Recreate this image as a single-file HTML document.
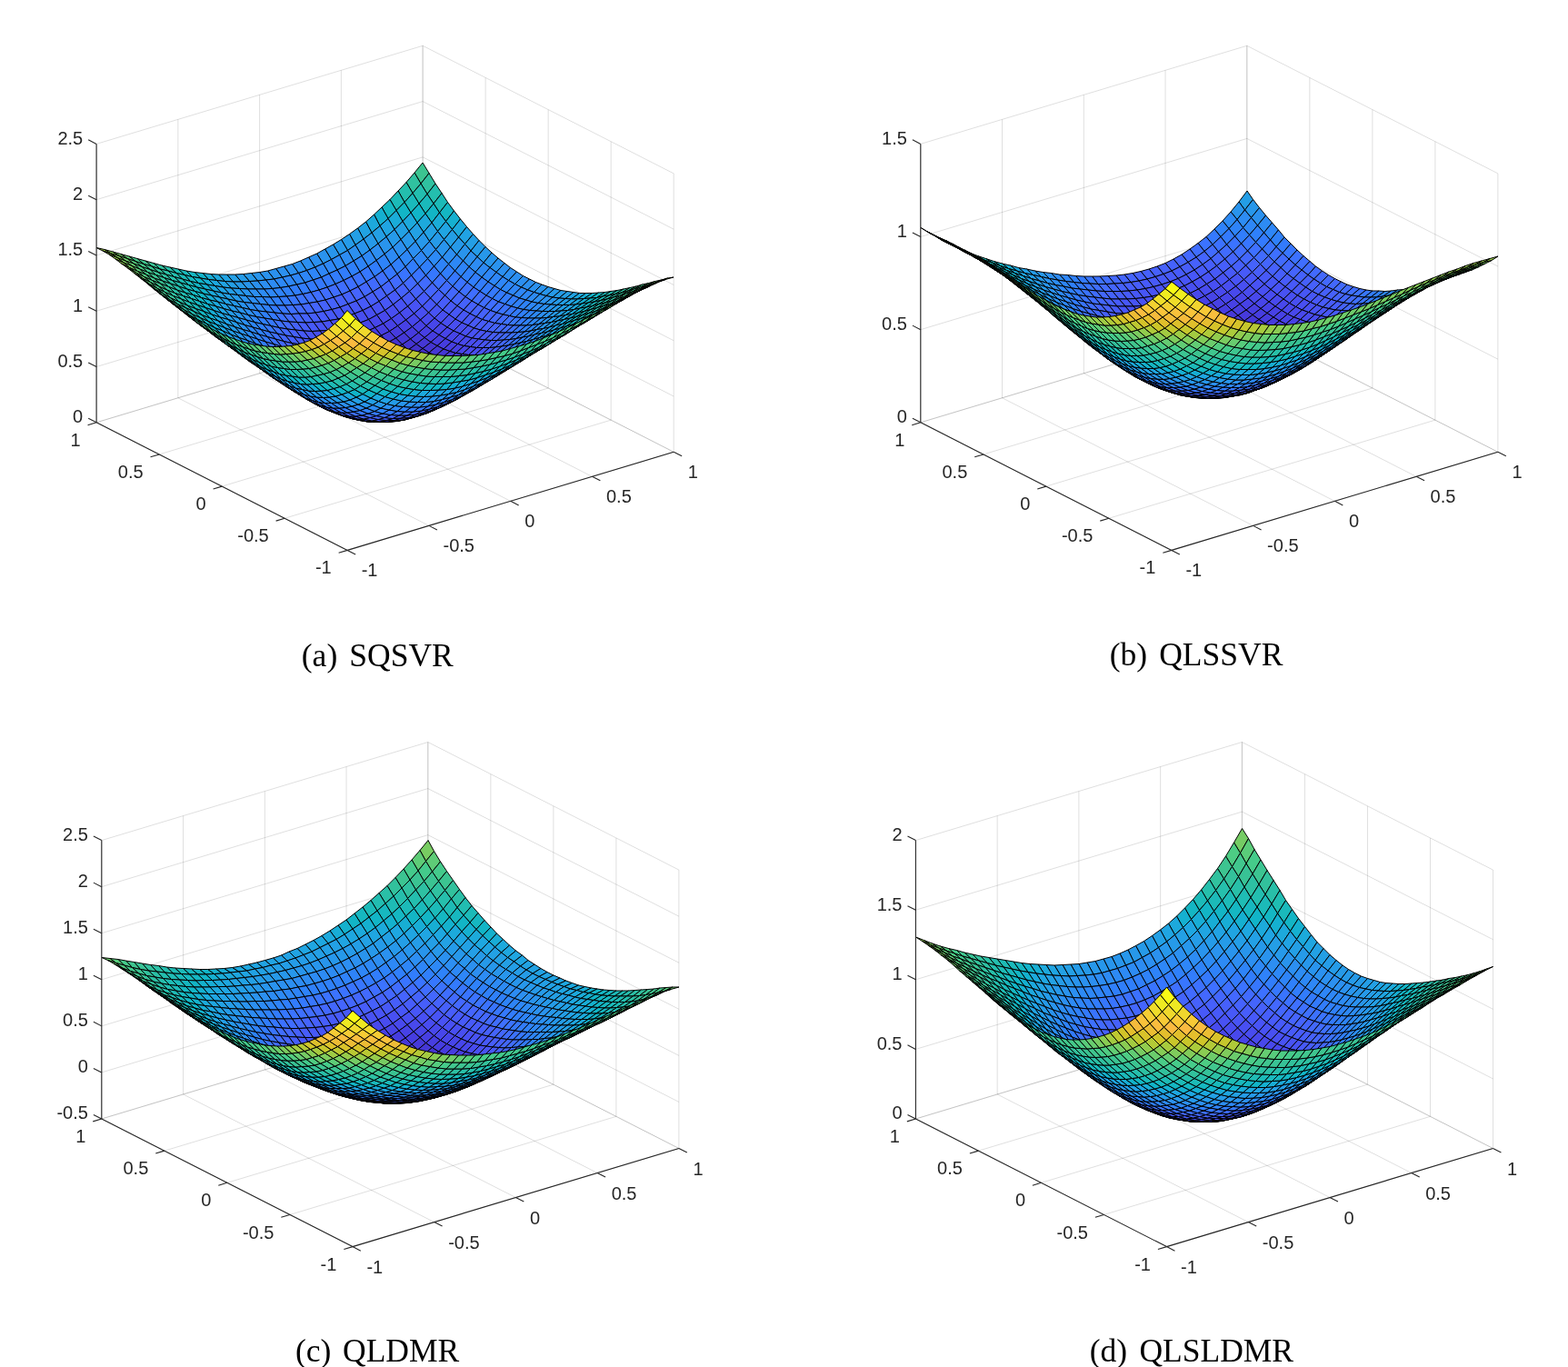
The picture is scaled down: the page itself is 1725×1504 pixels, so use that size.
<!DOCTYPE html>
<html><head><meta charset="utf-8"><title>Surface regression results</title>
<style>
html,body{margin:0;padding:0;background:#fff;width:1725px;height:1504px;overflow:hidden}
svg{display:block}
.c0{fill:#3e26a8}
.c1{fill:#3e27ac}
.c2{fill:#3f28af}
.c3{fill:#3f29b2}
.c4{fill:#402ab4}
.c5{fill:#402bb7}
.c6{fill:#412cba}
.c7{fill:#412dbd}
.c8{fill:#422ebf}
.c9{fill:#422fc2}
.c10{fill:#4330c5}
.c11{fill:#4331c8}
.c12{fill:#4332ca}
.c13{fill:#4433cd}
.c14{fill:#4434d0}
.c15{fill:#4535d2}
.c16{fill:#4537d5}
.c17{fill:#4538d7}
.c18{fill:#4639d9}
.c19{fill:#463adc}
.c20{fill:#463bde}
.c21{fill:#463de0}
.c22{fill:#473ee1}
.c23{fill:#473fe3}
.c24{fill:#4741e5}
.c25{fill:#4742e6}
.c26{fill:#4744e8}
.c27{fill:#4745e9}
.c28{fill:#4746eb}
.c29{fill:#4848ec}
.c30{fill:#4849ed}
.c31{fill:#484bee}
.c32{fill:#484cf0}
.c33{fill:#484ef1}
.c34{fill:#484ff2}
.c35{fill:#4850f3}
.c36{fill:#4852f4}
.c37{fill:#4853f5}
.c38{fill:#4854f6}
.c39{fill:#4756f7}
.c40{fill:#4757f7}
.c41{fill:#4759f8}
.c42{fill:#475af9}
.c43{fill:#475bfa}
.c44{fill:#475dfa}
.c45{fill:#465efb}
.c46{fill:#4660fb}
.c47{fill:#4661fc}
.c48{fill:#4562fc}
.c49{fill:#4564fd}
.c50{fill:#4465fd}
.c51{fill:#4367fd}
.c52{fill:#4368fe}
.c53{fill:#426afe}
.c54{fill:#416bfe}
.c55{fill:#406dfe}
.c56{fill:#3f6eff}
.c57{fill:#3e70ff}
.c58{fill:#3c71ff}
.c59{fill:#3b73ff}
.c60{fill:#3974ff}
.c61{fill:#3876fe}
.c62{fill:#3677fe}
.c63{fill:#3579fd}
.c64{fill:#337afd}
.c65{fill:#327cfc}
.c66{fill:#317dfc}
.c67{fill:#307ffb}
.c68{fill:#2f80fa}
.c69{fill:#2f82fa}
.c70{fill:#2e83f9}
.c71{fill:#2e84f8}
.c72{fill:#2e86f8}
.c73{fill:#2e87f7}
.c74{fill:#2d88f6}
.c75{fill:#2d8af5}
.c76{fill:#2d8bf4}
.c77{fill:#2d8cf3}
.c78{fill:#2d8ef2}
.c79{fill:#2c8ff1}
.c80{fill:#2c90f0}
.c81{fill:#2b91ef}
.c82{fill:#2a93ee}
.c83{fill:#2994ed}
.c84{fill:#2895ec}
.c85{fill:#2797eb}
.c86{fill:#2798ea}
.c87{fill:#2699e9}
.c88{fill:#269ae8}
.c89{fill:#259be8}
.c90{fill:#259ce7}
.c91{fill:#249ee6}
.c92{fill:#249fe5}
.c93{fill:#23a0e5}
.c94{fill:#23a1e4}
.c95{fill:#22a2e4}
.c96{fill:#21a3e3}
.c97{fill:#20a5e2}
.c98{fill:#1fa6e1}
.c99{fill:#1ea7e0}
.c100{fill:#1da8de}
.c101{fill:#1da9dc}
.c102{fill:#1caadb}
.c103{fill:#1aacd8}
.c104{fill:#18add5}
.c105{fill:#17aed3}
.c106{fill:#15b0d0}
.c107{fill:#14b1cd}
.c108{fill:#12b3ca}
.c109{fill:#11b4c8}
.c110{fill:#12b5c6}
.c111{fill:#13b5c5}
.c112{fill:#14b6c3}
.c113{fill:#15b7c2}
.c114{fill:#16b7c0}
.c115{fill:#17b8bf}
.c116{fill:#19b8bd}
.c117{fill:#1ab9bb}
.c118{fill:#1bbaba}
.c119{fill:#1cbab8}
.c120{fill:#1dbbb7}
.c121{fill:#1ebbb5}
.c122{fill:#1fbcb4}
.c123{fill:#20bdb2}
.c124{fill:#22bdb1}
.c125{fill:#23beaf}
.c126{fill:#24beae}
.c127{fill:#26bfac}
.c128{fill:#27bfaa}
.c129{fill:#28bfa8}
.c130{fill:#2abfa7}
.c131{fill:#2bc0a5}
.c132{fill:#2dc0a3}
.c133{fill:#2ec0a2}
.c134{fill:#30c1a0}
.c135{fill:#31c19e}
.c136{fill:#32c19c}
.c137{fill:#34c19b}
.c138{fill:#35c299}
.c139{fill:#37c297}
.c140{fill:#38c295}
.c141{fill:#3ac394}
.c142{fill:#3bc392}
.c143{fill:#3cc491}
.c144{fill:#3dc490}
.c145{fill:#3fc58f}
.c146{fill:#40c68e}
.c147{fill:#41c78e}
.c148{fill:#42c88d}
.c149{fill:#43c98c}
.c150{fill:#44ca8b}
.c151{fill:#45cb8a}
.c152{fill:#46cc8a}
.c153{fill:#4acc87}
.c154{fill:#4dcc84}
.c155{fill:#50cc82}
.c156{fill:#54cc7f}
.c157{fill:#57cc7c}
.c158{fill:#5acc7a}
.c159{fill:#5ecc77}
.c160{fill:#61cc74}
.c161{fill:#65cc72}
.c162{fill:#68cc6f}
.c163{fill:#6bcc6c}
.c164{fill:#6ecc6a}
.c165{fill:#72cc67}
.c166{fill:#75cc64}
.c167{fill:#78cc62}
.c168{fill:#7bcc5f}
.c169{fill:#7fcc5c}
.c170{fill:#82cc59}
.c171{fill:#86cc56}
.c172{fill:#8acc53}
.c173{fill:#8ecc50}
.c174{fill:#92cc4d}
.c175{fill:#96cb4a}
.c176{fill:#9acb47}
.c177{fill:#9fcb44}
.c178{fill:#a3cb41}
.c179{fill:#a7cb3e}
.c180{fill:#abcb3b}
.c181{fill:#afca39}
.c182{fill:#b3ca37}
.c183{fill:#b6c935}
.c184{fill:#bac933}
.c185{fill:#bec831}
.c186{fill:#c2c82e}
.c187{fill:#c6c72c}
.c188{fill:#c9c62a}
.c189{fill:#cdc628}
.c190{fill:#cfc529}
.c191{fill:#d2c429}
.c192{fill:#d4c32a}
.c193{fill:#d6c32a}
.c194{fill:#d9c22a}
.c195{fill:#dbc12b}
.c196{fill:#ddc02b}
.c197{fill:#e0bf2c}
.c198{fill:#e2bf2c}
.c199{fill:#e4be2d}
.c200{fill:#e6be2f}
.c201{fill:#e9bd31}
.c202{fill:#ebbd33}
.c203{fill:#edbc35}
.c204{fill:#efbc37}
.c205{fill:#f1bc38}
.c206{fill:#f4bb3a}
.c207{fill:#f6bb3c}
.c208{fill:#f8ba3e}
.c209{fill:#faba40}
.c210{fill:#fabc3f}
.c211{fill:#fabd3e}
.c212{fill:#f9be3d}
.c213{fill:#f9c03c}
.c214{fill:#f9c13b}
.c215{fill:#f9c23b}
.c216{fill:#f9c43a}
.c217{fill:#f9c539}
.c218{fill:#f8c638}
.c219{fill:#f8c837}
.c220{fill:#f8c936}
.c221{fill:#f7ca36}
.c222{fill:#f6cc35}
.c223{fill:#f5cd34}
.c224{fill:#f5ce33}
.c225{fill:#f4d032}
.c226{fill:#f3d131}
.c227{fill:#f3d230}
.c228{fill:#f2d42f}
.c229{fill:#f1d52e}
.c230{fill:#f0d62d}
.c231{fill:#f0d82c}
.c232{fill:#f0d92c}
.c233{fill:#f0db2b}
.c234{fill:#efdc2a}
.c235{fill:#efdd29}
.c236{fill:#efdf28}
.c237{fill:#efe027}
.c238{fill:#efe227}
.c239{fill:#eee326}
.c240{fill:#eee525}
.c241{fill:#eee624}
.c242{fill:#eee823}
.c243{fill:#efe922}
.c244{fill:#efeb21}
.c245{fill:#f0ec20}
.c246{fill:#f1ee1f}
.c247{fill:#f2ef1e}
.c248{fill:#f3f11c}
.c249{fill:#f4f21b}
.c250{fill:#f5f41a}
.c251{fill:#f6f519}
.c252{fill:#f6f618}
.c253{fill:#f7f817}
.c254{fill:#f8f916}
.c255{fill:#f9fb15}
</style></head><body>
<svg xmlns="http://www.w3.org/2000/svg" width="1725" height="1504" viewBox="0 0 1725 1504" shape-rendering="auto">
<rect width="1725" height="1504" fill="#fff"/>
<!-- subplot a -->
<g stroke="#262626" stroke-opacity="0.15" stroke-width="1">
<line x1="106.10" y1="464.80" x2="106.10" y2="158.40"/>
<line x1="195.85" y1="437.77" x2="195.85" y2="131.38"/>
<line x1="285.60" y1="410.75" x2="285.60" y2="104.35"/>
<line x1="375.35" y1="383.73" x2="375.35" y2="77.33"/>
<line x1="465.10" y1="356.70" x2="465.10" y2="50.30"/>
<line x1="106.10" y1="464.80" x2="465.10" y2="356.70"/>
<line x1="106.10" y1="403.52" x2="465.10" y2="295.42"/>
<line x1="106.10" y1="342.24" x2="465.10" y2="234.14"/>
<line x1="106.10" y1="280.96" x2="465.10" y2="172.86"/>
<line x1="106.10" y1="219.68" x2="465.10" y2="111.58"/>
<line x1="106.10" y1="158.40" x2="465.10" y2="50.30"/>
<line x1="741.20" y1="497.30" x2="741.20" y2="190.90"/>
<line x1="672.18" y1="462.15" x2="672.18" y2="155.75"/>
<line x1="603.15" y1="427.00" x2="603.15" y2="120.60"/>
<line x1="534.13" y1="391.85" x2="534.13" y2="85.45"/>
<line x1="465.10" y1="356.70" x2="465.10" y2="50.30"/>
<line x1="741.20" y1="497.30" x2="465.10" y2="356.70"/>
<line x1="741.20" y1="436.02" x2="465.10" y2="295.42"/>
<line x1="741.20" y1="374.74" x2="465.10" y2="234.14"/>
<line x1="741.20" y1="313.46" x2="465.10" y2="172.86"/>
<line x1="741.20" y1="252.18" x2="465.10" y2="111.58"/>
<line x1="741.20" y1="190.90" x2="465.10" y2="50.30"/>
<line x1="382.20" y1="605.40" x2="106.10" y2="464.80"/>
<line x1="471.95" y1="578.38" x2="195.85" y2="437.77"/>
<line x1="561.70" y1="551.35" x2="285.60" y2="410.75"/>
<line x1="651.45" y1="524.33" x2="375.35" y2="383.73"/>
<line x1="741.20" y1="497.30" x2="465.10" y2="356.70"/>
<line x1="382.20" y1="605.40" x2="741.20" y2="497.30"/>
<line x1="313.18" y1="570.25" x2="672.18" y2="462.15"/>
<line x1="244.15" y1="535.10" x2="603.15" y2="427.00"/>
<line x1="175.13" y1="499.95" x2="534.13" y2="391.85"/>
<line x1="106.10" y1="464.80" x2="465.10" y2="356.70"/>
</g>
<g transform="scale(0.5)" stroke="#000" stroke-width="2.00" stroke-linejoin="round">
<path class="c143" d="M926 404l18-23-14-23-18 22z"/>
<path class="c134" d="M908 425l18-21-14-24-18 21z"/>
<path class="c134" d="M940 427l18-23-14-23-18 23z"/>
<path class="c126" d="M890 445l18-20-14-24-18 19z"/>
<path class="c125" d="M922 448l18-21-14-23-18 21z"/>
<path class="c126" d="M954 448l18-23-14-21-18 23z"/>
<path class="c119" d="M872 463l18-18-14-25-18 19z"/>
<path class="c117" d="M904 468l18-20-14-23-18 20z"/>
<path class="c117" d="M936 470l18-22-14-21-18 21z"/>
<path class="c112" d="M854 481l18-18-14-24-18 17z"/>
<path class="c119" d="M967 468l18-23-13-20-18 23z"/>
<path class="c110" d="M886 487l18-19-14-23-18 18z"/>
<path class="c109" d="M918 490l18-20-14-22-18 20z"/>
<path class="c106" d="M836 497l18-16-14-25-17 16z"/>
<path class="c110" d="M950 490l17-22-13-20-18 22z"/>
<path class="c103" d="M868 505l18-18-14-24-18 18z"/>
<path class="c112" d="M981 487l18-23-14-19-18 23z"/>
<path class="c101" d="M900 509l18-19-14-22-18 19z"/>
<path class="c101" d="M932 511l18-21-14-20-18 20z"/>
<path class="c101" d="M818 512l18-15-13-25-18 16z"/>
<path class="c97" d="M850 521l18-16-14-24-18 16z"/>
<path class="c103" d="M963 509l18-22-14-19-17 22z"/>
<path class="c94" d="M882 527l18-18-14-22-18 18z"/>
<path class="c106" d="M995 505l18-23-14-18-18 23z"/>
<path class="c94" d="M914 531l18-20-14-21-18 19z"/>
<path class="c96" d="M800 526l18-14-13-24-18 14z"/>
<path class="c94" d="M945 531l18-22-13-19-18 21z"/>
<path class="c92" d="M832 536l18-15-14-24-18 15z"/>
<path class="c88" d="M864 544l18-17-14-22-18 16z"/>
<path class="c97" d="M977 527l18-22-14-18-18 22z"/>
<path class="c86" d="M896 549l18-18-14-22-18 18z"/>
<path class="c92" d="M782 539l18-13-13-24-18 13z"/>
<path class="c86" d="M927 551l18-20-13-20-18 20z"/>
<path class="c101" d="M1009 522l18-23-14-17-18 23z"/>
<path class="c87" d="M814 550l18-14-14-24-18 14z"/>
<path class="c83" d="M846 559l18-15-14-23-18 15z"/>
<path class="c88" d="M959 549l18-22-14-18-18 22z"/>
<path class="c80" d="M878 566l18-17-14-22-18 17z"/>
<path class="c92" d="M991 544l18-22-14-17-18 22z"/>
<path class="c79" d="M909 569l18-18-13-20-18 18z"/>
<path class="c89" d="M765 551l17-12-13-24-18 12z"/>
<path class="c83" d="M796 563l18-13-14-24-18 13z"/>
<path class="c80" d="M941 569l18-20-14-18-18 20z"/>
<path class="c78" d="M828 573l18-14-14-23-18 14z"/>
<path class="c96" d="M1023 537l18-22-14-16-18 23z"/>
<path class="c75" d="M860 582l18-16-14-22-18 15z"/>
<path class="c83" d="M973 566l18-22-14-17-18 22z"/>
<path class="c73" d="M892 587l17-18-13-20-18 17z"/>
<path class="c86" d="M747 561l18-10-14-24-18 11z"/>
<path class="c80" d="M778 574l18-11-14-24-17 12z"/>
<path class="c73" d="M923 588l18-19-14-18-18 18z"/>
<path class="c87" d="M1005 560l18-23-14-15-18 22z"/>
<path class="c74" d="M810 586l18-13-14-23-18 13z"/>
<path class="c70" d="M842 596l18-14-14-23-18 14z"/>
<path class="c75" d="M955 586l18-20-14-17-18 20z"/>
<path class="c92" d="M1036 552l18-23-13-14-18 22z"/>
<path class="c67" d="M874 603l18-16-14-21-18 16z"/>
<path class="c78" d="M987 581l18-21-14-16-18 22z"/>
<path class="c84" d="M729 571l18-10-14-23-18 10z"/>
<path class="c66" d="M905 606l18-18-14-19-17 18z"/>
<path class="c77" d="M760 585l18-11-13-23-18 10z"/>
<path class="c71" d="M792 598l18-12-14-23-18 11z"/>
<path class="c67" d="M937 606l18-20-14-17-18 19z"/>
<path class="c66" d="M824 609l18-13-14-23-18 13z"/>
<path class="c83" d="M1019 574l17-22-13-15-18 23z"/>
<path class="c62" d="M856 617l18-14-14-21-18 14z"/>
<path class="c70" d="M969 602l18-21-14-15-18 20z"/>
<path class="c60" d="M887 623l18-17-13-19-18 16z"/>
<path class="c89" d="M1050 565l18-22-14-14-18 23z"/>
<path class="c82" d="M711 580l18-9-14-23-18 10z"/>
<path class="c75" d="M742 594l18-9-13-24-18 10z"/>
<path class="c60" d="M919 624l18-18-14-18-18 18z"/>
<path class="c74" d="M1001 596l18-22-14-14-18 21z"/>
<path class="c68" d="M774 608l18-10-14-24-18 11z"/>
<path class="c62" d="M806 620l18-11-14-23-18 12z"/>
<path class="c57" d="M838 631l18-14-14-21-18 13z"/>
<path class="c62" d="M951 622l18-20-14-16-18 20z"/>
<path class="c80" d="M1032 587l18-22-14-13-17 22z"/>
<path class="c54" d="M869 638l18-15-13-20-18 14z"/>
<path class="c80" d="M693 588l18-8-14-22-18 8z"/>
<path class="c66" d="M983 617l18-21-14-15-18 21z"/>
<path class="c53" d="M901 641l18-17-14-18-18 17z"/>
<path class="c73" d="M724 602l18-8-13-23-18 9z"/>
<path class="c86" d="M1064 578l18-22-14-13-18 22z"/>
<path class="c66" d="M756 617l18-9-14-23-18 9z"/>
<path class="c59" d="M788 631l18-11-14-22-18 10z"/>
<path class="c54" d="M933 641l18-19-14-16-18 18z"/>
<path class="c71" d="M1014 609l18-22-13-13-18 22z"/>
<path class="c54" d="M820 642l18-11-14-22-18 11z"/>
<path class="c50" d="M851 651l18-13-13-21-18 14z"/>
<path class="c57" d="M965 637l18-20-14-15-18 20z"/>
<path class="c48" d="M883 656l18-15-14-18-18 15z"/>
<path class="c77" d="M1046 599l18-21-14-13-18 22z"/>
<path class="c79" d="M675 595l18-7-14-22-18 8z"/>
<path class="c72" d="M707 610l17-8-13-22-18 8z"/>
<path class="c65" d="M738 625l18-8-14-23-18 8z"/>
<path class="c48" d="M915 658l18-17-14-17-18 17z"/>
<path class="c62" d="M996 630l18-21-13-13-18 21z"/>
<path class="c57" d="M770 640l18-9-14-23-18 9z"/>
<path class="c51" d="M802 653l18-11-14-22-18 11z"/>
<path class="c84" d="M1078 589l18-21-14-12-18 22z"/>
<path class="c46" d="M834 663l17-12-13-20-18 11z"/>
<path class="c50" d="M947 656l18-19-14-15-18 19z"/>
<path class="c68" d="M1028 621l18-22-14-12-18 22z"/>
<path class="c43" d="M865 670l18-14-14-18-18 13z"/>
<path class="c79" d="M657 601l18-6-14-21-18 7z"/>
<path class="c54" d="M979 650l17-20-13-13-18 20z"/>
<path class="c72" d="M689 616l18-6-14-22-18 7z"/>
<path class="c42" d="M897 674l18-16-14-17-18 15z"/>
<path class="c64" d="M720 632l18-7-14-23-17 8z"/>
<path class="c75" d="M1060 610l18-21-14-11-18 21z"/>
<path class="c56" d="M752 648l18-8-14-23-18 8z"/>
<path class="c49" d="M784 662l18-9-14-22-18 9z"/>
<path class="c43" d="M929 674l18-18-14-15-18 17z"/>
<path class="c59" d="M1010 642l18-21-14-12-18 21z"/>
<path class="c44" d="M816 674l18-11-14-21-18 11z"/>
<path class="c82" d="M1092 599l18-20-14-11-18 21z"/>
<path class="c40" d="M847 683l18-13-14-19-17 12z"/>
<path class="c46" d="M961 670l18-20-14-13-18 19z"/>
<path class="c37" d="M879 688l18-14-14-18-18 14z"/>
<path class="c66" d="M1042 632l18-22-14-11-18 22z"/>
<path class="c79" d="M639 606l18-5-14-20-18 5z"/>
<path class="c72" d="M671 622l18-6-14-21-18 6z"/>
<path class="c63" d="M702 638l18-6-13-22-18 6z"/>
<path class="c55" d="M734 654l18-6-14-23-18 7z"/>
<path class="c51" d="M992 662l18-20-14-12-17 20z"/>
<path class="c37" d="M911 690l18-16-14-16-18 16z"/>
<path class="c48" d="M766 669l18-7-14-22-18 8z"/>
<path class="c42" d="M798 683l18-9-14-21-18 9z"/>
<path class="c73" d="M1074 620l18-21-14-10-18 21z"/>
<path class="c40" d="M943 688l18-18-14-14-18 18z"/>
<path class="c37" d="M829 693l18-10-13-20-18 11z"/>
<path class="c57" d="M1024 653l18-21-14-11-18 21z"/>
<path class="c33" d="M861 701l18-13-14-18-18 13z"/>
<path class="c80" d="M1106 609l17-20-13-10-18 20z"/>
<path class="c80" d="M621 610l18-4-14-20-18 5z"/>
<path class="c44" d="M974 682l18-20-13-12-18 20z"/>
<path class="c72" d="M653 626l18-4-14-21-18 5z"/>
<path class="c32" d="M893 704l18-14-14-16-18 14z"/>
<path class="c64" d="M684 643l18-5-13-22-18 6z"/>
<path class="c65" d="M1056 641l18-21-14-10-18 22z"/>
<path class="c55" d="M716 660l18-6-14-22-18 6z"/>
<path class="c47" d="M748 676l18-7-14-21-18 6z"/>
<path class="c40" d="M780 690l18-7-14-21-18 7z"/>
<path class="c33" d="M925 704l18-16-14-14-18 16z"/>
<path class="c49" d="M1006 673l18-20-14-11-18 20z"/>
<path class="c34" d="M811 703l18-10-13-19-18 9z"/>
<path class="c72" d="M1088 629l18-20-14-10-18 21z"/>
<path class="c30" d="M843 712l18-11-14-18-18 10z"/>
<path class="c37" d="M956 700l18-18-13-12-18 18z"/>
<path class="c56" d="M1038 662l18-21-14-9-18 21z"/>
<path class="c28" d="M875 717l18-13-14-16-18 13z"/>
<path class="c81" d="M603 614l18-4-14-19-18 5z"/>
<path class="c73" d="M635 630l18-4-14-20-18 4z"/>
<path class="c65" d="M666 647l18-4-13-21-18 4z"/>
<path class="c79" d="M1119 617l18-19-14-9-17 20z"/>
<path class="c56" d="M698 664l18-4-14-22-18 5z"/>
<path class="c42" d="M988 692l18-19-14-11-18 20z"/>
<path class="c28" d="M907 719l18-15-14-14-18 14z"/>
<path class="c48" d="M730 681l18-5-14-22-18 6z"/>
<path class="c40" d="M762 697l18-7-14-21-18 7z"/>
<path class="c64" d="M1070 650l18-21-14-9-18 21z"/>
<path class="c33" d="M793 710l18-7-13-20-18 7z"/>
<path class="c30" d="M938 717l18-17-13-12-18 16z"/>
<path class="c28" d="M825 721l18-9-14-19-18 10z"/>
<path class="c48" d="M1020 682l18-20-14-9-18 20z"/>
<path class="c25" d="M857 729l18-12-14-16-18 11z"/>
<path class="c72" d="M1101 637l18-20-13-8-18 20z"/>
<path class="c82" d="M585 616l18-2-14-18-18 3z"/>
<path class="c34" d="M970 711l18-19-14-10-18 18z"/>
<path class="c74" d="M617 633l18-3-14-20-18 4z"/>
<path class="c24" d="M889 732l18-13-14-15-18 13z"/>
<path class="c66" d="M649 650l17-3-13-21-18 4z"/>
<path class="c55" d="M1052 670l18-20-14-9-18 21z"/>
<path class="c57" d="M680 667l18-3-14-21-18 4z"/>
<path class="c48" d="M712 685l18-4-14-21-18 4z"/>
<path class="c40" d="M744 702l18-5-14-21-18 5z"/>
<path class="c25" d="M921 732l17-15-13-13-18 15z"/>
<path class="c33" d="M776 717l17-7-13-20-18 7z"/>
<path class="c79" d="M1133 625l18-18-14-9-18 19z"/>
<path class="c40" d="M1002 702l18-20-14-9-18 19z"/>
<path class="c27" d="M807 729l18-8-14-18-18 7z"/>
<path class="c63" d="M1083 657l18-20-13-8-18 21z"/>
<path class="c23" d="M839 738l18-9-14-17-18 9z"/>
<path class="c28" d="M952 728l18-17-14-11-18 17z"/>
<path class="c47" d="M1034 690l18-20-14-8-18 20z"/>
<path class="c20" d="M871 744l18-12-14-15-18 12z"/>
<path class="c84" d="M567 618l18-2-14-17-18 2z"/>
<path class="c76" d="M599 635l18-2-14-19-18 2z"/>
<path class="c68" d="M631 652l18-2-14-20-18 3z"/>
<path class="c72" d="M1115 644l18-19-14-8-18 20z"/>
<path class="c59" d="M662 670l18-3-14-20-17 3z"/>
<path class="c33" d="M984 720l18-18-14-10-18 19z"/>
<path class="c20" d="M903 746l18-14-14-13-18 13z"/>
<path class="c50" d="M694 688l18-3-14-21-18 3z"/>
<path class="c41" d="M726 705l18-3-14-21-18 4z"/>
<path class="c33" d="M758 721l18-4-14-20-18 5z"/>
<path class="c55" d="M1065 677l18-20-13-7-18 20z"/>
<path class="c26" d="M789 735l18-6-14-19-17 7z"/>
<path class="c23" d="M934 743l18-15-14-11-17 15z"/>
<path class="c21" d="M821 747l18-9-14-17-18 8z"/>
<path class="c79" d="M1147 632l18-18-14-7-18 18z"/>
<path class="c40" d="M1016 710l18-20-14-8-18 20z"/>
<path class="c18" d="M853 754l18-10-14-15-18 9z"/>
<path class="c64" d="M1097 664l18-20-14-7-18 20z"/>
<path class="c27" d="M966 737l18-17-14-9-18 17z"/>
<path class="c87" d="M549 619l18-1-14-17-18 2z"/>
<path class="c79" d="M581 636l18-1-14-19-18 2z"/>
<path class="c17" d="M885 758l18-12-14-14-18 12z"/>
<path class="c70" d="M613 653l18-1-14-19-18 2z"/>
<path class="c48" d="M1048 697l17-20-13-7-18 20z"/>
<path class="c61" d="M644 671l18-1-13-20-18 2z"/>
<path class="c52" d="M676 690l18-2-14-21-18 3z"/>
<path class="c43" d="M708 708l18-3-14-20-18 3z"/>
<path class="c34" d="M740 725l18-4-14-19-18 3z"/>
<path class="c18" d="M916 757l18-14-13-11-18 14z"/>
<path class="c33" d="M998 728l18-18-14-8-18 18z"/>
<path class="c72" d="M1129 650l18-18-14-7-18 19z"/>
<path class="c27" d="M771 740l18-5-13-18-18 4z"/>
<path class="c20" d="M803 753l18-6-14-18-18 6z"/>
<path class="c56" d="M1079 683l18-19-14-7-18 20z"/>
<path class="c16" d="M835 762l18-8-14-16-18 9z"/>
<path class="c21" d="M948 753l18-16-14-9-18 15z"/>
<path class="c40" d="M1030 716l18-19-14-7-18 20z"/>
<path class="c80" d="M1161 638l18-17-14-7-18 18z"/>
<path class="c14" d="M867 768l18-10-14-14-18 10z"/>
<path class="c89" d="M531 620l18-1-14-16-18 1z"/>
<path class="c81" d="M563 636l18 0-14-18-18 1z"/>
<path class="c73" d="M595 654l18-1-14-18-18 1z"/>
<path class="c65" d="M1111 669l18-19-14-6-18 20z"/>
<path class="c26" d="M980 745l18-17-14-8-18 17z"/>
<path class="c64" d="M626 672l18-1-13-19-18 1z"/>
<path class="c14" d="M898 770l18-13-13-11-18 12z"/>
<path class="c54" d="M658 690l18 0-14-20-18 1z"/>
<path class="c45" d="M690 709l18-1-14-20-18 2z"/>
<path class="c36" d="M722 727l18-2-14-20-18 3z"/>
<path class="c28" d="M753 744l18-4-13-19-18 4z"/>
<path class="c48" d="M1061 703l18-20-14-6-17 20z"/>
<path class="c21" d="M785 758l18-5-14-18-18 5z"/>
<path class="c16" d="M930 767l18-14-14-10-18 14z"/>
<path class="c15" d="M817 769l18-7-14-15-18 6z"/>
<path class="c33" d="M1012 734l18-18-14-6-18 18z"/>
<path class="c73" d="M1143 656l18-18-14-6-18 18z"/>
<path class="c12" d="M849 777l18-9-14-14-18 8z"/>
<path class="c57" d="M1093 688l18-19-14-5-18 19z"/>
<path class="c20" d="M962 761l18-16-14-8-18 16z"/>
<path class="c92" d="M513 620l18 0-14-16-18 0z"/>
<path class="c11" d="M880 781l18-11-13-12-18 10z"/>
<path class="c84" d="M545 636l18 0-14-17-18 1z"/>
<path class="c41" d="M1043 722l18-19-13-6-18 19z"/>
<path class="c81" d="M1175 643l17-17-13-5-18 17z"/>
<path class="c76" d="M577 653l18 1-14-18-18 0z"/>
<path class="c67" d="M608 672l18 0-13-19-18 1z"/>
<path class="c57" d="M640 691l18-1-14-19-18 1z"/>
<path class="c48" d="M672 710l18-1-14-19-18 0z"/>
<path class="c38" d="M704 728l18-1-14-19-18 1z"/>
<path class="c29" d="M735 746l18-2-13-19-18 2z"/>
<path class="c12" d="M912 780l18-13-14-10-18 13z"/>
<path class="c27" d="M994 752l18-18-14-6-18 17z"/>
<path class="c66" d="M1125 674l18-18-14-6-18 19z"/>
<path class="c22" d="M767 762l18-4-14-18-18 4z"/>
<path class="c16" d="M799 775l18-6-14-16-18 5z"/>
<path class="c50" d="M1075 707l18-19-14-5-18 20z"/>
<path class="c11" d="M831 784l18-7-14-15-18 7z"/>
<path class="c15" d="M944 776l18-15-14-8-18 14z"/>
<path class="c34" d="M1025 740l18-18-13-6-18 18z"/>
<path class="c74" d="M1157 660l18-17-14-5-18 18z"/>
<path class="c9" d="M863 790l17-9-13-13-18 9z"/>
<path class="c96" d="M495 619l18 1-14-16-18 0z"/>
<path class="c88" d="M527 635l18 1-14-16-18 0z"/>
<path class="c59" d="M1107 692l18-18-14-5-18 19z"/>
<path class="c79" d="M559 653l18 0-14-17-18 0z"/>
<path class="c21" d="M976 768l18-16-14-7-18 16z"/>
<path class="c70" d="M591 671l17 1-13-18-18-1z"/>
<path class="c9" d="M894 791l18-11-14-10-18 11z"/>
<path class="c61" d="M622 690l18 1-14-19-18 0z"/>
<path class="c51" d="M654 709l18 1-14-20-18 1z"/>
<path class="c41" d="M686 729l18-1-14-19-18 1z"/>
<path class="c32" d="M718 747l17-1-13-19-18 1z"/>
<path class="c43" d="M1057 726l18-19-14-4-18 19z"/>
<path class="c82" d="M1188 647l18-16-14-5-17 17z"/>
<path class="c23" d="M749 764l18-2-14-18-18 2z"/>
<path class="c16" d="M781 778l18-3-14-17-18 4z"/>
<path class="c11" d="M926 789l18-13-14-9-18 13z"/>
<path class="c28" d="M1007 757l18-17-13-6-18 18z"/>
<path class="c11" d="M813 790l18-6-14-15-18 6z"/>
<path class="c68" d="M1139 678l18-18-14-4-18 18z"/>
<path class="c8" d="M845 797l18-7-14-13-18 7z"/>
<path class="c52" d="M1089 711l18-19-14-4-18 19z"/>
<path class="c16" d="M958 783l18-15-14-7-18 15z"/>
<path class="c100" d="M477 617l18 2-14-15-17-1z"/>
<path class="c7" d="M876 801l18-10-14-10-17 9z"/>
<path class="c36" d="M1039 744l18-18-14-4-18 18z"/>
<path class="c92" d="M509 634l18 1-14-15-18-1z"/>
<path class="c76" d="M1170 664l18-17-13-4-18 17z"/>
<path class="c83" d="M541 651l18 2-14-17-18-1z"/>
<path class="c74" d="M573 669l18 2-14-18-18 0z"/>
<path class="c64" d="M604 688l18 2-14-18-17-1z"/>
<path class="c54" d="M636 708l18 1-14-18-18-1z"/>
<path class="c44" d="M668 728l18 1-14-19-18-1z"/>
<path class="c35" d="M700 747l18 0-14-19-18 1z"/>
<path class="c26" d="M731 765l18-1-14-18-17 1z"/>
<path class="c22" d="M990 773l17-16-13-5-18 16z"/>
<path class="c8" d="M908 801l18-12-14-9-18 11z"/>
<path class="c61" d="M1121 695l18-17-14-4-18 18z"/>
<path class="c18" d="M763 781l18-3-14-16-18 2z"/>
<path class="c12" d="M795 794l18-4-14-15-18 3z"/>
<path class="c84" d="M1202 651l18-16-14-4-18 16z"/>
<path class="c45" d="M1071 729l18-18-14-4-18 19z"/>
<path class="c7" d="M827 803l18-6-14-13-18 6z"/>
<path class="c11" d="M940 796l18-13-14-7-18 13z"/>
<path class="c29" d="M1021 761l18-17-14-4-18 17z"/>
<path class="c70" d="M1152 681l18-17-13-4-18 18z"/>
<path class="c5" d="M858 809l18-8-13-11-18 7z"/>
<path class="c104" d="M459 615l18 2-13-14-18-2z"/>
<path class="c54" d="M1103 713l18-18-14-3-18 19z"/>
<path class="c96" d="M491 632l18 2-14-15-18-2z"/>
<path class="c16" d="M972 788l18-15-14-5-18 15z"/>
<path class="c87" d="M523 649l18 2-14-16-18-1z"/>
<path class="c5" d="M890 811l18-10-14-10-18 10z"/>
<path class="c78" d="M555 667l18 2-14-16-18-2z"/>
<path class="c68" d="M586 686l18 2-13-17-18-2z"/>
<path class="c58" d="M618 706l18 2-14-18-18-2z"/>
<path class="c48" d="M650 726l18 2-14-19-18-1z"/>
<path class="c38" d="M682 746l18 1-14-18-18-1z"/>
<path class="c38" d="M1053 746l18-17-14-3-18 18z"/>
<path class="c29" d="M713 765l18 0-13-18-18 0z"/>
<path class="c79" d="M1184 667l18-16-14-4-18 17z"/>
<path class="c20" d="M745 782l18-1-14-17-18 1z"/>
<path class="c13" d="M777 796l18-2-14-16-18 3z"/>
<path class="c7" d="M922 808l18-12-14-7-18 12z"/>
<path class="c23" d="M1003 777l18-16-14-4-17 16z"/>
<path class="c64" d="M1134 698l18-17-13-3-18 17z"/>
<path class="c8" d="M809 808l18-5-14-13-18 4z"/>
<path class="c5" d="M840 816l18-7-13-12-18 6z"/>
<path class="c87" d="M1216 654l18-15-14-4-18 16z"/>
<path class="c48" d="M1085 731l18-18-14-2-18 18z"/>
<path class="c12" d="M954 802l18-14-14-5-18 13z"/>
<path class="c3" d="M872 819l18-8-14-10-18 8z"/>
<path class="c108" d="M441 612l18 3-13-14-18-2z"/>
<path class="c32" d="M1035 763l18-17-14-2-18 17z"/>
<path class="c73" d="M1166 683l18-16-14-3-18 17z"/>
<path class="c100" d="M473 629l18 3-14-15-18-2z"/>
<path class="c91" d="M505 647l18 2-14-15-18-2z"/>
<path class="c82" d="M537 665l18 2-14-16-18-2z"/>
<path class="c73" d="M568 684l18 2-13-17-18-2z"/>
<path class="c63" d="M600 703l18 3-14-18-18-2z"/>
<path class="c53" d="M632 724l18 2-14-18-18-2z"/>
<path class="c42" d="M664 744l18 2-14-18-18-2z"/>
<path class="c33" d="M695 763l18 2-13-18-18-1z"/>
<path class="c18" d="M985 792l18-15-13-4-18 15z"/>
<path class="c57" d="M1117 715l17-17-13-3-18 18z"/>
<path class="c5" d="M904 819l18-11-14-7-18 10z"/>
<path class="c23" d="M727 782l18 0-14-17-18 0z"/>
<path class="c16" d="M759 798l18-2-14-15-18 1z"/>
<path class="c9" d="M791 811l18-3-14-14-18 2z"/>
<path class="c41" d="M1067 748l18-17-14-2-18 17z"/>
<path class="c81" d="M1198 669l18-15-14-3-18 16z"/>
<path class="c8" d="M936 814l18-12-14-6-18 12z"/>
<path class="c5" d="M822 821l18-5-13-13-18 5z"/>
<path class="c26" d="M1017 779l18-16-14-2-18 16z"/>
<path class="c67" d="M1148 699l18-16-14-2-18 17z"/>
<path class="c3" d="M854 826l18-7-14-10-18 7z"/>
<path class="c89" d="M1230 656l18-15-14-2-18 15z"/>
<path class="c113" d="M423 609l18 3-13-13-18-3z"/>
<path class="c51" d="M1099 732l18-17-14-2-18 18z"/>
<path class="c13" d="M967 806l18-14-13-4-18 14z"/>
<path class="c105" d="M455 626l18 3-14-14-18-3z"/>
<path class="c96" d="M487 644l18 3-14-15-18-3z"/>
<path class="c3" d="M886 828l18-9-14-8-18 8z"/>
<path class="c87" d="M519 662l18 3-14-16-18-2z"/>
<path class="c77" d="M550 681l18 3-13-17-18-2z"/>
<path class="c68" d="M582 700l18 3-14-17-18-2z"/>
<path class="c57" d="M614 721l18 3-14-18-18-3z"/>
<path class="c35" d="M1049 765l18-17-14-2-18 17z"/>
<path class="c47" d="M646 741l18 3-14-18-18-2z"/>
<path class="c37" d="M677 761l18 2-13-17-18-2z"/>
<path class="c76" d="M1180 684l18-15-14-2-18 16z"/>
<path class="c27" d="M709 780l18 2-14-17-18-2z"/>
<path class="c18" d="M741 798l18 0-14-16-18 0z"/>
<path class="c11" d="M773 813l18-2-14-15-18 2z"/>
<path class="c5" d="M918 825l18-11-14-6-18 11z"/>
<path class="c20" d="M999 795l18-16-14-2-18 15z"/>
<path class="c61" d="M1130 716l18-17-14-1-17 17z"/>
<path class="c6" d="M805 824l17-3-13-13-18 3z"/>
<path class="c44" d="M1081 749l18-17-14-1-18 17z"/>
<path class="c2" d="M836 832l18-6-14-10-18 5z"/>
<path class="c84" d="M1212 670l18-14-14-2-18 15z"/>
<path class="c9" d="M949 819l18-13-13-4-18 12z"/>
<path class="c29" d="M1031 781l18-16-14-2-18 16z"/>
<path class="c1" d="M868 836l18-8-14-9-18 7z"/>
<path class="c118" d="M406 605l17 4-13-13-18-4z"/>
<path class="c70" d="M1162 700l18-16-14-1-18 16z"/>
<path class="c110" d="M437 623l18 3-14-14-18-3z"/>
<path class="c101" d="M469 640l18 4-14-15-18-3z"/>
<path class="c92" d="M501 658l18 4-14-15-18-3z"/>
<path class="c82" d="M533 677l17 4-13-16-18-3z"/>
<path class="c92" d="M1244 657l18-14-14-2-18 15z"/>
<path class="c72" d="M564 697l18 3-14-16-18-3z"/>
<path class="c62" d="M596 717l18 4-14-18-18-3z"/>
<path class="c52" d="M628 738l18 3-14-17-18-3z"/>
<path class="c54" d="M1112 732l18-16-13-1-18 17z"/>
<path class="c16" d="M981 809l18-14-14-3-18 14z"/>
<path class="c41" d="M660 758l17 3-13-17-18-3z"/>
<path class="c31" d="M691 778l18 2-14-17-18-2z"/>
<path class="c2" d="M900 835l18-10-14-6-18 9z"/>
<path class="c22" d="M723 797l18 1-14-16-18-2z"/>
<path class="c14" d="M755 813l18 0-14-15-18 0z"/>
<path class="c38" d="M1063 765l18-16-14-1-18 17z"/>
<path class="c8" d="M787 826l18-2-14-13-18 2z"/>
<path class="c79" d="M1194 685l18-15-14-1-18 15z"/>
<path class="c6" d="M932 831l17-12-13-5-18 11z"/>
<path class="c3" d="M818 836l18-4-14-11-17 3z"/>
<path class="c23" d="M1013 796l18-15-14-2-18 16z"/>
<path class="c64" d="M1144 716l18-16-14-1-18 17z"/>
<path class="c1" d="M850 842l18-6-14-10-18 6z"/>
<path class="c48" d="M1094 749l18-17-13 0-18 17z"/>
<path class="c88" d="M1226 671l18-14-14-1-18 14z"/>
<path class="c11" d="M963 822l18-13-14-3-18 13z"/>
<path class="c123" d="M388 601l18 4-14-13-18-4z"/>
<path class="c115" d="M419 619l18 4-14-14-17-4z"/>
<path class="c1" d="M882 843l18-8-14-7-18 8z"/>
<path class="c106" d="M451 636l18 4-14-14-18-3z"/>
<path class="c97" d="M483 654l18 4-14-14-18-4z"/>
<path class="c33" d="M1045 781l18-16-14 0-18 16z"/>
<path class="c87" d="M515 673l18 4-14-15-18-4z"/>
<path class="c78" d="M546 693l18 4-14-16-17-4z"/>
<path class="c67" d="M578 713l18 4-14-17-18-3z"/>
<path class="c57" d="M610 734l18 4-14-17-18-4z"/>
<path class="c46" d="M642 755l18 3-14-17-18-3z"/>
<path class="c74" d="M1176 700l18-15-14-1-18 16z"/>
<path class="c36" d="M673 775l18 3-14-17-17-3z"/>
<path class="c26" d="M705 795l18 2-14-17-18-2z"/>
<path class="c17" d="M737 812l18 1-14-15-18-1z"/>
<path class="c10" d="M769 827l18-1-14-13-18 0z"/>
<path class="c3" d="M914 841l18-10-14-6-18 10z"/>
<path class="c96" d="M1257 658l18-13-13-2-18 14z"/>
<path class="c18" d="M995 811l18-15-14-1-18 14z"/>
<path class="c58" d="M1126 732l18-16-14 0-18 16z"/>
<path class="c5" d="M800 839l18-3-13-12-18 2z"/>
<path class="c42" d="M1077 765l17-16-13 0-18 16z"/>
<path class="c1" d="M832 847l18-5-14-10-18 4z"/>
<path class="c83" d="M1208 685l18-14-14-1-18 15z"/>
<path class="c8" d="M945 834l18-12-14-3-17 12z"/>
<path class="c27" d="M1027 797l18-16-14 0-18 15z"/>
<path class="c0" d="M864 850l18-7-14-7-18 6z"/>
<path class="c68" d="M1158 716l18-16-14 0-18 16z"/>
<path class="c129" d="M370 596l18 5-14-13-18-4z"/>
<path class="c120" d="M401 614l18 5-13-14-18-4z"/>
<path class="c111" d="M433 632l18 4-14-13-18-4z"/>
<path class="c102" d="M465 650l18 4-14-14-18-4z"/>
<path class="c92" d="M1239 671l18-13-13-1-18 14z"/>
<path class="c93" d="M497 669l18 4-14-15-18-4z"/>
<path class="c53" d="M1108 748l18-16-14 0-18 17z"/>
<path class="c14" d="M977 824l18-13-14-2-18 13z"/>
<path class="c83" d="M528 688l18 5-13-16-18-4z"/>
<path class="c73" d="M560 709l18 4-14-16-18-4z"/>
<path class="c62" d="M592 730l18 4-14-17-18-4z"/>
<path class="c51" d="M624 751l18 4-14-17-18-4z"/>
<path class="c1" d="M896 850l18-9-14-6-18 8z"/>
<path class="c41" d="M655 772l18 3-13-17-18-3z"/>
<path class="c31" d="M687 792l18 3-14-17-18-3z"/>
<path class="c21" d="M719 810l18 2-14-15-18-2z"/>
<path class="c13" d="M751 827l18 0-14-14-18-1z"/>
<path class="c37" d="M1059 781l18-16-14 0-18 16z"/>
<path class="c7" d="M782 840l18-1-13-13-18 1z"/>
<path class="c78" d="M1190 700l18-15-14 0-18 15z"/>
<path class="c5" d="M927 845l18-11-13-3-18 10z"/>
<path class="c2" d="M814 850l18-3-14-11-18 3z"/>
<path class="c100" d="M1271 658l18-13-14 0-18 13z"/>
<path class="c22" d="M1009 811l18-14-14-1-18 15z"/>
<path class="c63" d="M1140 731l18-15-14 0-18 16z"/>
<path class="c0" d="M846 856l18-6-14-8-18 5z"/>
<path class="c47" d="M1090 764l18-16-14 1-17 16z"/>
<path class="c87" d="M1221 685l18-14-13 0-18 14z"/>
<path class="c10" d="M959 837l18-13-14-2-18 12z"/>
<path class="c135" d="M352 592l18 4-14-12-18-5z"/>
<path class="c126" d="M383 609l18 5-13-13-18-5z"/>
<path class="c0" d="M878 857l18-7-14-7-18 7z"/>
<path class="c117" d="M415 627l18 5-14-13-18-5z"/>
<path class="c31" d="M1041 796l18-15-14 0-18 16z"/>
<path class="c108" d="M447 646l18 4-14-14-18-4z"/>
<path class="c98" d="M479 664l18 5-14-15-18-4z"/>
<path class="c73" d="M1172 715l18-15-14 0-18 16z"/>
<path class="c88" d="M510 684l18 4-13-15-18-4z"/>
<path class="c78" d="M542 704l18 5-14-16-18-5z"/>
<path class="c46" d="M637 767l18 5-13-17-18-4z"/>
<path class="c57" d="M606 746l18 5-14-17-18-4z"/>
<path class="c68" d="M574 725l18 5-14-17-18-4z"/>
<path class="c36" d="M669 788l18 4-14-17-18-3z"/>
<path class="c26" d="M701 808l18 2-14-15-18-3z"/>
<path class="c17" d="M733 825l18 2-14-15-18-2z"/>
<path class="c10" d="M764 840l18 0-13-13-18 0z"/>
<path class="c2" d="M909 855l18-10-13-4-18 9z"/>
<path class="c96" d="M1253 671l18-13-14 0-18 13z"/>
<path class="c17" d="M991 825l18-14-14 0-18 13z"/>
<path class="c57" d="M1122 747l18-16-14 1-18 16z"/>
<path class="c4" d="M796 852l18-2-14-11-18 1z"/>
<path class="c41" d="M1072 780l18-16-13 1-18 16z"/>
<path class="c1" d="M828 860l18-4-14-9-18 3z"/>
<path class="c82" d="M1204 699l17-14-13 0-18 15z"/>
<path class="c7" d="M941 848l18-11-14-3-18 11z"/>
<path class="c104" d="M1285 657l18-12-14 0-18 13z"/>
<path class="c26" d="M1023 811l18-15-14 1-18 14z"/>
<path class="c0" d="M860 864l18-7-14-7-18 6z"/>
<path class="c68" d="M1154 730l18-15-14 1-18 15z"/>
<path class="c140" d="M334 586l18 6-14-13-18-5z"/>
<path class="c132" d="M365 604l18 5-13-13-18-4z"/>
<path class="c122" d="M397 622l18 5-14-13-18-5z"/>
<path class="c113" d="M429 641l18 5-14-14-18-5z"/>
<path class="c52" d="M1104 762l18-15-14 1-18 16z"/>
<path class="c91" d="M1235 684l18-13-14 0-18 14z"/>
<path class="c13" d="M973 838l18-13-14-1-18 13z"/>
<path class="c104" d="M461 660l18 4-14-14-18-4z"/>
<path class="c1" d="M891 863l18-8-13-5-18 7z"/>
<path class="c94" d="M492 679l18 5-13-15-18-5z"/>
<path class="c84" d="M524 699l18 5-14-16-18-4z"/>
<path class="c41" d="M651 784l18 4-14-16-18-5z"/>
<path class="c52" d="M620 763l17 4-13-16-18-5z"/>
<path class="c63" d="M588 741l18 5-14-16-18-5z"/>
<path class="c73" d="M556 720l18 5-14-16-18-5z"/>
<path class="c31" d="M683 804l18 4-14-16-18-4z"/>
<path class="c21" d="M715 823l18 2-14-15-18-2z"/>
<path class="c13" d="M747 840l17 0-13-13-18-2z"/>
<path class="c36" d="M1054 795l18-15-13 1-18 15z"/>
<path class="c7" d="M778 853l18-1-14-12-18 0z"/>
<path class="c77" d="M1186 713l18-14-14 1-18 15z"/>
<path class="c4" d="M923 859l18-11-14-3-18 10z"/>
<path class="c2" d="M810 863l18-3-14-10-18 2z"/>
<path class="c21" d="M1005 825l18-14-14 0-18 14z"/>
<path class="c100" d="M1267 670l18-13-14 1-18 13z"/>
<path class="c62" d="M1136 745l18-15-14 1-18 16z"/>
<path class="c0" d="M842 869l18-5-14-8-18 4z"/>
<path class="c46" d="M1086 778l18-16-14 2-18 16z"/>
<path class="c87" d="M1217 697l18-13-14 1-17 14z"/>
<path class="c10" d="M955 850l18-12-14-1-18 11z"/>
<path class="c146" d="M316 581l18 5-14-12-18-5z"/>
<path class="c0" d="M874 870l17-7-13-6-18 7z"/>
<path class="c138" d="M348 599l17 5-13-12-18-6z"/>
<path class="c108" d="M1299 656l18-12-14 1-18 12z"/>
<path class="c31" d="M1036 810l18-15-13 1-18 15z"/>
<path class="c128" d="M379 617l18 5-14-13-18-5z"/>
<path class="c119" d="M411 636l18 5-14-14-18-5z"/>
<path class="c72" d="M1168 728l18-15-14 2-18 15z"/>
<path class="c110" d="M443 655l18 5-14-14-18-5z"/>
<path class="c100" d="M475 674l17 5-13-15-18-4z"/>
<path class="c47" d="M633 779l18 5-14-17-17-4z"/>
<path class="c36" d="M665 800l18 4-14-16-18-4z"/>
<path class="c90" d="M506 694l18 5-14-15-18-5z"/>
<path class="c58" d="M602 757l18 6-14-17-18-5z"/>
<path class="c68" d="M570 736l18 5-14-16-18-5z"/>
<path class="c79" d="M538 715l18 5-14-16-18-5z"/>
<path class="c26" d="M697 820l18 3-14-15-18-4z"/>
<path class="c17" d="M729 838l18 2-14-15-18-2z"/>
<path class="c2" d="M905 868l18-9-14-4-18 8z"/>
<path class="c10" d="M760 853l18 0-14-13-17 0z"/>
<path class="c17" d="M987 838l18-13-14 0-18 13z"/>
<path class="c96" d="M1249 683l18-13-14 1-18 13z"/>
<path class="c57" d="M1118 760l18-15-14 2-18 15z"/>
<path class="c4" d="M792 864l18-1-14-11-18 1z"/>
<path class="c41" d="M1068 793l18-15-14 2-18 15z"/>
<path class="c1" d="M824 872l18-3-14-9-18 3z"/>
<path class="c82" d="M1199 711l18-14-13 2-18 14z"/>
<path class="c7" d="M937 861l18-11-14-2-18 11z"/>
<path class="c26" d="M1019 824l17-14-13 1-18 14z"/>
<path class="c105" d="M1281 668l18-12-14 1-18 13z"/>
<path class="c0" d="M856 876l18-6-14-6-18 5z"/>
<path class="c67" d="M1150 742l18-14-14 2-18 15z"/>
<path class="c152" d="M298 575l18 6-14-12-18-5z"/>
<path class="c144" d="M330 593l18 6-14-13-18-5z"/>
<path class="c134" d="M361 611l18 6-14-13-17-5z"/>
<path class="c51" d="M1100 775l18-15-14 2-18 16z"/>
<path class="c13" d="M969 851l18-13-14 0-18 12z"/>
<path class="c92" d="M1231 696l18-13-14 1-18 13z"/>
<path class="c125" d="M393 630l18 6-14-14-18-5z"/>
<path class="c115" d="M425 649l18 6-14-14-18-5z"/>
<path class="c1" d="M887 876l18-8-14-5-17 7z"/>
<path class="c106" d="M457 669l18 5-14-14-18-5z"/>
<path class="c42" d="M647 795l18 5-14-16-18-5z"/>
<path class="c52" d="M615 774l18 5-13-16-18-6z"/>
<path class="c31" d="M679 816l18 4-14-16-18-4z"/>
<path class="c96" d="M488 689l18 5-14-15-17-5z"/>
<path class="c63" d="M584 752l18 5-14-16-18-5z"/>
<path class="c85" d="M520 709l18 6-14-16-18-5z"/>
<path class="c74" d="M552 730l18 6-14-16-18-5z"/>
<path class="c22" d="M711 835l18 3-14-15-18-3z"/>
<path class="c13" d="M742 851l18 2-13-13-18-2z"/>
<path class="c113" d="M1313 655l18-12-14 1-18 12z"/>
<path class="c36" d="M1050 808l18-15-14 2-18 15z"/>
<path class="c78" d="M1181 725l18-14-13 2-18 15z"/>
<path class="c7" d="M774 865l18-1-14-11-18 0z"/>
<path class="c4" d="M919 871l18-10-14-2-18 9z"/>
<path class="c2" d="M806 875l18-3-14-9-18 1z"/>
<path class="c21" d="M1001 838l18-14-14 1-18 13z"/>
<path class="c101" d="M1263 681l18-13-14 2-18 13z"/>
<path class="c62" d="M1132 757l18-15-14 3-18 15z"/>
<path class="c0" d="M838 880l18-4-14-7-18 3z"/>
<path class="c46" d="M1082 790l18-15-14 3-18 15z"/>
<path class="c87" d="M1213 709l18-13-14 1-18 14z"/>
<path class="c10" d="M951 862l18-11-14-1-18 11z"/>
<path class="c0" d="M869 882l18-6-13-6-18 6z"/>
<path class="c159" d="M280 569l18 6-14-11-18-5z"/>
<path class="c31" d="M1032 822l18-14-14 2-17 14z"/>
<path class="c150" d="M312 587l18 6-14-12-18-6z"/>
<path class="c110" d="M1295 666l18-11-14 1-18 12z"/>
<path class="c141" d="M343 605l18 6-13-12-18-6z"/>
<path class="c73" d="M1163 740l18-15-13 3-18 14z"/>
<path class="c131" d="M375 624l18 6-14-13-18-6z"/>
<path class="c121" d="M407 644l18 5-14-13-18-6z"/>
<path class="c112" d="M439 663l18 6-14-14-18-6z"/>
<path class="c37" d="M661 811l18 5-14-16-18-5z"/>
<path class="c47" d="M629 790l18 5-14-16-18-5z"/>
<path class="c58" d="M597 768l18 6-13-17-18-5z"/>
<path class="c102" d="M470 683l18 6-13-15-18-5z"/>
<path class="c27" d="M693 831l18 4-14-15-18-4z"/>
<path class="c70" d="M566 746l18 6-14-16-18-6z"/>
<path class="c91" d="M502 703l18 6-14-15-18-5z"/>
<path class="c81" d="M534 725l18 5-14-15-18-6z"/>
<path class="c18" d="M724 849l18 2-13-13-18-3z"/>
<path class="c2" d="M901 879l18-8-14-3-18 8z"/>
<path class="c17" d="M983 851l18-13-14 0-18 13z"/>
<path class="c10" d="M756 864l18 1-14-12-18-2z"/>
<path class="c57" d="M1114 772l18-15-14 3-18 15z"/>
<path class="c97" d="M1245 693l18-12-14 2-18 13z"/>
<path class="c5" d="M788 876l18-1-14-11-18 1z"/>
<path class="c118" d="M1326 652l18-11-13 2-18 12z"/>
<path class="c41" d="M1064 805l18-15-14 3-18 15z"/>
<path class="c1" d="M820 884l18-4-14-8-18 3z"/>
<path class="c83" d="M1195 723l18-14-14 2-18 14z"/>
<path class="c7" d="M933 873l18-11-14-1-18 10z"/>
<path class="c26" d="M1014 836l18-14-13 2-18 14z"/>
<path class="c106" d="M1277 678l18-12-14 2-18 13z"/>
<path class="c0" d="M851 887l18-5-13-6-18 4z"/>
<path class="c68" d="M1146 754l17-14-13 2-18 15z"/>
<path class="c165" d="M262 563l18 6-14-10-18-5z"/>
<path class="c156" d="M294 580l18 7-14-12-18-6z"/>
<path class="c52" d="M1096 787l18-15-14 3-18 15z"/>
<path class="c13" d="M965 863l18-12-14 0-18 11z"/>
<path class="c147" d="M325 599l18 6-13-12-18-6z"/>
<path class="c93" d="M1227 706l18-13-14 3-18 13z"/>
<path class="c1" d="M883 887l18-8-14-3-18 6z"/>
<path class="c137" d="M357 618l18 6-14-13-18-6z"/>
<path class="c128" d="M389 638l18 6-14-14-18-6z"/>
<path class="c43" d="M643 806l18 5-14-16-18-5z"/>
<path class="c118" d="M421 657l18 6-14-14-18-5z"/>
<path class="c32" d="M675 826l18 5-14-15-18-5z"/>
<path class="c54" d="M611 784l18 6-14-16-18-6z"/>
<path class="c65" d="M579 762l18 6-13-16-18-6z"/>
<path class="c108" d="M452 677l18 6-13-14-18-6z"/>
<path class="c76" d="M548 740l18 6-14-16-18-5z"/>
<path class="c97" d="M484 698l18 5-14-14-18-6z"/>
<path class="c23" d="M706 845l18 4-13-14-18-4z"/>
<path class="c87" d="M516 719l18 6-14-16-18-6z"/>
<path class="c14" d="M738 862l18 2-14-13-18-2z"/>
<path class="c36" d="M1046 820l18-15-14 3-18 14z"/>
<path class="c115" d="M1308 664l18-12-13 3-18 11z"/>
<path class="c78" d="M1177 736l18-13-14 2-18 15z"/>
<path class="c8" d="M770 876l18 0-14-11-18-1z"/>
<path class="c5" d="M915 882l18-9-14-2-18 8z"/>
<path class="c3" d="M802 885l18-1-14-9-18 1z"/>
<path class="c22" d="M996 849l18-13-13 2-18 13z"/>
<path class="c63" d="M1128 769l18-15-14 3-18 15z"/>
<path class="c102" d="M1259 691l18-13-14 3-18 12z"/>
<path class="c1" d="M833 891l18-4-13-7-18 4z"/>
<path class="c123" d="M1340 650l18-11-14 2-18 11z"/>
<path class="c47" d="M1078 802l18-15-14 3-18 15z"/>
<path class="c88" d="M1209 720l18-14-14 3-18 14z"/>
<path class="c10" d="M947 874l18-11-14-1-18 11z"/>
<path class="c1" d="M865 893l18-6-14-5-18 5z"/>
<path class="c171" d="M244 558l18 5-14-9-18-5z"/>
<path class="c31" d="M1028 834l18-14-14 2-18 14z"/>
<path class="c111" d="M1290 676l18-12-13 2-18 12z"/>
<path class="c163" d="M276 574l18 6-14-11-18-6z"/>
<path class="c73" d="M1159 751l18-15-14 4-17 14z"/>
<path class="c154" d="M307 592l18 7-13-12-18-7z"/>
<path class="c144" d="M339 612l18 6-14-13-18-6z"/>
<path class="c134" d="M371 631l18 7-14-14-18-6z"/>
<path class="c38" d="M657 821l18 5-14-15-18-5z"/>
<path class="c49" d="M625 800l18 6-14-16-18-6z"/>
<path class="c124" d="M403 651l18 6-14-13-18-6z"/>
<path class="c60" d="M593 778l18 6-14-16-18-6z"/>
<path class="c28" d="M689 841l17 4-13-14-18-5z"/>
<path class="c114" d="M434 671l18 6-13-14-18-6z"/>
<path class="c71" d="M562 756l17 6-13-16-18-6z"/>
<path class="c104" d="M466 692l18 6-14-15-18-6z"/>
<path class="c82" d="M530 734l18 6-14-15-18-6z"/>
<path class="c93" d="M498 713l18 6-14-16-18-5z"/>
<path class="c19" d="M720 859l18 3-14-13-18-4z"/>
<path class="c3" d="M897 890l18-8-14-3-18 8z"/>
<path class="c18" d="M978 862l18-13-13 2-18 12z"/>
<path class="c11" d="M752 874l18 2-14-12-18-2z"/>
<path class="c58" d="M1110 783l18-14-14 3-18 15z"/>
<path class="c98" d="M1241 703l18-12-14 2-18 13z"/>
<path class="c6" d="M784 886l18-1-14-9-18 0z"/>
<path class="c42" d="M1060 816l18-14-14 3-18 15z"/>
<path class="c120" d="M1322 661l18-11-14 2-18 12z"/>
<path class="c2" d="M816 894l17-3-13-7-18 1z"/>
<path class="c84" d="M1191 733l18-13-14 3-18 13z"/>
<path class="c8" d="M929 884l18-10-14-1-18 9z"/>
<path class="c27" d="M1010 847l18-13-14 2-18 13z"/>
<path class="c108" d="M1273 688l17-12-13 2-18 13z"/>
<path class="c1" d="M847 898l18-5-14-6-18 4z"/>
<path class="c68" d="M1141 765l18-14-13 3-18 15z"/>
<path class="c129" d="M1354 647l18-11-14 3-18 11z"/>
<path class="c177" d="M226 552l18 6-14-9-18-4z"/>
<path class="c52" d="M1092 798l18-15-14 4-18 15z"/>
<path class="c14" d="M961 873l17-11-13 1-18 11z"/>
<path class="c170" d="M258 567l18 7-14-11-18-5z"/>
<path class="c94" d="M1223 716l18-13-14 3-18 14z"/>
<path class="c2" d="M879 897l18-7-14-3-18 6z"/>
<path class="c161" d="M290 585l17 7-13-12-18-6z"/>
<path class="c151" d="M321 604l18 8-14-13-18-7z"/>
<path class="c44" d="M639 816l18 5-14-15-18-6z"/>
<path class="c141" d="M353 624l18 7-14-13-18-6z"/>
<path class="c34" d="M671 836l18 5-14-15-18-5z"/>
<path class="c55" d="M607 794l18 6-14-16-18-6z"/>
<path class="c131" d="M385 645l18 6-14-13-18-7z"/>
<path class="c66" d="M575 772l18 6-14-16-17-6z"/>
<path class="c24" d="M702 855l18 4-14-14-17-4z"/>
<path class="c120" d="M417 665l17 6-13-14-18-6z"/>
<path class="c78" d="M544 749l18 7-14-16-18-6z"/>
<path class="c110" d="M448 685l18 7-14-15-18-6z"/>
<path class="c89" d="M512 728l18 6-14-15-18-6z"/>
<path class="c100" d="M480 706l18 7-14-15-18-6z"/>
<path class="c16" d="M734 872l18 2-14-12-18-3z"/>
<path class="c37" d="M1042 831l18-15-14 4-18 14z"/>
<path class="c117" d="M1304 673l18-12-14 3-18 12z"/>
<path class="c79" d="M1173 747l18-14-14 3-18 15z"/>
<path class="c9" d="M766 885l18 1-14-10-18-2z"/>
<path class="c6" d="M911 893l18-9-14-2-18 8z"/>
<path class="c5" d="M798 895l18-1-14-9-18 1z"/>
<path class="c23" d="M992 860l18-13-14 2-18 13z"/>
<path class="c63" d="M1123 780l18-15-13 4-18 14z"/>
<path class="c104" d="M1255 700l18-12-14 3-18 12z"/>
<path class="c2" d="M829 901l18-3-14-7-17 3z"/>
<path class="c126" d="M1336 658l18-11-14 3-18 11z"/>
<path class="c47" d="M1074 813l18-15-14 4-18 14z"/>
<path class="c11" d="M943 884l18-11-14 1-18 10z"/>
<path class="c90" d="M1205 730l18-14-14 4-18 13z"/>
<path class="c2" d="M861 903l18-6-14-4-18 5z"/>
<path class="c32" d="M1024 844l18-13-14 3-18 13z"/>
<path class="c113" d="M1286 685l18-12-14 3-17 12z"/>
<path class="c74" d="M1155 761l18-14-14 4-18 14z"/>
<path class="c176" d="M240 560l18 7-14-9-18-6z"/>
<path class="c168" d="M272 578l18 7-14-11-18-7z"/>
<path class="c40" d="M653 831l18 5-14-15-18-5z"/>
<path class="c158" d="M303 597l18 7-14-12-17-7z"/>
<path class="c50" d="M621 809l18 7-14-16-18-6z"/>
<path class="c30" d="M684 851l18 4-13-14-18-5z"/>
<path class="c62" d="M589 787l18 7-14-16-18-6z"/>
<path class="c148" d="M335 617l18 7-14-12-18-8z"/>
<path class="c138" d="M367 638l18 7-14-14-18-7z"/>
<path class="c73" d="M557 765l18 7-13-16-18-7z"/>
<path class="c127" d="M399 658l18 7-14-14-18-6z"/>
<path class="c84" d="M526 743l18 6-14-15-18-6z"/>
<path class="c117" d="M430 679l18 6-14-14-17-6z"/>
<path class="c95" d="M494 721l18 7-14-15-18-7z"/>
<path class="c106" d="M462 700l18 6-14-14-18-7z"/>
<path class="c21" d="M716 869l18 3-14-13-18-4z"/>
<path class="c135" d="M1368 644l18-11-14 3-18 11z"/>
<path class="c5" d="M893 900l18-7-14-3-18 7z"/>
<path class="c19" d="M974 872l18-12-14 2-17 11z"/>
<path class="c58" d="M1105 794l18-14-13 3-18 15z"/>
<path class="c13" d="M748 884l18 1-14-11-18-2z"/>
<path class="c100" d="M1237 713l18-13-14 3-18 13z"/>
<path class="c8" d="M780 895l18 0-14-9-18-1z"/>
<path class="c43" d="M1056 827l18-14-14 3-18 15z"/>
<path class="c122" d="M1318 669l18-11-14 3-18 12z"/>
<path class="c85" d="M1187 743l18-13-14 3-18 14z"/>
<path class="c4" d="M811 903l18-2-13-7-18 1z"/>
<path class="c9" d="M925 894l18-10-14 0-18 9z"/>
<path class="c28" d="M1006 858l18-14-14 3-18 13z"/>
<path class="c70" d="M1137 775l18-14-14 4-18 15z"/>
<path class="c3" d="M843 907l18-4-14-5-18 3z"/>
<path class="c110" d="M1268 697l18-12-13 3-18 12z"/>
<path class="c132" d="M1350 654l18-10-14 3-18 11z"/>
<path class="c54" d="M1088 809l17-15-13 4-18 15z"/>
<path class="c16" d="M956 883l18-11-13 1-18 11z"/>
<path class="c96" d="M1219 726l18-13-14 3-18 14z"/>
<path class="c4" d="M875 907l18-7-14-3-18 6z"/>
<path class="c175" d="M254 570l18 8-14-11-18-7z"/>
<path class="c46" d="M635 824l18 7-14-15-18-7z"/>
<path class="c36" d="M666 845l18 6-13-15-18-5z"/>
<path class="c57" d="M603 802l18 7-14-15-18-7z"/>
<path class="c166" d="M285 589l18 8-13-12-18-7z"/>
<path class="c69" d="M571 780l18 7-14-15-18-7z"/>
<path class="c26" d="M698 864l18 5-14-14-18-4z"/>
<path class="c155" d="M317 609l18 8-14-13-18-7z"/>
<path class="c80" d="M539 758l18 7-13-16-18-6z"/>
<path class="c145" d="M349 630l18 8-14-14-18-7z"/>
<path class="c134" d="M381 651l18 7-14-13-18-7z"/>
<path class="c91" d="M508 736l18 7-14-15-18-7z"/>
<path class="c123" d="M412 672l18 7-13-14-18-7z"/>
<path class="c102" d="M476 714l18 7-14-15-18-6z"/>
<path class="c113" d="M444 693l18 7-14-15-18-6z"/>
<path class="c38" d="M1038 841l18-14-14 4-18 13z"/>
<path class="c18" d="M730 881l18 3-14-12-18-3z"/>
<path class="c119" d="M1300 681l18-12-14 4-18 12z"/>
<path class="c81" d="M1169 757l18-14-14 4-18 14z"/>
<path class="c11" d="M762 894l18 1-14-10-18-1z"/>
<path class="c8" d="M907 902l18-8-14-1-18 7z"/>
<path class="c140" d="M1382 640l18-10-14 3-18 11z"/>
<path class="c24" d="M988 870l18-12-14 2-18 12z"/>
<path class="c7" d="M793 904l18-1-13-8-18 0z"/>
<path class="c65" d="M1119 790l18-15-14 5-18 14z"/>
<path class="c106" d="M1250 709l18-12-13 3-18 13z"/>
<path class="c4" d="M825 910l18-3-14-6-18 2z"/>
<path class="c49" d="M1070 823l18-14-14 4-18 14z"/>
<path class="c128" d="M1332 666l18-12-14 4-18 11z"/>
<path class="c13" d="M938 893l18-10-13 1-18 10z"/>
<path class="c91" d="M1201 739l18-13-14 4-18 13z"/>
<path class="c4" d="M857 912l18-5-14-4-18 4z"/>
<path class="c34" d="M1020 854l18-13-14 3-18 14z"/>
<path class="c76" d="M1151 771l18-14-14 4-18 14z"/>
<path class="c115" d="M1282 693l18-12-14 4-18 12z"/>
<path class="c42" d="M648 839l18 6-13-14-18-7z"/>
<path class="c53" d="M617 817l18 7-14-15-18-7z"/>
<path class="c32" d="M680 859l18 5-14-13-18-6z"/>
<path class="c64" d="M585 795l18 7-14-15-18-7z"/>
<path class="c76" d="M553 773l18 7-14-15-18-7z"/>
<path class="c174" d="M267 580l18 9-13-11-18-8z"/>
<path class="c87" d="M521 750l18 8-13-15-18-7z"/>
<path class="c23" d="M712 877l18 4-14-12-18-5z"/>
<path class="c98" d="M490 728l18 8-14-15-18-7z"/>
<path class="c163" d="M299 600l18 9-14-12-18-8z"/>
<path class="c109" d="M458 707l18 7-14-14-18-7z"/>
<path class="c152" d="M331 621l18 9-14-13-18-8z"/>
<path class="c141" d="M363 643l18 8-14-13-18-8z"/>
<path class="c131" d="M394 664l18 8-13-14-18-7z"/>
<path class="c120" d="M426 685l18 8-14-14-18-7z"/>
<path class="c138" d="M1364 651l18-11-14 4-18 10z"/>
<path class="c21" d="M970 882l18-12-14 2-18 11z"/>
<path class="c7" d="M889 909l18-7-14-2-18 7z"/>
<path class="c60" d="M1101 804l18-14-14 4-17 15z"/>
<path class="c16" d="M744 892l18 2-14-10-18-3z"/>
<path class="c102" d="M1233 722l17-13-13 4-18 13z"/>
<path class="c10" d="M776 904l17 0-13-9-18-1z"/>
<path class="c44" d="M1052 837l18-14-14 4-18 14z"/>
<path class="c125" d="M1314 677l18-11-14 3-18 12z"/>
<path class="c87" d="M1183 753l18-14-14 4-18 14z"/>
<path class="c6" d="M807 912l18-2-14-7-18 1z"/>
<path class="c11" d="M920 902l18-9-13 1-18 8z"/>
<path class="c146" d="M1395 636l18-10-13 4-18 10z"/>
<path class="c30" d="M1002 867l18-13-14 4-18 12z"/>
<path class="c71" d="M1133 785l18-14-14 4-18 15z"/>
<path class="c5" d="M839 915l18-3-14-5-18 3z"/>
<path class="c112" d="M1264 705l18-12-14 4-18 12z"/>
<path class="c55" d="M1083 818l18-14-13 5-18 14z"/>
<path class="c134" d="M1346 662l18-11-14 3-18 12z"/>
<path class="c18" d="M952 892l18-10-14 1-18 10z"/>
<path class="c97" d="M1215 735l18-13-14 4-18 13z"/>
<path class="c6" d="M871 915l18-6-14-2-18 5z"/>
<path class="c49" d="M631 832l17 7-13-15-18-7z"/>
<path class="c38" d="M662 852l18 7-14-14-18-6z"/>
<path class="c60" d="M599 810l18 7-14-15-18-7z"/>
<path class="c71" d="M567 787l18 8-14-15-18-7z"/>
<path class="c29" d="M694 871l18 6-14-13-18-5z"/>
<path class="c83" d="M535 765l18 8-14-15-18-8z"/>
<path class="c40" d="M1034 850l18-13-14 4-18 13z"/>
<path class="c94" d="M504 743l17 7-13-14-18-8z"/>
<path class="c105" d="M472 721l18 7-14-14-18-7z"/>
<path class="c116" d="M440 699l18 8-14-14-18-8z"/>
<path class="c127" d="M408 677l18 8-14-13-18-8z"/>
<path class="c138" d="M376 656l18 8-13-13-18-8z"/>
<path class="c20" d="M726 888l18 4-14-11-18-4z"/>
<path class="c149" d="M345 634l18 9-14-13-18-9z"/>
<path class="c172" d="M281 590l18 10-14-11-18-9z"/>
<path class="c161" d="M313 612l18 9-14-12-18-9z"/>
<path class="c121" d="M1296 689l18-12-14 4-18 12z"/>
<path class="c82" d="M1165 766l18-13-14 4-18 14z"/>
<path class="c14" d="M758 902l18 2-14-10-18-2z"/>
<path class="c10" d="M903 910l17-8-13 0-18 7z"/>
<path class="c26" d="M984 879l18-12-14 3-18 12z"/>
<path class="c144" d="M1377 646l18-10-13 4-18 11z"/>
<path class="c9" d="M789 912l18 0-14-8-17 0z"/>
<path class="c66" d="M1115 799l18-14-14 5-18 14z"/>
<path class="c108" d="M1246 718l18-13-14 4-17 13z"/>
<path class="c7" d="M821 917l18-2-14-5-18 2z"/>
<path class="c50" d="M1065 832l18-14-13 5-18 14z"/>
<path class="c131" d="M1328 673l18-11-14 4-18 11z"/>
<path class="c93" d="M1197 748l18-13-14 4-18 14z"/>
<path class="c16" d="M934 902l18-10-14 1-18 9z"/>
<path class="c152" d="M1409 632l18-9-14 3-18 10z"/>
<path class="c7" d="M853 919l18-4-14-3-18 3z"/>
<path class="c36" d="M1016 863l18-13-14 4-18 13z"/>
<path class="c78" d="M1147 780l18-14-14 5-18 14z"/>
<path class="c118" d="M1278 701l18-12-14 4-18 12z"/>
<path class="c45" d="M644 845l18 7-14-13-17-7z"/>
<path class="c56" d="M613 824l18 8-14-15-18-7z"/>
<path class="c35" d="M676 865l18 6-14-12-18-7z"/>
<path class="c67" d="M581 802l18 8-14-15-18-8z"/>
<path class="c79" d="M549 779l18 8-14-14-18-8z"/>
<path class="c26" d="M708 883l18 5-14-11-18-6z"/>
<path class="c90" d="M517 757l18 8-14-15-17-7z"/>
<path class="c102" d="M486 734l18 9-14-15-18-7z"/>
<path class="c23" d="M966 890l18-11-14 3-18 10z"/>
<path class="c62" d="M1097 813l18-14-14 5-18 14z"/>
<path class="c113" d="M454 712l18 9-14-14-18-8z"/>
<path class="c9" d="M885 916l18-6-14-1-18 6z"/>
<path class="c141" d="M1360 657l17-11-13 5-18 11z"/>
<path class="c124" d="M422 691l18 8-14-14-18-8z"/>
<path class="c135" d="M390 669l18 8-14-13-18-8z"/>
<path class="c146" d="M359 646l17 10-13-13-18-9z"/>
<path class="c158" d="M327 624l18 10-14-13-18-9z"/>
<path class="c19" d="M740 898l18 4-14-10-18-4z"/>
<path class="c170" d="M295 601l18 11-14-12-18-10z"/>
<path class="c104" d="M1228 731l18-13-13 4-18 13z"/>
<path class="c13" d="M771 910l18 2-13-8-18-2z"/>
<path class="c46" d="M1047 845l18-13-13 5-18 13z"/>
<path class="c128" d="M1310 685l18-12-14 4-18 12z"/>
<path class="c89" d="M1179 762l18-14-14 5-18 13z"/>
<path class="c10" d="M803 918l18-1-14-5-18 0z"/>
<path class="c14" d="M916 910l18-8-14 0-17 8z"/>
<path class="c32" d="M998 875l18-12-14 4-18 12z"/>
<path class="c150" d="M1391 642l18-10-14 4-18 10z"/>
<path class="c73" d="M1129 794l18-14-14 5-18 14z"/>
<path class="c114" d="M1260 714l18-13-14 4-18 13z"/>
<path class="c8" d="M835 922l18-3-14-4-18 2z"/>
<path class="c57" d="M1079 827l18-14-14 5-18 14z"/>
<path class="c137" d="M1342 669l18-12-14 5-18 11z"/>
<path class="c20" d="M948 900l18-10-14 2-18 10z"/>
<path class="c100" d="M1210 744l18-13-13 4-18 13z"/>
<path class="c10" d="M867 921l18-5-14-1-18 4z"/>
<path class="c159" d="M1423 628l18-9-14 4-18 9z"/>
<path class="c53" d="M626 837l18 8-13-13-18-8z"/>
<path class="c42" d="M658 858l18 7-14-13-18-7z"/>
<path class="c64" d="M595 815l18 9-14-14-18-8z"/>
<path class="c42" d="M1030 858l17-13-13 5-18 13z"/>
<path class="c32" d="M690 877l18 6-14-12-18-6z"/>
<path class="c75" d="M563 793l18 9-14-15-18-8z"/>
<path class="c87" d="M531 770l18 9-14-14-18-8z"/>
<path class="c98" d="M499 748l18 9-13-14-18-9z"/>
<path class="c109" d="M468 726l18 8-14-13-18-9z"/>
<path class="c24" d="M722 894l18 4-14-10-18-5z"/>
<path class="c121" d="M436 704l18 8-14-13-18-8z"/>
<path class="c84" d="M1161 775l18-13-14 4-18 14z"/>
<path class="c132" d="M404 681l18 10-14-14-18-8z"/>
<path class="c124" d="M1292 697l18-12-14 4-18 12z"/>
<path class="c143" d="M372 659l18 10-14-13-17-10z"/>
<path class="c155" d="M341 636l18 10-14-12-18-10z"/>
<path class="c167" d="M309 612l18 12-14-12-18-11z"/>
<path class="c18" d="M753 907l18 3-13-8-18-4z"/>
<path class="c13" d="M898 917l18-7-13 0-18 6z"/>
<path class="c29" d="M980 886l18-11-14 4-18 11z"/>
<path class="c69" d="M1111 808l18-14-14 5-18 14z"/>
<path class="c147" d="M1373 653l18-11-14 4-17 11z"/>
<path class="c13" d="M785 917l18 1-14-6-18-2z"/>
<path class="c110" d="M1242 726l18-12-14 4-18 13z"/>
<path class="c11" d="M817 923l18-1-14-5-18 1z"/>
<path class="c53" d="M1061 840l18-13-14 5-18 13z"/>
<path class="c134" d="M1324 680l18-11-14 4-18 12z"/>
<path class="c95" d="M1192 757l18-13-13 4-18 14z"/>
<path class="c19" d="M930 908l18-8-14 2-18 8z"/>
<path class="c38" d="M1012 870l18-12-14 5-18 12z"/>
<path class="c11" d="M849 925l18-4-14-2-18 3z"/>
<path class="c156" d="M1405 637l18-9-14 4-18 10z"/>
<path class="c80" d="M1143 789l18-14-14 5-18 14z"/>
<path class="c120" d="M1274 709l18-12-14 4-18 13z"/>
<path class="c49" d="M640 850l18 8-14-13-18-8z"/>
<path class="c60" d="M608 829l18 8-13-13-18-9z"/>
<path class="c39" d="M672 870l18 7-14-12-18-7z"/>
<path class="c72" d="M577 806l18 9-14-13-18-9z"/>
<path class="c64" d="M1093 821l18-13-14 5-18 14z"/>
<path class="c83" d="M545 784l18 9-14-14-18-9z"/>
<path class="c26" d="M962 896l18-10-14 4-18 10z"/>
<path class="c30" d="M704 888l18 6-14-11-18-6z"/>
<path class="c95" d="M513 761l18 9-14-13-18-9z"/>
<path class="c13" d="M880 922l18-5-13-1-18 5z"/>
<path class="c144" d="M1355 664l18-11-13 4-18 12z"/>
<path class="c106" d="M481 739l18 9-13-14-18-8z"/>
<path class="c117" d="M450 716l18 10-14-14-18-8z"/>
<path class="c106" d="M1224 739l18-13-14 5-18 13z"/>
<path class="c129" d="M418 694l18 10-14-13-18-10z"/>
<path class="c141" d="M386 671l18 10-14-12-18-10z"/>
<path class="c23" d="M735 903l18 4-13-9-18-4z"/>
<path class="c153" d="M354 647l18 12-13-13-18-10z"/>
<path class="c165" d="M323 623l18 13-14-12-18-12z"/>
<path class="c165" d="M1437 624l18-8-14 3-18 9z"/>
<path class="c17" d="M767 915l18 2-14-7-18-3z"/>
<path class="c49" d="M1043 853l18-13-14 5-17 13z"/>
<path class="c91" d="M1175 770l17-13-13 5-18 13z"/>
<path class="c131" d="M1306 692l18-12-14 5-18 12z"/>
<path class="c14" d="M799 923l18 0-14-5-18-1z"/>
<path class="c18" d="M912 916l18-8-14 2-18 7z"/>
<path class="c35" d="M994 882l18-12-14 5-18 11z"/>
<path class="c154" d="M1387 647l18-10-14 5-18 11z"/>
<path class="c76" d="M1125 802l18-13-14 5-18 14z"/>
<path class="c117" d="M1256 721l18-12-14 5-18 12z"/>
<path class="c13" d="M831 927l18-2-14-3-18 1z"/>
<path class="c60" d="M1075 834l18-13-14 6-18 13z"/>
<path class="c141" d="M1337 675l18-11-13 5-18 11z"/>
<path class="c24" d="M944 905l18-9-14 4-18 8z"/>
<path class="c102" d="M1206 751l18-12-14 5-18 13z"/>
<path class="c14" d="M862 926l18-4-13-1-18 4z"/>
<path class="c45" d="M1025 865l18-12-13 5-18 12z"/>
<path class="c163" d="M1419 632l18-8-14 4-18 9z"/>
<path class="c57" d="M622 841l18 9-14-13-18-8z"/>
<path class="c47" d="M654 862l18 8-14-12-18-8z"/>
<path class="c69" d="M590 819l18 10-13-14-18-9z"/>
<path class="c37" d="M686 881l18 7-14-11-18-7z"/>
<path class="c80" d="M559 796l18 10-14-13-18-9z"/>
<path class="c92" d="M527 774l18 10-14-14-18-9z"/>
<path class="c87" d="M1157 783l18-13-14 5-18 14z"/>
<path class="c103" d="M495 751l18 10-14-13-18-9z"/>
<path class="c127" d="M1288 704l18-12-14 5-18 12z"/>
<path class="c29" d="M718 897l17 6-13-9-18-6z"/>
<path class="c115" d="M463 729l18 10-13-13-18-10z"/>
<path class="c126" d="M432 706l18 10-14-12-18-10z"/>
<path class="c138" d="M400 683l18 11-14-13-18-10z"/>
<path class="c150" d="M368 659l18 12-14-12-18-12z"/>
<path class="c23" d="M749 911l18 4-14-8-18-4z"/>
<path class="c163" d="M336 634l18 13-13-11-18-13z"/>
<path class="c17" d="M894 921l18-5-14 1-18 5z"/>
<path class="c32" d="M976 892l18-10-14 4-18 10z"/>
<path class="c71" d="M1107 815l18-13-14 6-18 13z"/>
<path class="c151" d="M1369 658l18-11-14 6-18 11z"/>
<path class="c18" d="M781 921l18 2-14-6-18-2z"/>
<path class="c113" d="M1238 733l18-12-14 5-18 13z"/>
<path class="c171" d="M1451 619l18-7-14 4-18 8z"/>
<path class="c56" d="M1057 847l18-13-14 6-18 13z"/>
<path class="c16" d="M813 927l18 0-14-4-18 0z"/>
<path class="c98" d="M1188 764l18-13-14 6-17 13z"/>
<path class="c138" d="M1319 686l18-11-13 5-18 12z"/>
<path class="c23" d="M926 913l18-8-14 3-18 8z"/>
<path class="c42" d="M1007 876l18-11-13 5-18 12z"/>
<path class="c16" d="M845 928l17-2-13-1-18 2z"/>
<path class="c161" d="M1401 642l18-10-14 5-18 10z"/>
<path class="c83" d="M1139 796l18-13-14 6-18 13z"/>
<path class="c123" d="M1270 716l18-12-14 5-18 12z"/>
<path class="c67" d="M1089 828l18-13-14 6-18 13z"/>
<path class="c55" d="M636 852l18 10-14-12-18-9z"/>
<path class="c66" d="M604 831l18 10-14-12-18-10z"/>
<path class="c45" d="M668 872l18 9-14-11-18-8z"/>
<path class="c77" d="M573 809l17 10-13-13-18-10z"/>
<path class="c30" d="M958 901l18-9-14 4-18 9z"/>
<path class="c89" d="M541 786l18 10-14-12-18-10z"/>
<path class="c148" d="M1351 669l18-11-14 6-18 11z"/>
<path class="c36" d="M700 890l18 7-14-9-18-7z"/>
<path class="c109" d="M1220 746l18-13-14 6-18 12z"/>
<path class="c18" d="M876 926l18-5-14 1-18 4z"/>
<path class="c100" d="M509 763l18 11-14-13-18-10z"/>
<path class="c112" d="M477 740l18 11-14-12-18-10z"/>
<path class="c124" d="M446 718l17 11-13-13-18-10z"/>
<path class="c28" d="M731 906l18 5-14-8-17-6z"/>
<path class="c135" d="M414 694l18 12-14-12-18-11z"/>
<path class="c148" d="M382 670l18 13-14-12-18-12z"/>
<path class="c161" d="M350 645l18 14-14-12-18-13z"/>
<path class="c170" d="M1433 627l18-8-14 5-18 8z"/>
<path class="c53" d="M1039 858l18-11-14 6-18 12z"/>
<path class="c23" d="M763 917l18 4-14-6-18-4z"/>
<path class="c94" d="M1170 777l18-13-13 6-18 13z"/>
<path class="c134" d="M1302 698l17-12-13 6-18 12z"/>
<path class="c23" d="M908 919l18-6-14 3-18 5z"/>
<path class="c19" d="M795 925l18 2-14-4-18-2z"/>
<path class="c39" d="M989 886l18-10-13 6-18 10z"/>
<path class="c79" d="M1121 808l18-12-14 6-18 13z"/>
<path class="c158" d="M1383 652l18-10-14 5-18 11z"/>
<path class="c120" d="M1252 728l18-12-14 5-18 12z"/>
<path class="c177" d="M1464 615l18-5-13 2-18 7z"/>
<path class="c18" d="M827 929l18-1-14-1-18 0z"/>
<path class="c64" d="M1071 840l18-12-14 6-18 13z"/>
<path class="c105" d="M1202 758l18-12-14 5-18 13z"/>
<path class="c145" d="M1333 680l18-11-14 6-18 11z"/>
<path class="c29" d="M940 909l18-8-14 4-18 8z"/>
<path class="c19" d="M858 928l18-2-14 0-17 2z"/>
<path class="c49" d="M1021 869l18-11-14 7-18 11z"/>
<path class="c168" d="M1415 636l18-9-14 5-18 10z"/>
<path class="c90" d="M1152 789l18-12-13 6-18 13z"/>
<path class="c64" d="M618 842l18 10-14-11-18-10z"/>
<path class="c53" d="M650 863l18 9-14-10-18-10z"/>
<path class="c75" d="M586 820l18 11-14-12-17-10z"/>
<path class="c44" d="M682 882l18 8-14-9-18-9z"/>
<path class="c131" d="M1284 710l18-12-14 6-18 12z"/>
<path class="c86" d="M555 798l18 11-14-13-18-10z"/>
<path class="c98" d="M523 775l18 11-14-12-18-11z"/>
<path class="c109" d="M491 752l18 11-14-12-18-11z"/>
<path class="c35" d="M713 899l18 7-13-9-18-7z"/>
<path class="c121" d="M459 729l18 11-14-11-17-11z"/>
<path class="c133" d="M428 706l18 12-14-12-18-12z"/>
<path class="c146" d="M396 681l18 13-14-11-18-13z"/>
<path class="c29" d="M745 912l18 5-14-6-18-5z"/>
<path class="c158" d="M364 656l18 14-14-11-18-14z"/>
<path class="c75" d="M1103 821l18-13-14 7-18 13z"/>
<path class="c23" d="M890 924l18-5-14 2-18 5z"/>
<path class="c37" d="M972 895l17-9-13 6-18 9z"/>
<path class="c155" d="M1365 663l18-11-14 6-18 11z"/>
<path class="c116" d="M1234 740l18-12-14 5-18 13z"/>
<path class="c24" d="M777 922l18 3-14-4-18-4z"/>
<path class="c176" d="M1446 622l18-7-13 4-18 8z"/>
<path class="c60" d="M1053 851l18-11-14 7-18 11z"/>
<path class="c102" d="M1184 770l18-12-14 6-18 13z"/>
<path class="c22" d="M809 928l18 1-14-2-18-2z"/>
<path class="c141" d="M1315 692l18-12-14 6-17 12z"/>
<path class="c28" d="M922 915l18-6-14 4-18 6z"/>
<path class="c47" d="M1003 880l18-11-14 7-18 10z"/>
<path class="c87" d="M1134 801l18-12-13 7-18 12z"/>
<path class="c166" d="M1397 645l18-9-14 6-18 10z"/>
<path class="c22" d="M840 929l18-1-13 0-18 1z"/>
<path class="c127" d="M1266 721l18-11-14 6-18 12z"/>
<path class="c72" d="M1085 832l18-11-14 7-18 12z"/>
<path class="c113" d="M1216 751l18-11-14 6-18 12z"/>
<path class="c36" d="M954 903l18-8-14 6-18 8z"/>
<path class="c152" d="M1347 673l18-10-14 6-18 11z"/>
<path class="c62" d="M632 852l18 11-14-11-18-10z"/>
<path class="c73" d="M600 831l18 11-14-11-18-11z"/>
<path class="c52" d="M664 872l18 10-14-10-18-9z"/>
<path class="c84" d="M568 808l18 12-13-11-18-11z"/>
<path class="c24" d="M872 927l18-3-14 2-18 2z"/>
<path class="c96" d="M537 786l18 12-14-12-18-11z"/>
<path class="c43" d="M695 890l18 9-13-9-18-8z"/>
<path class="c107" d="M505 763l18 12-14-12-18-11z"/>
<path class="c119" d="M473 740l18 12-14-12-18-11z"/>
<path class="c131" d="M441 716l18 13-13-11-18-12z"/>
<path class="c35" d="M727 905l18 7-14-6-18-7z"/>
<path class="c144" d="M410 692l18 14-14-12-18-13z"/>
<path class="c57" d="M1035 862l18-11-14 7-18 11z"/>
<path class="c175" d="M1429 630l17-8-13 5-18 9z"/>
<path class="c157" d="M378 667l18 14-14-11-18-14z"/>
<path class="c98" d="M1166 782l18-12-14 7-18 12z"/>
<path class="c30" d="M759 917l18 5-14-5-18-5z"/>
<path class="c138" d="M1297 703l18-11-13 6-18 12z"/>
<path class="c29" d="M904 920l18-5-14 4-18 5z"/>
<path class="c26" d="M791 925l18 3-14-3-18-3z"/>
<path class="c83" d="M1117 813l17-12-13 7-18 13z"/>
<path class="c45" d="M985 889l18-9-14 6-17 9z"/>
<path class="c163" d="M1379 655l18-10-14 7-18 11z"/>
<path class="c124" d="M1248 733l18-12-14 7-18 12z"/>
<path class="c25" d="M822 929l18 0-13 0-18-1z"/>
<path class="c69" d="M1067 843l18-11-14 8-18 11z"/>
<path class="c109" d="M1198 763l18-12-14 7-18 12z"/>
<path class="c149" d="M1329 684l18-11-14 7-18 12z"/>
<path class="c35" d="M936 910l18-7-14 6-18 6z"/>
<path class="c26" d="M854 928l18-1-14 1-18 1z"/>
<path class="c55" d="M1017 872l18-10-14 7-18 11z"/>
<path class="c95" d="M1148 794l18-12-14 7-18 12z"/>
<path class="c174" d="M1411 638l18-8-14 6-18 9z"/>
<path class="c135" d="M1279 714l18-11-13 7-18 11z"/>
<path class="c71" d="M614 840l18 12-14-10-18-11z"/>
<path class="c61" d="M646 861l18 11-14-9-18-11z"/>
<path class="c82" d="M582 818l18 13-14-11-18-12z"/>
<path class="c51" d="M677 880l18 10-13-8-18-10z"/>
<path class="c94" d="M550 796l18 12-13-10-18-12z"/>
<path class="c106" d="M519 773l18 13-14-11-18-12z"/>
<path class="c117" d="M487 750l18 13-14-11-18-12z"/>
<path class="c43" d="M709 897l18 8-14-6-18-9z"/>
<path class="c129" d="M455 726l18 14-14-11-18-13z"/>
<path class="c142" d="M423 702l18 14-13-10-18-14z"/>
<path class="c80" d="M1099 824l18-11-14 8-18 11z"/>
<path class="c36" d="M741 910l18 7-14-5-18-7z"/>
<path class="c155" d="M392 677l18 15-14-11-18-14z"/>
<path class="c44" d="M967 897l18-8-13 6-18 8z"/>
<path class="c121" d="M1230 744l18-11-14 7-18 11z"/>
<path class="c30" d="M886 924l18-4-14 4-18 3z"/>
<path class="c161" d="M1361 665l18-10-14 8-18 10z"/>
<path class="c32" d="M773 920l18 5-14-3-18-5z"/>
<path class="c66" d="M1049 854l18-11-14 8-18 11z"/>
<path class="c106" d="M1180 774l18-11-14 7-18 12z"/>
<path class="c146" d="M1311 695l18-11-14 8-18 11z"/>
<path class="c30" d="M804 926l18 3-13-1-18-3z"/>
<path class="c35" d="M918 915l18-5-14 5-18 5z"/>
<path class="c53" d="M999 881l18-9-14 8-18 9z"/>
<path class="c92" d="M1130 805l18-11-14 7-17 12z"/>
<path class="c132" d="M1261 725l18-11-13 7-18 12z"/>
<path class="c172" d="M1393 647l18-9-14 7-18 10z"/>
<path class="c30" d="M836 928l18 0-14 1-18 0z"/>
<path class="c77" d="M1081 835l18-11-14 8-18 11z"/>
<path class="c117" d="M1212 755l18-11-14 7-18 12z"/>
<path class="c158" d="M1343 676l18-11-14 8-18 11z"/>
<path class="c43" d="M949 903l18-6-13 6-18 7z"/>
<path class="c70" d="M628 849l18 12-14-9-18-12z"/>
<path class="c81" d="M596 828l18 12-14-9-18-13z"/>
<path class="c60" d="M660 869l17 11-13-8-18-11z"/>
<path class="c93" d="M564 805l18 13-14-10-18-12z"/>
<path class="c32" d="M868 925l18-1-14 3-18 1z"/>
<path class="c104" d="M532 783l18 13-13-10-18-13z"/>
<path class="c51" d="M691 887l18 10-14-7-18-10z"/>
<path class="c116" d="M501 760l18 13-14-10-18-13z"/>
<path class="c128" d="M469 736l18 14-14-10-18-14z"/>
<path class="c64" d="M1031 863l18-9-14 8-18 10z"/>
<path class="c44" d="M723 902l18 8-14-5-18-8z"/>
<path class="c140" d="M437 712l18 14-14-10-18-14z"/>
<path class="c103" d="M1162 785l18-11-14 8-18 12z"/>
<path class="c143" d="M1293 706l18-11-14 8-18 11z"/>
<path class="c153" d="M405 687l18 15-13-10-18-15z"/>
<path class="c38" d="M755 914l18 6-14-3-18-7z"/>
<path class="c36" d="M900 919l18-4-14 5-18 4z"/>
<path class="c89" d="M1112 815l18-10-13 8-18 11z"/>
<path class="c52" d="M981 888l18-7-14 8-18 8z"/>
<path class="c35" d="M787 922l17 4-13-1-18-5z"/>
<path class="c129" d="M1244 736l17-11-13 8-18 11z"/>
<path class="c170" d="M1375 656l18-9-14 8-18 10z"/>
<path class="c75" d="M1063 844l18-9-14 8-18 11z"/>
<path class="c34" d="M818 926l18 2-14 1-18-3z"/>
<path class="c115" d="M1194 766l18-11-14 8-18 11z"/>
<path class="c155" d="M1325 686l18-10-14 8-18 11z"/>
<path class="c43" d="M932 908l17-5-13 7-18 5z"/>
<path class="c62" d="M1013 872l18-9-14 9-18 9z"/>
<path class="c100" d="M1144 796l18-11-14 9-18 11z"/>
<path class="c35" d="M850 925l18 0-14 3-18 0z"/>
<path class="c141" d="M1275 716l18-10-14 8-18 11z"/>
<path class="c81" d="M610 836l18 13-14-9-18-12z"/>
<path class="c70" d="M642 857l18 12-14-8-18-12z"/>
<path class="c92" d="M578 814l18 14-14-10-18-13z"/>
<path class="c61" d="M673 876l18 11-14-7-17-11z"/>
<path class="c103" d="M546 791l18 14-14-9-18-13z"/>
<path class="c115" d="M515 768l17 15-13-10-18-13z"/>
<path class="c127" d="M483 745l18 15-14-10-18-14z"/>
<path class="c52" d="M705 892l18 10-14-5-18-10z"/>
<path class="c86" d="M1094 825l18-10-13 9-18 11z"/>
<path class="c126" d="M1226 746l18-10-14 8-18 11z"/>
<path class="c139" d="M451 721l18 15-14-10-18-14z"/>
<path class="c167" d="M1357 666l18-10-14 9-18 11z"/>
<path class="c51" d="M963 895l18-7-14 9-18 6z"/>
<path class="c152" d="M419 696l18 16-14-10-18-15z"/>
<path class="c46" d="M737 906l18 8-14-4-18-8z"/>
<path class="c38" d="M882 920l18-1-14 5-18 1z"/>
<path class="c41" d="M769 916l18 6-14-2-18-6z"/>
<path class="c73" d="M1045 853l18-9-14 10-18 9z"/>
<path class="c112" d="M1176 776l18-10-14 8-18 11z"/>
<path class="c153" d="M1307 696l18-10-14 9-18 11z"/>
<path class="c39" d="M800 922l18 4-14 0-17-4z"/>
<path class="c44" d="M914 912l18-4-14 7-18 4z"/>
<path class="c98" d="M1126 806l18-10-14 9-18 10z"/>
<path class="c61" d="M995 879l18-7-14 9-18 7z"/>
<path class="c138" d="M1257 727l18-11-14 9-17 11z"/>
<path class="c39" d="M832 923l18 2-14 3-18-2z"/>
<path class="c84" d="M1076 834l18-9-13 10-18 9z"/>
<path class="c124" d="M1208 757l18-11-14 9-18 11z"/>
<path class="c165" d="M1339 675l18-9-14 10-18 10z"/>
<path class="c51" d="M945 900l18-5-14 8-17 5z"/>
<path class="c81" d="M624 843l18 14-14-8-18-13z"/>
<path class="c91" d="M592 822l18 14-14-8-18-14z"/>
<path class="c41" d="M864 921l18-1-14 5-18 0z"/>
<path class="c71" d="M655 863l18 13-13-7-18-12z"/>
<path class="c103" d="M560 799l18 15-14-9-18-14z"/>
<path class="c114" d="M528 777l18 14-14-8-17-15z"/>
<path class="c62" d="M687 881l18 11-14-5-18-11z"/>
<path class="c109" d="M1158 786l18-10-14 9-18 11z"/>
<path class="c71" d="M1027 862l18-9-14 10-18 9z"/>
<path class="c126" d="M497 753l18 15-14-8-18-15z"/>
<path class="c150" d="M1289 706l18-10-14 10-18 10z"/>
<path class="c138" d="M465 730l18 15-14-9-18-15z"/>
<path class="c54" d="M719 896l18 10-14-4-18-10z"/>
<path class="c151" d="M433 705l18 16-14-9-18-16z"/>
<path class="c49" d="M751 908l18 8-14-2-18-8z"/>
<path class="c96" d="M1108 815l18-9-14 9-18 10z"/>
<path class="c135" d="M1239 737l18-10-13 9-18 10z"/>
<path class="c46" d="M896 914l18-2-14 7-18 1z"/>
<path class="c60" d="M977 885l18-6-14 9-18 7z"/>
<path class="c45" d="M782 916l18 6-13 0-18-6z"/>
<path class="c82" d="M1059 843l17-9-13 10-18 9z"/>
<path class="c121" d="M1190 766l18-9-14 9-18 10z"/>
<path class="c163" d="M1321 685l18-10-14 11-18 10z"/>
<path class="c44" d="M814 919l18 4-14 3-18-4z"/>
<path class="c52" d="M927 904l18-4-13 8-18 4z"/>
<path class="c107" d="M1140 795l18-9-14 10-18 10z"/>
<path class="c70" d="M1009 869l18-7-14 10-18 7z"/>
<path class="c148" d="M1271 716l18-10-14 10-18 11z"/>
<path class="c45" d="M846 919l18 2-14 4-18-2z"/>
<path class="c92" d="M606 828l18 15-14-7-18-14z"/>
<path class="c81" d="M637 849l18 14-13-6-18-14z"/>
<path class="c103" d="M574 807l18 15-14-8-18-15z"/>
<path class="c94" d="M1090 824l18-9-14 10-18 9z"/>
<path class="c133" d="M1221 746l18-9-13 9-18 11z"/>
<path class="c114" d="M542 784l18 15-14-8-18-14z"/>
<path class="c72" d="M669 868l18 13-14-5-18-13z"/>
<path class="c126" d="M510 761l18 16-13-9-18-15z"/>
<path class="c138" d="M479 738l18 15-14-8-18-15z"/>
<path class="c63" d="M701 885l18 11-14-4-18-11z"/>
<path class="c61" d="M959 890l18-5-14 10-18 5z"/>
<path class="c150" d="M447 713l18 17-14-9-18-16z"/>
<path class="c49" d="M878 914l18 0-14 6-18 1z"/>
<path class="c57" d="M733 898l18 10-14-2-18-10z"/>
<path class="c119" d="M1172 775l18-9-14 10-18 10z"/>
<path class="c81" d="M1041 850l18-7-14 10-18 9z"/>
<path class="c161" d="M1303 694l18-9-14 11-18 10z"/>
<path class="c52" d="M764 908l18 8-13 0-18-8z"/>
<path class="c50" d="M796 914l18 5-14 3-18-6z"/>
<path class="c106" d="M1122 804l18-9-14 11-18 9z"/>
<path class="c54" d="M909 906l18-2-13 8-18 2z"/>
<path class="c146" d="M1253 725l18-9-14 11-18 10z"/>
<path class="c70" d="M991 874l18-5-14 10-18 6z"/>
<path class="c50" d="M828 915l18 4-14 4-18-4z"/>
<path class="c93" d="M1072 831l18-7-14 10-17 9z"/>
<path class="c131" d="M1203 755l18-9-13 11-18 9z"/>
<path class="c62" d="M941 894l18-4-14 10-18 4z"/>
<path class="c117" d="M1154 784l18-9-14 11-18 9z"/>
<path class="c52" d="M860 913l18 1-14 7-18-2z"/>
<path class="c92" d="M619 834l18 15-13-6-18-15z"/>
<path class="c103" d="M588 813l18 15-14-6-18-15z"/>
<path class="c81" d="M1023 857l18-7-14 12-18 7z"/>
<path class="c82" d="M651 854l18 14-14-5-18-14z"/>
<path class="c158" d="M1285 703l18-9-14 12-18 10z"/>
<path class="c114" d="M556 791l18 16-14-8-18-15z"/>
<path class="c126" d="M524 768l18 16-14-7-18-16z"/>
<path class="c73" d="M683 872l18 13-14-4-18-13z"/>
<path class="c138" d="M492 745l18 16-13-8-18-15z"/>
<path class="c150" d="M461 721l18 17-14-8-18-17z"/>
<path class="c66" d="M715 887l18 11-14-2-18-11z"/>
<path class="c104" d="M1104 812l18-8-14 11-18 9z"/>
<path class="c144" d="M1235 734l18-9-14 12-18 9z"/>
<path class="c61" d="M746 898l18 10-13 0-18-10z"/>
<path class="c71" d="M973 879l18-5-14 11-18 5z"/>
<path class="c57" d="M891 906l18 0-13 8-18 0z"/>
<path class="c57" d="M778 906l18 8-14 2-18-8z"/>
<path class="c129" d="M1186 764l17-9-13 11-18 9z"/>
<path class="c92" d="M1054 838l18-7-13 12-18 7z"/>
<path class="c56" d="M810 910l18 5-14 4-18-5z"/>
<path class="c63" d="M923 896l18-2-14 10-18 2z"/>
<path class="c116" d="M1136 792l18-8-14 11-18 9z"/>
<path class="c157" d="M1267 712l18-9-14 13-18 9z"/>
<path class="c81" d="M1005 863l18-6-14 12-18 5z"/>
<path class="c57" d="M842 910l18 3-14 6-18-4z"/>
<path class="c142" d="M1217 743l18-9-14 12-18 9z"/>
<path class="c103" d="M1086 819l18-7-14 12-18 7z"/>
<path class="c104" d="M602 818l17 16-13-6-18-15z"/>
<path class="c94" d="M633 839l18 15-14-5-18-15z"/>
<path class="c115" d="M570 797l18 16-14-6-18-16z"/>
<path class="c126" d="M538 775l18 16-14-7-18-16z"/>
<path class="c84" d="M665 857l18 15-14-4-18-14z"/>
<path class="c138" d="M506 752l18 16-14-7-18-16z"/>
<path class="c150" d="M474 728l18 17-13-7-18-17z"/>
<path class="c72" d="M955 883l18-4-14 11-18 4z"/>
<path class="c76" d="M697 874l18 13-14-2-18-13z"/>
<path class="c61" d="M874 905l17 1-13 8-18-1z"/>
<path class="c70" d="M729 887l17 11-13 0-18-11z"/>
<path class="c128" d="M1168 772l18-8-14 11-18 9z"/>
<path class="c91" d="M1036 844l18-6-13 12-18 7z"/>
<path class="c65" d="M760 897l18 9-14 2-18-10z"/>
<path class="c115" d="M1118 799l18-7-14 12-18 8z"/>
<path class="c155" d="M1249 721l18-9-14 13-18 9z"/>
<path class="c63" d="M792 903l18 7-14 4-18-8z"/>
<path class="c66" d="M905 896l18 0-14 10-18 0z"/>
<path class="c81" d="M987 867l18-4-14 11-18 5z"/>
<path class="c140" d="M1199 751l18-8-14 12-17 9z"/>
<path class="c103" d="M1068 825l18-6-14 12-18 7z"/>
<path class="c63" d="M824 905l18 5-14 5-18-5z"/>
<path class="c73" d="M937 885l18-2-14 11-18 2z"/>
<path class="c127" d="M1150 779l18-7-14 12-18 8z"/>
<path class="c92" d="M1018 850l18-6-13 13-18 6z"/>
<path class="c65" d="M856 902l18 3-14 8-18-3z"/>
<path class="c116" d="M584 802l18 16-14-5-18-16z"/>
<path class="c105" d="M615 823l18 16-14-5-17-16z"/>
<path class="c127" d="M552 780l18 17-14-6-18-16z"/>
<path class="c96" d="M647 842l18 15-14-3-18-15z"/>
<path class="c138" d="M520 758l18 17-14-7-18-16z"/>
<path class="c150" d="M488 735l18 17-14-7-18-17z"/>
<path class="c87" d="M679 860l18 14-14-2-18-15z"/>
<path class="c79" d="M711 875l18 12-14 0-18-13z"/>
<path class="c114" d="M1100 806l18-7-14 13-18 7z"/>
<path class="c153" d="M1231 729l18-8-14 13-18 9z"/>
<path class="c74" d="M742 886l18 11-14 1-17-11z"/>
<path class="c82" d="M969 870l18-3-14 12-18 4z"/>
<path class="c70" d="M887 895l18 1-14 10-17-1z"/>
<path class="c139" d="M1181 758l18-7-13 13-18 8z"/>
<path class="c71" d="M774 894l18 9-14 3-18-9z"/>
<path class="c103" d="M1050 831l18-6-14 13-18 6z"/>
<path class="c69" d="M806 898l18 7-14 5-18-7z"/>
<path class="c126" d="M1132 786l18-7-14 13-18 7z"/>
<path class="c76" d="M919 885l18 0-14 11-18 0z"/>
<path class="c92" d="M1001 854l17-4-13 13-18 4z"/>
<path class="c71" d="M838 898l18 4-14 8-18-5z"/>
<path class="c152" d="M1213 737l18-8-14 14-18 8z"/>
<path class="c114" d="M1082 812l18-6-14 13-18 6z"/>
<path class="c118" d="M597 806l18 17-13-5-18-16z"/>
<path class="c128" d="M566 785l18 17-14-5-18-17z"/>
<path class="c107" d="M629 826l18 16-14-3-18-16z"/>
<path class="c139" d="M534 763l18 17-14-5-18-17z"/>
<path class="c151" d="M502 741l18 17-14-6-18-17z"/>
<path class="c98" d="M661 845l18 15-14-3-18-15z"/>
<path class="c84" d="M951 872l18-2-14 13-18 2z"/>
<path class="c90" d="M693 861l18 14-14-1-18-14z"/>
<path class="c138" d="M1163 765l18-7-13 14-18 7z"/>
<path class="c74" d="M869 893l18 2-13 10-18-3z"/>
<path class="c103" d="M1032 836l18-5-14 13-18 6z"/>
<path class="c84" d="M724 874l18 12-13 1-18-12z"/>
<path class="c79" d="M756 884l18 10-14 3-18-11z"/>
<path class="c126" d="M1114 792l18-6-14 13-18 7z"/>
<path class="c79" d="M901 884l18 1-14 11-18-1z"/>
<path class="c94" d="M983 857l18-3-14 13-18 3z"/>
<path class="c77" d="M788 890l18 8-14 5-18-9z"/>
<path class="c151" d="M1195 744l18-7-14 14-18 7z"/>
<path class="c114" d="M1064 817l18-5-14 13-18 6z"/>
<path class="c77" d="M820 891l18 7-14 7-18-7z"/>
<path class="c138" d="M1145 772l18-7-13 14-18 7z"/>
<path class="c87" d="M933 873l18-1-14 13-18 0z"/>
<path class="c104" d="M1014 839l18-3-14 14-17 4z"/>
<path class="c79" d="M851 889l18 4-13 9-18-4z"/>
<path class="c130" d="M579 789l18 17-13-4-18-17z"/>
<path class="c141" d="M548 768l18 17-14-5-18-17z"/>
<path class="c120" d="M611 809l18 17-14-3-18-17z"/>
<path class="c152" d="M516 746l18 17-14-5-18-17z"/>
<path class="c110" d="M643 828l18 17-14-3-18-16z"/>
<path class="c101" d="M675 846l18 15-14-1-18-15z"/>
<path class="c126" d="M1096 797l18-5-14 14-18 6z"/>
<path class="c94" d="M706 860l18 14-13 1-18-14z"/>
<path class="c89" d="M738 872l18 12-14 2-18-12z"/>
<path class="c96" d="M965 858l18-1-14 13-18 2z"/>
<path class="c84" d="M883 882l18 2-14 11-18-2z"/>
<path class="c150" d="M1177 751l18-7-14 14-18 7z"/>
<path class="c115" d="M1046 821l18-4-14 14-18 5z"/>
<path class="c85" d="M770 880l18 10-14 4-18-10z"/>
<path class="c138" d="M1128 778l17-6-13 14-18 6z"/>
<path class="c84" d="M802 884l18 7-14 7-18-8z"/>
<path class="c90" d="M915 872l18 1-14 12-18-1z"/>
<path class="c105" d="M996 842l18-3-13 15-18 3z"/>
<path class="c126" d="M1078 802l18-5-14 15-18 5z"/>
<path class="c85" d="M833 883l18 6-13 9-18-7z"/>
<path class="c142" d="M561 772l18 17-13-4-18-17z"/>
<path class="c132" d="M593 792l18 17-14-3-18-17z"/>
<path class="c153" d="M530 751l18 17-14-5-18-17z"/>
<path class="c122" d="M625 811l18 17-14-2-18-17z"/>
<path class="c150" d="M1159 757l18-6-14 14-18 7z"/>
<path class="c98" d="M947 859l18-1-14 14-18 1z"/>
<path class="c113" d="M657 830l18 16-14-1-18-17z"/>
<path class="c105" d="M688 845l18 15-13 1-18-15z"/>
<path class="c116" d="M1028 825l18-4-14 15-18 3z"/>
<path class="c89" d="M865 878l18 4-14 11-18-4z"/>
<path class="c99" d="M720 859l18 13-14 2-18-14z"/>
<path class="c138" d="M1110 783l18-5-14 14-18 5z"/>
<path class="c95" d="M752 868l18 12-14 4-18-12z"/>
<path class="c107" d="M978 844l18-2-13 15-18 1z"/>
<path class="c94" d="M897 870l18 2-14 12-18-2z"/>
<path class="c92" d="M784 874l18 10-14 6-18-10z"/>
<path class="c127" d="M1060 806l18-4-14 15-18 4z"/>
<path class="c92" d="M816 876l17 7-13 8-18-7z"/>
<path class="c150" d="M1141 762l18-5-14 15-17 6z"/>
<path class="c101" d="M929 859l18 0-14 14-18-1z"/>
<path class="c118" d="M1010 827l18-2-14 14-18 3z"/>
<path class="c95" d="M847 873l18 5-14 11-18-6z"/>
<path class="c155" d="M544 755l17 17-13-4-18-17z"/>
<path class="c144" d="M575 775l18 17-14-3-18-17z"/>
<path class="c135" d="M607 794l18 17-14-2-18-17z"/>
<path class="c125" d="M639 813l18 17-14-2-18-17z"/>
<path class="c138" d="M1092 787l18-4-14 14-18 5z"/>
<path class="c117" d="M671 830l17 15-13 1-18-16z"/>
<path class="c110" d="M702 844l18 15-14 1-18-15z"/>
<path class="c110" d="M960 845l18-1-13 14-18 1z"/>
<path class="c105" d="M734 855l18 13-14 4-18-13z"/>
<path class="c99" d="M879 867l18 3-14 12-18-4z"/>
<path class="c128" d="M1042 809l18-3-14 15-18 4z"/>
<path class="c101" d="M766 863l18 11-14 6-18-12z"/>
<path class="c150" d="M1123 767l18-5-13 16-18 5z"/>
<path class="c100" d="M798 867l18 9-14 8-18-10z"/>
<path class="c105" d="M911 857l18 2-14 13-18-2z"/>
<path class="c120" d="M992 829l18-2-14 15-18 2z"/>
<path class="c139" d="M1074 791l18-4-14 15-18 4z"/>
<path class="c101" d="M829 866l18 7-14 10-17-7z"/>
<path class="c157" d="M557 758l18 17-14-3-17-17z"/>
<path class="c147" d="M589 777l18 17-14-2-18-17z"/>
<path class="c138" d="M621 796l18 17-14-2-18-17z"/>
<path class="c113" d="M943 844l17 1-13 14-18 0z"/>
<path class="c129" d="M653 813l18 17-14 0-18-17z"/>
<path class="c130" d="M1024 812l18-3-14 16-18 2z"/>
<path class="c121" d="M684 829l18 15-14 1-17-15z"/>
<path class="c105" d="M861 862l18 5-14 11-18-5z"/>
<path class="c115" d="M716 841l18 14-14 4-18-15z"/>
<path class="c151" d="M1105 772l18-5-13 16-18 4z"/>
<path class="c111" d="M748 851l18 12-14 5-18-13z"/>
<path class="c122" d="M974 829l18 0-14 15-18 1z"/>
<path class="c110" d="M893 854l18 3-14 13-18-3z"/>
<path class="c109" d="M780 857l18 10-14 7-18-11z"/>
<path class="c141" d="M1056 794l18-3-14 15-18 3z"/>
<path class="c109" d="M811 858l18 8-13 10-18-9z"/>
<path class="c117" d="M925 843l18 1-14 15-18-2z"/>
<path class="c132" d="M1006 813l18-1-14 15-18 2z"/>
<path class="c159" d="M571 760l18 17-14-2-18-17z"/>
<path class="c152" d="M1088 775l17-3-13 15-18 4z"/>
<path class="c111" d="M843 856l18 6-14 11-18-7z"/>
<path class="c150" d="M603 779l18 17-14-2-18-17z"/>
<path class="c141" d="M635 796l18 17-14 0-18-17z"/>
<path class="c133" d="M666 812l18 17-13 1-18-17z"/>
<path class="c126" d="M698 826l18 15-14 3-18-15z"/>
<path class="c125" d="M956 829l18 0-14 16-17-1z"/>
<path class="c121" d="M730 838l18 13-14 4-18-14z"/>
<path class="c142" d="M1038 796l18-2-14 15-18 3z"/>
<path class="c115" d="M875 850l18 4-14 13-18-5z"/>
<path class="c118" d="M762 845l18 12-14 6-18-12z"/>
<path class="c117" d="M793 849l18 9-13 9-18-10z"/>
<path class="c135" d="M988 814l18-1-14 16-18 0z"/>
<path class="c121" d="M907 840l18 3-14 14-18-3z"/>
<path class="c153" d="M1070 778l18-3-14 16-18 3z"/>
<path class="c118" d="M825 848l18 8-14 10-18-8z"/>
<path class="c162" d="M585 762l18 17-14-2-18-17z"/>
<path class="c153" d="M617 780l18 16-14 0-18-17z"/>
<path class="c129" d="M938 828l18 1-13 15-18-1z"/>
<path class="c145" d="M648 796l18 16-13 1-18-17z"/>
<path class="c144" d="M1020 798l18-2-14 16-18 1z"/>
<path class="c138" d="M680 811l18 15-14 3-18-17z"/>
<path class="c121" d="M857 844l18 6-14 12-18-6z"/>
<path class="c132" d="M712 823l18 15-14 3-18-15z"/>
<path class="c128" d="M744 832l18 13-14 6-18-13z"/>
<path class="c138" d="M970 814l18 0-14 15-18 0z"/>
<path class="c126" d="M889 836l18 4-14 14-18-4z"/>
<path class="c155" d="M1052 781l18-3-14 16-18 2z"/>
<path class="c126" d="M775 838l18 11-13 8-18-12z"/>
<path class="c126" d="M807 840l18 8-14 10-18-9z"/>
<path class="c133" d="M920 825l18 3-13 15-18-3z"/>
<path class="c147" d="M1002 798l18 0-14 15-18 1z"/>
<path class="c165" d="M599 763l18 17-14-1-18-17z"/>
<path class="c128" d="M839 837l18 7-14 12-18-8z"/>
<path class="c157" d="M630 779l18 17-13 0-18-16z"/>
<path class="c150" d="M662 795l18 16-14 1-18-16z"/>
<path class="c143" d="M694 808l18 15-14 3-18-15z"/>
<path class="c141" d="M952 813l18 1-14 15-18-1z"/>
<path class="c157" d="M1034 782l18-1-14 15-18 2z"/>
<path class="c139" d="M726 819l18 13-14 6-18-15z"/>
<path class="c132" d="M871 831l18 5-14 14-18-6z"/>
<path class="c135" d="M758 826l17 12-13 7-18-13z"/>
<path class="c150" d="M984 798l18 0-14 16-18 0z"/>
<path class="c134" d="M789 829l18 11-14 9-18-11z"/>
<path class="c138" d="M902 822l18 3-13 15-18-4z"/>
<path class="c135" d="M821 829l18 8-14 11-18-8z"/>
<path class="c169" d="M613 763l17 16-13 1-18-17z"/>
<path class="c145" d="M934 811l18 2-14 15-18-3z"/>
<path class="c159" d="M1016 783l18-1-14 16-18 0z"/>
<path class="c162" d="M644 778l18 17-14 1-18-17z"/>
<path class="c155" d="M676 792l18 16-14 3-18-16z"/>
<path class="c139" d="M853 825l18 6-14 13-18-7z"/>
<path class="c149" d="M708 804l18 15-14 4-18-15z"/>
<path class="c145" d="M740 813l18 13-14 6-18-13z"/>
<path class="c153" d="M966 797l18 1-14 16-18-1z"/>
<path class="c143" d="M885 818l17 4-13 14-18-5z"/>
<path class="c143" d="M771 818l18 11-14 9-17-12z"/>
<path class="c143" d="M803 820l18 9-14 11-18-11z"/>
<path class="c162" d="M998 783l18 0-14 15-18 0z"/>
<path class="c150" d="M916 808l18 3-14 14-18-3z"/>
<path class="c145" d="M835 818l18 7-14 12-18-8z"/>
<path class="c173" d="M626 762l18 16-14 1-17-16z"/>
<path class="c167" d="M658 776l18 16-14 3-18-17z"/>
<path class="c161" d="M690 789l18 15-14 4-18-16z"/>
<path class="c157" d="M948 796l18 1-14 16-18-2z"/>
<path class="c156" d="M722 799l18 14-14 6-18-15z"/>
<path class="c149" d="M867 812l18 6-14 13-18-6z"/>
<path class="c153" d="M753 806l18 12-13 8-18-13z"/>
<path class="c165" d="M980 783l18 0-14 15-18-1z"/>
<path class="c155" d="M898 804l18 4-14 14-17-4z"/>
<path class="c152" d="M785 809l18 11-14 9-18-11z"/>
<path class="c153" d="M817 809l18 9-14 11-18-9z"/>
<path class="c162" d="M930 793l18 3-14 15-18-3z"/>
<path class="c178" d="M640 761l18 15-14 2-18-16z"/>
<path class="c172" d="M672 773l18 16-14 3-18-16z"/>
<path class="c156" d="M849 805l18 7-14 13-18-7z"/>
<path class="c167" d="M704 784l18 15-14 5-18-15z"/>
<path class="c169" d="M962 781l18 2-14 14-18-1z"/>
<path class="c163" d="M735 793l18 13-13 7-18-14z"/>
<path class="c161" d="M880 799l18 5-13 14-18-6z"/>
<path class="c161" d="M767 798l18 11-14 9-18-12z"/>
<path class="c161" d="M799 800l18 9-14 11-18-11z"/>
<path class="c167" d="M912 789l18 4-14 15-18-4z"/>
<path class="c163" d="M831 798l18 7-14 13-18-9z"/>
<path class="c184" d="M654 758l18 15-14 3-18-15z"/>
<path class="c173" d="M944 779l18 2-14 15-18-3z"/>
<path class="c178" d="M686 769l18 15-14 5-18-16z"/>
<path class="c174" d="M717 779l18 14-13 6-18-15z"/>
<path class="c167" d="M862 792l18 7-13 13-18-7z"/>
<path class="c171" d="M749 785l18 13-14 8-18-13z"/>
<path class="c172" d="M894 785l18 4-14 15-18-5z"/>
<path class="c170" d="M781 789l18 11-14 9-18-11z"/>
<path class="c171" d="M813 789l18 9-14 11-18-9z"/>
<path class="c178" d="M926 775l18 4-14 14-18-4z"/>
<path class="c190" d="M668 754l18 15-14 4-18-15z"/>
<path class="c174" d="M844 785l18 7-13 13-18-7z"/>
<path class="c185" d="M700 764l17 15-13 5-18-15z"/>
<path class="c182" d="M731 772l18 13-14 8-18-14z"/>
<path class="c178" d="M876 779l18 6-14 14-18-7z"/>
<path class="c180" d="M763 777l18 12-14 9-18-13z"/>
<path class="c180" d="M795 778l18 11-14 11-18-11z"/>
<path class="c184" d="M908 771l18 4-14 14-18-4z"/>
<path class="c182" d="M827 777l17 8-13 13-18-9z"/>
<path class="c197" d="M682 749l18 15-14 5-18-15z"/>
<path class="c185" d="M858 772l18 7-14 13-18-7z"/>
<path class="c193" d="M713 757l18 15-14 7-17-15z"/>
<path class="c190" d="M745 763l18 14-14 8-18-13z"/>
<path class="c190" d="M890 765l18 6-14 14-18-6z"/>
<path class="c189" d="M777 767l18 11-14 11-18-12z"/>
<path class="c190" d="M809 767l18 10-14 12-18-11z"/>
<path class="c193" d="M840 764l18 8-14 13-17-8z"/>
<path class="c204" d="M695 742l18 15-13 7-18-15z"/>
<path class="c201" d="M727 749l18 14-14 9-18-15z"/>
<path class="c197" d="M872 758l18 7-14 14-18-7z"/>
<path class="c199" d="M759 754l18 13-14 10-18-14z"/>
<path class="c199" d="M791 756l18 11-14 11-18-11z"/>
<path class="c201" d="M822 754l18 10-13 13-18-10z"/>
<path class="c204" d="M854 750l18 8-14 14-18-8z"/>
<path class="c212" d="M709 734l18 15-14 8-18-15z"/>
<path class="c210" d="M741 740l18 14-14 9-18-14z"/>
<path class="c209" d="M773 743l18 13-14 11-18-13z"/>
<path class="c210" d="M804 743l18 11-13 13-18-11z"/>
<path class="c212" d="M836 740l18 10-14 14-18-10z"/>
<path class="c222" d="M723 724l18 16-14 9-18-15z"/>
<path class="c220" d="M755 728l18 15-14 11-18-14z"/>
<path class="c220" d="M786 730l18 13-13 13-18-13z"/>
<path class="c222" d="M818 729l18 11-14 14-18-11z"/>
<path class="c232" d="M737 712l18 16-14 12-18-16z"/>
<path class="c231" d="M769 716l17 14-13 13-18-15z"/>
<path class="c232" d="M800 716l18 13-14 14-18-13z"/>
<path class="c243" d="M751 699l18 17-14 12-18-16z"/>
<path class="c243" d="M782 701l18 15-14 14-17-14z"/>
<path class="c255" d="M764 683l18 18-13 15-18-17z"/>
</g>
<line x1="382.20" y1="605.40" x2="741.20" y2="497.30" stroke="#262626" stroke-width="1.10"/>
<line x1="382.20" y1="605.40" x2="106.10" y2="464.80" stroke="#262626" stroke-width="1.10"/>
<line x1="106.10" y1="464.80" x2="106.10" y2="158.40" stroke="#262626" stroke-width="1.10"/>
<line x1="382.20" y1="605.40" x2="391.11" y2="609.94" stroke="#262626" stroke-width="1.10"/>
<line x1="471.95" y1="578.38" x2="480.86" y2="582.91" stroke="#262626" stroke-width="1.10"/>
<line x1="561.70" y1="551.35" x2="570.61" y2="555.89" stroke="#262626" stroke-width="1.10"/>
<line x1="651.45" y1="524.33" x2="660.36" y2="528.86" stroke="#262626" stroke-width="1.10"/>
<line x1="741.20" y1="497.30" x2="750.11" y2="501.84" stroke="#262626" stroke-width="1.10"/>
<line x1="382.20" y1="605.40" x2="372.62" y2="608.28" stroke="#262626" stroke-width="1.10"/>
<line x1="313.18" y1="570.25" x2="303.60" y2="573.13" stroke="#262626" stroke-width="1.10"/>
<line x1="244.15" y1="535.10" x2="234.57" y2="537.98" stroke="#262626" stroke-width="1.10"/>
<line x1="175.13" y1="499.95" x2="165.55" y2="502.83" stroke="#262626" stroke-width="1.10"/>
<line x1="106.10" y1="464.80" x2="96.52" y2="467.68" stroke="#262626" stroke-width="1.10"/>
<line x1="106.10" y1="464.80" x2="97.19" y2="460.26" stroke="#262626" stroke-width="1.10"/>
<line x1="106.10" y1="403.52" x2="97.19" y2="398.98" stroke="#262626" stroke-width="1.10"/>
<line x1="106.10" y1="342.24" x2="97.19" y2="337.70" stroke="#262626" stroke-width="1.10"/>
<line x1="106.10" y1="280.96" x2="97.19" y2="276.42" stroke="#262626" stroke-width="1.10"/>
<line x1="106.10" y1="219.68" x2="97.19" y2="215.14" stroke="#262626" stroke-width="1.10"/>
<line x1="106.10" y1="158.40" x2="97.19" y2="153.86" stroke="#262626" stroke-width="1.10"/>
<g font-family='"Liberation Sans", Arial, Helvetica, sans-serif' font-size="20.0" fill="#262626">
<text x="397.7" y="634.4">-1</text>
<text x="487.5" y="607.4">-0.5</text>
<text x="577.2" y="580.4">0</text>
<text x="667.0" y="553.3">0.5</text>
<text x="756.7" y="526.3">1</text>
<text x="364.7" y="631.4" text-anchor="end">-1</text>
<text x="295.7" y="596.2" text-anchor="end">-0.5</text>
<text x="226.7" y="561.1" text-anchor="end">0</text>
<text x="157.6" y="526.0" text-anchor="end">0.5</text>
<text x="88.6" y="490.8" text-anchor="end">1</text>
<text x="91.2" y="465.2" text-anchor="end">0</text>
<text x="91.2" y="403.9" text-anchor="end">0.5</text>
<text x="91.2" y="342.6" text-anchor="end">1</text>
<text x="91.2" y="281.4" text-anchor="end">1.5</text>
<text x="91.2" y="220.1" text-anchor="end">2</text>
<text x="91.2" y="158.8" text-anchor="end">2.5</text>
</g>
<g font-family='"Liberation Serif", "Times New Roman", serif' font-size="35.5" fill="#000"><text x="331.8" y="733.1">(a)</text><text x="384.3" y="733.1">SQSVR</text></g>
<!-- subplot b -->
<g stroke="#262626" stroke-opacity="0.15" stroke-width="1">
<line x1="1012.80" y1="464.80" x2="1012.80" y2="158.40"/>
<line x1="1102.55" y1="437.77" x2="1102.55" y2="131.38"/>
<line x1="1192.30" y1="410.75" x2="1192.30" y2="104.35"/>
<line x1="1282.05" y1="383.73" x2="1282.05" y2="77.33"/>
<line x1="1371.80" y1="356.70" x2="1371.80" y2="50.30"/>
<line x1="1012.80" y1="464.80" x2="1371.80" y2="356.70"/>
<line x1="1012.80" y1="362.67" x2="1371.80" y2="254.57"/>
<line x1="1012.80" y1="260.53" x2="1371.80" y2="152.43"/>
<line x1="1012.80" y1="158.40" x2="1371.80" y2="50.30"/>
<line x1="1647.90" y1="497.30" x2="1647.90" y2="190.90"/>
<line x1="1578.88" y1="462.15" x2="1578.88" y2="155.75"/>
<line x1="1509.85" y1="427.00" x2="1509.85" y2="120.60"/>
<line x1="1440.82" y1="391.85" x2="1440.82" y2="85.45"/>
<line x1="1371.80" y1="356.70" x2="1371.80" y2="50.30"/>
<line x1="1647.90" y1="497.30" x2="1371.80" y2="356.70"/>
<line x1="1647.90" y1="395.17" x2="1371.80" y2="254.57"/>
<line x1="1647.90" y1="293.03" x2="1371.80" y2="152.43"/>
<line x1="1647.90" y1="190.90" x2="1371.80" y2="50.30"/>
<line x1="1288.90" y1="605.40" x2="1012.80" y2="464.80"/>
<line x1="1378.65" y1="578.38" x2="1102.55" y2="437.77"/>
<line x1="1468.40" y1="551.35" x2="1192.30" y2="410.75"/>
<line x1="1558.15" y1="524.33" x2="1282.05" y2="383.73"/>
<line x1="1647.90" y1="497.30" x2="1371.80" y2="356.70"/>
<line x1="1288.90" y1="605.40" x2="1647.90" y2="497.30"/>
<line x1="1219.88" y1="570.25" x2="1578.88" y2="462.15"/>
<line x1="1150.85" y1="535.10" x2="1509.85" y2="427.00"/>
<line x1="1081.82" y1="499.95" x2="1440.82" y2="391.85"/>
<line x1="1012.80" y1="464.80" x2="1371.80" y2="356.70"/>
</g>
<g transform="scale(0.5)" stroke="#000" stroke-width="2.00" stroke-linejoin="round">
<path class="c91" d="M2739 462l18-23-13-19-18 24z"/>
<path class="c83" d="M2722 483l17-21-13-18-18 22z"/>
<path class="c85" d="M2753 479l18-22-14-18-18 23z"/>
<path class="c75" d="M2704 503l18-20-14-17-18 20z"/>
<path class="c77" d="M2735 501l18-22-14-17-17 21z"/>
<path class="c81" d="M2767 496l18-22-14-17-18 22z"/>
<path class="c69" d="M2686 521l18-18-14-17-18 18z"/>
<path class="c70" d="M2717 520l18-19-13-18-18 20z"/>
<path class="c73" d="M2749 517l18-21-14-17-18 22z"/>
<path class="c63" d="M2668 538l18-17-14-17-18 17z"/>
<path class="c76" d="M2781 512l18-22-14-16-18 22z"/>
<path class="c64" d="M2699 538l18-18-13-17-18 18z"/>
<path class="c66" d="M2731 536l18-19-14-16-18 19z"/>
<path class="c59" d="M2650 553l18-15-14-17-18 14z"/>
<path class="c68" d="M2763 533l18-21-14-16-18 21z"/>
<path class="c58" d="M2681 554l18-16-13-17-18 17z"/>
<path class="c72" d="M2795 528l18-22-14-16-18 22z"/>
<path class="c59" d="M2713 554l18-18-14-16-18 18z"/>
<path class="c55" d="M2632 566l18-13-14-18-18 13z"/>
<path class="c61" d="M2745 552l18-19-14-16-18 19z"/>
<path class="c54" d="M2664 569l17-15-13-16-18 15z"/>
<path class="c64" d="M2777 548l18-20-14-16-18 21z"/>
<path class="c54" d="M2695 570l18-16-14-16-18 16z"/>
<path class="c52" d="M2614 577l18-11-14-18-18 12z"/>
<path class="c55" d="M2727 570l18-18-14-16-18 18z"/>
<path class="c68" d="M2808 543l18-21-13-16-18 22z"/>
<path class="c50" d="M2646 582l18-13-14-16-18 13z"/>
<path class="c57" d="M2759 567l18-19-14-15-18 19z"/>
<path class="c49" d="M2677 585l18-15-14-16-17 15z"/>
<path class="c60" d="M2791 563l17-20-13-15-18 20z"/>
<path class="c50" d="M2709 586l18-16-14-16-18 16z"/>
<path class="c49" d="M2596 587l18-10-14-17-18 10z"/>
<path class="c47" d="M2628 594l18-12-14-16-18 11z"/>
<path class="c51" d="M2741 584l18-17-14-15-18 18z"/>
<path class="c64" d="M2822 557l18-21-14-14-18 21z"/>
<path class="c45" d="M2659 598l18-13-13-16-18 13z"/>
<path class="c54" d="M2773 581l18-18-14-15-18 19z"/>
<path class="c45" d="M2691 600l18-14-14-16-18 15z"/>
<path class="c48" d="M2578 596l18-9-14-17-18 9z"/>
<path class="c57" d="M2804 576l18-19-14-14-17 20z"/>
<path class="c46" d="M2723 601l18-17-14-14-18 16z"/>
<path class="c44" d="M2610 604l18-10-14-17-18 10z"/>
<path class="c42" d="M2641 610l18-12-13-16-18 12z"/>
<path class="c48" d="M2755 599l18-18-14-14-18 17z"/>
<path class="c61" d="M2836 570l18-20-14-14-18 21z"/>
<path class="c41" d="M2673 614l18-14-14-15-18 13z"/>
<path class="c50" d="M2786 595l18-19-13-13-18 18z"/>
<path class="c47" d="M2560 603l18-7-14-17-18 7z"/>
<path class="c41" d="M2705 615l18-14-14-15-18 14z"/>
<path class="c43" d="M2592 613l18-9-14-17-18 9z"/>
<path class="c54" d="M2818 589l18-19-14-13-18 19z"/>
<path class="c40" d="M2623 620l18-10-13-16-18 10z"/>
<path class="c42" d="M2737 615l18-16-14-15-18 17z"/>
<path class="c38" d="M2655 625l18-11-14-16-18 12z"/>
<path class="c44" d="M2768 612l18-17-13-14-18 18z"/>
<path class="c58" d="M2850 583l18-20-14-13-18 20z"/>
<path class="c37" d="M2687 629l18-14-14-15-18 14z"/>
<path class="c46" d="M2542 609l18-6-14-17-18 6z"/>
<path class="c42" d="M2574 620l18-7-14-17-18 7z"/>
<path class="c47" d="M2800 608l18-19-14-13-18 19z"/>
<path class="c37" d="M2719 630l18-15-14-14-18 14z"/>
<path class="c38" d="M2606 629l17-9-13-16-18 9z"/>
<path class="c35" d="M2637 636l18-11-14-15-18 10z"/>
<path class="c51" d="M2832 602l18-19-14-13-18 19z"/>
<path class="c39" d="M2750 628l18-16-13-13-18 16z"/>
<path class="c34" d="M2669 641l18-12-14-15-18 11z"/>
<path class="c47" d="M2524 614l18-5-14-17-18 5z"/>
<path class="c41" d="M2782 625l18-17-14-13-18 17z"/>
<path class="c56" d="M2864 594l18-19-14-12-18 20z"/>
<path class="c33" d="M2701 643l18-13-14-15-18 14z"/>
<path class="c41" d="M2556 626l18-6-14-17-18 6z"/>
<path class="c37" d="M2588 636l18-7-14-16-18 7z"/>
<path class="c45" d="M2814 620l18-18-14-13-18 19z"/>
<path class="c34" d="M2733 643l17-15-13-13-18 15z"/>
<path class="c34" d="M2619 645l18-9-14-16-17 9z"/>
<path class="c31" d="M2651 651l18-10-14-16-18 11z"/>
<path class="c36" d="M2764 641l18-16-14-13-18 16z"/>
<path class="c49" d="M2846 613l18-19-14-11-18 19z"/>
<path class="c47" d="M2506 618l18-4-14-17-18 4z"/>
<path class="c30" d="M2683 655l18-12-14-14-18 12z"/>
<path class="c42" d="M2538 631l18-5-14-17-18 5z"/>
<path class="c39" d="M2796 637l18-17-14-12-18 17z"/>
<path class="c54" d="M2878 605l17-19-13-11-18 19z"/>
<path class="c37" d="M2570 643l18-7-14-16-18 6z"/>
<path class="c30" d="M2715 657l18-14-14-13-18 13z"/>
<path class="c32" d="M2601 652l18-7-13-16-18 7z"/>
<path class="c43" d="M2828 631l18-18-14-11-18 18z"/>
<path class="c31" d="M2746 656l18-15-14-13-17 15z"/>
<path class="c29" d="M2633 660l18-9-14-15-18 9z"/>
<path class="c27" d="M2665 666l18-11-14-14-18 10z"/>
<path class="c49" d="M2488 621l18-3-14-17-18 3z"/>
<path class="c34" d="M2778 653l18-16-14-12-18 16z"/>
<path class="c48" d="M2860 623l18-18-14-11-18 19z"/>
<path class="c42" d="M2520 635l18-4-14-17-18 4z"/>
<path class="c27" d="M2697 669l18-12-14-14-18 12z"/>
<path class="c37" d="M2552 648l18-5-14-17-18 5z"/>
<path class="c32" d="M2583 659l18-7-13-16-18 7z"/>
<path class="c37" d="M2810 648l18-17-14-11-18 17z"/>
<path class="c53" d="M2891 614l18-18-14-10-17 19z"/>
<path class="c27" d="M2728 669l18-13-13-13-18 14z"/>
<path class="c28" d="M2615 668l18-8-14-15-18 7z"/>
<path class="c25" d="M2647 675l18-9-14-15-18 9z"/>
<path class="c41" d="M2842 641l18-18-14-10-18 18z"/>
<path class="c29" d="M2760 668l18-15-14-12-18 15z"/>
<path class="c50" d="M2470 623l18-2-14-17-18 2z"/>
<path class="c24" d="M2679 680l18-11-14-14-18 11z"/>
<path class="c44" d="M2502 638l18-3-14-17-18 3z"/>
<path class="c32" d="M2792 664l18-16-14-11-18 16z"/>
<path class="c37" d="M2534 652l18-4-14-17-18 4z"/>
<path class="c46" d="M2873 632l18-18-13-9-18 18z"/>
<path class="c24" d="M2710 682l18-13-13-12-18 12z"/>
<path class="c32" d="M2565 664l18-5-13-16-18 5z"/>
<path class="c28" d="M2597 675l18-7-14-16-18 7z"/>
<path class="c36" d="M2824 658l18-17-14-10-18 17z"/>
<path class="c25" d="M2742 682l18-14-14-12-18 13z"/>
<path class="c52" d="M2905 623l18-18-14-9-18 18z"/>
<path class="c24" d="M2629 683l18-8-14-15-18 8z"/>
<path class="c22" d="M2661 689l18-9-14-14-18 9z"/>
<path class="c27" d="M2774 679l18-15-14-11-18 15z"/>
<path class="c40" d="M2855 650l18-18-13-9-18 18z"/>
<path class="c52" d="M2452 624l18-1-14-17-18 1z"/>
<path class="c45" d="M2484 640l18-2-14-17-18 2z"/>
<path class="c21" d="M2692 693l18-11-13-13-18 11z"/>
<path class="c39" d="M2516 655l18-3-14-17-18 3z"/>
<path class="c33" d="M2548 668l17-4-13-16-18 4z"/>
<path class="c30" d="M2806 674l18-16-14-10-18 16z"/>
<path class="c46" d="M2887 641l18-18-14-9-18 18z"/>
<path class="c28" d="M2579 680l18-5-14-16-18 5z"/>
<path class="c21" d="M2724 694l18-12-14-13-18 13z"/>
<path class="c23" d="M2611 690l18-7-14-15-18 7z"/>
<path class="c35" d="M2837 667l18-17-13-9-18 17z"/>
<path class="c22" d="M2756 693l18-14-14-11-18 14z"/>
<path class="c20" d="M2643 698l18-9-14-14-18 8z"/>
<path class="c52" d="M2919 631l18-18-14-8-18 18z"/>
<path class="c55" d="M2434 625l18-1-14-17-18 1z"/>
<path class="c18" d="M2675 703l17-10-13-13-18 9z"/>
<path class="c47" d="M2466 641l18-1-14-17-18 1z"/>
<path class="c25" d="M2788 689l18-15-14-10-18 15z"/>
<path class="c40" d="M2498 657l18-2-14-17-18 2z"/>
<path class="c40" d="M2869 658l18-17-14-9-18 18z"/>
<path class="c34" d="M2530 671l18-3-14-16-18 3z"/>
<path class="c18" d="M2706 706l18-12-14-12-18 11z"/>
<path class="c28" d="M2561 684l18-4-14-16-17 4z"/>
<path class="c23" d="M2593 695l18-5-14-15-18 5z"/>
<path class="c29" d="M2820 683l17-16-13-9-18 16z"/>
<path class="c19" d="M2738 706l18-13-14-11-18 12z"/>
<path class="c46" d="M2901 648l18-17-14-8-18 18z"/>
<path class="c19" d="M2625 705l18-7-14-15-18 7z"/>
<path class="c17" d="M2657 711l18-8-14-14-18 9z"/>
<path class="c21" d="M2770 703l18-14-14-10-18 14z"/>
<path class="c34" d="M2851 675l18-17-14-8-18 17z"/>
<path class="c58" d="M2416 625l18 0-14-17-17 0z"/>
<path class="c50" d="M2448 641l18 0-14-17-18 1z"/>
<path class="c52" d="M2933 637l18-17-14-7-18 18z"/>
<path class="c43" d="M2480 658l18-1-14-17-18 1z"/>
<path class="c16" d="M2688 716l18-10-14-13-17 10z"/>
<path class="c36" d="M2512 673l18-2-14-16-18 2z"/>
<path class="c24" d="M2802 698l18-15-14-9-18 15z"/>
<path class="c29" d="M2543 687l18-3-13-16-18 3z"/>
<path class="c40" d="M2883 665l18-17-14-7-18 17z"/>
<path class="c16" d="M2720 717l18-11-14-12-18 12z"/>
<path class="c24" d="M2575 700l18-5-14-15-18 4z"/>
<path class="c19" d="M2607 710l18-5-14-15-18 5z"/>
<path class="c29" d="M2833 691l18-16-14-8-17 16z"/>
<path class="c17" d="M2752 716l18-13-14-10-18 13z"/>
<path class="c16" d="M2639 719l18-8-14-13-18 7z"/>
<path class="c46" d="M2915 654l18-17-14-6-18 17z"/>
<path class="c61" d="M2398 624l18 1-13-17-18 0z"/>
<path class="c14" d="M2670 725l18-9-13-13-18 8z"/>
<path class="c53" d="M2430 641l18 0-14-16-18 0z"/>
<path class="c20" d="M2784 712l18-14-14-9-18 14z"/>
<path class="c45" d="M2462 658l18 0-14-17-18 0z"/>
<path class="c34" d="M2865 682l18-17-14-7-18 17z"/>
<path class="c38" d="M2494 674l18-1-14-16-18 1z"/>
<path class="c13" d="M2702 728l18-11-14-11-18 10z"/>
<path class="c31" d="M2525 689l18-2-13-16-18 2z"/>
<path class="c53" d="M2947 643l17-17-13-6-18 17z"/>
<path class="c25" d="M2557 703l18-3-14-16-18 3z"/>
<path class="c24" d="M2815 706l18-15-13-8-18 15z"/>
<path class="c20" d="M2589 715l18-5-14-15-18 5z"/>
<path class="c14" d="M2734 728l18-12-14-10-18 11z"/>
<path class="c40" d="M2897 671l18-17-14-6-18 17z"/>
<path class="c16" d="M2621 725l18-6-14-14-18 5z"/>
<path class="c13" d="M2652 732l18-7-13-14-18 8z"/>
<path class="c16" d="M2766 726l18-14-14-9-18 13z"/>
<path class="c29" d="M2847 698l18-16-14-7-18 16z"/>
<path class="c64" d="M2380 623l18 1-13-16-18-1z"/>
<path class="c47" d="M2929 659l18-16-14-6-18 17z"/>
<path class="c56" d="M2412 640l18 1-14-16-18-1z"/>
<path class="c48" d="M2444 658l18 0-14-17-18 0z"/>
<path class="c11" d="M2684 737l18-9-14-12-18 9z"/>
<path class="c40" d="M2476 674l18 0-14-16-18 0z"/>
<path class="c33" d="M2507 691l18-2-13-16-18 1z"/>
<path class="c19" d="M2797 720l18-14-13-8-18 14z"/>
<path class="c35" d="M2879 687l18-16-14-6-18 17z"/>
<path class="c26" d="M2539 705l18-2-14-16-18 2z"/>
<path class="c11" d="M2716 739l18-11-14-11-18 11z"/>
<path class="c21" d="M2571 719l18-4-14-15-18 3z"/>
<path class="c54" d="M2960 647l18-16-14-5-17 17z"/>
<path class="c16" d="M2603 730l18-5-14-15-18 5z"/>
<path class="c24" d="M2829 713l18-15-14-7-18 15z"/>
<path class="c12" d="M2748 738l18-12-14-10-18 12z"/>
<path class="c12" d="M2634 739l18-7-13-13-18 6z"/>
<path class="c42" d="M2911 676l18-17-14-5-18 17z"/>
<path class="c10" d="M2666 745l18-8-14-12-18 7z"/>
<path class="c68" d="M2363 621l17 2-13-16-18-2z"/>
<path class="c15" d="M2779 734l18-14-13-8-18 14z"/>
<path class="c60" d="M2394 638l18 2-14-16-18-1z"/>
<path class="c29" d="M2861 703l18-16-14-5-18 16z"/>
<path class="c52" d="M2426 656l18 2-14-17-18-1z"/>
<path class="c43" d="M2458 674l18 0-14-16-18 0z"/>
<path class="c36" d="M2490 691l17 0-13-17-18 0z"/>
<path class="c9" d="M2698 748l18-9-14-11-18 9z"/>
<path class="c49" d="M2942 663l18-16-13-4-18 16z"/>
<path class="c29" d="M2521 707l18-2-14-16-18 2z"/>
<path class="c22" d="M2553 721l18-2-14-16-18 2z"/>
<path class="c19" d="M2811 728l18-15-14-7-18 14z"/>
<path class="c17" d="M2585 734l18-4-14-15-18 4z"/>
<path class="c10" d="M2730 749l18-11-14-10-18 11z"/>
<path class="c36" d="M2893 692l18-16-14-5-18 16z"/>
<path class="c12" d="M2617 744l17-5-13-14-18 5z"/>
<path class="c56" d="M2974 650l18-15-14-4-18 16z"/>
<path class="c24" d="M2843 719l18-16-14-5-18 15z"/>
<path class="c12" d="M2762 746l17-12-13-8-18 12z"/>
<path class="c9" d="M2648 752l18-7-14-13-18 7z"/>
<path class="c43" d="M2924 679l18-16-13-4-18 17z"/>
<path class="c72" d="M2345 619l18 2-14-16-18-1z"/>
<path class="c64" d="M2376 636l18 2-14-15-17-2z"/>
<path class="c7" d="M2680 757l18-9-14-11-18 8z"/>
<path class="c55" d="M2408 654l18 2-14-16-18-2z"/>
<path class="c47" d="M2440 672l18 2-14-16-18-2z"/>
<path class="c39" d="M2472 690l18 1-14-17-18 0z"/>
<path class="c15" d="M2793 741l18-13-14-8-18 14z"/>
<path class="c31" d="M2503 707l18 0-14-16-17 0z"/>
<path class="c31" d="M2875 708l18-16-14-5-18 16z"/>
<path class="c24" d="M2535 722l18-1-14-16-18 2z"/>
<path class="c7" d="M2712 759l18-10-14-10-18 9z"/>
<path class="c18" d="M2567 736l18-2-14-15-18 2z"/>
<path class="c51" d="M2956 666l18-16-14-3-18 16z"/>
<path class="c13" d="M2599 748l18-4-14-14-18 4z"/>
<path class="c20" d="M2825 733l18-14-14-6-18 15z"/>
<path class="c9" d="M2744 758l18-12-14-8-18 11z"/>
<path class="c38" d="M2906 695l18-16-13-3-18 16z"/>
<path class="c9" d="M2630 757l18-5-14-13-17 5z"/>
<path class="c58" d="M2988 652l18-14-14-3-18 15z"/>
<path class="c7" d="M2662 764l18-7-14-12-18 7z"/>
<path class="c11" d="M2775 754l18-13-14-7-17 12z"/>
<path class="c76" d="M2327 616l18 3-14-15-18-3z"/>
<path class="c26" d="M2857 723l18-15-14-5-18 16z"/>
<path class="c68" d="M2358 634l18 2-13-15-18-2z"/>
<path class="c59" d="M2390 652l18 2-14-16-18-2z"/>
<path class="c51" d="M2422 670l18 2-14-16-18-2z"/>
<path class="c42" d="M2454 689l18 1-14-16-18-2z"/>
<path class="c6" d="M2694 767l18-8-14-11-18 9z"/>
<path class="c45" d="M2938 682l18-16-14-3-18 16z"/>
<path class="c34" d="M2485 706l18 1-13-16-18-1z"/>
<path class="c27" d="M2517 723l18-1-14-15-18 0z"/>
<path class="c15" d="M2807 747l18-14-14-5-18 13z"/>
<path class="c20" d="M2549 738l18-2-14-15-18 1z"/>
<path class="c6" d="M2726 768l18-10-14-9-18 10z"/>
<path class="c32" d="M2889 711l17-16-13-3-18 16z"/>
<path class="c14" d="M2581 751l18-3-14-14-18 2z"/>
<path class="c10" d="M2612 761l18-4-13-13-18 4z"/>
<path class="c53" d="M2970 668l18-16-14-2-18 16z"/>
<path class="c21" d="M2839 738l18-15-14-4-18 14z"/>
<path class="c8" d="M2757 766l18-12-13-8-18 12z"/>
<path class="c6" d="M2644 770l18-6-14-12-18 5z"/>
<path class="c40" d="M2920 698l18-16-14-3-18 16z"/>
<path class="c80" d="M2309 613l18 3-14-15-18-2z"/>
<path class="c5" d="M2676 775l18-8-14-10-18 7z"/>
<path class="c72" d="M2340 630l18 4-13-15-18-3z"/>
<path class="c63" d="M2372 649l18 3-14-16-18-2z"/>
<path class="c55" d="M2404 668l18 2-14-16-18-2z"/>
<path class="c12" d="M2789 760l18-13-14-6-18 13z"/>
<path class="c61" d="M3002 654l18-14-14-2-18 14z"/>
<path class="c46" d="M2436 686l18 3-14-17-18-2z"/>
<path class="c38" d="M2467 705l18 1-13-16-18-1z"/>
<path class="c27" d="M2871 727l18-16-14-3-18 15z"/>
<path class="c30" d="M2499 722l18 1-14-16-18-1z"/>
<path class="c4" d="M2708 777l18-9-14-9-18 8z"/>
<path class="c22" d="M2531 738l18 0-14-16-18 1z"/>
<path class="c48" d="M2952 683l18-15-14-2-18 16z"/>
<path class="c16" d="M2563 753l18-2-14-15-18 2z"/>
<path class="c16" d="M2821 752l18-14-14-5-18 14z"/>
<path class="c11" d="M2594 765l18-4-13-13-18 3z"/>
<path class="c5" d="M2739 776l18-10-13-8-18 10z"/>
<path class="c35" d="M2902 714l18-16-14-3-17 16z"/>
<path class="c7" d="M2626 774l18-4-14-13-18 4z"/>
<path class="c57" d="M2984 669l18-15-14-2-18 16z"/>
<path class="c4" d="M2658 781l18-6-14-11-18 6z"/>
<path class="c8" d="M2771 772l18-12-14-6-18 12z"/>
<path class="c23" d="M2853 742l18-15-14-4-18 15z"/>
<path class="c85" d="M2291 609l18 4-14-14-18-3z"/>
<path class="c77" d="M2322 627l18 3-13-14-18-3z"/>
<path class="c68" d="M2354 645l18 4-14-15-18-4z"/>
<path class="c59" d="M2386 664l18 4-14-16-18-3z"/>
<path class="c3" d="M2690 785l18-8-14-10-18 8z"/>
<path class="c50" d="M2418 683l18 3-14-16-18-2z"/>
<path class="c43" d="M2934 699l18-16-14-1-18 16z"/>
<path class="c42" d="M2449 702l18 3-13-16-18-3z"/>
<path class="c33" d="M2481 721l18 1-14-16-18-1z"/>
<path class="c25" d="M2513 738l18 0-14-15-18-1z"/>
<path class="c13" d="M2803 765l18-13-14-5-18 13z"/>
<path class="c18" d="M2545 753l18 0-14-15-18 0z"/>
<path class="c65" d="M3016 654l18-14-14 0-18 14z"/>
<path class="c3" d="M2721 786l18-10-13-8-18 9z"/>
<path class="c30" d="M2884 729l18-15-13-3-18 16z"/>
<path class="c12" d="M2576 767l18-2-13-14-18 2z"/>
<path class="c8" d="M2608 778l18-4-14-13-18 4z"/>
<path class="c52" d="M2966 684l18-15-14-1-18 15z"/>
<path class="c18" d="M2835 756l18-14-14-4-18 14z"/>
<path class="c5" d="M2753 783l18-11-14-6-18 10z"/>
<path class="c4" d="M2640 786l18-5-14-11-18 4z"/>
<path class="c38" d="M2916 715l18-16-14-1-18 16z"/>
<path class="c2" d="M2672 792l18-7-14-10-18 6z"/>
<path class="c89" d="M2273 605l18 4-14-13-18-4z"/>
<path class="c81" d="M2305 623l17 4-13-14-18-4z"/>
<path class="c73" d="M2336 641l18 4-14-15-18-3z"/>
<path class="c9" d="M2785 778l18-13-14-5-18 12z"/>
<path class="c64" d="M2368 660l18 4-14-15-18-4z"/>
<path class="c60" d="M2998 668l18-14-14 0-18 15z"/>
<path class="c55" d="M2400 680l18 3-14-15-18-4z"/>
<path class="c25" d="M2866 744l18-15-13-2-18 15z"/>
<path class="c46" d="M2432 699l17 3-13-16-18-3z"/>
<path class="c37" d="M2463 718l18 3-14-16-18-3z"/>
<path class="c2" d="M2704 794l17-8-13-9-18 8z"/>
<path class="c29" d="M2495 736l18 2-14-16-18-1z"/>
<path class="c21" d="M2527 753l18 0-14-15-18 0z"/>
<path class="c46" d="M2948 699l18-15-14-1-18 16z"/>
<path class="c15" d="M2559 768l17-1-13-14-18 0z"/>
<path class="c14" d="M2817 769l18-13-14-4-18 13z"/>
<path class="c9" d="M2590 780l18-2-14-13-18 2z"/>
<path class="c3" d="M2735 793l18-10-14-7-18 10z"/>
<path class="c68" d="M3029 654l18-13-13-1-18 14z"/>
<path class="c33" d="M2898 730l18-15-14-1-18 15z"/>
<path class="c5" d="M2622 790l18-4-14-12-18 4z"/>
<path class="c2" d="M2654 797l18-5-14-11-18 5z"/>
<path class="c55" d="M2980 683l18-15-14 1-18 15z"/>
<path class="c6" d="M2767 789l18-11-14-6-18 11z"/>
<path class="c20" d="M2848 758l18-14-13-2-18 14z"/>
<path class="c94" d="M2255 601l18 4-14-13-18-3z"/>
<path class="c86" d="M2287 618l18 5-14-14-18-4z"/>
<path class="c1" d="M2686 801l18-7-14-9-18 7z"/>
<path class="c78" d="M2318 636l18 5-14-14-17-4z"/>
<path class="c41" d="M2930 715l18-16-14 0-18 16z"/>
<path class="c69" d="M2350 655l18 5-14-15-18-4z"/>
<path class="c60" d="M2382 675l18 5-14-16-18-4z"/>
<path class="c51" d="M2414 695l18 4-14-16-18-3z"/>
<path class="c42" d="M2445 715l18 3-14-16-17-3z"/>
<path class="c33" d="M2477 734l18 2-14-15-18-3z"/>
<path class="c10" d="M2799 782l18-13-14-4-18 13z"/>
<path class="c25" d="M2509 751l18 2-14-15-18-2z"/>
<path class="c17" d="M2541 768l18 0-14-15-18 0z"/>
<path class="c2" d="M2717 802l18-9-14-7-17 8z"/>
<path class="c64" d="M3011 667l18-13-13 0-18 14z"/>
<path class="c28" d="M2880 745l18-15-14-1-18 15z"/>
<path class="c11" d="M2572 781l18-1-14-13-17 1z"/>
<path class="c6" d="M2604 793l18-3-14-12-18 2z"/>
<path class="c50" d="M2962 699l18-16-14 1-18 15z"/>
<path class="c16" d="M2831 772l17-14-13-2-18 13z"/>
<path class="c4" d="M2749 799l18-10-14-6-18 10z"/>
<path class="c3" d="M2636 802l18-5-14-11-18 4z"/>
<path class="c73" d="M3043 652l18-12-14 1-18 13z"/>
<path class="c36" d="M2912 730l18-15-14 0-18 15z"/>
<path class="c1" d="M2668 807l18-6-14-9-18 5z"/>
<path class="c100" d="M2237 596l18 5-14-12-18-5z"/>
<path class="c7" d="M2781 794l18-12-14-4-18 11z"/>
<path class="c92" d="M2269 613l18 5-14-13-18-4z"/>
<path class="c83" d="M2300 631l18 5-13-13-18-5z"/>
<path class="c60" d="M2993 682l18-15-13 1-18 15z"/>
<path class="c23" d="M2862 760l18-15-14-1-18 14z"/>
<path class="c75" d="M2332 650l18 5-14-14-18-5z"/>
<path class="c65" d="M2364 670l18 5-14-15-18-5z"/>
<path class="c56" d="M2396 690l18 5-14-15-18-5z"/>
<path class="c46" d="M2427 711l18 4-13-16-18-4z"/>
<path class="c0" d="M2699 809l18-7-13-8-18 7z"/>
<path class="c37" d="M2459 730l18 4-14-16-18-3z"/>
<path class="c29" d="M2491 749l18 2-14-15-18-2z"/>
<path class="c21" d="M2523 766l18 2-14-15-18-2z"/>
<path class="c45" d="M2944 714l18-15-14 0-18 16z"/>
<path class="c14" d="M2554 782l18-1-13-13-18 0z"/>
<path class="c13" d="M2813 785l18-13-14-3-18 13z"/>
<path class="c8" d="M2586 795l18-2-14-13-18 1z"/>
<path class="c2" d="M2731 808l18-9-14-6-18 9z"/>
<path class="c31" d="M2894 745l18-15-14 0-18 15z"/>
<path class="c69" d="M3025 666l18-14-14 2-18 13z"/>
<path class="c4" d="M2618 805l18-3-14-12-18 3z"/>
<path class="c1" d="M2650 812l18-5-14-10-18 5z"/>
<path class="c5" d="M2763 804l18-10-14-5-18 10z"/>
<path class="c55" d="M2976 697l17-15-13 1-18 16z"/>
<path class="c19" d="M2844 774l18-14-14-2-17 14z"/>
<path class="c105" d="M2219 591l18 5-14-12-18-4z"/>
<path class="c0" d="M2681 816l18-7-13-8-18 6z"/>
<path class="c97" d="M2251 607l18 6-14-12-18-5z"/>
<path class="c77" d="M3057 650l18-12-14 2-18 12z"/>
<path class="c40" d="M2926 729l18-15-14 1-18 15z"/>
<path class="c89" d="M2282 625l18 6-13-13-18-5z"/>
<path class="c80" d="M2314 644l18 6-14-14-18-5z"/>
<path class="c71" d="M2346 664l18 6-14-15-18-5z"/>
<path class="c61" d="M2378 685l18 5-14-15-18-5z"/>
<path class="c52" d="M2409 706l18 5-13-16-18-5z"/>
<path class="c42" d="M2441 726l18 4-14-15-18-4z"/>
<path class="c9" d="M2795 797l18-12-14-3-18 12z"/>
<path class="c33" d="M2473 746l18 3-14-15-18-4z"/>
<path class="c25" d="M2505 764l18 2-14-15-18-2z"/>
<path class="c17" d="M2536 781l18 1-13-14-18-2z"/>
<path class="c0" d="M2713 817l18-9-14-6-18 7z"/>
<path class="c27" d="M2876 760l18-15-14 0-18 15z"/>
<path class="c64" d="M3007 680l18-14-14 1-18 15z"/>
<path class="c11" d="M2568 795l18 0-14-14-18 1z"/>
<path class="c6" d="M2600 807l18-2-14-12-18 2z"/>
<path class="c50" d="M2958 712l18-15-14 2-18 15z"/>
<path class="c15" d="M2826 787l18-13-13-2-18 13z"/>
<path class="c3" d="M2745 814l18-10-14-5-18 9z"/>
<path class="c2" d="M2632 815l18-3-14-10-18 3z"/>
<path class="c36" d="M2908 744l18-15-14 1-18 15z"/>
<path class="c73" d="M3039 663l18-13-14 2-18 14z"/>
<path class="c0" d="M2663 821l18-5-13-9-18 5z"/>
<path class="c6" d="M2777 808l18-11-14-3-18 10z"/>
<path class="c111" d="M2201 585l18 6-14-11-18-5z"/>
<path class="c103" d="M2233 601l18 6-14-11-18-5z"/>
<path class="c22" d="M2858 774l18-14-14 0-18 14z"/>
<path class="c60" d="M2989 694l18-14-14 2-17 15z"/>
<path class="c95" d="M2264 619l18 6-13-12-18-6z"/>
<path class="c86" d="M2296 638l18 6-14-13-18-6z"/>
<path class="c0" d="M2695 823l18-6-14-8-18 7z"/>
<path class="c77" d="M2328 658l18 6-14-14-18-6z"/>
<path class="c67" d="M2360 679l18 6-14-15-18-6z"/>
<path class="c57" d="M2391 700l18 6-13-16-18-5z"/>
<path class="c48" d="M2423 721l18 5-14-15-18-5z"/>
<path class="c38" d="M2455 741l18 5-14-16-18-4z"/>
<path class="c29" d="M2487 761l18 3-14-15-18-3z"/>
<path class="c21" d="M2519 779l17 2-13-15-18-2z"/>
<path class="c45" d="M2940 727l18-15-14 2-18 15z"/>
<path class="c82" d="M3071 648l18-11-14 1-18 12z"/>
<path class="c14" d="M2550 794l18 1-14-13-18-1z"/>
<path class="c12" d="M2808 799l18-12-13-2-18 12z"/>
<path class="c1" d="M2727 822l18-8-14-6-18 9z"/>
<path class="c8" d="M2582 807l18 0-14-12-18 0z"/>
<path class="c31" d="M2890 759l18-15-14 1-18 15z"/>
<path class="c4" d="M2614 818l18-3-14-10-18 2z"/>
<path class="c69" d="M3021 677l18-14-14 3-18 14z"/>
<path class="c1" d="M2646 825l17-4-13-9-18 3z"/>
<path class="c4" d="M2759 818l18-10-14-4-18 10z"/>
<path class="c18" d="M2840 787l18-13-14 0-18 13z"/>
<path class="c55" d="M2971 709l18-15-13 3-18 15z"/>
<path class="c0" d="M2677 829l18-6-14-7-18 5z"/>
<path class="c116" d="M2183 578l18 7-14-10-18-6z"/>
<path class="c40" d="M2922 742l18-15-14 2-18 15z"/>
<path class="c109" d="M2215 595l18 6-14-10-18-6z"/>
<path class="c79" d="M3053 660l18-12-14 2-18 13z"/>
<path class="c101" d="M2247 613l17 6-13-12-18-6z"/>
<path class="c92" d="M2278 631l18 7-14-13-18-6z"/>
<path class="c9" d="M2790 810l18-11-13-2-18 11z"/>
<path class="c83" d="M2310 651l18 7-14-14-18-6z"/>
<path class="c53" d="M2405 715l18 6-14-15-18-6z"/>
<path class="c73" d="M2342 672l18 7-14-15-18-6z"/>
<path class="c63" d="M2374 694l17 6-13-15-18-6z"/>
<path class="c43" d="M2437 736l18 5-14-15-18-5z"/>
<path class="c34" d="M2469 756l18 5-14-15-18-5z"/>
<path class="c25" d="M2501 775l18 4-14-15-18-3z"/>
<path class="c0" d="M2709 830l18-8-14-5-18 6z"/>
<path class="c27" d="M2872 773l18-14-14 1-18 14z"/>
<path class="c18" d="M2532 792l18 2-14-13-17-2z"/>
<path class="c65" d="M3003 691l18-14-14 3-18 14z"/>
<path class="c11" d="M2564 807l18 0-14-12-18-1z"/>
<path class="c6" d="M2596 819l18-1-14-11-18 0z"/>
<path class="c50" d="M2953 724l18-15-13 3-18 15z"/>
<path class="c87" d="M3085 645l18-11-14 3-18 11z"/>
<path class="c15" d="M2822 800l18-13-14 0-18 12z"/>
<path class="c2" d="M2741 827l18-9-14-4-18 8z"/>
<path class="c2" d="M2628 828l18-3-14-10-18 3z"/>
<path class="c36" d="M2904 757l18-15-14 2-18 15z"/>
<path class="c75" d="M3035 673l18-13-14 3-18 14z"/>
<path class="c0" d="M2659 834l18-5-14-8-17 4z"/>
<path class="c6" d="M2773 821l17-11-13-2-18 10z"/>
<path class="c123" d="M2165 572l18 6-14-9-18-6z"/>
<path class="c22" d="M2854 786l18-13-14 1-18 13z"/>
<path class="c60" d="M2985 705l18-14-14 3-18 15z"/>
<path class="c115" d="M2197 588l18 7-14-10-18-7z"/>
<path class="c0" d="M2691 836l18-6-14-7-18 6z"/>
<path class="c107" d="M2229 605l18 8-14-12-18-6z"/>
<path class="c99" d="M2260 624l18 7-14-12-17-6z"/>
<path class="c49" d="M2419 730l18 6-14-15-18-6z"/>
<path class="c39" d="M2451 751l18 5-14-15-18-5z"/>
<path class="c59" d="M2387 708l18 7-14-15-17-6z"/>
<path class="c89" d="M2292 644l18 7-14-13-18-7z"/>
<path class="c70" d="M2356 686l18 8-14-15-18-7z"/>
<path class="c80" d="M2324 665l18 7-14-14-18-7z"/>
<path class="c30" d="M2483 771l18 4-14-14-18-5z"/>
<path class="c22" d="M2514 789l18 3-13-13-18-4z"/>
<path class="c45" d="M2935 739l18-15-13 3-18 15z"/>
<path class="c14" d="M2546 805l18 2-14-13-18-2z"/>
<path class="c84" d="M3067 656l18-11-14 3-18 12z"/>
<path class="c12" d="M2804 811l18-11-14-1-18 11z"/>
<path class="c1" d="M2723 835l18-8-14-5-18 8z"/>
<path class="c8" d="M2578 819l18 0-14-12-18 0z"/>
<path class="c31" d="M2886 771l18-14-14 2-18 14z"/>
<path class="c4" d="M2610 829l18-1-14-10-18 1z"/>
<path class="c71" d="M3017 687l18-14-14 4-18 14z"/>
<path class="c1" d="M2641 837l18-3-13-9-18 3z"/>
<path class="c4" d="M2755 830l18-9-14-3-18 9z"/>
<path class="c19" d="M2836 799l18-13-14 1-18 13z"/>
<path class="c56" d="M2967 720l18-15-14 4-18 15z"/>
<path class="c93" d="M3098 641l18-10-13 3-18 11z"/>
<path class="c0" d="M2673 841l18-5-14-7-18 5z"/>
<path class="c41" d="M2918 754l17-15-13 3-18 15z"/>
<path class="c129" d="M2147 564l18 8-14-9-18-7z"/>
<path class="c80" d="M3049 669l18-13-14 4-18 13z"/>
<path class="c122" d="M2179 581l18 7-14-10-18-6z"/>
<path class="c9" d="M2786 822l18-11-14-1-17 11z"/>
<path class="c114" d="M2211 598l18 7-14-10-18-7z"/>
<path class="c45" d="M2433 745l18 6-14-15-18-6z"/>
<path class="c105" d="M2242 616l18 8-13-11-18-8z"/>
<path class="c55" d="M2401 723l18 7-14-15-18-7z"/>
<path class="c35" d="M2465 766l18 5-14-15-18-5z"/>
<path class="c66" d="M2369 701l18 7-13-14-18-8z"/>
<path class="c96" d="M2274 636l18 8-14-13-18-7z"/>
<path class="c76" d="M2338 679l18 7-14-14-18-7z"/>
<path class="c86" d="M2306 657l18 8-14-14-18-7z"/>
<path class="c27" d="M2496 785l18 4-13-14-18-4z"/>
<path class="c0" d="M2705 841l18-6-14-5-18 6z"/>
<path class="c27" d="M2868 785l18-14-14 2-18 13z"/>
<path class="c19" d="M2528 803l18 2-14-13-18-3z"/>
<path class="c66" d="M2999 701l18-14-14 4-18 14z"/>
<path class="c12" d="M2560 818l18 1-14-12-18-2z"/>
<path class="c7" d="M2592 830l18-1-14-10-18 0z"/>
<path class="c51" d="M2949 735l18-15-14 4-18 15z"/>
<path class="c15" d="M2818 811l18-12-14 1-18 11z"/>
<path class="c3" d="M2737 838l18-8-14-3-18 8z"/>
<path class="c90" d="M3080 652l18-11-13 4-18 11z"/>
<path class="c3" d="M2623 839l18-2-13-9-18 1z"/>
<path class="c36" d="M2900 768l18-14-14 3-18 14z"/>
<path class="c1" d="M2655 845l18-4-14-7-18 3z"/>
<path class="c76" d="M3031 682l18-13-14 4-18 14z"/>
<path class="c7" d="M2768 832l18-10-13-1-18 9z"/>
<path class="c23" d="M2850 797l18-12-14 1-18 13z"/>
<path class="c98" d="M3112 637l18-9-14 3-18 10z"/>
<path class="c136" d="M2129 556l18 8-14-8-18-7z"/>
<path class="c62" d="M2981 715l18-14-14 4-18 15z"/>
<path class="c0" d="M2687 847l18-6-14-5-18 5z"/>
<path class="c128" d="M2161 573l18 8-14-9-18-8z"/>
<path class="c121" d="M2193 590l18 8-14-10-18-7z"/>
<path class="c41" d="M2447 760l18 6-14-15-18-6z"/>
<path class="c51" d="M2415 738l18 7-14-15-18-7z"/>
<path class="c32" d="M2478 780l18 5-13-14-18-5z"/>
<path class="c62" d="M2383 716l18 7-14-15-18-7z"/>
<path class="c112" d="M2224 608l18 8-13-11-18-7z"/>
<path class="c73" d="M2351 693l18 8-13-15-18-7z"/>
<path class="c103" d="M2256 628l18 8-14-12-18-8z"/>
<path class="c23" d="M2510 799l18 4-14-14-18-4z"/>
<path class="c83" d="M2320 670l18 9-14-14-18-8z"/>
<path class="c93" d="M2288 648l18 9-14-13-18-8z"/>
<path class="c46" d="M2931 749l18-14-14 4-17 15z"/>
<path class="c16" d="M2542 815l18 3-14-13-18-2z"/>
<path class="c13" d="M2800 822l18-11-14 0-18 11z"/>
<path class="c86" d="M3062 664l18-12-13 4-18 13z"/>
<path class="c2" d="M2719 845l18-7-14-3-18 6z"/>
<path class="c10" d="M2574 829l18 1-14-11-18-1z"/>
<path class="c32" d="M2882 781l18-13-14 3-18 14z"/>
<path class="c5" d="M2605 840l18-1-13-10-18 1z"/>
<path class="c72" d="M3013 696l18-14-14 5-18 14z"/>
<path class="c5" d="M2750 841l18-9-13-2-18 8z"/>
<path class="c2" d="M2637 847l18-2-14-8-18 2z"/>
<path class="c20" d="M2832 810l18-13-14 2-18 12z"/>
<path class="c57" d="M2963 730l18-15-14 5-18 15z"/>
<path class="c96" d="M3094 647l18-10-14 4-18 11z"/>
<path class="c1" d="M2669 851l18-4-14-6-18 4z"/>
<path class="c42" d="M2913 764l18-15-13 5-18 14z"/>
<path class="c143" d="M2111 548l18 8-14-7-18-9z"/>
<path class="c10" d="M2782 832l18-10-14 0-18 10z"/>
<path class="c83" d="M3045 677l17-13-13 5-18 13z"/>
<path class="c135" d="M2143 564l18 9-14-9-18-8z"/>
<path class="c128" d="M2175 581l18 9-14-9-18-8z"/>
<path class="c38" d="M2461 774l17 6-13-14-18-6z"/>
<path class="c48" d="M2429 753l18 7-14-15-18-7z"/>
<path class="c2" d="M2701 851l18-6-14-4-18 6z"/>
<path class="c58" d="M2397 730l18 8-14-15-18-7z"/>
<path class="c28" d="M2492 794l18 5-14-14-18-5z"/>
<path class="c28" d="M2864 795l18-14-14 4-18 12z"/>
<path class="c69" d="M2365 707l18 9-14-15-18-8z"/>
<path class="c119" d="M2206 599l18 9-13-10-18-8z"/>
<path class="c80" d="M2333 684l18 9-13-14-18-9z"/>
<path class="c20" d="M2524 812l18 3-14-12-18-4z"/>
<path class="c110" d="M2238 619l18 9-14-12-18-8z"/>
<path class="c91" d="M2302 661l18 9-14-13-18-9z"/>
<path class="c101" d="M2270 639l18 9-14-12-18-8z"/>
<path class="c104" d="M3126 633l18-9-14 4-18 9z"/>
<path class="c68" d="M2995 710l18-14-14 5-18 14z"/>
<path class="c13" d="M2556 827l18 2-14-11-18-3z"/>
<path class="c8" d="M2588 839l17 1-13-10-18-1z"/>
<path class="c52" d="M2945 744l18-14-14 5-18 14z"/>
<path class="c17" d="M2814 821l18-11-14 1-18 11z"/>
<path class="c4" d="M2732 848l18-7-13-3-18 7z"/>
<path class="c93" d="M3076 659l18-12-14 5-18 12z"/>
<path class="c4" d="M2619 848l18-1-14-8-18 1z"/>
<path class="c38" d="M2895 777l18-13-13 4-18 13z"/>
<path class="c2" d="M2651 854l18-3-14-6-18 2z"/>
<path class="c79" d="M3027 690l18-13-14 5-18 14z"/>
<path class="c8" d="M2764 841l18-9-14 0-18 9z"/>
<path class="c25" d="M2846 807l18-12-14 2-18 13z"/>
<path class="c63" d="M2977 724l18-14-14 5-18 15z"/>
<path class="c2" d="M2683 856l18-5-14-4-18 4z"/>
<path class="c102" d="M3108 643l18-10-14 4-18 10z"/>
<path class="c150" d="M2093 539l18 9-14-8-18-8z"/>
<path class="c143" d="M2125 556l18 8-14-8-18-8z"/>
<path class="c44" d="M2443 767l18 7-14-14-18-7z"/>
<path class="c34" d="M2474 788l18 6-14-14-17-6z"/>
<path class="c55" d="M2411 744l18 9-14-15-18-8z"/>
<path class="c135" d="M2157 572l18 9-14-8-18-9z"/>
<path class="c26" d="M2506 807l18 5-14-13-18-5z"/>
<path class="c48" d="M2927 758l18-14-14 5-18 15z"/>
<path class="c65" d="M2379 721l18 9-14-14-18-9z"/>
<path class="c76" d="M2347 698l18 9-14-14-18-9z"/>
<path class="c127" d="M2189 590l17 9-13-9-18-9z"/>
<path class="c14" d="M2796 832l18-11-14 1-18 10z"/>
<path class="c87" d="M2316 674l17 10-13-14-18-9z"/>
<path class="c18" d="M2538 823l18 4-14-12-18-3z"/>
<path class="c118" d="M2220 609l18 10-14-11-18-9z"/>
<path class="c98" d="M2284 652l18 9-14-13-18-9z"/>
<path class="c108" d="M2252 630l18 9-14-11-18-9z"/>
<path class="c4" d="M2715 855l17-7-13-3-18 6z"/>
<path class="c89" d="M3058 671l18-12-14 5-17 13z"/>
<path class="c12" d="M2570 837l18 2-14-10-18-2z"/>
<path class="c34" d="M2877 791l18-14-13 4-18 14z"/>
<path class="c7" d="M2601 848l18 0-14-8-17-1z"/>
<path class="c110" d="M3140 628l18-8-14 4-18 9z"/>
<path class="c74" d="M3009 704l18-14-14 6-18 14z"/>
<path class="c7" d="M2746 849l18-8-14 0-18 7z"/>
<path class="c4" d="M2633 856l18-2-14-7-18 1z"/>
<path class="c21" d="M2828 819l18-12-14 3-18 11z"/>
<path class="c59" d="M2959 739l18-15-14 6-18 14z"/>
<path class="c99" d="M3090 654l18-11-14 4-18 12z"/>
<path class="c3" d="M2665 859l18-3-14-5-18 3z"/>
<path class="c44" d="M2909 772l18-14-14 6-18 13z"/>
<path class="c12" d="M2778 841l18-9-14 0-18 9z"/>
<path class="c85" d="M3040 684l18-13-13 6-18 13z"/>
<path class="c158" d="M2075 530l18 9-14-7-17-10z"/>
<path class="c150" d="M2107 546l18 10-14-8-18-9z"/>
<path class="c4" d="M2697 860l18-5-14-4-18 5z"/>
<path class="c30" d="M2860 803l17-12-13 4-18 12z"/>
<path class="c41" d="M2456 781l18 7-13-14-18-7z"/>
<path class="c51" d="M2425 759l18 8-14-14-18-9z"/>
<path class="c31" d="M2488 801l18 6-14-13-18-6z"/>
<path class="c62" d="M2393 735l18 9-14-14-18-9z"/>
<path class="c142" d="M2139 563l18 9-14-8-18-8z"/>
<path class="c23" d="M2520 819l18 4-14-11-18-5z"/>
<path class="c73" d="M2361 712l18 9-14-14-18-9z"/>
<path class="c134" d="M2171 581l18 9-14-9-18-9z"/>
<path class="c84" d="M2329 688l18 10-14-14-17-10z"/>
<path class="c70" d="M2991 718l18-14-14 6-18 14z"/>
<path class="c95" d="M2298 664l18 10-14-13-18-9z"/>
<path class="c125" d="M2202 600l18 9-14-10-17-9z"/>
<path class="c108" d="M3122 637l18-9-14 5-18 10z"/>
<path class="c16" d="M2552 834l18 3-14-10-18-4z"/>
<path class="c106" d="M2266 641l18 11-14-13-18-9z"/>
<path class="c116" d="M2234 620l18 10-14-11-18-10z"/>
<path class="c10" d="M2583 847l18 1-13-9-18-2z"/>
<path class="c55" d="M2941 753l18-14-14 5-18 14z"/>
<path class="c19" d="M2810 829l18-10-14 2-18 11z"/>
<path class="c6" d="M2728 856l18-7-14-1-17 7z"/>
<path class="c7" d="M2615 856l18 0-14-8-18 0z"/>
<path class="c96" d="M3072 665l18-11-14 5-18 12z"/>
<path class="c40" d="M2891 786l18-14-14 5-18 14z"/>
<path class="c116" d="M3154 623l18-7-14 4-18 8z"/>
<path class="c5" d="M2647 862l18-3-14-5-18 2z"/>
<path class="c81" d="M3022 698l18-14-13 6-18 14z"/>
<path class="c11" d="M2760 849l18-8-14 0-18 8z"/>
<path class="c27" d="M2842 815l18-12-14 4-18 12z"/>
<path class="c66" d="M2973 732l18-14-14 6-18 15z"/>
<path class="c4" d="M2679 864l18-4-14-4-18 3z"/>
<path class="c105" d="M3104 648l18-11-14 6-18 11z"/>
<path class="c165" d="M2057 519l18 11-13-8-18-10z"/>
<path class="c38" d="M2470 794l18 7-14-13-18-7z"/>
<path class="c48" d="M2438 772l18 9-13-14-18-8z"/>
<path class="c50" d="M2923 766l18-13-14 5-18 14z"/>
<path class="c158" d="M2089 537l18 9-14-7-18-9z"/>
<path class="c58" d="M2407 749l18 10-14-15-18-9z"/>
<path class="c29" d="M2502 813l18 6-14-12-18-6z"/>
<path class="c69" d="M2375 726l18 9-14-14-18-9z"/>
<path class="c16" d="M2792 839l18-10-14 3-18 9z"/>
<path class="c150" d="M2121 553l18 10-14-7-18-10z"/>
<path class="c21" d="M2534 830l18 4-14-11-18-4z"/>
<path class="c81" d="M2343 701l18 11-14-14-18-10z"/>
<path class="c142" d="M2153 571l18 10-14-9-18-9z"/>
<path class="c6" d="M2710 862l18-6-13-1-18 5z"/>
<path class="c92" d="M2311 677l18 11-13-14-18-10z"/>
<path class="c92" d="M3054 678l18-13-14 6-18 13z"/>
<path class="c133" d="M2184 589l18 11-13-10-18-9z"/>
<path class="c103" d="M2280 654l18 10-14-12-18-11z"/>
<path class="c124" d="M2216 609l18 11-14-11-18-9z"/>
<path class="c15" d="M2565 844l18 3-13-10-18-3z"/>
<path class="c114" d="M2248 631l18 10-14-11-18-10z"/>
<path class="c36" d="M2873 798l18-12-14 5-17 12z"/>
<path class="c10" d="M2597 855l18 1-14-8-18-1z"/>
<path class="c77" d="M3004 711l18-13-13 6-18 14z"/>
<path class="c114" d="M3136 632l18-9-14 5-18 9z"/>
<path class="c10" d="M2742 857l18-8-14 0-18 7z"/>
<path class="c7" d="M2629 862l18 0-14-6-18 0z"/>
<path class="c24" d="M2824 826l18-11-14 4-18 10z"/>
<path class="c61" d="M2955 746l18-14-14 7-18 14z"/>
<path class="c102" d="M3086 659l18-11-14 6-18 11z"/>
<path class="c6" d="M2661 866l18-2-14-5-18 3z"/>
<path class="c46" d="M2905 780l18-14-14 6-18 14z"/>
<path class="c122" d="M3167 619l18-7-13 4-18 7z"/>
<path class="c15" d="M2774 848l18-9-14 2-18 8z"/>
<path class="c88" d="M3036 691l18-13-14 6-18 14z"/>
<path class="c7" d="M2692 866l18-4-13-2-18 4z"/>
<path class="c33" d="M2855 810l18-12-13 5-18 12z"/>
<path class="c173" d="M2039 509l18 10-13-7-18-11z"/>
<path class="c44" d="M2452 786l18 8-14-13-18-9z"/>
<path class="c35" d="M2484 806l18 7-14-12-18-7z"/>
<path class="c55" d="M2420 763l18 9-13-13-18-10z"/>
<path class="c165" d="M2071 526l18 11-14-7-18-11z"/>
<path class="c26" d="M2516 825l18 5-14-11-18-6z"/>
<path class="c66" d="M2389 739l18 10-14-14-18-9z"/>
<path class="c73" d="M2987 725l17-14-13 7-18 14z"/>
<path class="c78" d="M2357 715l18 11-14-14-18-11z"/>
<path class="c158" d="M2103 543l18 10-14-7-18-9z"/>
<path class="c19" d="M2547 840l18 4-13-10-18-4z"/>
<path class="c89" d="M2325 690l18 11-14-13-18-11z"/>
<path class="c112" d="M3118 642l18-10-14 5-18 11z"/>
<path class="c150" d="M2135 561l18 10-14-8-18-10z"/>
<path class="c101" d="M2293 666l18 11-13-13-18-10z"/>
<path class="c141" d="M2166 579l18 10-13-8-18-10z"/>
<path class="c112" d="M2262 642l18 12-14-13-18-10z"/>
<path class="c132" d="M2198 599l18 10-14-9-18-11z"/>
<path class="c122" d="M2230 620l18 11-14-11-18-11z"/>
<path class="c14" d="M2579 853l18 2-14-8-18-3z"/>
<path class="c57" d="M2937 759l18-13-14 7-18 13z"/>
<path class="c22" d="M2806 836l18-10-14 3-18 10z"/>
<path class="c9" d="M2724 863l18-6-14-1-18 6z"/>
<path class="c10" d="M2611 862l18 0-14-6-18-1z"/>
<path class="c99" d="M3068 671l18-12-14 6-18 13z"/>
<path class="c43" d="M2887 792l18-12-14 6-18 12z"/>
<path class="c8" d="M2643 868l18-2-14-4-18 0z"/>
<path class="c120" d="M3149 627l18-8-13 4-18 9z"/>
<path class="c84" d="M3018 704l18-13-14 7-18 13z"/>
<path class="c14" d="M2756 856l18-8-14 1-18 8z"/>
<path class="c30" d="M2837 822l18-12-13 5-18 11z"/>
<path class="c69" d="M2969 738l18-13-14 7-18 14z"/>
<path class="c8" d="M2675 870l17-4-13-2-18 2z"/>
<path class="c109" d="M3100 653l18-11-14 6-18 11z"/>
<path class="c53" d="M2919 773l18-14-14 7-18 14z"/>
<path class="c42" d="M2466 798l18 8-14-12-18-8z"/>
<path class="c52" d="M2434 776l18 10-14-14-18-9z"/>
<path class="c32" d="M2498 818l18 7-14-12-18-7z"/>
<path class="c128" d="M3181 614l18-7-14 5-18 7z"/>
<path class="c63" d="M2403 753l17 10-13-14-18-10z"/>
<path class="c20" d="M2788 845l18-9-14 3-18 9z"/>
<path class="c173" d="M2053 516l18 10-14-7-18-10z"/>
<path class="c25" d="M2530 835l17 5-13-10-18-5z"/>
<path class="c74" d="M2371 728l18 11-14-13-18-11z"/>
<path class="c9" d="M2706 868l18-5-14-1-18 4z"/>
<path class="c166" d="M2085 533l18 10-14-6-18-11z"/>
<path class="c86" d="M2339 703l18 12-14-14-18-11z"/>
<path class="c95" d="M3050 683l18-12-14 7-18 13z"/>
<path class="c18" d="M2561 849l18 4-14-9-18-4z"/>
<path class="c158" d="M2117 550l18 11-14-8-18-10z"/>
<path class="c98" d="M2307 679l18 11-14-13-18-11z"/>
<path class="c39" d="M2869 805l18-13-14 6-18 12z"/>
<path class="c109" d="M2275 654l18 12-13-12-18-12z"/>
<path class="c149" d="M2148 568l18 11-13-8-18-10z"/>
<path class="c120" d="M2244 631l18 11-14-11-18-11z"/>
<path class="c140" d="M2180 588l18 11-14-10-18-10z"/>
<path class="c131" d="M2212 608l18 12-14-11-18-10z"/>
<path class="c14" d="M2593 860l18 2-14-7-18-2z"/>
<path class="c80" d="M3000 717l18-13-14 7-17 14z"/>
<path class="c118" d="M3132 636l17-9-13 5-18 10z"/>
<path class="c13" d="M2738 862l18-6-14 1-18 6z"/>
<path class="c11" d="M2625 868l18 0-14-6-18 0z"/>
<path class="c27" d="M2819 832l18-10-13 4-18 10z"/>
<path class="c65" d="M2951 752l18-14-14 8-18 13z"/>
<path class="c106" d="M3082 664l18-11-14 6-18 12z"/>
<path class="c10" d="M2657 871l18-1-14-4-18 2z"/>
<path class="c50" d="M2901 786l18-13-14 7-18 12z"/>
<path class="c18" d="M2770 854l18-9-14 3-18 8z"/>
<path class="c127" d="M3163 621l18-7-14 5-18 8z"/>
<path class="c92" d="M3032 696l18-13-14 8-18 13z"/>
<path class="c36" d="M2851 816l18-11-14 5-18 12z"/>
<path class="c10" d="M2688 871l18-3-14-2-17 4z"/>
<path class="c49" d="M2448 789l18 9-14-12-18-10z"/>
<path class="c39" d="M2480 810l18 8-14-12-18-8z"/>
<path class="c60" d="M2416 766l18 10-14-13-17-10z"/>
<path class="c31" d="M2512 829l18 6-14-10-18-7z"/>
<path class="c76" d="M2982 730l18-13-13 8-18 13z"/>
<path class="c71" d="M2385 742l18 11-14-14-18-11z"/>
<path class="c23" d="M2543 844l18 5-14-9-17-5z"/>
<path class="c83" d="M2353 717l18 11-14-13-18-12z"/>
<path class="c174" d="M2067 523l18 10-14-7-18-10z"/>
<path class="c116" d="M3114 646l18-10-14 6-18 11z"/>
<path class="c95" d="M2321 691l18 12-14-13-18-11z"/>
<path class="c166" d="M2099 540l18 10-14-7-18-10z"/>
<path class="c107" d="M2289 666l18 13-14-13-18-12z"/>
<path class="c18" d="M2575 857l18 3-14-7-18-4z"/>
<path class="c158" d="M2131 558l17 10-13-7-18-11z"/>
<path class="c61" d="M2933 765l18-13-14 7-18 14z"/>
<path class="c25" d="M2802 841l17-9-13 4-18 9z"/>
<path class="c134" d="M3195 609l18-6-14 4-18 7z"/>
<path class="c118" d="M2258 642l17 12-13-12-18-11z"/>
<path class="c13" d="M2720 868l18-6-14 1-18 5z"/>
<path class="c149" d="M2162 576l18 12-14-9-18-11z"/>
<path class="c129" d="M2226 619l18 12-14-11-18-12z"/>
<path class="c139" d="M2194 597l18 11-14-9-18-11z"/>
<path class="c14" d="M2607 866l18 2-14-6-18-2z"/>
<path class="c103" d="M3064 676l18-12-14 7-18 12z"/>
<path class="c46" d="M2883 798l18-12-14 6-18 13z"/>
<path class="c12" d="M2639 872l18-1-14-3-18 0z"/>
<path class="c88" d="M3014 709l18-13-14 8-18 13z"/>
<path class="c125" d="M3145 630l18-9-14 6-17 9z"/>
<path class="c17" d="M2752 861l18-7-14 2-18 6z"/>
<path class="c34" d="M2833 827l18-11-14 6-18 10z"/>
<path class="c72" d="M2964 744l18-14-13 8-18 14z"/>
<path class="c12" d="M2670 874l18-3-13-1-18 1z"/>
<path class="c113" d="M3096 657l18-11-14 7-18 11z"/>
<path class="c57" d="M2915 778l18-13-14 8-18 13z"/>
<path class="c47" d="M2462 801l18 9-14-12-18-9z"/>
<path class="c57" d="M2430 779l18 10-14-13-18-10z"/>
<path class="c24" d="M2784 850l18-9-14 4-18 9z"/>
<path class="c37" d="M2494 821l18 8-14-11-18-8z"/>
<path class="c133" d="M3177 616l18-7-14 5-18 7z"/>
<path class="c68" d="M2398 755l18 11-13-13-18-11z"/>
<path class="c29" d="M2525 838l18 6-13-9-18-6z"/>
<path class="c14" d="M2702 872l18-4-14 0-18 3z"/>
<path class="c80" d="M2367 730l18 12-14-14-18-11z"/>
<path class="c99" d="M3046 688l18-12-14 7-18 13z"/>
<path class="c92" d="M2335 704l18 13-14-14-18-12z"/>
<path class="c23" d="M2557 853l18 4-14-8-18-5z"/>
<path class="c43" d="M2865 809l18-11-14 7-18 11z"/>
<path class="c104" d="M2303 679l18 12-14-12-18-13z"/>
<path class="c174" d="M2081 529l18 11-14-7-18-10z"/>
<path class="c116" d="M2271 653l18 13-14-12-17-12z"/>
<path class="c166" d="M2113 547l18 11-14-8-18-10z"/>
<path class="c18" d="M2589 864l18 2-14-6-18-3z"/>
<path class="c127" d="M2240 629l18 13-14-11-18-12z"/>
<path class="c157" d="M2144 565l18 11-14-8-17-10z"/>
<path class="c138" d="M2208 606l18 13-14-11-18-11z"/>
<path class="c148" d="M2176 585l18 12-14-9-18-12z"/>
<path class="c84" d="M2996 722l18-13-14 8-18 13z"/>
<path class="c123" d="M3127 639l18-9-13 6-18 10z"/>
<path class="c17" d="M2734 866l18-5-14 1-18 6z"/>
<path class="c15" d="M2621 871l18 1-14-4-18-2z"/>
<path class="c31" d="M2815 836l18-9-14 5-17 9z"/>
<path class="c140" d="M3209 603l18-5-14 5-18 6z"/>
<path class="c69" d="M2946 757l18-13-13 8-18 13z"/>
<path class="c110" d="M3078 668l18-11-14 7-18 12z"/>
<path class="c14" d="M2652 875l18-1-13-3-18 1z"/>
<path class="c54" d="M2897 790l18-12-14 8-18 12z"/>
<path class="c23" d="M2766 857l18-7-14 4-18 7z"/>
<path class="c132" d="M3159 624l18-8-14 5-18 9z"/>
<path class="c96" d="M3028 701l18-13-14 8-18 13z"/>
<path class="c40" d="M2847 820l18-11-14 7-18 11z"/>
<path class="c15" d="M2684 875l18-3-14-1-18 3z"/>
<path class="c44" d="M2476 812l18 9-14-11-18-9z"/>
<path class="c54" d="M2444 791l18 10-14-12-18-10z"/>
<path class="c80" d="M2978 735l18-13-14 8-18 14z"/>
<path class="c65" d="M2412 767l18 12-14-13-18-11z"/>
<path class="c36" d="M2507 831l18 7-13-9-18-8z"/>
<path class="c77" d="M2380 743l18 12-13-13-18-12z"/>
<path class="c28" d="M2539 847l18 6-14-9-18-6z"/>
<path class="c121" d="M3109 649l18-10-13 7-18 11z"/>
<path class="c89" d="M2349 717l18 13-14-13-18-13z"/>
<path class="c101" d="M2317 691l18 13-14-13-18-12z"/>
<path class="c23" d="M2571 860l18 4-14-7-18-4z"/>
<path class="c65" d="M2929 769l17-12-13 8-18 13z"/>
<path class="c30" d="M2797 845l18-9-13 5-18 9z"/>
<path class="c18" d="M2716 871l18-5-14 2-18 4z"/>
<path class="c114" d="M2285 665l18 14-14-13-18-13z"/>
<path class="c139" d="M3191 610l18-7-14 6-18 7z"/>
<path class="c174" d="M2095 536l18 11-14-7-18-11z"/>
<path class="c125" d="M2253 640l18 13-13-11-18-13z"/>
<path class="c166" d="M2126 554l18 11-13-7-18-11z"/>
<path class="c137" d="M2222 616l18 13-14-10-18-13z"/>
<path class="c157" d="M2158 573l18 12-14-9-18-11z"/>
<path class="c147" d="M2190 594l18 12-14-9-18-12z"/>
<path class="c19" d="M2603 869l18 2-14-5-18-2z"/>
<path class="c107" d="M3060 680l18-12-14 8-18 12z"/>
<path class="c51" d="M2879 802l18-12-14 8-18 11z"/>
<path class="c17" d="M2634 874l18 1-13-3-18-1z"/>
<path class="c92" d="M3010 713l18-12-14 8-18 13z"/>
<path class="c22" d="M2748 864l18-7-14 4-18 5z"/>
<path class="c130" d="M3141 632l18-8-14 6-18 9z"/>
<path class="c146" d="M3223 598l18-5-14 5-18 5z"/>
<path class="c38" d="M2829 830l18-10-14 7-18 9z"/>
<path class="c77" d="M2960 748l18-13-14 9-18 13z"/>
<path class="c17" d="M2666 876l18-1-14-1-18 1z"/>
<path class="c118" d="M3091 660l18-11-13 8-18 11z"/>
<path class="c62" d="M2911 781l18-12-14 9-18 12z"/>
<path class="c28" d="M2779 853l18-8-13 5-18 7z"/>
<path class="c52" d="M2458 802l18 10-14-11-18-10z"/>
<path class="c43" d="M2489 822l18 9-13-10-18-9z"/>
<path class="c63" d="M2426 779l18 12-14-12-18-12z"/>
<path class="c138" d="M3173 617l18-7-14 6-18 8z"/>
<path class="c74" d="M2394 755l18 12-14-12-18-12z"/>
<path class="c35" d="M2521 840l18 7-14-9-18-7z"/>
<path class="c19" d="M2698 874l18-3-14 1-18 3z"/>
<path class="c104" d="M3042 692l18-12-14 8-18 13z"/>
<path class="c86" d="M2362 730l18 13-13-13-18-13z"/>
<path class="c28" d="M2553 854l18 6-14-7-18-6z"/>
<path class="c48" d="M2861 813l18-11-14 7-18 11z"/>
<path class="c99" d="M2331 703l18 14-14-13-18-13z"/>
<path class="c111" d="M2299 677l18 14-14-12-18-14z"/>
<path class="c24" d="M2585 865l18 4-14-5-18-4z"/>
<path class="c89" d="M2992 726l18-13-14 9-18 13z"/>
<path class="c123" d="M2267 652l18 13-14-12-18-13z"/>
<path class="c174" d="M2108 543l18 11-13-7-18-11z"/>
<path class="c135" d="M2235 627l18 13-13-11-18-13z"/>
<path class="c166" d="M2140 561l18 12-14-8-18-11z"/>
<path class="c128" d="M3123 642l18-10-14 7-18 10z"/>
<path class="c146" d="M2204 603l18 13-14-10-18-12z"/>
<path class="c156" d="M2172 582l18 12-14-9-18-12z"/>
<path class="c22" d="M2730 869l18-5-14 2-18 5z"/>
<path class="c36" d="M2811 839l18-9-14 6-18 9z"/>
<path class="c21" d="M2617 873l17 1-13-3-18-2z"/>
<path class="c73" d="M2942 760l18-12-14 9-17 12z"/>
<path class="c146" d="M3205 604l18-6-14 5-18 7z"/>
<path class="c115" d="M3074 671l17-11-13 8-18 12z"/>
<path class="c20" d="M2648 876l18 0-14-1-18-1z"/>
<path class="c58" d="M2893 793l18-12-14 9-18 12z"/>
<path class="c28" d="M2761 859l18-6-13 4-18 7z"/>
<path class="c100" d="M3024 704l18-12-14 9-18 12z"/>
<path class="c137" d="M3155 625l18-8-14 7-18 8z"/>
<path class="c153" d="M3236 592l18-5-13 6-18 5z"/>
<path class="c45" d="M2843 823l18-10-14 7-18 10z"/>
<path class="c20" d="M2680 876l18-2-14 1-18 1z"/>
<path class="c85" d="M2974 738l18-12-14 9-18 13z"/>
<path class="c51" d="M2472 812l17 10-13-10-18-10z"/>
<path class="c61" d="M2440 791l18 11-14-11-18-12z"/>
<path class="c42" d="M2503 831l18 9-14-9-18-9z"/>
<path class="c72" d="M2408 767l18 12-14-12-18-12z"/>
<path class="c84" d="M2376 742l18 13-14-12-18-13z"/>
<path class="c34" d="M2535 847l18 7-14-7-18-7z"/>
<path class="c125" d="M3105 652l18-10-14 7-18 11z"/>
<path class="c96" d="M2345 716l17 14-13-13-18-14z"/>
<path class="c70" d="M2924 772l18-12-13 9-18 12z"/>
<path class="c35" d="M2793 847l18-8-14 6-18 8z"/>
<path class="c29" d="M2567 860l18 5-14-5-18-6z"/>
<path class="c109" d="M2313 689l18 14-14-12-18-14z"/>
<path class="c23" d="M2712 872l18-3-14 2-18 3z"/>
<path class="c145" d="M3187 611l18-7-14 6-18 7z"/>
<path class="c121" d="M2281 663l18 14-14-12-18-13z"/>
<path class="c133" d="M2249 638l18 14-14-12-18-13z"/>
<path class="c112" d="M3056 683l18-12-14 9-18 12z"/>
<path class="c25" d="M2599 870l18 3-14-4-18-4z"/>
<path class="c144" d="M2217 613l18 14-13-11-18-13z"/>
<path class="c174" d="M2122 550l18 11-14-7-18-11z"/>
<path class="c56" d="M2875 804l18-11-14 9-18 11z"/>
<path class="c155" d="M2186 590l18 13-14-9-18-12z"/>
<path class="c165" d="M2154 569l18 13-14-9-18-12z"/>
<path class="c97" d="M3006 716l18-12-14 9-18 13z"/>
<path class="c23" d="M2630 875l18 1-14-2-17-1z"/>
<path class="c135" d="M3137 634l18-9-14 7-18 10z"/>
<path class="c28" d="M2744 865l17-6-13 5-18 5z"/>
<path class="c43" d="M2825 832l18-9-14 7-18 9z"/>
<path class="c153" d="M3218 597l18-5-13 6-18 6z"/>
<path class="c82" d="M2956 750l18-12-14 10-18 12z"/>
<path class="c23" d="M2662 877l18-1-14 0-18 0z"/>
<path class="c123" d="M3087 663l18-11-14 8-17 11z"/>
<path class="c67" d="M2906 784l18-12-13 9-18 12z"/>
<path class="c34" d="M2775 854l18-7-14 6-18 6z"/>
<path class="c59" d="M2454 801l18 11-14-10-18-11z"/>
<path class="c49" d="M2485 821l18 10-14-9-17-10z"/>
<path class="c70" d="M2422 778l18 13-14-12-18-12z"/>
<path class="c144" d="M3169 618l18-7-14 6-18 8z"/>
<path class="c109" d="M3038 694l18-11-14 9-18 12z"/>
<path class="c25" d="M2694 875l18-3-14 2-18 2z"/>
<path class="c41" d="M2517 839l18 8-14-7-18-9z"/>
<path class="c81" d="M2390 754l18 13-14-12-18-13z"/>
<path class="c160" d="M3250 585l18-5-14 7-18 5z"/>
<path class="c53" d="M2857 814l18-10-14 9-18 10z"/>
<path class="c94" d="M2358 728l18 14-14-12-17-14z"/>
<path class="c35" d="M2549 854l18 6-14-6-18-7z"/>
<path class="c106" d="M2327 701l18 15-14-13-18-14z"/>
<path class="c94" d="M2988 728l18-12-14 10-18 12z"/>
<path class="c119" d="M2295 675l18 14-14-12-18-14z"/>
<path class="c30" d="M2581 865l18 5-14-5-18-5z"/>
<path class="c131" d="M2263 649l18 14-14-11-18-14z"/>
<path class="c133" d="M3119 644l18-10-14 8-18 10z"/>
<path class="c143" d="M2231 623l18 15-14-11-18-14z"/>
<path class="c28" d="M2726 869l18-4-14 4-18 3z"/>
<path class="c154" d="M2200 600l17 13-13-10-18-13z"/>
<path class="c174" d="M2136 557l18 12-14-8-18-11z"/>
<path class="c42" d="M2807 840l18-8-14 7-18 8z"/>
<path class="c164" d="M2168 578l18 12-14-8-18-13z"/>
<path class="c78" d="M2938 762l18-12-14 10-18 12z"/>
<path class="c27" d="M2612 872l18 3-13-2-18-3z"/>
<path class="c152" d="M3201 604l17-7-13 7-18 7z"/>
<path class="c120" d="M3069 674l18-11-13 8-18 12z"/>
<path class="c64" d="M2888 795l18-11-13 9-18 11z"/>
<path class="c26" d="M2644 876l18 1-14-1-18-1z"/>
<path class="c34" d="M2757 860l18-6-14 5-17 6z"/>
<path class="c106" d="M3020 706l18-12-14 10-18 12z"/>
<path class="c143" d="M3151 627l18-9-14 7-18 9z"/>
<path class="c51" d="M2839 824l18-10-14 9-18 9z"/>
<path class="c160" d="M3232 590l18-5-14 7-18 5z"/>
<path class="c27" d="M2676 876l18-1-14 1-18 1z"/>
<path class="c90" d="M2970 740l18-12-14 10-18 12z"/>
<path class="c58" d="M2467 810l18 11-13-9-18-11z"/>
<path class="c68" d="M2436 789l18 12-14-10-18-13z"/>
<path class="c49" d="M2499 830l18 9-14-8-18-10z"/>
<path class="c79" d="M2404 765l18 13-14-11-18-13z"/>
<path class="c131" d="M3101 654l18-10-14 8-18 11z"/>
<path class="c41" d="M2531 846l18 8-14-7-18-8z"/>
<path class="c91" d="M2372 739l18 15-14-12-18-14z"/>
<path class="c75" d="M2920 774l18-12-14 10-18 12z"/>
<path class="c104" d="M2340 713l18 15-13-12-18-15z"/>
<path class="c41" d="M2789 847l18-7-14 7-18 7z"/>
<path class="c36" d="M2563 859l18 6-14-5-18-6z"/>
<path class="c30" d="M2708 872l18-3-14 3-18 3z"/>
<path class="c116" d="M2309 686l18 15-14-12-18-14z"/>
<path class="c151" d="M3183 611l18-7-14 7-18 7z"/>
<path class="c117" d="M3051 685l18-11-13 9-18 11z"/>
<path class="c167" d="M3264 577l18-4-14 7-18 5z"/>
<path class="c129" d="M2277 660l18 15-14-12-18-14z"/>
<path class="c32" d="M2594 868l18 4-13-2-18-5z"/>
<path class="c61" d="M2871 805l17-10-13 9-18 10z"/>
<path class="c141" d="M2245 634l18 15-14-11-18-15z"/>
<path class="c153" d="M2213 609l18 14-14-10-17-13z"/>
<path class="c164" d="M2182 586l18 14-14-10-18-12z"/>
<path class="c173" d="M2150 565l18 13-14-9-18-12z"/>
<path class="c102" d="M3002 718l18-12-14 10-18 12z"/>
<path class="c30" d="M2626 874l18 2-14-1-18-3z"/>
<path class="c141" d="M3133 636l18-9-14 7-18 10z"/>
<path class="c34" d="M2739 865l18-5-13 5-18 4z"/>
<path class="c50" d="M2821 832l18-8-14 8-18 8z"/>
<path class="c87" d="M2952 752l18-12-14 10-18 12z"/>
<path class="c160" d="M3214 596l18-6-14 7-17 7z"/>
<path class="c30" d="M2658 876l18 0-14 1-18-1z"/>
<path class="c128" d="M3083 664l18-10-14 9-18 11z"/>
<path class="c73" d="M2902 784l18-10-14 10-18 11z"/>
<path class="c41" d="M2771 854l18-7-14 7-18 6z"/>
<path class="c150" d="M3165 619l18-8-14 7-18 9z"/>
<path class="c114" d="M3033 696l18-11-13 9-18 12z"/>
<path class="c67" d="M2449 798l18 12-13-9-18-12z"/>
<path class="c57" d="M2481 819l18 11-14-9-18-11z"/>
<path class="c77" d="M2418 775l18 14-14-11-18-13z"/>
<path class="c32" d="M2690 874l18-2-14 3-18 1z"/>
<path class="c49" d="M2513 837l18 9-14-7-18-9z"/>
<path class="c89" d="M2386 750l18 15-14-11-18-15z"/>
<path class="c167" d="M3246 582l18-5-14 8-18 5z"/>
<path class="c59" d="M2853 814l18-9-14 9-18 10z"/>
<path class="c42" d="M2545 852l18 7-14-5-18-8z"/>
<path class="c101" d="M2354 724l18 15-14-11-18-15z"/>
<path class="c99" d="M2984 729l18-11-14 10-18 12z"/>
<path class="c114" d="M2322 698l18 15-13-12-18-15z"/>
<path class="c37" d="M2576 863l18 5-13-3-18-6z"/>
<path class="c127" d="M2291 671l18 15-14-11-18-15z"/>
<path class="c139" d="M3115 645l18-9-14 8-18 10z"/>
<path class="c139" d="M2259 645l18 15-14-11-18-15z"/>
<path class="c35" d="M2721 868l18-3-13 4-18 3z"/>
<path class="c48" d="M2803 840l18-8-14 8-18 7z"/>
<path class="c84" d="M2934 763l18-11-14 10-18 12z"/>
<path class="c151" d="M2227 619l18 15-14-11-18-14z"/>
<path class="c34" d="M2608 870l18 4-14-2-18-4z"/>
<path class="c162" d="M2195 595l18 14-13-9-18-14z"/>
<path class="c173" d="M2164 573l18 13-14-8-18-13z"/>
<path class="c159" d="M3196 603l18-7-13 8-18 7z"/>
<path class="c175" d="M3278 569l18-5-14 9-18 4z"/>
<path class="c126" d="M3065 675l18-11-14 10-18 11z"/>
<path class="c70" d="M2884 795l18-11-14 11-17 10z"/>
<path class="c33" d="M2640 874l18 2-14 0-18-2z"/>
<path class="c111" d="M3016 707l17-11-13 10-18 12z"/>
<path class="c41" d="M2753 859l18-5-14 6-18 5z"/>
<path class="c149" d="M3147 627l18-8-14 8-18 9z"/>
<path class="c58" d="M2835 823l18-9-14 10-18 8z"/>
<path class="c167" d="M3228 588l18-6-14 8-18 6z"/>
<path class="c34" d="M2672 874l18 0-14 2-18 0z"/>
<path class="c96" d="M2966 740l18-11-14 11-18 12z"/>
<path class="c66" d="M2463 807l18 12-14-9-18-12z"/>
<path class="c137" d="M3097 655l18-10-14 9-18 10z"/>
<path class="c76" d="M2431 785l18 13-13-9-18-14z"/>
<path class="c57" d="M2495 826l18 11-14-7-18-11z"/>
<path class="c87" d="M2400 761l18 14-14-10-18-15z"/>
<path class="c49" d="M2527 843l18 9-14-6-18-9z"/>
<path class="c82" d="M2916 774l18-11-14 11-18 10z"/>
<path class="c100" d="M2368 735l18 15-14-11-18-15z"/>
<path class="c48" d="M2785 846l18-6-14 7-18 7z"/>
<path class="c112" d="M2336 709l18 15-14-11-18-15z"/>
<path class="c44" d="M2559 856l17 7-13-4-18-7z"/>
<path class="c37" d="M2703 870l18-2-13 4-18 2z"/>
<path class="c158" d="M3178 610l18-7-13 8-18 8z"/>
<path class="c123" d="M3047 685l18-10-14 10-18 11z"/>
<path class="c125" d="M2304 682l18 16-13-12-18-15z"/>
<path class="c175" d="M3260 574l18-5-14 8-18 5z"/>
<path class="c137" d="M2273 655l18 16-14-11-18-15z"/>
<path class="c68" d="M2866 804l18-9-13 10-18 9z"/>
<path class="c40" d="M2590 865l18 5-14-2-18-5z"/>
<path class="c150" d="M2241 629l18 16-14-11-18-15z"/>
<path class="c161" d="M2209 605l18 14-14-10-18-14z"/>
<path class="c109" d="M2998 718l18-11-14 11-18 11z"/>
<path class="c172" d="M2177 582l18 13-13-9-18-13z"/>
<path class="c147" d="M3129 636l18-9-14 9-18 9z"/>
<path class="c38" d="M2622 871l18 3-14 0-18-4z"/>
<path class="c42" d="M2735 862l18-3-14 6-18 3z"/>
<path class="c57" d="M2817 831l18-8-14 9-18 8z"/>
<path class="c94" d="M2948 751l18-11-14 12-18 11z"/>
<path class="c167" d="M3210 595l18-7-14 8-18 7z"/>
<path class="c38" d="M2654 873l18 1-14 2-18-2z"/>
<path class="c135" d="M3079 664l18-9-14 9-18 11z"/>
<path class="c79" d="M2898 784l18-10-14 10-18 11z"/>
<path class="c48" d="M2767 851l18-5-14 8-18 5z"/>
<path class="c121" d="M3029 696l18-11-14 11-17 11z"/>
<path class="c157" d="M3160 618l18-8-13 9-18 8z"/>
<path class="c75" d="M2445 794l18 13-14-9-18-13z"/>
<path class="c66" d="M2477 815l18 11-14-7-18-12z"/>
<path class="c39" d="M2686 871l17-1-13 4-18 0z"/>
<path class="c86" d="M2414 771l17 14-13-10-18-14z"/>
<path class="c57" d="M2509 833l18 10-14-6-18-11z"/>
<path class="c66" d="M2848 813l18-9-13 10-18 9z"/>
<path class="c175" d="M3242 579l18-5-14 8-18 6z"/>
<path class="c98" d="M2382 746l18 15-14-11-18-15z"/>
<path class="c51" d="M2541 847l18 9-14-4-18-9z"/>
<path class="c110" d="M2350 720l18 15-14-11-18-15z"/>
<path class="c106" d="M2980 729l18-11-14 11-18 11z"/>
<path class="c123" d="M2318 693l18 16-14-11-18-16z"/>
<path class="c145" d="M3111 645l18-9-14 9-18 10z"/>
<path class="c46" d="M2572 859l18 6-14-2-17-7z"/>
<path class="c136" d="M2287 666l17 16-13-11-18-16z"/>
<path class="c91" d="M2930 762l18-11-14 12-18 11z"/>
<path class="c56" d="M2799 837l18-6-14 9-18 6z"/>
<path class="c148" d="M2255 640l18 15-14-10-18-16z"/>
<path class="c43" d="M2717 865l18-3-14 6-18 2z"/>
<path class="c160" d="M2223 614l18 15-14-10-18-14z"/>
<path class="c43" d="M2604 866l18 5-14-1-18-5z"/>
<path class="c166" d="M3192 601l18-6-14 8-18 7z"/>
<path class="c171" d="M2191 591l18 14-14-10-18-13z"/>
<path class="c132" d="M3061 674l18-10-14 11-18 10z"/>
<path class="c77" d="M2880 793l18-9-14 11-18 9z"/>
<path class="c42" d="M2636 870l18 3-14 1-18-3z"/>
<path class="c118" d="M3011 706l18-10-13 11-18 11z"/>
<path class="c156" d="M3143 626l17-8-13 9-18 9z"/>
<path class="c49" d="M2749 856l18-5-14 8-18 3z"/>
<path class="c65" d="M2831 821l17-8-13 10-18 8z"/>
<path class="c175" d="M3224 585l18-6-14 9-18 7z"/>
<path class="c103" d="M2962 739l18-10-14 11-18 11z"/>
<path class="c43" d="M2668 870l18 1-14 3-18-1z"/>
<path class="c143" d="M3093 654l18-9-14 10-18 9z"/>
<path class="c75" d="M2459 802l18 13-14-8-18-13z"/>
<path class="c85" d="M2427 780l18 14-14-9-17-14z"/>
<path class="c66" d="M2491 821l18 12-14-7-18-11z"/>
<path class="c89" d="M2912 772l18-10-14 12-18 10z"/>
<path class="c96" d="M2396 755l18 16-14-10-18-15z"/>
<path class="c58" d="M2523 838l18 9-14-4-18-10z"/>
<path class="c109" d="M2364 730l18 16-14-11-18-15z"/>
<path class="c56" d="M2781 843l18-6-14 9-18 5z"/>
<path class="c165" d="M3174 608l18-7-14 9-18 8z"/>
<path class="c45" d="M2699 866l18-1-14 5-17 1z"/>
<path class="c121" d="M2332 703l18 17-14-11-18-16z"/>
<path class="c52" d="M2554 851l18 8-13-3-18-9z"/>
<path class="c130" d="M3043 684l18-10-14 11-18 11z"/>
<path class="c134" d="M2300 676l18 17-14-11-17-16z"/>
<path class="c75" d="M2862 802l18-9-14 11-18 9z"/>
<path class="c147" d="M2269 650l18 16-14-11-18-15z"/>
<path class="c49" d="M2586 860l18 6-14-1-18-6z"/>
<path class="c159" d="M2237 624l18 16-14-11-18-15z"/>
<path class="c115" d="M2993 717l18-11-13 12-18 11z"/>
<path class="c170" d="M2205 600l18 14-14-9-18-14z"/>
<path class="c154" d="M3125 634l18-8-14 10-18 9z"/>
<path class="c46" d="M2618 866l18 4-14 1-18-5z"/>
<path class="c50" d="M2731 858l18-2-14 6-18 3z"/>
<path class="c64" d="M2813 828l18-7-14 10-18 6z"/>
<path class="c101" d="M2944 750l18-11-14 12-18 11z"/>
<path class="c175" d="M3206 592l18-7-14 10-18 6z"/>
<path class="c141" d="M3075 663l18-9-14 10-18 10z"/>
<path class="c46" d="M2650 868l18 2-14 3-18-3z"/>
<path class="c87" d="M2894 781l18-9-14 12-18 9z"/>
<path class="c56" d="M2763 847l18-4-14 8-18 5z"/>
<path class="c128" d="M3025 694l18-10-14 12-18 10z"/>
<path class="c164" d="M3156 616l18-8-14 10-17 8z"/>
<path class="c48" d="M2681 866l18 0-13 5-18-1z"/>
<path class="c85" d="M2441 787l18 15-14-8-18-14z"/>
<path class="c75" d="M2473 808l18 13-14-6-18-13z"/>
<path class="c74" d="M2844 810l18-8-14 11-17 8z"/>
<path class="c96" d="M2409 764l18 16-13-9-18-16z"/>
<path class="c67" d="M2505 826l18 12-14-5-18-12z"/>
<path class="c107" d="M2378 739l18 16-14-9-18-16z"/>
<path class="c113" d="M2975 727l18-10-13 12-18 10z"/>
<path class="c60" d="M2536 841l18 10-13-4-18-9z"/>
<path class="c120" d="M2346 713l18 17-14-10-18-17z"/>
<path class="c153" d="M3107 643l18-9-14 11-18 9z"/>
<path class="c132" d="M2314 686l18 17-14-10-18-17z"/>
<path class="c55" d="M2568 853l18 7-14-1-18-8z"/>
<path class="c145" d="M2282 660l18 16-13-10-18-16z"/>
<path class="c99" d="M2926 759l18-9-14 12-18 10z"/>
<path class="c64" d="M2795 833l18-5-14 9-18 6z"/>
<path class="c52" d="M2713 860l18-2-14 7-18 1z"/>
<path class="c157" d="M2251 634l18 16-14-10-18-16z"/>
<path class="c174" d="M3188 598l18-6-14 9-18 7z"/>
<path class="c169" d="M2219 609l18 15-14-10-18-14z"/>
<path class="c52" d="M2600 860l18 6-14 0-18-6z"/>
<path class="c139" d="M3057 672l18-9-14 11-18 10z"/>
<path class="c85" d="M2876 790l18-9-14 12-18 9z"/>
<path class="c51" d="M2632 864l18 4-14 2-18-4z"/>
<path class="c125" d="M3007 704l18-10-14 12-18 11z"/>
<path class="c163" d="M3138 623l18-7-13 10-18 8z"/>
<path class="c57" d="M2745 851l18-4-14 9-18 2z"/>
<path class="c73" d="M2826 817l18-7-13 11-18 7z"/>
<path class="c111" d="M2958 737l17-10-13 12-18 11z"/>
<path class="c52" d="M2663 864l18 2-13 4-18-2z"/>
<path class="c151" d="M3089 651l18-8-14 11-18 9z"/>
<path class="c97" d="M2908 769l18-10-14 13-18 9z"/>
<path class="c85" d="M2455 794l18 14-14-6-18-15z"/>
<path class="c95" d="M2423 772l18 15-14-7-18-16z"/>
<path class="c76" d="M2487 814l18 12-14-5-18-13z"/>
<path class="c106" d="M2391 748l18 16-13-9-18-16z"/>
<path class="c68" d="M2518 830l18 11-13-3-18-12z"/>
<path class="c65" d="M2777 838l18-5-14 10-18 4z"/>
<path class="c118" d="M2360 723l18 16-14-9-18-17z"/>
<path class="c173" d="M3170 605l18-7-14 10-18 8z"/>
<path class="c137" d="M3039 682l18-10-14 12-18 10z"/>
<path class="c55" d="M2695 860l18 0-14 6-18 0z"/>
<path class="c62" d="M2550 844l18 9-14-2-18-10z"/>
<path class="c131" d="M2328 696l18 17-14-10-18-17z"/>
<path class="c84" d="M2858 798l18-8-14 12-18 8z"/>
<path class="c144" d="M2296 670l18 16-14-10-18-16z"/>
<path class="c156" d="M2264 643l18 17-13-10-18-16z"/>
<path class="c58" d="M2582 853l18 7-14 0-18-7z"/>
<path class="c123" d="M2989 714l18-10-14 13-18 10z"/>
<path class="c168" d="M2233 618l18 16-14-10-18-15z"/>
<path class="c162" d="M3120 631l18-8-13 11-18 9z"/>
<path class="c59" d="M2727 853l18-2-14 7-18 2z"/>
<path class="c56" d="M2614 859l18 5-14 2-18-6z"/>
<path class="c73" d="M2808 823l18-6-13 11-18 5z"/>
<path class="c109" d="M2940 746l18-9-14 13-18 9z"/>
<path class="c149" d="M3071 660l18-9-14 12-18 9z"/>
<path class="c56" d="M2645 861l18 3-13 4-18-4z"/>
<path class="c95" d="M2890 777l18-8-14 12-18 9z"/>
<path class="c136" d="M3021 691l18-9-14 12-18 10z"/>
<path class="c65" d="M2759 842l18-4-14 9-18 4z"/>
<path class="c173" d="M3152 612l18-7-14 11-18 7z"/>
<path class="c83" d="M2840 805l18-7-14 12-18 7z"/>
<path class="c58" d="M2677 859l18 1-14 6-18-2z"/>
<path class="c95" d="M2437 779l18 15-14-7-18-15z"/>
<path class="c85" d="M2469 800l18 14-14-6-18-14z"/>
<path class="c106" d="M2405 756l18 16-14-8-18-16z"/>
<path class="c121" d="M2971 723l18-9-14 13-17 10z"/>
<path class="c77" d="M2501 818l17 12-13-4-18-12z"/>
<path class="c118" d="M2374 731l17 17-13-9-18-16z"/>
<path class="c70" d="M2532 833l18 11-14-3-18-11z"/>
<path class="c161" d="M3102 639l18-8-13 12-18 8z"/>
<path class="c130" d="M2342 705l18 18-14-10-18-17z"/>
<path class="c142" d="M2310 679l18 17-14-10-18-16z"/>
<path class="c65" d="M2564 845l18 8-14 0-18-9z"/>
<path class="c107" d="M2922 755l18-9-14 13-18 10z"/>
<path class="c155" d="M2278 653l18 17-14-10-18-17z"/>
<path class="c73" d="M2790 828l18-5-13 10-18 5z"/>
<path class="c62" d="M2709 853l18 0-14 7-18 0z"/>
<path class="c167" d="M2246 627l18 16-13-9-18-16z"/>
<path class="c148" d="M3053 669l18-9-14 12-18 10z"/>
<path class="c62" d="M2596 852l18 7-14 1-18-7z"/>
<path class="c94" d="M2872 785l18-8-14 13-18 8z"/>
<path class="c134" d="M3003 700l18-9-14 13-18 10z"/>
<path class="c61" d="M2628 856l17 5-13 3-18-5z"/>
<path class="c172" d="M3134 619l18-7-14 11-18 8z"/>
<path class="c67" d="M2741 844l18-2-14 9-18 2z"/>
<path class="c83" d="M2822 811l18-6-14 12-18 6z"/>
<path class="c119" d="M2953 732l18-9-13 14-18 9z"/>
<path class="c62" d="M2659 856l18 3-14 5-18-3z"/>
<path class="c159" d="M3085 647l17-8-13 12-18 9z"/>
<path class="c105" d="M2904 764l18-9-14 14-18 8z"/>
<path class="c96" d="M2451 785l18 15-14-6-18-15z"/>
<path class="c106" d="M2419 763l18 16-14-7-18-16z"/>
<path class="c87" d="M2483 805l18 13-14-4-18-14z"/>
<path class="c117" d="M2387 739l18 17-14-8-17-17z"/>
<path class="c74" d="M2773 832l17-4-13 10-18 4z"/>
<path class="c146" d="M3035 677l18-8-14 13-18 9z"/>
<path class="c79" d="M2514 821l18 12-14-3-17-12z"/>
<path class="c129" d="M2356 714l18 17-14-8-18-18z"/>
<path class="c65" d="M2691 852l18 1-14 7-18-1z"/>
<path class="c141" d="M2324 688l18 17-14-9-18-17z"/>
<path class="c73" d="M2546 834l18 11-14-1-18-11z"/>
<path class="c93" d="M2854 792l18-7-14 13-18 7z"/>
<path class="c154" d="M2292 662l18 17-14-9-18-17z"/>
<path class="c132" d="M2985 709l18-9-14 14-18 9z"/>
<path class="c166" d="M2260 636l18 17-14-10-18-16z"/>
<path class="c69" d="M2578 844l18 8-14 1-18-8z"/>
<path class="c171" d="M3116 626l18-7-14 12-18 8z"/>
<path class="c69" d="M2723 845l18-1-14 9-18 0z"/>
<path class="c118" d="M2935 741l18-9-13 14-18 9z"/>
<path class="c83" d="M2804 816l18-5-14 12-18 5z"/>
<path class="c67" d="M2610 850l18 6-14 3-18-7z"/>
<path class="c158" d="M3067 655l18-8-14 13-18 9z"/>
<path class="c104" d="M2886 771l18-7-14 13-18 8z"/>
<path class="c67" d="M2641 852l18 4-14 5-17-5z"/>
<path class="c144" d="M3017 686l18-9-14 14-18 9z"/>
<path class="c76" d="M2755 834l18-2-14 10-18 2z"/>
<path class="c93" d="M2836 798l18-6-14 13-18 6z"/>
<path class="c69" d="M2673 850l18 2-14 7-18-3z"/>
<path class="c130" d="M2967 718l18-9-14 14-18 9z"/>
<path class="c106" d="M2433 769l18 16-14-6-18-16z"/>
<path class="c97" d="M2465 790l18 15-14-5-18-15z"/>
<path class="c117" d="M2401 746l18 17-14-7-18-17z"/>
<path class="c88" d="M2496 808l18 13-13-3-18-13z"/>
<path class="c170" d="M3098 633l18-7-14 13-17 8z"/>
<path class="c129" d="M2369 722l18 17-13-8-18-17z"/>
<path class="c82" d="M2528 823l18 11-14-1-18-12z"/>
<path class="c141" d="M2338 696l18 18-14-9-18-17z"/>
<path class="c116" d="M2917 749l18-8-13 14-18 9z"/>
<path class="c153" d="M2306 671l18 17-14-9-18-17z"/>
<path class="c77" d="M2560 835l18 9-14 1-18-11z"/>
<path class="c165" d="M2274 645l18 17-14-9-18-17z"/>
<path class="c83" d="M2786 820l18-4-14 12-17 4z"/>
<path class="c72" d="M2705 845l18 0-14 8-18-1z"/>
<path class="c157" d="M3049 663l18-8-14 14-18 8z"/>
<path class="c74" d="M2592 842l18 8-14 2-18-8z"/>
<path class="c103" d="M2868 778l18-7-14 14-18 7z"/>
<path class="c143" d="M2999 694l18-8-14 14-18 9z"/>
<path class="c72" d="M2623 846l18 6-13 4-18-6z"/>
<path class="c78" d="M2737 836l18-2-14 10-18 1z"/>
<path class="c93" d="M2818 804l18-6-14 13-18 5z"/>
<path class="c129" d="M2949 726l18-8-14 14-18 9z"/>
<path class="c169" d="M3080 640l18-7-13 14-18 8z"/>
<path class="c73" d="M2655 846l18 4-14 6-18-4z"/>
<path class="c115" d="M2900 757l17-8-13 15-18 7z"/>
<path class="c107" d="M2447 774l18 16-14-5-18-16z"/>
<path class="c118" d="M2415 753l18 16-14-6-18-17z"/>
<path class="c156" d="M3031 671l18-8-14 14-18 9z"/>
<path class="c98" d="M2478 794l18 14-13-3-18-15z"/>
<path class="c85" d="M2768 823l18-3-13 12-18 2z"/>
<path class="c129" d="M2383 729l18 17-14-7-18-17z"/>
<path class="c91" d="M2510 810l18 13-14-2-18-13z"/>
<path class="c140" d="M2351 704l18 18-13-8-18-18z"/>
<path class="c76" d="M2687 843l18 2-14 7-18-2z"/>
<path class="c152" d="M2320 679l18 17-14-8-18-17z"/>
<path class="c103" d="M2850 784l18-6-14 14-18 6z"/>
<path class="c85" d="M2542 823l18 12-14-1-18-11z"/>
<path class="c164" d="M2288 653l18 18-14-9-18-17z"/>
<path class="c142" d="M2981 702l18-8-14 15-18 9z"/>
<path class="c81" d="M2574 833l18 9-14 2-18-9z"/>
<path class="c128" d="M2931 734l18-8-14 15-18 8z"/>
<path class="c80" d="M2719 836l18 0-14 9-18 0z"/>
<path class="c93" d="M2800 808l18-4-14 12-18 4z"/>
<path class="c79" d="M2605 839l18 7-13 4-18-8z"/>
<path class="c168" d="M3062 648l18-8-13 15-18 8z"/>
<path class="c115" d="M2882 764l18-7-14 14-18 7z"/>
<path class="c79" d="M2637 841l18 5-14 6-18-6z"/>
<path class="c154" d="M3013 679l18-8-14 15-18 8z"/>
<path class="c87" d="M2750 825l18-2-13 11-18 2z"/>
<path class="c103" d="M2832 790l18-6-14 14-18 6z"/>
<path class="c140" d="M2963 710l18-8-14 16-18 8z"/>
<path class="c80" d="M2669 840l18 3-14 7-18-4z"/>
<path class="c118" d="M2429 758l18 16-14-5-18-16z"/>
<path class="c109" d="M2460 778l18 16-13-4-18-16z"/>
<path class="c129" d="M2397 735l18 18-14-7-18-17z"/>
<path class="c101" d="M2492 796l18 14-14-2-18-14z"/>
<path class="c140" d="M2365 711l18 18-14-7-18-18z"/>
<path class="c152" d="M2333 686l18 18-13-8-18-17z"/>
<path class="c94" d="M2524 811l18 12-14 0-18-13z"/>
<path class="c127" d="M2913 741l18-7-14 15-17 8z"/>
<path class="c164" d="M2302 661l18 18-14-8-18-18z"/>
<path class="c94" d="M2782 811l18-3-14 12-18 3z"/>
<path class="c89" d="M2556 823l18 10-14 2-18-12z"/>
<path class="c167" d="M3044 655l18-7-13 15-18 8z"/>
<path class="c84" d="M2701 834l18 2-14 9-18-2z"/>
<path class="c114" d="M2864 770l18-6-14 14-18 6z"/>
<path class="c86" d="M2587 830l18 9-13 3-18-9z"/>
<path class="c153" d="M2995 686l18-7-14 15-18 8z"/>
<path class="c85" d="M2619 835l18 6-14 5-18-7z"/>
<path class="c89" d="M2732 825l18 0-13 11-18 0z"/>
<path class="c139" d="M2945 718l18-8-14 16-18 8z"/>
<path class="c104" d="M2814 794l18-4-14 14-18 4z"/>
<path class="c85" d="M2651 835l18 5-14 6-18-5z"/>
<path class="c126" d="M2895 748l18-7-13 16-18 7z"/>
<path class="c166" d="M3027 662l17-7-13 16-18 8z"/>
<path class="c96" d="M2764 813l18-2-14 12-18 2z"/>
<path class="c120" d="M2443 762l17 16-13-4-18-16z"/>
<path class="c130" d="M2411 740l18 18-14-5-18-18z"/>
<path class="c111" d="M2474 781l18 15-14-2-18-16z"/>
<path class="c141" d="M2379 717l18 18-14-6-18-18z"/>
<path class="c152" d="M2347 693l18 18-14-7-18-18z"/>
<path class="c104" d="M2506 797l18 14-14-1-18-14z"/>
<path class="c88" d="M2683 831l18 3-14 9-18-3z"/>
<path class="c114" d="M2846 775l18-5-14 14-18 6z"/>
<path class="c164" d="M2316 669l17 17-13-7-18-18z"/>
<path class="c98" d="M2538 811l18 12-14 0-18-12z"/>
<path class="c152" d="M2977 693l18-7-14 16-18 8z"/>
<path class="c94" d="M2570 820l17 10-13 3-18-10z"/>
<path class="c139" d="M2927 725l18-7-14 16-18 7z"/>
<path class="c105" d="M2796 797l18-3-14 14-18 3z"/>
<path class="c92" d="M2715 824l17 1-13 11-18-2z"/>
<path class="c91" d="M2601 826l18 9-14 4-18-9z"/>
<path class="c126" d="M2877 754l18-6-13 16-18 6z"/>
<path class="c91" d="M2633 829l18 6-14 6-18-6z"/>
<path class="c166" d="M3009 669l18-7-14 17-18 7z"/>
<path class="c99" d="M2746 813l18 0-14 12-18 0z"/>
<path class="c115" d="M2828 779l18-4-14 15-18 4z"/>
<path class="c152" d="M2959 700l18-7-14 17-18 8z"/>
<path class="c93" d="M2665 827l18 4-14 9-18-5z"/>
<path class="c131" d="M2425 745l18 17-14-4-18-18z"/>
<path class="c122" d="M2456 765l18 16-14-3-17-16z"/>
<path class="c142" d="M2393 723l18 17-14-5-18-18z"/>
<path class="c114" d="M2488 783l18 14-14-1-18-15z"/>
<path class="c153" d="M2361 699l18 18-14-6-18-18z"/>
<path class="c164" d="M2329 675l18 18-14-7-17-17z"/>
<path class="c138" d="M2909 731l18-6-14 16-18 7z"/>
<path class="c107" d="M2520 797l18 14-14 0-18-14z"/>
<path class="c106" d="M2778 799l18-2-14 14-18 2z"/>
<path class="c102" d="M2552 809l18 11-14 3-18-12z"/>
<path class="c96" d="M2697 822l18 2-14 10-18-3z"/>
<path class="c126" d="M2859 759l18-5-13 16-18 5z"/>
<path class="c99" d="M2583 817l18 9-14 4-17-10z"/>
<path class="c165" d="M2991 676l18-7-14 17-18 7z"/>
<path class="c98" d="M2615 821l18 8-14 6-18-9z"/>
<path class="c102" d="M2728 813l18 0-14 12-17-1z"/>
<path class="c151" d="M2941 707l18-7-14 18-18 7z"/>
<path class="c116" d="M2810 783l18-4-14 15-18 3z"/>
<path class="c98" d="M2647 821l18 6-14 8-18-6z"/>
<path class="c138" d="M2891 737l18-6-14 17-18 6z"/>
<path class="c109" d="M2760 800l18-1-14 14-18 0z"/>
<path class="c133" d="M2438 748l18 17-13-3-18-17z"/>
<path class="c143" d="M2407 727l18 18-14-5-18-17z"/>
<path class="c154" d="M2375 704l18 19-14-6-18-18z"/>
<path class="c125" d="M2470 767l18 16-14-2-18-16z"/>
<path class="c165" d="M2343 681l18 18-14-6-18-18z"/>
<path class="c117" d="M2502 783l18 14-14 0-18-14z"/>
<path class="c126" d="M2842 763l17-4-13 16-18 4z"/>
<path class="c101" d="M2679 818l18 4-14 9-18-4z"/>
<path class="c164" d="M2973 682l18-6-14 17-18 7z"/>
<path class="c112" d="M2534 796l18 13-14 2-18-14z"/>
<path class="c107" d="M2565 806l18 11-13 3-18-11z"/>
<path class="c151" d="M2923 713l18-6-14 18-18 6z"/>
<path class="c117" d="M2792 785l18-2-14 14-18 2z"/>
<path class="c105" d="M2710 811l18 2-13 11-18-2z"/>
<path class="c105" d="M2597 812l18 9-14 5-18-9z"/>
<path class="c138" d="M2873 742l18-5-14 17-18 5z"/>
<path class="c105" d="M2629 814l18 7-14 8-18-8z"/>
<path class="c112" d="M2742 800l18 0-14 13-18 0z"/>
<path class="c127" d="M2824 767l18-4-14 16-18 4z"/>
<path class="c164" d="M2955 688l18-6-14 18-18 7z"/>
<path class="c106" d="M2661 813l18 5-14 9-18-6z"/>
<path class="c145" d="M2420 730l18 18-13-3-18-18z"/>
<path class="c155" d="M2389 709l18 18-14-4-18-19z"/>
<path class="c136" d="M2452 750l18 17-14-2-18-17z"/>
<path class="c165" d="M2357 686l18 18-14-5-18-18z"/>
<path class="c128" d="M2484 767l18 16-14 0-18-16z"/>
<path class="c151" d="M2905 719l18-6-14 18-18 6z"/>
<path class="c121" d="M2516 782l18 14-14 1-18-14z"/>
<path class="c119" d="M2774 786l18-1-14 14-18 1z"/>
<path class="c116" d="M2547 793l18 13-13 3-18-13z"/>
<path class="c110" d="M2692 807l18 4-13 11-18-4z"/>
<path class="c139" d="M2855 746l18-4-14 17-17 4z"/>
<path class="c113" d="M2579 801l18 11-14 5-18-11z"/>
<path class="c112" d="M2611 805l18 9-14 7-18-9z"/>
<path class="c115" d="M2724 798l18 2-14 13-18-2z"/>
<path class="c164" d="M2937 694l18-6-14 19-18 6z"/>
<path class="c129" d="M2806 769l18-2-14 16-18 2z"/>
<path class="c151" d="M2887 723l18-4-14 18-18 5z"/>
<path class="c113" d="M2643 806l18 7-14 8-18-7z"/>
<path class="c122" d="M2756 786l18 0-14 14-18 0z"/>
<path class="c157" d="M2402 712l18 18-13-3-18-18z"/>
<path class="c147" d="M2434 732l18 18-14-2-18-18z"/>
<path class="c167" d="M2371 691l18 18-14-5-18-18z"/>
<path class="c139" d="M2466 751l18 16-14 0-18-17z"/>
<path class="c140" d="M2837 750l18-4-13 17-18 4z"/>
<path class="c115" d="M2674 802l18 5-13 11-18-5z"/>
<path class="c132" d="M2498 767l18 15-14 1-18-16z"/>
<path class="c126" d="M2530 779l17 14-13 3-18-14z"/>
<path class="c122" d="M2561 789l18 12-14 5-18-13z"/>
<path class="c164" d="M2919 699l18-5-14 19-18 6z"/>
<path class="c131" d="M2788 770l18-1-14 16-18 1z"/>
<path class="c119" d="M2706 795l18 3-14 13-18-4z"/>
<path class="c120" d="M2593 795l18 10-14 7-18-11z"/>
<path class="c152" d="M2869 728l18-5-14 19-18 4z"/>
<path class="c119" d="M2625 798l18 8-14 8-18-9z"/>
<path class="c126" d="M2738 785l18 1-14 14-18-2z"/>
<path class="c141" d="M2819 752l18-2-13 17-18 2z"/>
<path class="c121" d="M2657 796l17 6-13 11-18-7z"/>
<path class="c169" d="M2385 694l17 18-13-3-18-18z"/>
<path class="c159" d="M2416 714l18 18-14-2-18-18z"/>
<path class="c150" d="M2448 733l18 18-14-1-18-18z"/>
<path class="c164" d="M2901 704l18-5-14 20-18 4z"/>
<path class="c143" d="M2480 750l18 17-14 0-18-16z"/>
<path class="c136" d="M2512 765l18 14-14 3-18-15z"/>
<path class="c134" d="M2770 771l18-1-14 16-18 0z"/>
<path class="c124" d="M2688 791l18 4-14 12-18-5z"/>
<path class="c131" d="M2543 776l18 13-14 4-17-14z"/>
<path class="c153" d="M2851 731l18-3-14 18-18 4z"/>
<path class="c128" d="M2575 784l18 11-14 6-18-12z"/>
<path class="c130" d="M2720 782l18 3-14 13-18-3z"/>
<path class="c127" d="M2607 788l18 10-14 7-18-10z"/>
<path class="c143" d="M2801 753l18-1-13 17-18 1z"/>
<path class="c165" d="M2883 708l18-4-14 19-18 5z"/>
<path class="c128" d="M2639 788l18 8-14 10-18-8z"/>
<path class="c137" d="M2752 770l18 1-14 15-18-1z"/>
<path class="c171" d="M2398 696l18 18-14-2-17-18z"/>
<path class="c162" d="M2430 716l18 17-14-1-18-18z"/>
<path class="c154" d="M2462 733l18 17-14 1-18-18z"/>
<path class="c154" d="M2833 733l18-2-14 19-18 2z"/>
<path class="c130" d="M2670 785l18 6-14 11-17-6z"/>
<path class="c147" d="M2494 749l18 16-14 2-18-17z"/>
<path class="c141" d="M2525 761l18 15-13 3-18-14z"/>
<path class="c138" d="M2557 771l18 13-14 5-18-13z"/>
<path class="c146" d="M2784 754l17-1-13 17-18 1z"/>
<path class="c134" d="M2702 778l18 4-14 13-18-4z"/>
<path class="c135" d="M2589 777l18 11-14 7-18-11z"/>
<path class="c166" d="M2865 711l18-3-14 20-18 3z"/>
<path class="c135" d="M2621 779l18 9-14 10-18-10z"/>
<path class="c141" d="M2734 767l18 3-14 15-18-3z"/>
<path class="c156" d="M2815 735l18-2-14 19-18 1z"/>
<path class="c136" d="M2652 778l18 7-13 11-18-8z"/>
<path class="c174" d="M2412 698l18 18-14-2-18-18z"/>
<path class="c166" d="M2444 716l18 17-14 0-18-17z"/>
<path class="c158" d="M2476 732l18 17-14 1-18-17z"/>
<path class="c152" d="M2507 746l18 15-13 4-18-16z"/>
<path class="c149" d="M2766 753l18 1-14 17-18-1z"/>
<path class="c140" d="M2684 773l18 5-14 13-18-6z"/>
<path class="c147" d="M2539 757l18 14-14 5-18-15z"/>
<path class="c168" d="M2847 713l18-2-14 20-18 2z"/>
<path class="c144" d="M2571 765l18 12-14 7-18-13z"/>
<path class="c145" d="M2716 764l18 3-14 15-18-4z"/>
<path class="c158" d="M2797 735l18 0-14 18-17 1z"/>
<path class="c143" d="M2603 769l18 10-14 9-18-11z"/>
<path class="c144" d="M2634 769l18 9-13 10-18-9z"/>
<path class="c152" d="M2748 751l18 2-14 17-18-3z"/>
<path class="c177" d="M2426 698l18 18-14 0-18-18z"/>
<path class="c170" d="M2458 715l18 17-14 1-18-17z"/>
<path class="c170" d="M2829 715l18-2-14 20-18 2z"/>
<path class="c146" d="M2666 766l18 7-14 12-18-7z"/>
<path class="c163" d="M2489 730l18 16-13 3-18-17z"/>
<path class="c158" d="M2521 742l18 15-14 4-18-15z"/>
<path class="c154" d="M2553 751l18 14-14 6-18-14z"/>
<path class="c161" d="M2779 735l18 0-13 19-18-1z"/>
<path class="c151" d="M2698 759l18 5-14 14-18-5z"/>
<path class="c152" d="M2585 757l18 12-14 8-18-12z"/>
<path class="c151" d="M2616 759l18 10-13 10-18-10z"/>
<path class="c157" d="M2730 748l18 3-14 16-18-3z"/>
<path class="c172" d="M2811 715l18 0-14 20-18 0z"/>
<path class="c153" d="M2648 758l18 8-14 12-18-9z"/>
<path class="c181" d="M2440 697l18 18-14 1-18-18z"/>
<path class="c174" d="M2472 713l17 17-13 2-18-17z"/>
<path class="c165" d="M2761 733l18 2-13 18-18-2z"/>
<path class="c168" d="M2503 726l18 16-14 4-18-16z"/>
<path class="c156" d="M2680 752l18 7-14 14-18-7z"/>
<path class="c164" d="M2535 736l18 15-14 6-18-15z"/>
<path class="c161" d="M2567 744l18 13-14 8-18-14z"/>
<path class="c162" d="M2712 743l18 5-14 16-18-5z"/>
<path class="c175" d="M2793 715l18 0-14 20-18 0z"/>
<path class="c160" d="M2599 748l17 11-13 10-18-12z"/>
<path class="c160" d="M2630 748l18 10-14 11-18-10z"/>
<path class="c169" d="M2743 730l18 3-13 18-18-3z"/>
<path class="c186" d="M2454 695l18 18-14 2-18-18z"/>
<path class="c163" d="M2662 745l18 7-14 14-18-8z"/>
<path class="c180" d="M2485 709l18 17-14 4-17-17z"/>
<path class="c174" d="M2517 721l18 15-14 6-18-16z"/>
<path class="c171" d="M2549 730l18 14-14 7-18-15z"/>
<path class="c179" d="M2775 713l18 2-14 20-18-2z"/>
<path class="c168" d="M2694 737l18 6-14 16-18-7z"/>
<path class="c169" d="M2581 735l18 13-14 9-18-13z"/>
<path class="c169" d="M2612 737l18 11-14 11-17-11z"/>
<path class="c174" d="M2726 726l17 4-13 18-18-5z"/>
<path class="c170" d="M2644 736l18 9-14 13-18-10z"/>
<path class="c191" d="M2467 692l18 17-13 4-18-18z"/>
<path class="c185" d="M2499 705l18 16-14 5-18-17z"/>
<path class="c183" d="M2757 711l18 2-14 20-18-3z"/>
<path class="c174" d="M2676 730l18 7-14 15-18-7z"/>
<path class="c181" d="M2531 715l18 15-14 6-18-15z"/>
<path class="c178" d="M2563 722l18 13-14 9-18-14z"/>
<path class="c180" d="M2708 721l18 5-14 17-18-6z"/>
<path class="c177" d="M2594 725l18 12-13 11-18-13z"/>
<path class="c178" d="M2626 725l18 11-14 12-18-11z"/>
<path class="c187" d="M2739 707l18 4-14 19-17-4z"/>
<path class="c197" d="M2481 688l18 17-14 4-18-17z"/>
<path class="c181" d="M2658 722l18 8-14 15-18-9z"/>
<path class="c192" d="M2513 699l18 16-14 6-18-16z"/>
<path class="c189" d="M2545 707l18 15-14 8-18-15z"/>
<path class="c186" d="M2690 714l18 7-14 16-18-7z"/>
<path class="c187" d="M2576 712l18 13-13 10-18-13z"/>
<path class="c187" d="M2608 714l18 11-14 12-18-12z"/>
<path class="c193" d="M2721 702l18 5-13 19-18-5z"/>
<path class="c189" d="M2640 712l18 10-14 14-18-11z"/>
<path class="c203" d="M2495 682l18 17-14 6-18-17z"/>
<path class="c193" d="M2672 706l18 8-14 16-18-8z"/>
<path class="c199" d="M2527 692l18 15-14 8-18-16z"/>
<path class="c197" d="M2558 698l18 14-13 10-18-15z"/>
<path class="c198" d="M2703 696l18 6-13 19-18-7z"/>
<path class="c196" d="M2590 701l18 13-14 11-18-13z"/>
<path class="c197" d="M2622 701l18 11-14 13-18-11z"/>
<path class="c200" d="M2654 697l18 9-14 16-18-10z"/>
<path class="c210" d="M2509 676l18 16-14 7-18-17z"/>
<path class="c207" d="M2541 683l17 15-13 9-18-15z"/>
<path class="c205" d="M2685 688l18 8-13 18-18-8z"/>
<path class="c205" d="M2572 688l18 13-14 11-18-14z"/>
<path class="c206" d="M2604 689l18 12-14 13-18-13z"/>
<path class="c208" d="M2636 686l18 11-14 15-18-11z"/>
<path class="c218" d="M2523 668l18 15-14 9-18-16z"/>
<path class="c212" d="M2668 679l17 9-13 18-18-9z"/>
<path class="c216" d="M2554 673l18 15-14 10-17-15z"/>
<path class="c215" d="M2586 676l18 13-14 12-18-13z"/>
<path class="c216" d="M2618 675l18 11-14 15-18-12z"/>
<path class="c220" d="M2650 670l18 9-14 18-18-11z"/>
<path class="c226" d="M2536 658l18 15-13 10-18-15z"/>
<path class="c225" d="M2568 662l18 14-14 12-18-15z"/>
<path class="c226" d="M2600 662l18 13-14 14-18-13z"/>
<path class="c228" d="M2632 659l18 11-14 16-18-11z"/>
<path class="c235" d="M2550 647l18 15-14 11-18-15z"/>
<path class="c235" d="M2582 649l18 13-14 14-18-14z"/>
<path class="c237" d="M2614 647l18 12-14 16-18-13z"/>
<path class="c245" d="M2564 635l18 14-14 13-18-15z"/>
<path class="c246" d="M2596 634l18 13-14 15-18-13z"/>
<path class="c255" d="M2578 620l18 14-14 15-18-14z"/>
</g>
<line x1="1288.90" y1="605.40" x2="1647.90" y2="497.30" stroke="#262626" stroke-width="1.10"/>
<line x1="1288.90" y1="605.40" x2="1012.80" y2="464.80" stroke="#262626" stroke-width="1.10"/>
<line x1="1012.80" y1="464.80" x2="1012.80" y2="158.40" stroke="#262626" stroke-width="1.10"/>
<line x1="1288.90" y1="605.40" x2="1297.81" y2="609.94" stroke="#262626" stroke-width="1.10"/>
<line x1="1378.65" y1="578.38" x2="1387.56" y2="582.91" stroke="#262626" stroke-width="1.10"/>
<line x1="1468.40" y1="551.35" x2="1477.31" y2="555.89" stroke="#262626" stroke-width="1.10"/>
<line x1="1558.15" y1="524.33" x2="1567.06" y2="528.86" stroke="#262626" stroke-width="1.10"/>
<line x1="1647.90" y1="497.30" x2="1656.81" y2="501.84" stroke="#262626" stroke-width="1.10"/>
<line x1="1288.90" y1="605.40" x2="1279.32" y2="608.28" stroke="#262626" stroke-width="1.10"/>
<line x1="1219.88" y1="570.25" x2="1210.30" y2="573.13" stroke="#262626" stroke-width="1.10"/>
<line x1="1150.85" y1="535.10" x2="1141.27" y2="537.98" stroke="#262626" stroke-width="1.10"/>
<line x1="1081.82" y1="499.95" x2="1072.25" y2="502.83" stroke="#262626" stroke-width="1.10"/>
<line x1="1012.80" y1="464.80" x2="1003.22" y2="467.68" stroke="#262626" stroke-width="1.10"/>
<line x1="1012.80" y1="464.80" x2="1003.89" y2="460.26" stroke="#262626" stroke-width="1.10"/>
<line x1="1012.80" y1="362.67" x2="1003.89" y2="358.13" stroke="#262626" stroke-width="1.10"/>
<line x1="1012.80" y1="260.53" x2="1003.89" y2="256.00" stroke="#262626" stroke-width="1.10"/>
<line x1="1012.80" y1="158.40" x2="1003.89" y2="153.86" stroke="#262626" stroke-width="1.10"/>
<g font-family='"Liberation Sans", Arial, Helvetica, sans-serif' font-size="20.0" fill="#262626">
<text x="1304.4" y="634.4">-1</text>
<text x="1394.1" y="607.4">-0.5</text>
<text x="1483.9" y="580.4">0</text>
<text x="1573.6" y="553.3">0.5</text>
<text x="1663.4" y="526.3">1</text>
<text x="1271.4" y="631.4" text-anchor="end">-1</text>
<text x="1202.4" y="596.2" text-anchor="end">-0.5</text>
<text x="1133.3" y="561.1" text-anchor="end">0</text>
<text x="1064.3" y="526.0" text-anchor="end">0.5</text>
<text x="995.3" y="490.8" text-anchor="end">1</text>
<text x="997.9" y="465.2" text-anchor="end">0</text>
<text x="997.9" y="363.1" text-anchor="end">0.5</text>
<text x="997.9" y="260.9" text-anchor="end">1</text>
<text x="997.9" y="158.8" text-anchor="end">1.5</text>
</g>
<g font-family='"Liberation Serif", "Times New Roman", serif' font-size="35.5" fill="#000"><text x="1220.8" y="732.4">(b)</text><text x="1275.2" y="732.4">QLSSVR</text></g>
<!-- subplot c -->
<g stroke="#262626" stroke-opacity="0.15" stroke-width="1">
<line x1="111.80" y1="1231.00" x2="111.80" y2="924.60"/>
<line x1="201.55" y1="1203.98" x2="201.55" y2="897.58"/>
<line x1="291.30" y1="1176.95" x2="291.30" y2="870.55"/>
<line x1="381.05" y1="1149.92" x2="381.05" y2="843.52"/>
<line x1="470.80" y1="1122.90" x2="470.80" y2="816.50"/>
<line x1="111.80" y1="1231.00" x2="470.80" y2="1122.90"/>
<line x1="111.80" y1="1179.93" x2="470.80" y2="1071.83"/>
<line x1="111.80" y1="1128.87" x2="470.80" y2="1020.77"/>
<line x1="111.80" y1="1077.80" x2="470.80" y2="969.70"/>
<line x1="111.80" y1="1026.73" x2="470.80" y2="918.63"/>
<line x1="111.80" y1="975.67" x2="470.80" y2="867.57"/>
<line x1="111.80" y1="924.60" x2="470.80" y2="816.50"/>
<line x1="746.90" y1="1263.50" x2="746.90" y2="957.10"/>
<line x1="677.88" y1="1228.35" x2="677.88" y2="921.95"/>
<line x1="608.85" y1="1193.20" x2="608.85" y2="886.80"/>
<line x1="539.83" y1="1158.05" x2="539.83" y2="851.65"/>
<line x1="470.80" y1="1122.90" x2="470.80" y2="816.50"/>
<line x1="746.90" y1="1263.50" x2="470.80" y2="1122.90"/>
<line x1="746.90" y1="1212.43" x2="470.80" y2="1071.83"/>
<line x1="746.90" y1="1161.37" x2="470.80" y2="1020.77"/>
<line x1="746.90" y1="1110.30" x2="470.80" y2="969.70"/>
<line x1="746.90" y1="1059.23" x2="470.80" y2="918.63"/>
<line x1="746.90" y1="1008.17" x2="470.80" y2="867.57"/>
<line x1="746.90" y1="957.10" x2="470.80" y2="816.50"/>
<line x1="387.90" y1="1371.60" x2="111.80" y2="1231.00"/>
<line x1="477.65" y1="1344.58" x2="201.55" y2="1203.98"/>
<line x1="567.40" y1="1317.55" x2="291.30" y2="1176.95"/>
<line x1="657.15" y1="1290.52" x2="381.05" y2="1149.92"/>
<line x1="746.90" y1="1263.50" x2="470.80" y2="1122.90"/>
<line x1="387.90" y1="1371.60" x2="746.90" y2="1263.50"/>
<line x1="318.88" y1="1336.45" x2="677.88" y2="1228.35"/>
<line x1="249.85" y1="1301.30" x2="608.85" y2="1193.20"/>
<line x1="180.83" y1="1266.15" x2="539.83" y2="1158.05"/>
<line x1="111.80" y1="1231.00" x2="470.80" y2="1122.90"/>
</g>
<g transform="scale(0.5)" stroke="#000" stroke-width="2.00" stroke-linejoin="round">
<path class="c167" d="M937 1895l18-22-13-24-18 22z"/>
<path class="c159" d="M920 1916l17-21-13-24-18 21z"/>
<path class="c159" d="M951 1918l18-22-14-23-18 22z"/>
<path class="c150" d="M902 1936l18-20-14-24-18 20z"/>
<path class="c150" d="M933 1939l18-21-14-23-17 21z"/>
<path class="c150" d="M965 1939l18-22-14-21-18 22z"/>
<path class="c143" d="M884 1954l18-18-14-24-18 19z"/>
<path class="c142" d="M915 1958l18-19-13-23-18 20z"/>
<path class="c142" d="M947 1960l18-21-14-21-18 21z"/>
<path class="c136" d="M866 1972l18-18-14-23-18 18z"/>
<path class="c143" d="M979 1959l18-22-14-20-18 22z"/>
<path class="c134" d="M897 1977l18-19-13-22-18 18z"/>
<path class="c133" d="M929 1980l18-20-14-21-18 19z"/>
<path class="c130" d="M848 1988l18-16-14-23-18 16z"/>
<path class="c134" d="M961 1980l18-21-14-20-18 21z"/>
<path class="c127" d="M879 1995l18-18-13-23-18 18z"/>
<path class="c136" d="M993 1978l18-21-14-20-18 22z"/>
<path class="c126" d="M911 1999l18-19-14-22-18 19z"/>
<path class="c126" d="M943 2000l18-20-14-20-18 20z"/>
<path class="c124" d="M830 2004l18-16-14-23-18 16z"/>
<path class="c121" d="M862 2011l17-16-13-23-18 16z"/>
<path class="c127" d="M975 2000l18-22-14-19-18 21z"/>
<path class="c119" d="M893 2016l18-17-14-22-18 18z"/>
<path class="c130" d="M1006 1997l18-22-13-18-18 21z"/>
<path class="c118" d="M925 2019l18-19-14-20-18 19z"/>
<path class="c119" d="M812 2018l18-14-14-23-18 15z"/>
<path class="c115" d="M844 2026l18-15-14-23-18 16z"/>
<path class="c119" d="M957 2020l18-20-14-20-18 20z"/>
<path class="c113" d="M875 2033l18-17-14-21-17 16z"/>
<path class="c121" d="M989 2018l17-21-13-19-18 22z"/>
<path class="c111" d="M907 2037l18-18-14-20-18 17z"/>
<path class="c114" d="M794 2032l18-14-14-22-18 14z"/>
<path class="c124" d="M1020 2014l18-21-14-18-18 22z"/>
<path class="c111" d="M939 2039l18-19-14-20-18 19z"/>
<path class="c110" d="M826 2041l18-15-14-22-18 14z"/>
<path class="c107" d="M857 2048l18-15-13-22-18 15z"/>
<path class="c113" d="M971 2038l18-20-14-18-18 20z"/>
<path class="c105" d="M889 2054l18-17-14-21-18 17z"/>
<path class="c115" d="M1002 2034l18-20-14-17-17 21z"/>
<path class="c110" d="M776 2044l18-12-14-22-18 14z"/>
<path class="c104" d="M921 2057l18-18-14-20-18 18z"/>
<path class="c106" d="M808 2054l18-13-14-23-18 14z"/>
<path class="c119" d="M1034 2030l18-21-14-16-18 21z"/>
<path class="c105" d="M953 2057l18-19-14-18-18 19z"/>
<path class="c102" d="M839 2062l18-14-13-22-18 15z"/>
<path class="c99" d="M871 2070l18-16-14-21-18 15z"/>
<path class="c107" d="M984 2055l18-21-13-16-18 20z"/>
<path class="c97" d="M903 2074l18-17-14-20-18 17z"/>
<path class="c107" d="M758 2056l18-12-14-20-18 12z"/>
<path class="c102" d="M790 2066l18-12-14-22-18 12z"/>
<path class="c110" d="M1016 2050l18-20-14-16-18 20z"/>
<path class="c97" d="M935 2076l18-19-14-18-18 18z"/>
<path class="c98" d="M821 2076l18-14-13-21-18 13z"/>
<path class="c94" d="M853 2084l18-14-14-22-18 14z"/>
<path class="c99" d="M966 2075l18-20-13-17-18 19z"/>
<path class="c114" d="M1048 2045l18-20-14-16-18 21z"/>
<path class="c91" d="M885 2090l18-16-14-20-18 16z"/>
<path class="c104" d="M740 2067l18-11-14-20-18 12z"/>
<path class="c102" d="M998 2071l18-21-14-16-18 21z"/>
<path class="c90" d="M917 2093l18-17-14-19-18 17z"/>
<path class="c99" d="M772 2077l18-11-14-22-18 12z"/>
<path class="c94" d="M804 2087l17-11-13-22-18 12z"/>
<path class="c106" d="M1030 2065l18-20-14-15-18 20z"/>
<path class="c91" d="M948 2093l18-18-13-18-18 19z"/>
<path class="c89" d="M835 2097l18-13-14-22-18 14z"/>
<path class="c86" d="M867 2105l18-15-14-20-18 14z"/>
<path class="c94" d="M980 2091l18-20-14-16-18 20z"/>
<path class="c110" d="M1062 2059l18-19-14-15-18 20z"/>
<path class="c101" d="M722 2076l18-9-14-19-18 11z"/>
<path class="c84" d="M899 2110l18-17-14-19-18 16z"/>
<path class="c97" d="M754 2087l18-10-14-21-18 11z"/>
<path class="c91" d="M786 2098l18-11-14-21-18 11z"/>
<path class="c98" d="M1012 2085l18-20-14-15-18 21z"/>
<path class="c84" d="M931 2111l17-18-13-17-18 17z"/>
<path class="c86" d="M817 2109l18-12-14-21-17 11z"/>
<path class="c81" d="M849 2118l18-13-14-21-18 13z"/>
<path class="c86" d="M962 2110l18-19-14-16-18 18z"/>
<path class="c102" d="M1044 2079l18-20-14-14-18 20z"/>
<path class="c79" d="M881 2125l18-15-14-20-18 15z"/>
<path class="c99" d="M704 2085l18-9-14-17-18 10z"/>
<path class="c94" d="M736 2096l18-9-14-20-18 9z"/>
<path class="c89" d="M994 2105l18-20-14-14-18 20z"/>
<path class="c107" d="M1076 2072l17-18-13-14-18 19z"/>
<path class="c78" d="M913 2128l18-17-14-18-18 17z"/>
<path class="c88" d="M768 2108l18-10-14-21-18 10z"/>
<path class="c83" d="M799 2120l18-11-13-22-18 11z"/>
<path class="c79" d="M944 2128l18-18-14-17-17 18z"/>
<path class="c94" d="M1026 2099l18-20-14-14-18 20z"/>
<path class="c78" d="M831 2131l18-13-14-21-18 12z"/>
<path class="c74" d="M863 2139l18-14-14-20-18 13z"/>
<path class="c98" d="M686 2094l18-9-14-16-18 9z"/>
<path class="c81" d="M976 2125l18-20-14-14-18 19z"/>
<path class="c99" d="M1058 2091l18-19-14-13-18 20z"/>
<path class="c72" d="M895 2144l18-16-14-18-18 15z"/>
<path class="c93" d="M718 2104l18-8-14-20-18 9z"/>
<path class="c87" d="M750 2117l18-9-14-21-18 9z"/>
<path class="c86" d="M1008 2119l18-20-14-14-18 20z"/>
<path class="c72" d="M926 2146l18-18-13-17-18 17z"/>
<path class="c80" d="M781 2130l18-10-13-22-18 10z"/>
<path class="c104" d="M1089 2084l18-17-14-13-17 18z"/>
<path class="c74" d="M813 2142l18-11-14-22-18 11z"/>
<path class="c70" d="M845 2152l18-13-14-21-18 13z"/>
<path class="c74" d="M958 2144l18-19-14-15-18 18z"/>
<path class="c91" d="M1040 2111l18-20-14-12-18 20z"/>
<path class="c97" d="M668 2101l18-7-14-16-18 9z"/>
<path class="c67" d="M877 2158l18-14-14-19-18 14z"/>
<path class="c92" d="M700 2112l18-8-14-19-18 9z"/>
<path class="c78" d="M990 2139l18-20-14-14-18 20z"/>
<path class="c85" d="M732 2125l18-8-14-21-18 8z"/>
<path class="c66" d="M908 2162l18-16-13-18-18 16z"/>
<path class="c97" d="M1071 2103l18-19-13-12-18 19z"/>
<path class="c78" d="M763 2138l18-8-13-22-18 9z"/>
<path class="c72" d="M795 2152l18-10-14-22-18 10z"/>
<path class="c67" d="M940 2162l18-18-14-16-18 18z"/>
<path class="c83" d="M1022 2131l18-20-14-12-18 20z"/>
<path class="c66" d="M827 2163l18-11-14-21-18 11z"/>
<path class="c101" d="M1103 2096l18-16-14-13-18 17z"/>
<path class="c62" d="M859 2172l18-14-14-19-18 13z"/>
<path class="c96" d="M650 2108l18-7-14-14-18 7z"/>
<path class="c70" d="M972 2158l18-19-14-14-18 19z"/>
<path class="c88" d="M1053 2123l18-20-13-12-18 20z"/>
<path class="c91" d="M682 2119l18-7-14-18-18 7z"/>
<path class="c60" d="M890 2177l18-15-13-18-18 14z"/>
<path class="c84" d="M714 2132l18-7-14-21-18 8z"/>
<path class="c77" d="M746 2146l17-8-13-21-18 8z"/>
<path class="c74" d="M1004 2151l18-20-14-12-18 20z"/>
<path class="c60" d="M922 2179l18-17-14-16-18 16z"/>
<path class="c70" d="M777 2160l18-8-14-22-18 8z"/>
<path class="c94" d="M1085 2114l18-18-14-12-18 19z"/>
<path class="c64" d="M809 2173l18-10-14-21-18 10z"/>
<path class="c59" d="M841 2184l18-12-14-20-18 11z"/>
<path class="c62" d="M954 2176l18-18-14-14-18 18z"/>
<path class="c80" d="M1035 2143l18-20-13-12-18 20z"/>
<path class="c95" d="M632 2114l18-6-14-14-17 8z"/>
<path class="c99" d="M1117 2107l18-15-14-12-18 16z"/>
<path class="c55" d="M873 2191l17-14-13-19-18 14z"/>
<path class="c90" d="M664 2125l18-6-14-18-18 7z"/>
<path class="c66" d="M986 2171l18-20-14-12-18 19z"/>
<path class="c84" d="M696 2138l18-6-14-20-18 7z"/>
<path class="c54" d="M904 2194l18-15-14-17-18 15z"/>
<path class="c87" d="M1067 2133l18-19-14-11-18 20z"/>
<path class="c76" d="M728 2153l18-7-14-21-18 7z"/>
<path class="c69" d="M759 2168l18-8-14-22-17 8z"/>
<path class="c61" d="M791 2182l18-9-14-21-18 8z"/>
<path class="c55" d="M936 2194l18-18-14-14-18 17z"/>
<path class="c72" d="M1018 2163l17-20-13-12-18 20z"/>
<path class="c56" d="M823 2194l18-10-14-21-18 10z"/>
<path class="c93" d="M1099 2124l18-17-14-11-18 18z"/>
<path class="c95" d="M614 2120l18-6-13-12-18 6z"/>
<path class="c51" d="M855 2203l18-12-14-19-18 12z"/>
<path class="c59" d="M968 2190l18-19-14-13-18 18z"/>
<path class="c90" d="M646 2130l18-5-14-17-18 6z"/>
<path class="c78" d="M1049 2153l18-20-14-10-18 20z"/>
<path class="c49" d="M886 2209l18-15-14-17-17 14z"/>
<path class="c98" d="M1131 2116l18-14-14-10-18 15z"/>
<path class="c84" d="M678 2143l18-5-14-19-18 6z"/>
<path class="c76" d="M710 2159l18-6-14-21-18 6z"/>
<path class="c68" d="M741 2175l18-7-13-22-18 7z"/>
<path class="c64" d="M1000 2183l18-20-14-12-18 20z"/>
<path class="c49" d="M918 2210l18-16-14-15-18 15z"/>
<path class="c60" d="M773 2190l18-8-14-22-18 8z"/>
<path class="c85" d="M1081 2143l18-19-14-10-18 19z"/>
<path class="c53" d="M805 2204l18-10-14-21-18 9z"/>
<path class="c51" d="M950 2208l18-18-14-14-18 18z"/>
<path class="c48" d="M837 2215l18-12-14-19-18 10z"/>
<path class="c96" d="M596 2124l18-4-13-12-18 5z"/>
<path class="c70" d="M1031 2173l18-20-14-10-17 20z"/>
<path class="c45" d="M868 2222l18-13-13-18-18 12z"/>
<path class="c92" d="M1113 2133l18-17-14-9-18 17z"/>
<path class="c91" d="M628 2135l18-5-14-16-18 6z"/>
<path class="c56" d="M982 2202l18-19-14-12-18 19z"/>
<path class="c84" d="M660 2148l18-5-14-18-18 5z"/>
<path class="c44" d="M900 2226l18-16-14-16-18 15z"/>
<path class="c76" d="M692 2164l18-5-14-21-18 5z"/>
<path class="c77" d="M1063 2162l18-19-14-10-18 20z"/>
<path class="c68" d="M723 2181l18-6-13-22-18 6z"/>
<path class="c97" d="M1145 2126l17-13-13-11-18 14z"/>
<path class="c59" d="M755 2197l18-7-14-22-18 7z"/>
<path class="c52" d="M787 2212l18-8-14-22-18 8z"/>
<path class="c45" d="M932 2225l18-17-14-14-18 16z"/>
<path class="c61" d="M1013 2194l18-21-13-10-18 20z"/>
<path class="c46" d="M819 2224l18-9-14-21-18 10z"/>
<path class="c84" d="M1095 2151l18-18-14-9-18 19z"/>
<path class="c96" d="M578 2129l18-5-13-11-18 5z"/>
<path class="c41" d="M850 2234l18-12-13-19-18 12z"/>
<path class="c48" d="M964 2221l18-19-14-12-18 18z"/>
<path class="c91" d="M610 2139l18-4-14-15-18 4z"/>
<path class="c39" d="M882 2239l18-13-14-17-18 13z"/>
<path class="c69" d="M1045 2183l18-21-14-9-18 20z"/>
<path class="c85" d="M642 2153l18-5-14-18-18 5z"/>
<path class="c91" d="M1127 2141l18-15-14-10-18 17z"/>
<path class="c77" d="M674 2169l18-5-14-21-18 5z"/>
<path class="c68" d="M705 2186l18-5-13-22-18 5z"/>
<path class="c53" d="M995 2213l18-19-13-11-18 19z"/>
<path class="c39" d="M914 2241l18-16-14-15-18 16z"/>
<path class="c59" d="M737 2203l18-6-14-22-18 6z"/>
<path class="c51" d="M769 2219l18-7-14-22-18 7z"/>
<path class="c76" d="M1077 2171l18-20-14-8-18 19z"/>
<path class="c44" d="M801 2233l18-9-14-20-18 8z"/>
<path class="c96" d="M1158 2134l18-12-14-9-17 13z"/>
<path class="c41" d="M946 2239l18-18-14-13-18 17z"/>
<path class="c38" d="M832 2244l18-10-13-19-18 9z"/>
<path class="c97" d="M561 2132l17-3-13-11-18 4z"/>
<path class="c60" d="M1027 2203l18-20-14-10-18 21z"/>
<path class="c35" d="M864 2252l18-13-14-17-18 12z"/>
<path class="c92" d="M592 2143l18-4-14-15-18 5z"/>
<path class="c84" d="M1109 2159l18-18-14-8-18 18z"/>
<path class="c46" d="M977 2233l18-20-13-11-18 19z"/>
<path class="c86" d="M624 2156l18-3-14-18-18 4z"/>
<path class="c34" d="M896 2255l18-14-14-15-18 13z"/>
<path class="c77" d="M656 2172l18-3-14-21-18 5z"/>
<path class="c68" d="M688 2190l17-4-13-22-18 5z"/>
<path class="c68" d="M1059 2191l18-20-14-9-18 21z"/>
<path class="c59" d="M719 2208l18-5-14-22-18 5z"/>
<path class="c50" d="M751 2225l18-6-14-22-18 6z"/>
<path class="c90" d="M1140 2149l18-15-13-8-18 15z"/>
<path class="c43" d="M783 2241l18-8-14-21-18 7z"/>
<path class="c35" d="M928 2255l18-16-14-14-18 16z"/>
<path class="c52" d="M1009 2223l18-20-14-9-18 19z"/>
<path class="c36" d="M815 2253l17-9-13-20-18 9z"/>
<path class="c76" d="M1091 2178l18-19-14-8-18 20z"/>
<path class="c32" d="M846 2263l18-11-14-18-18 10z"/>
<path class="c99" d="M543 2136l18-4-14-10-18 4z"/>
<path class="c95" d="M1172 2142l18-11-14-9-18 12z"/>
<path class="c38" d="M960 2251l17-18-13-12-18 18z"/>
<path class="c94" d="M574 2146l18-3-14-14-17 3z"/>
<path class="c30" d="M878 2268l18-13-14-16-18 13z"/>
<path class="c59" d="M1041 2212l18-21-14-8-18 20z"/>
<path class="c87" d="M606 2159l18-3-14-17-18 4z"/>
<path class="c79" d="M638 2176l18-4-14-19-18 3z"/>
<path class="c84" d="M1122 2166l18-17-13-8-18 18z"/>
<path class="c70" d="M670 2193l18-3-14-21-18 3z"/>
<path class="c44" d="M991 2243l18-20-14-10-18 20z"/>
<path class="c30" d="M910 2270l18-15-14-14-18 14z"/>
<path class="c60" d="M701 2212l18-4-14-22-17 4z"/>
<path class="c51" d="M733 2230l18-5-14-22-18 5z"/>
<path class="c42" d="M765 2247l18-6-14-22-18 6z"/>
<path class="c68" d="M1073 2199l18-21-14-7-18 20z"/>
<path class="c35" d="M797 2261l18-8-14-20-18 8z"/>
<path class="c32" d="M942 2268l18-17-14-12-18 16z"/>
<path class="c29" d="M828 2272l18-9-14-19-17 9z"/>
<path class="c90" d="M1154 2156l18-14-14-8-18 15z"/>
<path class="c51" d="M1023 2232l18-20-14-9-18 20z"/>
<path class="c100" d="M525 2138l18-2-14-10-18 3z"/>
<path class="c26" d="M860 2280l18-12-14-16-18 11z"/>
<path class="c95" d="M556 2149l18-3-13-14-18 4z"/>
<path class="c76" d="M1104 2185l18-19-13-7-18 19z"/>
<path class="c36" d="M973 2261l18-18-14-10-17 18z"/>
<path class="c95" d="M1186 2149l18-10-14-8-18 11z"/>
<path class="c88" d="M588 2162l18-3-14-16-18 3z"/>
<path class="c25" d="M892 2284l18-14-14-15-18 13z"/>
<path class="c80" d="M620 2178l18-2-14-20-18 3z"/>
<path class="c71" d="M652 2196l18-3-14-21-18 4z"/>
<path class="c59" d="M1055 2219l18-20-14-8-18 21z"/>
<path class="c61" d="M683 2215l18-3-13-22-18 3z"/>
<path class="c52" d="M715 2234l18-4-14-22-18 4z"/>
<path class="c42" d="M747 2252l18-5-14-22-18 5z"/>
<path class="c26" d="M924 2283l18-15-14-13-18 15z"/>
<path class="c34" d="M779 2268l18-7-14-20-18 6z"/>
<path class="c84" d="M1136 2173l18-17-14-7-18 17z"/>
<path class="c43" d="M1005 2252l18-20-14-9-18 20z"/>
<path class="c28" d="M810 2281l18-9-13-19-18 8z"/>
<path class="c23" d="M842 2290l18-10-14-17-18 9z"/>
<path class="c68" d="M1087 2205l17-20-13-7-18 21z"/>
<path class="c102" d="M507 2140l18-2-14-9-18 2z"/>
<path class="c29" d="M955 2279l18-18-13-10-18 17z"/>
<path class="c91" d="M1168 2162l18-13-14-7-18 14z"/>
<path class="c97" d="M538 2151l18-2-13-13-18 2z"/>
<path class="c21" d="M874 2296l18-12-14-16-18 12z"/>
<path class="c50" d="M1037 2240l18-21-14-7-18 20z"/>
<path class="c90" d="M570 2165l18-3-14-16-18 3z"/>
<path class="c82" d="M602 2181l18-3-14-19-18 3z"/>
<path class="c73" d="M634 2199l18-3-14-20-18 2z"/>
<path class="c35" d="M987 2271l18-19-14-9-18 18z"/>
<path class="c21" d="M906 2298l18-15-14-13-18 14z"/>
<path class="c77" d="M1118 2191l18-18-14-7-18 19z"/>
<path class="c63" d="M665 2218l18-3-13-22-18 3z"/>
<path class="c53" d="M697 2237l18-3-14-22-18 3z"/>
<path class="c96" d="M1200 2155l18-9-14-7-18 10z"/>
<path class="c43" d="M729 2256l18-4-14-22-18 4z"/>
<path class="c34" d="M761 2273l18-5-14-21-18 5z"/>
<path class="c59" d="M1069 2226l18-21-14-6-18 20z"/>
<path class="c27" d="M792 2287l18-6-13-20-18 7z"/>
<path class="c23" d="M937 2295l18-16-13-11-18 15z"/>
<path class="c22" d="M824 2299l18-9-14-18-18 9z"/>
<path class="c42" d="M1019 2260l18-20-14-8-18 20z"/>
<path class="c85" d="M1150 2179l18-17-14-6-18 17z"/>
<path class="c104" d="M489 2142l18-2-14-9-18 1z"/>
<path class="c18" d="M856 2306l18-10-14-16-18 10z"/>
<path class="c99" d="M520 2153l18-2-13-13-18 2z"/>
<path class="c68" d="M1100 2211l18-20-14-6-17 20z"/>
<path class="c28" d="M969 2289l18-18-14-10-18 18z"/>
<path class="c92" d="M552 2167l18-2-14-16-18 2z"/>
<path class="c17" d="M888 2310l18-12-14-14-18 12z"/>
<path class="c84" d="M584 2182l18-1-14-19-18 3z"/>
<path class="c91" d="M1182 2168l18-13-14-6-18 13z"/>
<path class="c51" d="M1051 2246l18-20-14-7-18 21z"/>
<path class="c75" d="M616 2200l18-1-14-21-18 3z"/>
<path class="c65" d="M647 2220l18-2-13-22-18 3z"/>
<path class="c55" d="M679 2239l18-2-14-22-18 3z"/>
<path class="c45" d="M711 2259l18-3-14-22-18 3z"/>
<path class="c35" d="M743 2277l18-4-14-21-18 4z"/>
<path class="c18" d="M919 2310l18-15-13-12-18 15z"/>
<path class="c27" d="M774 2293l18-6-13-19-18 5z"/>
<path class="c34" d="M1001 2279l18-19-14-8-18 19z"/>
<path class="c77" d="M1132 2197l18-18-14-6-18 18z"/>
<path class="c96" d="M1214 2161l18-9-14-6-18 9z"/>
<path class="c21" d="M806 2306l18-7-14-18-18 6z"/>
<path class="c16" d="M838 2316l18-10-14-16-18 9z"/>
<path class="c60" d="M1082 2231l18-20-13-6-18 21z"/>
<path class="c22" d="M951 2305l18-16-14-10-18 16z"/>
<path class="c107" d="M471 2143l18-1-14-10-18 1z"/>
<path class="c42" d="M1033 2266l18-20-14-6-18 20z"/>
<path class="c101" d="M503 2155l17-2-13-13-18 2z"/>
<path class="c14" d="M870 2321l18-11-14-14-18 10z"/>
<path class="c86" d="M1164 2184l18-16-14-6-18 17z"/>
<path class="c94" d="M534 2168l18-1-14-16-18 2z"/>
<path class="c86" d="M566 2184l18-2-14-17-18 2z"/>
<path class="c27" d="M983 2297l18-18-14-8-18 18z"/>
<path class="c77" d="M598 2202l18-2-14-19-18 1z"/>
<path class="c14" d="M902 2323l17-13-13-12-18 12z"/>
<path class="c70" d="M1114 2216l18-19-14-6-18 20z"/>
<path class="c67" d="M630 2221l17-1-13-21-18 1z"/>
<path class="c57" d="M661 2241l18-2-14-21-18 2z"/>
<path class="c46" d="M693 2261l18-2-14-22-18 2z"/>
<path class="c37" d="M725 2280l18-3-14-21-18 3z"/>
<path class="c28" d="M757 2297l17-4-13-20-18 4z"/>
<path class="c92" d="M1196 2174l18-13-14-6-18 13z"/>
<path class="c52" d="M1064 2252l18-21-13-5-18 20z"/>
<path class="c20" d="M788 2312l18-6-14-19-18 6z"/>
<path class="c16" d="M933 2320l18-15-14-10-18 15z"/>
<path class="c15" d="M820 2323l18-7-14-17-18 7z"/>
<path class="c34" d="M1015 2286l18-20-14-6-18 19z"/>
<path class="c79" d="M1146 2202l18-18-14-5-18 18z"/>
<path class="c97" d="M1227 2166l18-8-13-6-18 9z"/>
<path class="c109" d="M453 2144l18-1-14-10-18 0z"/>
<path class="c12" d="M852 2331l18-10-14-15-18 10z"/>
<path class="c103" d="M485 2156l18-1-14-13-18 1z"/>
<path class="c21" d="M965 2314l18-17-14-8-18 16z"/>
<path class="c61" d="M1096 2236l18-20-14-5-18 20z"/>
<path class="c96" d="M516 2170l18-2-14-15-17 2z"/>
<path class="c10" d="M884 2334l18-11-14-13-18 11z"/>
<path class="c89" d="M548 2185l18-1-14-17-18 1z"/>
<path class="c43" d="M1046 2272l18-20-13-6-18 20z"/>
<path class="c80" d="M580 2203l18-1-14-20-18 2z"/>
<path class="c87" d="M1178 2189l18-15-14-6-18 16z"/>
<path class="c70" d="M612 2222l18-1-14-21-18 2z"/>
<path class="c59" d="M643 2242l18-1-14-21-17 1z"/>
<path class="c49" d="M675 2262l18-1-14-22-18 2z"/>
<path class="c39" d="M707 2282l18-2-14-21-18 2z"/>
<path class="c29" d="M739 2300l18-3-14-20-18 3z"/>
<path class="c12" d="M915 2334l18-14-14-10-17 13z"/>
<path class="c27" d="M997 2304l18-18-14-7-18 18z"/>
<path class="c21" d="M770 2316l18-4-14-19-17 4z"/>
<path class="c71" d="M1128 2221l18-19-14-5-18 19z"/>
<path class="c15" d="M802 2329l18-6-14-17-18 6z"/>
<path class="c94" d="M1209 2178l18-12-13-5-18 13z"/>
<path class="c53" d="M1078 2257l18-21-14-5-18 21z"/>
<path class="c10" d="M834 2339l18-8-14-15-18 7z"/>
<path class="c15" d="M947 2330l18-16-14-9-18 15z"/>
<path class="c112" d="M435 2144l18 0-14-11-18-1z"/>
<path class="c35" d="M1029 2292l17-20-13-6-18 20z"/>
<path class="c8" d="M866 2344l18-10-14-13-18 10z"/>
<path class="c106" d="M467 2157l18-1-14-13-18 1z"/>
<path class="c80" d="M1160 2206l18-17-14-5-18 18z"/>
<path class="c99" d="M1241 2171l18-8-14-5-18 8z"/>
<path class="c99" d="M498 2171l18-1-13-15-18 1z"/>
<path class="c91" d="M530 2186l18-1-14-17-18 2z"/>
<path class="c20" d="M979 2321l18-17-14-7-18 17z"/>
<path class="c8" d="M897 2346l18-12-13-11-18 11z"/>
<path class="c82" d="M562 2203l18 0-14-19-18 1z"/>
<path class="c63" d="M1110 2240l18-19-14-5-18 20z"/>
<path class="c73" d="M594 2222l18 0-14-20-18 1z"/>
<path class="c62" d="M625 2242l18 0-13-21-18 1z"/>
<path class="c51" d="M657 2263l18-1-14-21-18 1z"/>
<path class="c41" d="M689 2283l18-1-14-21-18 1z"/>
<path class="c31" d="M721 2302l18-2-14-20-18 2z"/>
<path class="c22" d="M752 2319l18-3-13-19-18 3z"/>
<path class="c45" d="M1060 2277l18-20-14-5-18 20z"/>
<path class="c88" d="M1191 2193l18-15-13-4-18 15z"/>
<path class="c15" d="M784 2334l18-5-14-17-18 4z"/>
<path class="c10" d="M929 2343l18-13-14-10-18 14z"/>
<path class="c10" d="M816 2345l18-6-14-16-18 6z"/>
<path class="c28" d="M1011 2310l18-18-14-6-18 18z"/>
<path class="c73" d="M1142 2225l18-19-14-4-18 19z"/>
<path class="c6" d="M848 2352l18-8-14-13-18 8z"/>
<path class="c115" d="M417 2144l18 0-14-12-18-1z"/>
<path class="c95" d="M1223 2183l18-12-14-5-18 12z"/>
<path class="c109" d="M449 2157l18 0-14-13-18 0z"/>
<path class="c15" d="M961 2337l18-16-14-7-18 16z"/>
<path class="c55" d="M1092 2260l18-20-14-4-18 21z"/>
<path class="c102" d="M480 2171l18 0-13-15-18 1z"/>
<path class="c5" d="M879 2356l18-10-13-12-18 10z"/>
<path class="c37" d="M1042 2296l18-19-14-5-17 20z"/>
<path class="c94" d="M512 2187l18-1-14-16-18 1z"/>
<path class="c85" d="M544 2204l18-1-14-18-18 1z"/>
<path class="c82" d="M1174 2210l17-17-13-4-18 17z"/>
<path class="c76" d="M576 2222l18 0-14-19-18 0z"/>
<path class="c65" d="M607 2242l18 0-13-20-18 0z"/>
<path class="c100" d="M1255 2176l18-8-14-5-18 8z"/>
<path class="c55" d="M639 2263l18 0-14-21-18 0z"/>
<path class="c44" d="M671 2283l18 0-14-21-18 1z"/>
<path class="c34" d="M703 2303l18-1-14-20-18 1z"/>
<path class="c24" d="M734 2321l18-2-13-19-18 2z"/>
<path class="c6" d="M911 2356l18-13-14-9-18 12z"/>
<path class="c21" d="M993 2327l18-17-14-6-18 17z"/>
<path class="c16" d="M766 2337l18-3-14-18-18 3z"/>
<path class="c65" d="M1124 2244l18-19-14-4-18 19z"/>
<path class="c10" d="M798 2349l18-4-14-16-18 5z"/>
<path class="c46" d="M1074 2280l18-20-14-3-18 20z"/>
<path class="c6" d="M830 2359l18-7-14-13-18 6z"/>
<path class="c90" d="M1205 2197l18-14-14-5-18 15z"/>
<path class="c10" d="M943 2351l18-14-14-7-18 13z"/>
<path class="c119" d="M399 2143l18 1-14-13-18-1z"/>
<path class="c29" d="M1024 2315l18-19-13-4-18 18z"/>
<path class="c3" d="M861 2364l18-8-13-12-18 8z"/>
<path class="c112" d="M431 2158l18-1-14-13-18 0z"/>
<path class="c75" d="M1156 2228l18-18-14-4-18 19z"/>
<path class="c104" d="M462 2172l18-1-13-14-18 0z"/>
<path class="c97" d="M494 2187l18 0-14-16-18 0z"/>
<path class="c97" d="M1237 2187l18-11-14-5-18 12z"/>
<path class="c15" d="M975 2343l18-16-14-6-18 16z"/>
<path class="c57" d="M1106 2264l18-20-14-4-18 20z"/>
<path class="c88" d="M526 2204l18 0-14-18-18 1z"/>
<path class="c3" d="M893 2366l18-10-14-10-18 10z"/>
<path class="c79" d="M558 2222l18 0-14-19-18 1z"/>
<path class="c69" d="M589 2241l18 1-13-20-18 0z"/>
<path class="c58" d="M621 2262l18 1-14-21-18 0z"/>
<path class="c47" d="M653 2282l18 1-14-20-18 0z"/>
<path class="c37" d="M685 2303l18 0-14-20-18 0z"/>
<path class="c27" d="M717 2321l17 0-13-19-18 1z"/>
<path class="c39" d="M1056 2300l18-20-14-3-18 19z"/>
<path class="c18" d="M748 2338l18-1-14-18-18 2z"/>
<path class="c11" d="M780 2353l18-4-14-15-18 3z"/>
<path class="c84" d="M1187 2213l18-16-14-4-17 17z"/>
<path class="c102" d="M1269 2179l18-8-14-3-18 8z"/>
<path class="c6" d="M925 2364l18-13-14-8-18 13z"/>
<path class="c22" d="M1006 2332l18-17-13-5-18 17z"/>
<path class="c6" d="M812 2364l18-5-14-14-18 4z"/>
<path class="c67" d="M1138 2247l18-19-14-3-18 19z"/>
<path class="c3" d="M844 2371l17-7-13-12-18 7z"/>
<path class="c122" d="M381 2142l18 1-14-13-18-2z"/>
<path class="c49" d="M1088 2283l18-19-14-4-18 20z"/>
<path class="c10" d="M957 2358l18-15-14-6-18 14z"/>
<path class="c115" d="M413 2157l18 1-14-14-18-1z"/>
<path class="c92" d="M1219 2201l18-14-14-4-18 14z"/>
<path class="c107" d="M445 2172l17 0-13-15-18 1z"/>
<path class="c2" d="M875 2375l18-9-14-10-18 8z"/>
<path class="c31" d="M1038 2318l18-18-14-4-18 19z"/>
<path class="c100" d="M476 2187l18 0-14-16-18 1z"/>
<path class="c91" d="M508 2203l18 1-14-17-18 0z"/>
<path class="c77" d="M1169 2231l18-18-13-3-18 18z"/>
<path class="c82" d="M540 2221l18 1-14-18-18 0z"/>
<path class="c72" d="M572 2240l17 1-13-19-18 0z"/>
<path class="c62" d="M603 2260l18 2-14-20-18-1z"/>
<path class="c51" d="M635 2281l18 1-14-19-18-1z"/>
<path class="c40" d="M667 2302l18 1-14-20-18-1z"/>
<path class="c30" d="M699 2321l18 0-14-18-18 0z"/>
<path class="c16" d="M988 2348l18-16-13-5-18 16z"/>
<path class="c21" d="M730 2339l18-1-14-17-17 0z"/>
<path class="c3" d="M907 2374l18-10-14-8-18 10z"/>
<path class="c99" d="M1251 2190l18-11-14-3-18 11z"/>
<path class="c59" d="M1120 2266l18-19-14-3-18 20z"/>
<path class="c13" d="M762 2354l18-1-14-16-18 1z"/>
<path class="c7" d="M794 2367l18-3-14-15-18 4z"/>
<path class="c41" d="M1070 2302l18-19-14-3-18 20z"/>
<path class="c6" d="M939 2370l18-12-14-7-18 13z"/>
<path class="c86" d="M1201 2216l18-15-14-4-18 16z"/>
<path class="c3" d="M826 2376l18-5-14-12-18 5z"/>
<path class="c104" d="M1283 2183l18-9-14-3-18 8z"/>
<path class="c24" d="M1020 2335l18-17-14-3-18 17z"/>
<path class="c126" d="M363 2140l18 2-14-14-18-3z"/>
<path class="c118" d="M395 2156l18 1-14-14-18-1z"/>
<path class="c1" d="M857 2382l18-7-14-11-17 7z"/>
<path class="c70" d="M1151 2249l18-18-13-3-18 19z"/>
<path class="c111" d="M427 2172l18 0-14-14-18-1z"/>
<path class="c103" d="M458 2187l18 0-14-15-17 0z"/>
<path class="c11" d="M971 2362l17-14-13-5-18 15z"/>
<path class="c51" d="M1102 2285l18-19-14-2-18 19z"/>
<path class="c95" d="M490 2203l18 0-14-16-18 0z"/>
<path class="c94" d="M1233 2204l18-14-14-3-18 14z"/>
<path class="c1" d="M889 2383l18-9-14-8-18 9z"/>
<path class="c86" d="M522 2220l18 1-14-17-18-1z"/>
<path class="c76" d="M554 2239l18 1-14-18-18-1z"/>
<path class="c66" d="M585 2259l18 1-14-19-17-1z"/>
<path class="c55" d="M617 2279l18 2-14-19-18-2z"/>
<path class="c45" d="M649 2300l18 2-14-20-18-1z"/>
<path class="c34" d="M681 2320l18 1-14-18-18-1z"/>
<path class="c34" d="M1052 2321l18-19-14-2-18 18z"/>
<path class="c25" d="M712 2338l18 1-13-18-18 0z"/>
<path class="c16" d="M744 2355l18-1-14-16-18 1z"/>
<path class="c80" d="M1183 2234l18-18-14-3-18 18z"/>
<path class="c9" d="M776 2369l18-2-14-14-18 1z"/>
<path class="c3" d="M921 2381l18-11-14-6-18 10z"/>
<path class="c18" d="M1002 2351l18-16-14-3-18 16z"/>
<path class="c101" d="M1265 2194l18-11-14-4-18 11z"/>
<path class="c4" d="M808 2380l18-4-14-12-18 3z"/>
<path class="c62" d="M1133 2268l18-19-13-2-18 19z"/>
<path class="c1" d="M839 2387l18-5-13-11-18 5z"/>
<path class="c44" d="M1084 2304l18-19-14-2-18 19z"/>
<path class="c131" d="M345 2138l18 2-14-15-18-2z"/>
<path class="c7" d="M953 2375l18-13-14-4-18 12z"/>
<path class="c122" d="M377 2155l18 1-14-14-18-2z"/>
<path class="c89" d="M1215 2219l18-15-14-3-18 15z"/>
<path class="c107" d="M1296 2185l18-9-13-2-18 9z"/>
<path class="c114" d="M409 2171l18 1-14-15-18-1z"/>
<path class="c27" d="M1034 2338l18-17-14-3-18 17z"/>
<path class="c0" d="M871 2391l18-8-14-8-18 7z"/>
<path class="c106" d="M440 2186l18 1-13-15-18 0z"/>
<path class="c98" d="M472 2202l18 1-14-16-18 0z"/>
<path class="c73" d="M1165 2251l18-17-14-3-18 18z"/>
<path class="c90" d="M504 2219l18 1-14-17-18 0z"/>
<path class="c80" d="M536 2237l18 2-14-18-18-1z"/>
<path class="c70" d="M567 2257l18 2-13-19-18-1z"/>
<path class="c60" d="M599 2277l18 2-14-19-18-1z"/>
<path class="c49" d="M631 2297l18 3-14-19-18-2z"/>
<path class="c38" d="M663 2318l18 2-14-18-18-2z"/>
<path class="c29" d="M694 2337l18 1-13-17-18-1z"/>
<path class="c13" d="M984 2366l18-15-14-3-17 14z"/>
<path class="c1" d="M903 2390l18-9-14-7-18 9z"/>
<path class="c20" d="M726 2354l18 1-14-16-18-1z"/>
<path class="c55" d="M1116 2287l17-19-13-2-18 19z"/>
<path class="c96" d="M1247 2207l18-13-14-4-18 14z"/>
<path class="c12" d="M758 2369l18 0-14-15-18 1z"/>
<path class="c37" d="M1066 2322l18-18-14-2-18 19z"/>
<path class="c6" d="M790 2382l18-2-14-13-18 2z"/>
<path class="c82" d="M1197 2236l18-17-14-3-18 18z"/>
<path class="c4" d="M935 2386l18-11-14-5-18 11z"/>
<path class="c2" d="M821 2391l18-4-13-11-18 4z"/>
<path class="c21" d="M1016 2354l18-16-14-3-18 16z"/>
<path class="c103" d="M1278 2197l18-12-13-2-18 11z"/>
<path class="c135" d="M327 2136l18 2-14-15-18-3z"/>
<path class="c65" d="M1147 2270l18-19-14-2-18 19z"/>
<path class="c126" d="M359 2153l18 2-14-15-18-2z"/>
<path class="c0" d="M853 2396l18-5-14-9-18 5z"/>
<path class="c118" d="M391 2169l18 2-14-15-18-1z"/>
<path class="c110" d="M422 2185l18 1-13-14-18-1z"/>
<path class="c47" d="M1098 2305l18-18-14-2-18 19z"/>
<path class="c9" d="M966 2379l18-13-13-4-18 13z"/>
<path class="c102" d="M454 2201l18 1-14-15-18-1z"/>
<path class="c91" d="M1229 2222l18-15-14-3-18 15z"/>
<path class="c94" d="M486 2217l18 2-14-16-18-1z"/>
<path class="c109" d="M1310 2188l18-10-14-2-18 9z"/>
<path class="c0" d="M885 2398l18-8-14-7-18 8z"/>
<path class="c85" d="M518 2235l18 2-14-17-18-1z"/>
<path class="c75" d="M549 2254l18 3-13-18-18-2z"/>
<path class="c30" d="M1048 2339l18-17-14-1-18 17z"/>
<path class="c64" d="M581 2274l18 3-14-18-18-2z"/>
<path class="c54" d="M613 2294l18 3-14-18-18-2z"/>
<path class="c43" d="M645 2315l18 3-14-18-18-3z"/>
<path class="c33" d="M676 2334l18 3-13-17-18-2z"/>
<path class="c24" d="M708 2352l18 2-14-16-18-1z"/>
<path class="c76" d="M1179 2253l18-17-14-2-18 17z"/>
<path class="c15" d="M740 2369l18 0-14-14-18-1z"/>
<path class="c9" d="M772 2382l18 0-14-13-18 0z"/>
<path class="c2" d="M917 2396l18-10-14-5-18 9z"/>
<path class="c16" d="M998 2368l18-14-14-3-18 15z"/>
<path class="c99" d="M1260 2210l18-13-13-3-18 13z"/>
<path class="c58" d="M1129 2288l18-18-14-2-17 19z"/>
<path class="c4" d="M803 2393l18-2-13-11-18 2z"/>
<path class="c40" d="M1080 2323l18-18-14-1-18 18z"/>
<path class="c1" d="M835 2400l18-4-14-9-18 4z"/>
<path class="c140" d="M309 2133l18 3-14-16-18-3z"/>
<path class="c131" d="M341 2150l18 3-14-15-18-2z"/>
<path class="c6" d="M948 2390l18-11-13-4-18 11z"/>
<path class="c85" d="M1211 2238l18-16-14-3-18 17z"/>
<path class="c122" d="M373 2167l18 2-14-14-18-2z"/>
<path class="c25" d="M1030 2355l18-16-14-1-18 16z"/>
<path class="c106" d="M1292 2199l18-11-14-3-18 12z"/>
<path class="c114" d="M404 2183l18 2-13-14-18-2z"/>
<path class="c0" d="M867 2403l18-5-14-7-18 5z"/>
<path class="c106" d="M436 2199l18 2-14-15-18-1z"/>
<path class="c69" d="M1161 2271l18-18-14-2-18 19z"/>
<path class="c98" d="M468 2215l18 2-14-15-18-1z"/>
<path class="c89" d="M500 2233l18 2-14-16-18-2z"/>
<path class="c79" d="M531 2251l18 3-13-17-18-2z"/>
<path class="c69" d="M563 2271l18 3-14-17-18-3z"/>
<path class="c59" d="M595 2291l18 3-14-17-18-3z"/>
<path class="c48" d="M627 2311l18 4-14-18-18-3z"/>
<path class="c38" d="M659 2331l17 3-13-16-18-3z"/>
<path class="c12" d="M980 2381l18-13-14-2-18 13z"/>
<path class="c51" d="M1111 2306l18-18-13-1-18 18z"/>
<path class="c28" d="M690 2350l18 2-14-15-18-3z"/>
<path class="c94" d="M1243 2224l17-14-13-3-18 15z"/>
<path class="c1" d="M899 2403l18-7-14-6-18 8z"/>
<path class="c20" d="M722 2367l18 2-14-15-18-2z"/>
<path class="c112" d="M1324 2190l18-11-14-1-18 10z"/>
<path class="c12" d="M754 2381l18 1-14-13-18 0z"/>
<path class="c34" d="M1062 2339l18-16-14-1-18 17z"/>
<path class="c6" d="M786 2393l17 0-13-11-18 0z"/>
<path class="c79" d="M1193 2254l18-16-14-2-18 17z"/>
<path class="c4" d="M931 2399l17-9-13-4-18 10z"/>
<path class="c2" d="M817 2402l18-2-14-9-18 2z"/>
<path class="c20" d="M1012 2369l18-14-14-1-18 14z"/>
<path class="c102" d="M1274 2212l18-13-14-2-18 13z"/>
<path class="c62" d="M1143 2288l18-17-14-1-18 18z"/>
<path class="c145" d="M291 2129l18 4-14-16-18-3z"/>
<path class="c136" d="M323 2147l18 3-14-14-18-3z"/>
<path class="c127" d="M355 2164l18 3-14-14-18-3z"/>
<path class="c0" d="M849 2407l18-4-14-7-18 4z"/>
<path class="c119" d="M387 2180l17 3-13-14-18-2z"/>
<path class="c45" d="M1093 2323l18-17-13-1-18 18z"/>
<path class="c111" d="M418 2196l18 3-14-14-18-2z"/>
<path class="c9" d="M962 2392l18-11-14-2-18 11z"/>
<path class="c88" d="M1225 2239l18-15-14-2-18 16z"/>
<path class="c102" d="M450 2213l18 2-14-14-18-2z"/>
<path class="c94" d="M482 2230l18 3-14-16-18-2z"/>
<path class="c109" d="M1306 2201l18-11-14-2-18 11z"/>
<path class="c0" d="M881 2409l18-6-14-5-18 5z"/>
<path class="c84" d="M514 2248l17 3-13-16-18-2z"/>
<path class="c29" d="M1044 2355l18-16-14 0-18 16z"/>
<path class="c75" d="M545 2267l18 4-14-17-18-3z"/>
<path class="c64" d="M577 2287l18 4-14-17-18-3z"/>
<path class="c54" d="M609 2307l18 4-14-17-18-3z"/>
<path class="c43" d="M641 2327l18 4-14-16-18-4z"/>
<path class="c33" d="M672 2346l18 4-14-16-17-3z"/>
<path class="c72" d="M1175 2271l18-17-14-1-18 18z"/>
<path class="c24" d="M704 2364l18 3-14-15-18-2z"/>
<path class="c16" d="M736 2379l18 2-14-12-18-2z"/>
<path class="c15" d="M994 2382l18-13-14-1-18 13z"/>
<path class="c55" d="M1125 2305l18-17-14 0-18 18z"/>
<path class="c10" d="M768 2393l18 0-14-11-18-1z"/>
<path class="c2" d="M913 2407l18-8-14-3-18 7z"/>
<path class="c97" d="M1256 2226l18-14-14-2-17 14z"/>
<path class="c115" d="M1338 2191l18-11-14-1-18 11z"/>
<path class="c5" d="M799 2403l18-1-14-9-17 0z"/>
<path class="c38" d="M1075 2339l18-16-13 0-18 16z"/>
<path class="c82" d="M1207 2255l18-16-14-1-18 16z"/>
<path class="c151" d="M273 2124l18 5-14-15-17-3z"/>
<path class="c2" d="M831 2410l18-3-14-7-18 2z"/>
<path class="c142" d="M305 2142l18 5-14-14-18-4z"/>
<path class="c6" d="M944 2401l18-9-14-2-17 9z"/>
<path class="c132" d="M337 2160l18 4-14-14-18-3z"/>
<path class="c24" d="M1026 2369l18-14-14 0-18 14z"/>
<path class="c124" d="M369 2177l18 3-14-13-18-3z"/>
<path class="c104" d="M1288 2214l18-13-14-2-18 13z"/>
<path class="c115" d="M400 2193l18 3-14-13-17-3z"/>
<path class="c66" d="M1157 2288l18-17-14 0-18 17z"/>
<path class="c1" d="M863 2413l18-4-14-6-18 4z"/>
<path class="c107" d="M432 2210l18 3-14-14-18-3z"/>
<path class="c99" d="M464 2226l18 4-14-15-18-2z"/>
<path class="c90" d="M496 2244l18 4-14-15-18-3z"/>
<path class="c49" d="M1107 2322l18-17-14 1-18 17z"/>
<path class="c80" d="M527 2263l18 4-14-16-17-3z"/>
<path class="c70" d="M559 2282l18 5-14-16-18-4z"/>
<path class="c59" d="M591 2302l18 5-14-16-18-4z"/>
<path class="c49" d="M623 2322l18 5-14-16-18-4z"/>
<path class="c12" d="M976 2393l18-11-14-1-18 11z"/>
<path class="c91" d="M1238 2241l18-15-13-2-18 15z"/>
<path class="c39" d="M654 2341l18 5-13-15-18-4z"/>
<path class="c30" d="M686 2360l18 4-14-14-18-4z"/>
<path class="c2" d="M895 2413l18-6-14-4-18 6z"/>
<path class="c21" d="M718 2376l18 3-14-12-18-3z"/>
<path class="c112" d="M1320 2203l18-12-14-1-18 11z"/>
<path class="c33" d="M1058 2354l17-15-13 0-18 16z"/>
<path class="c14" d="M750 2391l18 2-14-12-18-2z"/>
<path class="c76" d="M1189 2271l18-16-14-1-18 17z"/>
<path class="c8" d="M781 2402l18 1-13-10-18 0z"/>
<path class="c5" d="M926 2409l18-8-13-2-18 8z"/>
<path class="c20" d="M1008 2381l18-12-14 0-18 13z"/>
<path class="c100" d="M1270 2228l18-14-14-2-18 14z"/>
<path class="c60" d="M1139 2304l18-16-14 0-18 17z"/>
<path class="c5" d="M813 2411l18-1-14-8-18 1z"/>
<path class="c157" d="M255 2119l18 5-13-13-18-2z"/>
<path class="c119" d="M1352 2192l18-12-14 0-18 11z"/>
<path class="c148" d="M287 2137l18 5-14-13-18-5z"/>
<path class="c138" d="M319 2155l18 5-14-13-18-5z"/>
<path class="c43" d="M1089 2337l18-15-14 1-18 16z"/>
<path class="c129" d="M351 2172l18 5-14-13-18-4z"/>
<path class="c3" d="M845 2416l18-3-14-6-18 3z"/>
<path class="c121" d="M382 2189l18 4-13-13-18-3z"/>
<path class="c86" d="M1220 2256l18-15-13-2-18 16z"/>
<path class="c112" d="M414 2206l18 4-14-14-18-3z"/>
<path class="c10" d="M958 2402l18-9-14-1-18 9z"/>
<path class="c104" d="M446 2223l18 3-14-13-18-3z"/>
<path class="c107" d="M1302 2216l18-13-14-2-18 13z"/>
<path class="c95" d="M478 2240l18 4-14-14-18-4z"/>
<path class="c28" d="M1040 2367l18-13-14 1-18 14z"/>
<path class="c86" d="M509 2258l18 5-13-15-18-4z"/>
<path class="c3" d="M877 2417l18-4-14-4-18 4z"/>
<path class="c76" d="M541 2277l18 5-14-15-18-4z"/>
<path class="c70" d="M1171 2287l18-16-14 0-18 17z"/>
<path class="c65" d="M573 2297l18 5-14-15-18-5z"/>
<path class="c55" d="M605 2317l18 5-14-15-18-5z"/>
<path class="c45" d="M636 2336l18 5-13-14-18-5z"/>
<path class="c35" d="M668 2355l18 5-14-14-18-5z"/>
<path class="c27" d="M700 2372l18 4-14-12-18-4z"/>
<path class="c19" d="M732 2387l18 4-14-12-18-3z"/>
<path class="c54" d="M1121 2320l18-16-14 1-18 17z"/>
<path class="c95" d="M1252 2242l18-14-14-2-18 15z"/>
<path class="c16" d="M990 2392l18-11-14 1-18 11z"/>
<path class="c5" d="M908 2415l18-6-13-2-18 6z"/>
<path class="c13" d="M763 2400l18 2-13-9-18-2z"/>
<path class="c115" d="M1334 2204l18-12-14-1-18 12z"/>
<path class="c38" d="M1071 2352l18-15-14 2-17 15z"/>
<path class="c8" d="M795 2410l18 1-14-8-18-1z"/>
<path class="c80" d="M1202 2271l18-15-13-1-18 16z"/>
<path class="c163" d="M237 2113l18 6-13-10-18-2z"/>
<path class="c155" d="M269 2130l18 7-14-13-18-5z"/>
<path class="c5" d="M827 2417l18-1-14-6-18 1z"/>
<path class="c8" d="M940 2410l18-8-14-1-18 8z"/>
<path class="c145" d="M301 2148l18 7-14-13-18-5z"/>
<path class="c103" d="M1284 2229l18-13-14-2-18 14z"/>
<path class="c24" d="M1022 2380l18-13-14 2-18 12z"/>
<path class="c136" d="M333 2166l18 6-14-12-18-5z"/>
<path class="c64" d="M1153 2303l18-16-14 1-18 16z"/>
<path class="c127" d="M364 2184l18 5-13-12-18-5z"/>
<path class="c122" d="M1365 2192l18-12-13 0-18 12z"/>
<path class="c118" d="M396 2201l18 5-14-13-18-4z"/>
<path class="c109" d="M428 2218l18 5-14-13-18-4z"/>
<path class="c4" d="M859 2420l18-3-14-4-18 3z"/>
<path class="c101" d="M460 2235l18 5-14-14-18-3z"/>
<path class="c48" d="M1103 2335l18-15-14 2-18 15z"/>
<path class="c91" d="M491 2253l18 5-13-14-18-4z"/>
<path class="c90" d="M1234 2256l18-14-14-1-18 15z"/>
<path class="c82" d="M523 2272l18 5-14-14-18-5z"/>
<path class="c72" d="M555 2291l18 6-14-15-18-5z"/>
<path class="c62" d="M587 2311l18 6-14-15-18-5z"/>
<path class="c14" d="M972 2402l18-10-14 1-18 9z"/>
<path class="c51" d="M618 2330l18 6-13-14-18-5z"/>
<path class="c42" d="M650 2349l18 6-14-14-18-5z"/>
<path class="c111" d="M1316 2217l18-13-14-1-18 13z"/>
<path class="c32" d="M682 2367l18 5-14-12-18-5z"/>
<path class="c5" d="M890 2420l18-5-13-2-18 4z"/>
<path class="c33" d="M1053 2365l18-13-13 2-18 13z"/>
<path class="c24" d="M714 2383l18 4-14-11-18-4z"/>
<path class="c75" d="M1185 2287l17-16-13 0-18 16z"/>
<path class="c17" d="M745 2397l18 3-13-9-18-4z"/>
<path class="c12" d="M777 2408l18 2-14-8-18-2z"/>
<path class="c98" d="M1266 2243l18-14-14-1-18 14z"/>
<path class="c59" d="M1135 2318l18-15-14 1-18 16z"/>
<path class="c21" d="M1004 2391l18-11-14 1-18 11z"/>
<path class="c8" d="M922 2417l18-7-14-1-18 6z"/>
<path class="c118" d="M1347 2205l18-13-13 0-18 12z"/>
<path class="c8" d="M809 2416l18 1-14-6-18-1z"/>
<path class="c163" d="M251 2121l18 9-14-11-18-6z"/>
<path class="c43" d="M1085 2349l18-14-14 2-18 15z"/>
<path class="c153" d="M283 2140l18 8-14-11-18-7z"/>
<path class="c85" d="M1216 2271l18-15-14 0-18 15z"/>
<path class="c143" d="M315 2159l18 7-14-11-18-7z"/>
<path class="c133" d="M346 2178l18 6-13-12-18-6z"/>
<path class="c6" d="M841 2421l18-1-14-4-18 1z"/>
<path class="c124" d="M378 2195l18 6-14-12-18-5z"/>
<path class="c13" d="M954 2410l18-8-14 0-18 8z"/>
<path class="c115" d="M410 2213l18 5-14-12-18-5z"/>
<path class="c106" d="M1298 2230l18-13-14-1-18 13z"/>
<path class="c107" d="M442 2230l18 5-14-12-18-5z"/>
<path class="c30" d="M1035 2378l18-13-13 2-18 13z"/>
<path class="c69" d="M1167 2301l18-14-14 0-18 16z"/>
<path class="c97" d="M473 2248l18 5-13-13-18-5z"/>
<path class="c88" d="M505 2266l18 6-14-14-18-5z"/>
<path class="c126" d="M1379 2192l18-13-14 1-18 12z"/>
<path class="c78" d="M537 2285l18 6-14-14-18-5z"/>
<path class="c6" d="M873 2423l17-3-13-3-18 3z"/>
<path class="c68" d="M569 2305l18 6-14-14-18-6z"/>
<path class="c58" d="M601 2324l17 6-13-13-18-6z"/>
<path class="c48" d="M632 2343l18 6-14-13-18-6z"/>
<path class="c39" d="M664 2362l18 5-14-12-18-6z"/>
<path class="c54" d="M1117 2333l18-15-14 2-18 15z"/>
<path class="c30" d="M696 2378l18 5-14-11-18-5z"/>
<path class="c94" d="M1248 2256l18-13-14-1-18 14z"/>
<path class="c23" d="M728 2393l17 4-13-10-18-4z"/>
<path class="c19" d="M986 2400l18-9-14 1-18 10z"/>
<path class="c114" d="M1330 2218l17-13-13-1-18 13z"/>
<path class="c8" d="M904 2421l18-4-14-2-18 5z"/>
<path class="c17" d="M759 2405l18 3-14-8-18-3z"/>
<path class="c39" d="M1067 2363l18-14-14 3-18 13z"/>
<path class="c79" d="M1198 2285l18-14-14 0-17 16z"/>
<path class="c12" d="M791 2415l18 1-14-6-18-2z"/>
<path class="c102" d="M1280 2243l18-13-14-1-18 14z"/>
<path class="c64" d="M1149 2316l18-15-14 2-18 15z"/>
<path class="c12" d="M936 2416l18-6-14 0-18 7z"/>
<path class="c27" d="M1017 2388l18-10-13 2-18 11z"/>
<path class="c9" d="M823 2421l18 0-14-4-18-1z"/>
<path class="c162" d="M265 2130l18 10-14-10-18-9z"/>
<path class="c122" d="M1361 2205l18-13-14 0-18 13z"/>
<path class="c151" d="M297 2150l18 9-14-11-18-8z"/>
<path class="c141" d="M329 2170l17 8-13-12-18-7z"/>
<path class="c131" d="M360 2189l18 6-14-11-18-6z"/>
<path class="c122" d="M392 2206l18 7-14-12-18-6z"/>
<path class="c49" d="M1099 2346l18-13-14 2-18 14z"/>
<path class="c113" d="M424 2224l18 6-14-12-18-5z"/>
<path class="c89" d="M1230 2270l18-14-14 0-18 15z"/>
<path class="c9" d="M855 2425l18-2-14-3-18 1z"/>
<path class="c104" d="M456 2242l17 6-13-13-18-5z"/>
<path class="c95" d="M487 2260l18 6-14-13-18-5z"/>
<path class="c85" d="M519 2279l18 6-14-13-18-6z"/>
<path class="c75" d="M551 2298l18 7-14-14-18-6z"/>
<path class="c65" d="M583 2317l18 7-14-13-18-6z"/>
<path class="c110" d="M1312 2230l18-12-14-1-18 13z"/>
<path class="c17" d="M968 2408l18-8-14 2-18 8z"/>
<path class="c55" d="M614 2337l18 6-14-13-17-6z"/>
<path class="c45" d="M646 2355l18 7-14-13-18-6z"/>
<path class="c36" d="M678 2372l18 6-14-11-18-5z"/>
<path class="c35" d="M1049 2374l18-11-14 2-18 13z"/>
<path class="c75" d="M1180 2299l18-14-13 2-18 14z"/>
<path class="c131" d="M1393 2192l18-14-14 1-18 13z"/>
<path class="c9" d="M886 2425l18-4-14-1-17 3z"/>
<path class="c29" d="M710 2388l18 5-14-10-18-5z"/>
<path class="c22" d="M741 2401l18 4-14-8-17-4z"/>
<path class="c98" d="M1262 2256l18-13-14 0-18 13z"/>
<path class="c59" d="M1131 2330l18-14-14 2-18 15z"/>
<path class="c17" d="M773 2412l18 3-14-7-18-3z"/>
<path class="c24" d="M1000 2398l17-10-13 3-18 9z"/>
<path class="c118" d="M1343 2218l18-13-14 0-17 13z"/>
<path class="c12" d="M918 2421l18-5-14 1-18 4z"/>
<path class="c13" d="M805 2420l18 1-14-5-18-1z"/>
<path class="c45" d="M1081 2359l18-13-14 3-18 14z"/>
<path class="c84" d="M1212 2284l18-14-14 1-18 14z"/>
<path class="c161" d="M279 2139l18 11-14-10-18-10z"/>
<path class="c150" d="M311 2160l18 10-14-11-18-9z"/>
<path class="c106" d="M1294 2243l18-13-14 0-18 13z"/>
<path class="c139" d="M342 2180l18 9-14-11-17-8z"/>
<path class="c11" d="M837 2425l18 0-14-4-18 0z"/>
<path class="c129" d="M374 2199l18 7-14-11-18-6z"/>
<path class="c17" d="M950 2415l18-7-14 2-18 6z"/>
<path class="c70" d="M1162 2313l18-14-13 2-18 15z"/>
<path class="c120" d="M406 2217l18 7-14-11-18-7z"/>
<path class="c32" d="M1031 2385l18-11-14 4-18 10z"/>
<path class="c126" d="M1375 2205l18-13-14 0-18 13z"/>
<path class="c111" d="M438 2235l18 7-14-12-18-6z"/>
<path class="c101" d="M469 2253l18 7-14-12-17-6z"/>
<path class="c92" d="M501 2272l18 7-14-13-18-6z"/>
<path class="c82" d="M533 2291l18 7-14-13-18-6z"/>
<path class="c72" d="M565 2310l18 7-14-12-18-7z"/>
<path class="c62" d="M596 2330l18 7-13-13-18-7z"/>
<path class="c11" d="M868 2426l18-1-13-2-18 2z"/>
<path class="c94" d="M1244 2269l18-13-14 0-18 14z"/>
<path class="c52" d="M628 2348l18 7-14-12-18-6z"/>
<path class="c55" d="M1113 2343l18-13-14 3-18 13z"/>
<path class="c43" d="M660 2366l18 6-14-10-18-7z"/>
<path class="c35" d="M692 2382l18 6-14-10-18-6z"/>
<path class="c114" d="M1325 2230l18-12-13 0-18 12z"/>
<path class="c23" d="M982 2406l18-8-14 2-18 8z"/>
<path class="c28" d="M723 2396l18 5-13-8-18-5z"/>
<path class="c80" d="M1194 2297l18-13-14 1-18 14z"/>
<path class="c13" d="M900 2425l18-4-14 0-18 4z"/>
<path class="c42" d="M1063 2371l18-12-14 4-18 11z"/>
<path class="c135" d="M1407 2191l18-14-14 1-18 14z"/>
<path class="c22" d="M755 2408l18 4-14-7-18-4z"/>
<path class="c102" d="M1276 2255l18-12-14 0-18 13z"/>
<path class="c18" d="M787 2418l18 2-14-5-18-3z"/>
<path class="c65" d="M1144 2326l18-13-13 3-18 14z"/>
<path class="c122" d="M1357 2217l18-12-14 0-18 13z"/>
<path class="c30" d="M1013 2395l18-10-14 3-17 10z"/>
<path class="c17" d="M932 2420l18-5-14 1-18 5z"/>
<path class="c15" d="M819 2424l18 1-14-4-18-1z"/>
<path class="c90" d="M1226 2281l18-12-14 1-18 14z"/>
<path class="c160" d="M293 2148l18 12-14-10-18-11z"/>
<path class="c148" d="M324 2170l18 10-13-10-18-10z"/>
<path class="c137" d="M356 2190l18 9-14-10-18-9z"/>
<path class="c51" d="M1095 2355l18-12-14 3-18 13z"/>
<path class="c127" d="M388 2209l18 8-14-11-18-7z"/>
<path class="c118" d="M420 2228l18 7-14-11-18-7z"/>
<path class="c108" d="M451 2246l18 7-13-11-18-7z"/>
<path class="c14" d="M850 2427l18-1-13-1-18 0z"/>
<path class="c111" d="M1307 2242l18-12-13 0-18 13z"/>
<path class="c99" d="M483 2265l18 7-14-12-18-7z"/>
<path class="c89" d="M515 2284l18 7-14-12-18-7z"/>
<path class="c79" d="M547 2303l18 7-14-12-18-7z"/>
<path class="c69" d="M578 2322l18 8-13-13-18-7z"/>
<path class="c22" d="M964 2413l18-7-14 2-18 7z"/>
<path class="c76" d="M1176 2310l18-13-14 2-18 14z"/>
<path class="c59" d="M610 2341l18 7-14-11-18-7z"/>
<path class="c131" d="M1389 2204l18-13-14 1-18 13z"/>
<path class="c50" d="M642 2359l18 7-14-11-18-7z"/>
<path class="c39" d="M1045 2381l18-10-14 3-18 11z"/>
<path class="c42" d="M674 2376l18 6-14-10-18-6z"/>
<path class="c15" d="M882 2427l18-2-14 0-18 1z"/>
<path class="c34" d="M705 2391l18 5-13-8-18-6z"/>
<path class="c99" d="M1258 2267l18-12-14 1-18 13z"/>
<path class="c62" d="M1127 2339l17-13-13 4-18 13z"/>
<path class="c28" d="M737 2404l18 4-14-7-18-5z"/>
<path class="c119" d="M1339 2229l18-12-14 1-18 12z"/>
<path class="c29" d="M995 2403l18-8-13 3-18 8z"/>
<path class="c23" d="M769 2414l18 4-14-6-18-4z"/>
<path class="c18" d="M914 2424l18-4-14 1-18 4z"/>
<path class="c86" d="M1208 2294l18-13-14 3-18 13z"/>
<path class="c140" d="M1421 2189l18-13-14 1-18 14z"/>
<path class="c48" d="M1077 2366l18-11-14 4-18 12z"/>
<path class="c19" d="M801 2422l18 2-14-4-18-2z"/>
<path class="c107" d="M1289 2253l18-11-13 1-18 12z"/>
<path class="c72" d="M1158 2322l18-12-14 3-18 13z"/>
<path class="c127" d="M1371 2216l18-12-14 1-18 12z"/>
<path class="c18" d="M832 2426l18 1-13-2-18-1z"/>
<path class="c146" d="M338 2180l18 10-14-10-18-10z"/>
<path class="c158" d="M306 2157l18 13-13-10-18-12z"/>
<path class="c136" d="M370 2200l18 9-14-10-18-9z"/>
<path class="c22" d="M946 2418l18-5-14 2-18 5z"/>
<path class="c36" d="M1027 2390l18-9-14 4-18 10z"/>
<path class="c126" d="M402 2220l18 8-14-11-18-8z"/>
<path class="c116" d="M433 2238l18 8-13-11-18-7z"/>
<path class="c106" d="M465 2257l18 8-14-12-18-7z"/>
<path class="c97" d="M497 2276l18 8-14-12-18-7z"/>
<path class="c95" d="M1240 2279l18-12-14 2-18 12z"/>
<path class="c87" d="M529 2295l18 8-14-12-18-7z"/>
<path class="c77" d="M560 2314l18 8-13-12-18-7z"/>
<path class="c58" d="M1109 2350l18-11-14 4-18 12z"/>
<path class="c67" d="M592 2333l18 8-14-11-18-8z"/>
<path class="c57" d="M624 2352l18 7-14-11-18-7z"/>
<path class="c18" d="M864 2428l18-1-14-1-18 1z"/>
<path class="c115" d="M1321 2240l18-11-14 1-18 12z"/>
<path class="c49" d="M656 2369l18 7-14-10-18-7z"/>
<path class="c41" d="M687 2384l18 7-13-9-18-6z"/>
<path class="c28" d="M977 2409l18-6-13 3-18 7z"/>
<path class="c82" d="M1190 2306l18-12-14 3-18 13z"/>
<path class="c136" d="M1403 2202l18-13-14 2-18 13z"/>
<path class="c34" d="M719 2398l18 6-14-8-18-5z"/>
<path class="c45" d="M1059 2376l18-10-14 5-18 10z"/>
<path class="c19" d="M896 2427l18-3-14 1-18 2z"/>
<path class="c28" d="M751 2410l18 4-14-6-18-4z"/>
<path class="c104" d="M1272 2265l17-12-13 2-18 12z"/>
<path class="c68" d="M1140 2334l18-12-14 4-17 13z"/>
<path class="c124" d="M1353 2227l18-11-14 1-18 12z"/>
<path class="c24" d="M783 2419l18 3-14-4-18-4z"/>
<path class="c35" d="M1009 2398l18-8-14 5-18 8z"/>
<path class="c23" d="M928 2422l18-4-14 2-18 4z"/>
<path class="c145" d="M1434 2187l18-13-13 2-18 13z"/>
<path class="c91" d="M1222 2291l18-12-14 2-18 13z"/>
<path class="c22" d="M815 2425l17 1-13-2-18-2z"/>
<path class="c55" d="M1091 2361l18-11-14 5-18 11z"/>
<path class="c112" d="M1303 2251l18-11-14 2-18 11z"/>
<path class="c145" d="M352 2189l18 11-14-10-18-10z"/>
<path class="c157" d="M320 2167l18 13-14-10-18-13z"/>
<path class="c134" d="M384 2210l18 10-14-11-18-9z"/>
<path class="c124" d="M416 2230l17 8-13-10-18-8z"/>
<path class="c114" d="M447 2249l18 8-14-11-18-8z"/>
<path class="c104" d="M479 2268l18 8-14-11-18-8z"/>
<path class="c21" d="M846 2428l18 0-14-1-18-1z"/>
<path class="c78" d="M1172 2318l18-12-14 4-18 12z"/>
<path class="c94" d="M511 2287l18 8-14-11-18-8z"/>
<path class="c132" d="M1385 2214l18-12-14 2-18 12z"/>
<path class="c84" d="M543 2306l17 8-13-11-18-8z"/>
<path class="c75" d="M574 2325l18 8-14-11-18-8z"/>
<path class="c28" d="M959 2415l18-6-13 4-18 5z"/>
<path class="c65" d="M606 2344l18 8-14-11-18-8z"/>
<path class="c43" d="M1041 2386l18-10-14 5-18 9z"/>
<path class="c56" d="M638 2361l18 8-14-10-18-7z"/>
<path class="c48" d="M670 2378l17 6-13-8-18-7z"/>
<path class="c101" d="M1254 2276l18-11-14 2-18 12z"/>
<path class="c22" d="M878 2428l18-1-14 0-18 1z"/>
<path class="c40" d="M701 2392l18 6-14-7-18-7z"/>
<path class="c65" d="M1122 2345l18-11-13 5-18 11z"/>
<path class="c121" d="M1335 2238l18-11-14 2-18 11z"/>
<path class="c34" d="M733 2404l18 6-14-6-18-6z"/>
<path class="c142" d="M1416 2199l18-12-13 2-18 13z"/>
<path class="c34" d="M991 2405l18-7-14 5-18 6z"/>
<path class="c88" d="M1204 2302l18-11-14 3-18 12z"/>
<path class="c30" d="M765 2414l18 5-14-5-18-4z"/>
<path class="c52" d="M1073 2371l18-10-14 5-18 10z"/>
<path class="c24" d="M910 2425l18-3-14 2-18 3z"/>
<path class="c109" d="M1285 2262l18-11-14 2-17 12z"/>
<path class="c26" d="M797 2422l18 3-14-3-18-3z"/>
<path class="c75" d="M1154 2329l18-11-14 4-18 12z"/>
<path class="c129" d="M1367 2224l18-10-14 2-18 11z"/>
<path class="c42" d="M1023 2394l18-8-14 4-18 8z"/>
<path class="c25" d="M828 2426l18 2-14-2-17-1z"/>
<path class="c28" d="M942 2419l17-4-13 3-18 4z"/>
<path class="c151" d="M1448 2184l18-11-14 1-18 13z"/>
<path class="c143" d="M366 2199l18 11-14-10-18-11z"/>
<path class="c155" d="M334 2177l18 12-14-9-18-13z"/>
<path class="c133" d="M398 2220l18 10-14-10-18-10z"/>
<path class="c97" d="M1236 2287l18-11-14 3-18 12z"/>
<path class="c122" d="M429 2240l18 9-14-11-17-8z"/>
<path class="c112" d="M461 2259l18 9-14-11-18-8z"/>
<path class="c102" d="M493 2278l18 9-14-11-18-8z"/>
<path class="c62" d="M1104 2356l18-11-13 5-18 11z"/>
<path class="c92" d="M525 2297l18 9-14-11-18-8z"/>
<path class="c82" d="M556 2317l18 8-14-11-17-8z"/>
<path class="c118" d="M1317 2248l18-10-14 2-18 11z"/>
<path class="c73" d="M588 2335l18 9-14-11-18-8z"/>
<path class="c64" d="M620 2353l18 8-14-9-18-8z"/>
<path class="c25" d="M860 2428l18 0-14 0-18 0z"/>
<path class="c55" d="M652 2370l18 8-14-9-18-8z"/>
<path class="c138" d="M1399 2210l17-11-13 3-18 12z"/>
<path class="c85" d="M1186 2313l18-11-14 4-18 12z"/>
<path class="c47" d="M683 2385l18 7-14-8-17-6z"/>
<path class="c34" d="M973 2411l18-6-14 4-18 6z"/>
<path class="c50" d="M1055 2380l18-9-14 5-18 10z"/>
<path class="c41" d="M715 2399l18 5-14-6-18-6z"/>
<path class="c107" d="M1267 2272l18-10-13 3-18 11z"/>
<path class="c26" d="M892 2427l18-2-14 2-18 1z"/>
<path class="c35" d="M747 2410l18 4-14-4-18-6z"/>
<path class="c72" d="M1136 2340l18-11-14 5-18 11z"/>
<path class="c127" d="M1349 2235l18-11-14 3-18 11z"/>
<path class="c31" d="M779 2418l18 4-14-3-18-5z"/>
<path class="c148" d="M1430 2195l18-11-14 3-18 12z"/>
<path class="c41" d="M1005 2401l18-7-14 4-18 7z"/>
<path class="c95" d="M1218 2297l18-10-14 4-18 11z"/>
<path class="c30" d="M924 2423l18-4-14 3-18 3z"/>
<path class="c59" d="M1086 2365l18-9-13 5-18 10z"/>
<path class="c29" d="M810 2424l18 2-13-1-18-3z"/>
<path class="c115" d="M1299 2258l18-10-14 3-18 11z"/>
<path class="c142" d="M380 2209l18 11-14-10-18-11z"/>
<path class="c136" d="M1381 2220l18-10-14 4-18 10z"/>
<path class="c153" d="M348 2187l18 12-14-10-18-12z"/>
<path class="c131" d="M411 2230l18 10-13-10-18-10z"/>
<path class="c82" d="M1168 2324l18-11-14 5-18 11z"/>
<path class="c121" d="M443 2249l18 10-14-10-18-9z"/>
<path class="c111" d="M475 2269l18 9-14-10-18-9z"/>
<path class="c101" d="M507 2288l18 9-14-10-18-9z"/>
<path class="c28" d="M842 2427l18 1-14 0-18-2z"/>
<path class="c91" d="M538 2308l18 9-13-11-18-9z"/>
<path class="c81" d="M570 2327l18 8-14-10-18-8z"/>
<path class="c34" d="M955 2416l18-5-14 4-17 4z"/>
<path class="c157" d="M1462 2181l18-9-14 1-18 11z"/>
<path class="c49" d="M1037 2388l18-8-14 6-18 8z"/>
<path class="c71" d="M602 2345l18 8-14-9-18-9z"/>
<path class="c104" d="M1249 2282l18-10-13 4-18 11z"/>
<path class="c62" d="M634 2362l18 8-14-9-18-8z"/>
<path class="c54" d="M665 2378l18 7-13-7-18-8z"/>
<path class="c69" d="M1118 2350l18-10-14 5-18 11z"/>
<path class="c124" d="M1331 2244l18-9-14 3-18 10z"/>
<path class="c29" d="M874 2427l18 0-14 1-18 0z"/>
<path class="c47" d="M697 2392l18 7-14-7-18-7z"/>
<path class="c145" d="M1412 2205l18-10-14 4-17 11z"/>
<path class="c42" d="M729 2404l18 6-14-6-18-5z"/>
<path class="c92" d="M1200 2308l18-11-14 5-18 11z"/>
<path class="c40" d="M987 2407l18-6-14 4-18 6z"/>
<path class="c57" d="M1069 2374l17-9-13 6-18 9z"/>
<path class="c37" d="M761 2414l18 4-14-4-18-4z"/>
<path class="c113" d="M1281 2268l18-10-14 4-18 10z"/>
<path class="c31" d="M906 2425l18-2-14 2-18 2z"/>
<path class="c133" d="M1363 2230l18-10-14 4-18 11z"/>
<path class="c79" d="M1150 2334l18-10-14 5-18 11z"/>
<path class="c34" d="M792 2421l18 3-13-2-18-4z"/>
<path class="c155" d="M1444 2190l18-9-14 3-18 11z"/>
<path class="c101" d="M1231 2292l18-10-13 5-18 10z"/>
<path class="c48" d="M1019 2395l18-7-14 6-18 7z"/>
<path class="c35" d="M937 2419l18-3-13 3-18 4z"/>
<path class="c32" d="M824 2425l18 2-14-1-18-2z"/>
<path class="c140" d="M393 2218l18 12-13-10-18-11z"/>
<path class="c152" d="M362 2196l18 13-14-10-18-12z"/>
<path class="c130" d="M425 2239l18 10-14-9-18-10z"/>
<path class="c67" d="M1100 2359l18-9-14 6-18 9z"/>
<path class="c119" d="M457 2259l18 10-14-10-18-10z"/>
<path class="c109" d="M489 2279l18 9-14-10-18-9z"/>
<path class="c122" d="M1313 2254l18-10-14 4-18 10z"/>
<path class="c99" d="M520 2298l18 10-13-11-18-9z"/>
<path class="c89" d="M552 2318l18 9-14-10-18-9z"/>
<path class="c79" d="M584 2336l18 9-14-10-18-8z"/>
<path class="c70" d="M616 2354l18 8-14-9-18-8z"/>
<path class="c143" d="M1394 2214l18-9-13 5-18 10z"/>
<path class="c89" d="M1182 2318l18-10-14 5-18 11z"/>
<path class="c32" d="M856 2427l18 0-14 1-18-1z"/>
<path class="c62" d="M647 2370l18 8-13-8-18-8z"/>
<path class="c54" d="M679 2385l18 7-14-7-18-7z"/>
<path class="c163" d="M1476 2177l18-5-14 0-18 9z"/>
<path class="c41" d="M969 2412l18-5-14 4-18 5z"/>
<path class="c56" d="M1051 2382l18-8-14 6-18 8z"/>
<path class="c111" d="M1263 2277l18-9-14 4-18 10z"/>
<path class="c48" d="M711 2398l18 6-14-5-18-7z"/>
<path class="c34" d="M888 2426l18-1-14 2-18 0z"/>
<path class="c77" d="M1132 2344l18-10-14 6-18 10z"/>
<path class="c131" d="M1345 2239l18-9-14 5-18 9z"/>
<path class="c43" d="M743 2409l18 5-14-4-18-6z"/>
<path class="c153" d="M1426 2198l18-8-14 5-18 10z"/>
<path class="c99" d="M1214 2302l17-10-13 5-18 11z"/>
<path class="c39" d="M774 2417l18 4-13-3-18-4z"/>
<path class="c47" d="M1001 2402l18-7-14 6-18 6z"/>
<path class="c65" d="M1082 2368l18-9-14 6-17 9z"/>
<path class="c37" d="M919 2422l18-3-13 4-18 2z"/>
<path class="c120" d="M1295 2263l18-9-14 4-18 10z"/>
<path class="c37" d="M806 2422l18 3-14-1-18-3z"/>
<path class="c141" d="M1376 2223l18-9-13 6-18 10z"/>
<path class="c87" d="M1164 2328l18-10-14 6-18 10z"/>
<path class="c139" d="M407 2228l18 11-14-9-18-12z"/>
<path class="c151" d="M375 2206l18 12-13-9-18-13z"/>
<path class="c128" d="M439 2249l18 10-14-10-18-10z"/>
<path class="c118" d="M471 2269l18 10-14-10-18-10z"/>
<path class="c107" d="M502 2289l18 9-13-10-18-9z"/>
<path class="c163" d="M1458 2183l18-6-14 4-18 9z"/>
<path class="c97" d="M534 2308l18 10-14-10-18-10z"/>
<path class="c36" d="M838 2425l18 2-14 0-18-2z"/>
<path class="c88" d="M566 2327l18 9-14-9-18-9z"/>
<path class="c108" d="M1245 2287l18-10-14 5-18 10z"/>
<path class="c55" d="M1033 2390l18-8-14 6-18 7z"/>
<path class="c42" d="M951 2415l18-3-14 4-18 3z"/>
<path class="c78" d="M598 2345l18 9-14-9-18-9z"/>
<path class="c70" d="M629 2362l18 8-13-8-18-8z"/>
<path class="c75" d="M1114 2353l18-9-14 6-18 9z"/>
<path class="c129" d="M1327 2248l18-9-14 5-18 10z"/>
<path class="c62" d="M661 2378l18 7-14-7-18-8z"/>
<path class="c55" d="M693 2391l18 7-14-6-18-7z"/>
<path class="c37" d="M870 2426l18 0-14 1-18 0z"/>
<path class="c151" d="M1408 2207l18-9-14 7-18 9z"/>
<path class="c97" d="M1196 2312l18-10-14 6-18 10z"/>
<path class="c49" d="M725 2403l18 6-14-5-18-6z"/>
<path class="c47" d="M983 2407l18-5-14 5-18 5z"/>
<path class="c64" d="M1064 2376l18-8-13 6-18 8z"/>
<path class="c118" d="M1277 2272l18-9-14 5-18 9z"/>
<path class="c45" d="M757 2412l17 5-13-3-18-5z"/>
<path class="c39" d="M901 2423l18-1-13 3-18 1z"/>
<path class="c139" d="M1358 2232l18-9-13 7-18 9z"/>
<path class="c84" d="M1146 2337l18-9-14 6-18 10z"/>
<path class="c42" d="M788 2419l18 3-14-1-18-4z"/>
<path class="c162" d="M1440 2190l18-7-14 7-18 8z"/>
<path class="c106" d="M1227 2296l18-9-14 5-17 10z"/>
<path class="c54" d="M1015 2396l18-6-14 5-18 7z"/>
<path class="c43" d="M933 2418l18-3-14 4-18 3z"/>
<path class="c41" d="M820 2423l18 2-14 0-18-3z"/>
<path class="c73" d="M1096 2361l18-8-14 6-18 9z"/>
<path class="c127" d="M1309 2256l18-8-14 6-18 9z"/>
<path class="c138" d="M421 2237l18 12-14-10-18-11z"/>
<path class="c149" d="M389 2215l18 13-14-10-18-12z"/>
<path class="c127" d="M453 2258l18 11-14-10-18-10z"/>
<path class="c116" d="M485 2278l17 11-13-10-18-10z"/>
<path class="c106" d="M516 2298l18 10-14-10-18-9z"/>
<path class="c96" d="M548 2317l18 10-14-9-18-10z"/>
<path class="c87" d="M580 2336l18 9-14-9-18-9z"/>
<path class="c150" d="M1390 2215l18-8-14 7-18 9z"/>
<path class="c94" d="M1178 2321l18-9-14 6-18 10z"/>
<path class="c78" d="M612 2353l17 9-13-8-18-9z"/>
<path class="c69" d="M643 2369l18 9-14-8-18-8z"/>
<path class="c41" d="M852 2425l18 1-14 1-18-2z"/>
<path class="c62" d="M675 2384l18 7-14-6-18-7z"/>
<path class="c116" d="M1259 2281l18-9-14 5-18 10z"/>
<path class="c48" d="M965 2411l18-4-14 5-18 3z"/>
<path class="c62" d="M1046 2383l18-7-13 6-18 8z"/>
<path class="c56" d="M707 2396l18 7-14-5-18-7z"/>
<path class="c82" d="M1128 2346l18-9-14 7-18 9z"/>
<path class="c137" d="M1341 2241l17-9-13 7-18 9z"/>
<path class="c42" d="M884 2424l17-1-13 3-18 0z"/>
<path class="c51" d="M739 2407l18 5-14-3-18-6z"/>
<path class="c104" d="M1209 2305l18-9-13 6-18 10z"/>
<path class="c161" d="M1422 2197l18-7-14 8-18 9z"/>
<path class="c48" d="M770 2414l18 5-14-2-17-5z"/>
<path class="c54" d="M997 2401l18-5-14 6-18 5z"/>
<path class="c126" d="M1291 2265l18-9-14 7-18 9z"/>
<path class="c71" d="M1078 2369l18-8-14 7-18 8z"/>
<path class="c45" d="M915 2420l18-2-14 4-18 1z"/>
<path class="c45" d="M802 2420l18 3-14-1-18-3z"/>
<path class="c92" d="M1160 2330l18-9-14 7-18 9z"/>
<path class="c148" d="M1372 2223l18-8-14 8-18 9z"/>
<path class="c137" d="M435 2246l18 12-14-9-18-12z"/>
<path class="c148" d="M403 2224l18 13-14-9-18-13z"/>
<path class="c126" d="M467 2267l18 11-14-9-18-11z"/>
<path class="c115" d="M498 2287l18 11-14-9-17-11z"/>
<path class="c114" d="M1241 2289l18-8-14 6-18 9z"/>
<path class="c105" d="M530 2307l18 10-14-9-18-10z"/>
<path class="c95" d="M562 2326l18 10-14-9-18-10z"/>
<path class="c62" d="M1029 2390l17-7-13 7-18 6z"/>
<path class="c45" d="M834 2423l18 2-14 0-18-2z"/>
<path class="c86" d="M594 2344l18 9-14-8-18-9z"/>
<path class="c49" d="M947 2414l18-3-14 4-18 3z"/>
<path class="c77" d="M625 2361l18 8-14-7-17-9z"/>
<path class="c81" d="M1110 2354l18-8-14 7-18 8z"/>
<path class="c136" d="M1323 2249l18-8-14 7-18 8z"/>
<path class="c70" d="M657 2376l18 8-14-6-18-9z"/>
<path class="c63" d="M689 2389l18 7-14-5-18-7z"/>
<path class="c102" d="M1191 2314l18-9-13 7-18 9z"/>
<path class="c45" d="M866 2423l18 1-14 2-18-1z"/>
<path class="c160" d="M1404 2205l18-8-14 10-18 8z"/>
<path class="c58" d="M721 2400l18 7-14-4-18-7z"/>
<path class="c55" d="M979 2406l18-5-14 6-18 4z"/>
<path class="c124" d="M1273 2273l18-8-14 7-18 9z"/>
<path class="c70" d="M1060 2377l18-8-14 7-18 7z"/>
<path class="c54" d="M752 2409l18 5-13-2-18-5z"/>
<path class="c48" d="M897 2421l18-1-14 3-17 1z"/>
<path class="c91" d="M1142 2339l18-9-14 7-18 9z"/>
<path class="c146" d="M1354 2232l18-9-14 9-17 9z"/>
<path class="c51" d="M784 2416l18 4-14-1-18-5z"/>
<path class="c112" d="M1223 2298l18-9-14 7-18 9z"/>
<path class="c62" d="M1011 2395l18-5-14 6-18 5z"/>
<path class="c79" d="M1092 2362l18-8-14 7-18 8z"/>
<path class="c134" d="M1305 2257l18-8-14 7-18 9z"/>
<path class="c51" d="M929 2416l18-2-14 4-18 2z"/>
<path class="c49" d="M816 2420l18 3-14 0-18-3z"/>
<path class="c136" d="M449 2255l18 12-14-9-18-12z"/>
<path class="c125" d="M480 2276l18 11-13-9-18-11z"/>
<path class="c147" d="M417 2233l18 13-14-9-18-13z"/>
<path class="c114" d="M512 2296l18 11-14-9-18-11z"/>
<path class="c104" d="M544 2316l18 10-14-9-18-10z"/>
<path class="c101" d="M1173 2323l18-9-13 7-18 9z"/>
<path class="c94" d="M576 2334l18 10-14-8-18-10z"/>
<path class="c158" d="M1386 2213l18-8-14 10-18 8z"/>
<path class="c85" d="M607 2352l18 9-13-8-18-9z"/>
<path class="c77" d="M639 2368l18 8-14-7-18-8z"/>
<path class="c49" d="M848 2422l18 1-14 2-18-2z"/>
<path class="c122" d="M1255 2282l18-9-14 8-18 8z"/>
<path class="c70" d="M1042 2383l18-6-14 6-17 7z"/>
<path class="c70" d="M671 2382l18 7-14-5-18-8z"/>
<path class="c56" d="M961 2409l18-3-14 5-18 3z"/>
<path class="c89" d="M1124 2347l18-8-14 7-18 8z"/>
<path class="c64" d="M703 2394l18 6-14-4-18-7z"/>
<path class="c145" d="M1336 2240l18-8-13 9-18 8z"/>
<path class="c51" d="M879 2421l18 0-13 3-18-1z"/>
<path class="c60" d="M734 2404l18 5-13-2-18-7z"/>
<path class="c111" d="M1205 2306l18-8-14 7-18 9z"/>
<path class="c62" d="M993 2400l18-5-14 6-18 5z"/>
<path class="c56" d="M766 2411l18 5-14-2-18-5z"/>
<path class="c133" d="M1287 2265l18-8-14 8-18 8z"/>
<path class="c78" d="M1074 2369l18-7-14 7-18 8z"/>
<path class="c54" d="M911 2418l18-2-14 4-18 1z"/>
<path class="c99" d="M1156 2331l17-8-13 7-18 9z"/>
<path class="c54" d="M798 2417l18 3-14 0-18-4z"/>
<path class="c157" d="M1368 2221l18-8-14 10-18 9z"/>
<path class="c121" d="M1237 2290l18-8-14 7-18 9z"/>
<path class="c135" d="M462 2263l18 13-13-9-18-12z"/>
<path class="c124" d="M494 2284l18 12-14-9-18-11z"/>
<path class="c146" d="M431 2241l18 14-14-9-18-13z"/>
<path class="c113" d="M526 2304l18 12-14-9-18-11z"/>
<path class="c69" d="M1024 2389l18-6-13 7-18 5z"/>
<path class="c103" d="M558 2324l18 10-14-8-18-10z"/>
<path class="c54" d="M830 2419l18 3-14 1-18-3z"/>
<path class="c94" d="M589 2342l18 10-13-8-18-10z"/>
<path class="c58" d="M943 2412l18-3-14 5-18 2z"/>
<path class="c88" d="M1106 2355l18-8-14 7-18 8z"/>
<path class="c143" d="M1318 2248l18-8-13 9-18 8z"/>
<path class="c86" d="M621 2359l18 9-14-7-18-9z"/>
<path class="c78" d="M653 2373l18 9-14-6-18-8z"/>
<path class="c109" d="M1187 2315l18-9-14 8-18 9z"/>
<path class="c72" d="M685 2386l18 8-14-5-18-7z"/>
<path class="c54" d="M861 2420l18 1-13 2-18-1z"/>
<path class="c131" d="M1269 2273l18-8-14 8-18 9z"/>
<path class="c66" d="M716 2397l18 7-13-4-18-6z"/>
<path class="c63" d="M975 2404l18-4-14 6-18 3z"/>
<path class="c78" d="M1056 2376l18-7-14 8-18 6z"/>
<path class="c97" d="M1138 2339l18-8-14 8-18 8z"/>
<path class="c62" d="M748 2406l18 5-14-2-18-5z"/>
<path class="c56" d="M893 2418l18 0-14 3-18 0z"/>
<path class="c155" d="M1350 2229l18-8-14 11-18 8z"/>
<path class="c119" d="M1219 2298l18-8-14 8-18 8z"/>
<path class="c60" d="M780 2412l18 5-14-1-18-5z"/>
<path class="c70" d="M1006 2394l18-5-13 6-18 5z"/>
<path class="c87" d="M1088 2362l18-7-14 7-18 7z"/>
<path class="c142" d="M1300 2256l18-8-13 9-18 8z"/>
<path class="c60" d="M925 2413l18-1-14 4-18 2z"/>
<path class="c58" d="M812 2416l18 3-14 1-18-3z"/>
<path class="c134" d="M476 2271l18 13-14-8-18-13z"/>
<path class="c107" d="M1169 2323l18-8-14 8-17 8z"/>
<path class="c123" d="M508 2292l18 12-14-8-18-12z"/>
<path class="c146" d="M444 2249l18 14-13-8-18-14z"/>
<path class="c113" d="M540 2312l18 12-14-8-18-12z"/>
<path class="c103" d="M572 2331l17 11-13-8-18-10z"/>
<path class="c94" d="M603 2349l18 10-14-7-18-10z"/>
<path class="c86" d="M635 2365l18 8-14-5-18-9z"/>
<path class="c130" d="M1251 2281l18-8-14 9-18 8z"/>
<path class="c58" d="M843 2418l18 2-13 2-18-3z"/>
<path class="c77" d="M1038 2382l18-6-14 7-18 6z"/>
<path class="c79" d="M667 2378l18 8-14-4-18-9z"/>
<path class="c64" d="M957 2407l18-3-14 5-18 3z"/>
<path class="c96" d="M1120 2347l18-8-14 8-18 8z"/>
<path class="c74" d="M699 2390l17 7-13-3-18-8z"/>
<path class="c153" d="M1332 2237l18-8-14 11-18 8z"/>
<path class="c60" d="M875 2417l18 1-14 3-18-1z"/>
<path class="c118" d="M1201 2306l18-8-14 8-18 9z"/>
<path class="c69" d="M730 2400l18 6-14-2-18-7z"/>
<path class="c70" d="M988 2398l18-4-13 6-18 4z"/>
<path class="c140" d="M1283 2264l17-8-13 9-18 8z"/>
<path class="c86" d="M1070 2369l18-7-14 7-18 7z"/>
<path class="c66" d="M762 2407l18 5-14-1-18-5z"/>
<path class="c62" d="M907 2414l18-1-14 5-18 0z"/>
<path class="c106" d="M1151 2331l18-8-13 8-18 8z"/>
<path class="c64" d="M794 2412l18 4-14 1-18-5z"/>
<path class="c128" d="M1233 2289l18-8-14 9-18 8z"/>
<path class="c77" d="M1020 2387l18-5-14 7-18 5z"/>
<path class="c134" d="M490 2279l18 13-14-8-18-13z"/>
<path class="c123" d="M522 2300l18 12-14-8-18-12z"/>
<path class="c146" d="M458 2257l18 14-14-8-18-14z"/>
<path class="c113" d="M554 2320l18 11-14-7-18-12z"/>
<path class="c63" d="M826 2415l17 3-13 1-18-3z"/>
<path class="c103" d="M585 2338l18 11-14-7-17-11z"/>
<path class="c66" d="M939 2409l18-2-14 5-18 1z"/>
<path class="c95" d="M1102 2354l18-7-14 8-18 7z"/>
<path class="c152" d="M1314 2245l18-8-14 11-18 8z"/>
<path class="c95" d="M617 2355l18 10-14-6-18-10z"/>
<path class="c87" d="M649 2370l18 8-14-5-18-8z"/>
<path class="c116" d="M1183 2314l18-8-14 9-18 8z"/>
<path class="c81" d="M681 2382l18 8-14-4-18-8z"/>
<path class="c64" d="M857 2416l18 1-14 3-18-2z"/>
<path class="c139" d="M1265 2272l18-8-14 9-18 8z"/>
<path class="c85" d="M1052 2374l18-5-14 7-18 6z"/>
<path class="c72" d="M971 2401l17-3-13 6-18 3z"/>
<path class="c76" d="M712 2393l18 7-14-3-17-7z"/>
<path class="c105" d="M1133 2338l18-7-13 8-18 8z"/>
<path class="c72" d="M744 2401l18 6-14-1-18-6z"/>
<path class="c66" d="M889 2414l18 0-14 4-18-1z"/>
<path class="c127" d="M1215 2297l18-8-14 9-18 8z"/>
<path class="c70" d="M776 2408l18 4-14 0-18-5z"/>
<path class="c78" d="M1002 2391l18-4-14 7-18 4z"/>
<path class="c94" d="M1084 2360l18-6-14 8-18 7z"/>
<path class="c151" d="M1296 2253l18-8-14 11-17 8z"/>
<path class="c69" d="M921 2410l18-1-14 4-18 1z"/>
<path class="c68" d="M808 2411l18 4-14 1-18-4z"/>
<path class="c115" d="M1165 2321l18-7-14 9-18 8z"/>
<path class="c134" d="M504 2286l18 14-14-8-18-13z"/>
<path class="c123" d="M536 2307l18 13-14-8-18-12z"/>
<path class="c146" d="M472 2264l18 15-14-8-18-14z"/>
<path class="c113" d="M567 2326l18 12-13-7-18-11z"/>
<path class="c104" d="M599 2344l18 11-14-6-18-11z"/>
<path class="c138" d="M1247 2279l18-7-14 9-18 8z"/>
<path class="c96" d="M631 2360l18 10-14-5-18-10z"/>
<path class="c86" d="M1034 2380l18-6-14 8-18 5z"/>
<path class="c68" d="M839 2413l18 3-14 2-17-3z"/>
<path class="c74" d="M953 2403l18-2-14 6-18 2z"/>
<path class="c89" d="M663 2374l18 8-14-4-18-8z"/>
<path class="c104" d="M1115 2345l18-7-13 9-18 7z"/>
<path class="c83" d="M694 2385l18 8-13-3-18-8z"/>
<path class="c126" d="M1197 2304l18-7-14 9-18 8z"/>
<path class="c70" d="M871 2412l18 2-14 3-18-1z"/>
<path class="c79" d="M726 2395l18 6-14-1-18-7z"/>
<path class="c79" d="M984 2395l18-4-14 7-17 3z"/>
<path class="c94" d="M1066 2366l18-6-14 9-18 5z"/>
<path class="c149" d="M1278 2261l18-8-13 11-18 8z"/>
<path class="c76" d="M758 2402l18 6-14-1-18-6z"/>
<path class="c114" d="M1147 2329l18-8-14 10-18 7z"/>
<path class="c72" d="M903 2410l18 0-14 4-18 0z"/>
<path class="c74" d="M790 2407l18 4-14 1-18-4z"/>
<path class="c137" d="M1229 2287l18-8-14 10-18 8z"/>
<path class="c86" d="M1016 2384l18-4-14 7-18 4z"/>
<path class="c103" d="M1098 2351l17-6-13 9-18 6z"/>
<path class="c134" d="M518 2292l18 15-14-7-18-14z"/>
<path class="c146" d="M486 2270l18 16-14-7-18-15z"/>
<path class="c123" d="M549 2313l18 13-13-6-18-13z"/>
<path class="c76" d="M935 2404l18-1-14 6-18 1z"/>
<path class="c73" d="M821 2410l18 3-13 2-18-4z"/>
<path class="c114" d="M581 2332l18 12-14-6-18-12z"/>
<path class="c105" d="M613 2349l18 11-14-5-18-11z"/>
<path class="c125" d="M1179 2311l18-7-14 10-18 7z"/>
<path class="c97" d="M645 2364l18 10-14-4-18-10z"/>
<path class="c91" d="M676 2377l18 8-13-3-18-8z"/>
<path class="c74" d="M853 2410l18 2-14 4-18-3z"/>
<path class="c148" d="M1260 2268l18-7-13 11-18 7z"/>
<path class="c94" d="M1048 2372l18-6-14 8-18 6z"/>
<path class="c81" d="M966 2397l18-2-13 6-18 2z"/>
<path class="c86" d="M708 2387l18 8-14-2-18-8z"/>
<path class="c113" d="M1129 2335l18-6-14 9-18 7z"/>
<path class="c82" d="M740 2395l18 7-14-1-18-6z"/>
<path class="c76" d="M885 2408l18 2-14 4-18-2z"/>
<path class="c136" d="M1211 2294l18-7-14 10-18 7z"/>
<path class="c80" d="M772 2401l18 6-14 1-18-6z"/>
<path class="c87" d="M998 2388l18-4-14 7-18 4z"/>
<path class="c103" d="M1080 2357l18-6-14 9-18 6z"/>
<path class="c79" d="M917 2405l18-1-14 6-18 0z"/>
<path class="c124" d="M1161 2318l18-7-14 10-18 8z"/>
<path class="c79" d="M803 2405l18 5-13 1-18-4z"/>
<path class="c135" d="M531 2298l18 15-13-6-18-15z"/>
<path class="c147" d="M500 2276l18 16-14-6-18-16z"/>
<path class="c124" d="M563 2319l18 13-14-6-18-13z"/>
<path class="c115" d="M595 2337l18 12-14-5-18-12z"/>
<path class="c147" d="M1242 2275l18-7-13 11-18 8z"/>
<path class="c107" d="M627 2353l18 11-14-4-18-11z"/>
<path class="c95" d="M1030 2376l18-4-14 8-18 4z"/>
<path class="c79" d="M835 2407l18 3-14 3-18-3z"/>
<path class="c83" d="M948 2398l18-1-13 6-18 1z"/>
<path class="c113" d="M1111 2342l18-7-14 10-17 6z"/>
<path class="c100" d="M658 2367l18 10-13-3-18-10z"/>
<path class="c94" d="M690 2379l18 8-14-2-18-8z"/>
<path class="c135" d="M1193 2300l18-6-14 10-18 7z"/>
<path class="c80" d="M867 2406l18 2-14 4-18-2z"/>
<path class="c90" d="M722 2388l18 7-14 0-18-8z"/>
<path class="c103" d="M1062 2362l18-5-14 9-18 6z"/>
<path class="c89" d="M980 2390l18-2-14 7-18 2z"/>
<path class="c87" d="M754 2395l18 6-14 1-18-7z"/>
<path class="c123" d="M1143 2325l18-7-14 11-18 6z"/>
<path class="c82" d="M899 2404l18 1-14 5-18-2z"/>
<path class="c85" d="M785 2400l18 5-13 2-18-6z"/>
<path class="c146" d="M1225 2282l17-7-13 12-18 7z"/>
<path class="c96" d="M1012 2379l18-3-14 8-18 4z"/>
<path class="c113" d="M1093 2347l18-5-13 9-18 6z"/>
<path class="c86" d="M930 2399l18-1-13 6-18 1z"/>
<path class="c136" d="M545 2304l18 15-14-6-18-15z"/>
<path class="c147" d="M514 2282l17 16-13-6-18-16z"/>
<path class="c84" d="M817 2403l18 4-14 3-18-5z"/>
<path class="c125" d="M577 2324l18 13-14-5-18-13z"/>
<path class="c116" d="M609 2341l18 12-14-4-18-12z"/>
<path class="c134" d="M1175 2307l18-7-14 11-18 7z"/>
<path class="c109" d="M641 2357l17 10-13-3-18-11z"/>
<path class="c102" d="M672 2369l18 10-14-2-18-10z"/>
<path class="c85" d="M849 2403l18 3-14 4-18-3z"/>
<path class="c104" d="M1044 2367l18-5-14 10-18 4z"/>
<path class="c91" d="M962 2391l18-1-14 7-18 1z"/>
<path class="c97" d="M704 2380l18 8-14-1-18-8z"/>
<path class="c123" d="M1125 2331l18-6-14 10-18 7z"/>
<path class="c94" d="M736 2388l18 7-14 0-18-7z"/>
<path class="c87" d="M881 2402l18 2-14 4-18-2z"/>
<path class="c146" d="M1207 2288l18-6-14 12-18 6z"/>
<path class="c97" d="M994 2382l18-3-14 9-18 2z"/>
<path class="c91" d="M768 2394l17 6-13 1-18-6z"/>
<path class="c113" d="M1075 2352l18-5-13 10-18 5z"/>
<path class="c90" d="M913 2398l17 1-13 6-18-1z"/>
<path class="c134" d="M1157 2313l18-6-14 11-18 7z"/>
<path class="c90" d="M799 2397l18 6-14 2-18-5z"/>
<path class="c137" d="M559 2308l18 16-14-5-18-15z"/>
<path class="c149" d="M527 2287l18 17-14-6-17-16z"/>
<path class="c127" d="M591 2328l18 13-14-4-18-13z"/>
<path class="c105" d="M1026 2370l18-3-14 9-18 3z"/>
<path class="c119" d="M623 2345l18 12-14-4-18-12z"/>
<path class="c90" d="M831 2399l18 4-14 4-18-4z"/>
<path class="c94" d="M944 2392l18-1-14 7-18 1z"/>
<path class="c123" d="M1107 2336l18-5-14 11-18 5z"/>
<path class="c112" d="M654 2359l18 10-14-2-17-10z"/>
<path class="c106" d="M686 2370l18 10-14-1-18-10z"/>
<path class="c146" d="M1189 2294l18-6-14 12-18 7z"/>
<path class="c91" d="M863 2399l18 3-14 4-18-3z"/>
<path class="c102" d="M718 2379l18 9-14 0-18-8z"/>
<path class="c114" d="M1057 2357l18-5-13 10-18 5z"/>
<path class="c100" d="M976 2384l18-2-14 8-18 1z"/>
<path class="c134" d="M1139 2318l18-5-14 12-18 6z"/>
<path class="c99" d="M750 2386l18 8-14 1-18-7z"/>
<path class="c94" d="M895 2396l18 2-14 6-18-2z"/>
<path class="c97" d="M781 2391l18 6-14 3-17-6z"/>
<path class="c107" d="M1008 2373l18-3-14 9-18 3z"/>
<path class="c123" d="M1089 2341l18-5-14 11-18 5z"/>
<path class="c97" d="M926 2391l18 1-14 7-17-1z"/>
<path class="c96" d="M813 2394l18 5-14 4-18-6z"/>
<path class="c150" d="M541 2291l18 17-14-4-18-17z"/>
<path class="c139" d="M573 2312l18 16-14-4-18-16z"/>
<path class="c146" d="M1171 2299l18-5-14 13-18 6z"/>
<path class="c129" d="M605 2331l18 14-14-4-18-13z"/>
<path class="c121" d="M636 2347l18 12-13-2-18-12z"/>
<path class="c115" d="M668 2360l18 10-14-1-18-10z"/>
<path class="c97" d="M845 2394l18 5-14 4-18-4z"/>
<path class="c115" d="M1040 2360l17-3-13 10-18 3z"/>
<path class="c102" d="M958 2384l18 0-14 7-18 1z"/>
<path class="c134" d="M1121 2323l18-5-14 13-18 5z"/>
<path class="c110" d="M700 2370l18 9-14 1-18-10z"/>
<path class="c99" d="M877 2393l18 3-14 6-18-3z"/>
<path class="c106" d="M732 2378l18 8-14 2-18-9z"/>
<path class="c109" d="M990 2374l18-1-14 9-18 2z"/>
<path class="c124" d="M1071 2345l18-4-14 11-18 5z"/>
<path class="c104" d="M763 2384l18 7-13 3-18-8z"/>
<path class="c102" d="M908 2389l18 2-13 7-18-2z"/>
<path class="c146" d="M1153 2304l18-5-14 14-18 5z"/>
<path class="c103" d="M795 2387l18 7-14 3-18-6z"/>
<path class="c116" d="M1022 2363l18-3-14 10-18 3z"/>
<path class="c152" d="M555 2294l18 18-14-4-18-17z"/>
<path class="c141" d="M587 2315l18 16-14-3-18-16z"/>
<path class="c132" d="M618 2333l18 14-13-2-18-14z"/>
<path class="c135" d="M1103 2328l18-5-14 13-18 5z"/>
<path class="c106" d="M940 2383l18 1-14 8-18-1z"/>
<path class="c103" d="M827 2389l18 5-14 5-18-5z"/>
<path class="c125" d="M650 2348l18 12-14-1-18-12z"/>
<path class="c119" d="M682 2359l18 11-14 0-18-10z"/>
<path class="c104" d="M859 2389l18 4-14 6-18-5z"/>
<path class="c115" d="M714 2369l18 9-14 1-18-9z"/>
<path class="c125" d="M1053 2348l18-3-14 12-17 3z"/>
<path class="c112" d="M972 2375l18-1-14 10-18 0z"/>
<path class="c147" d="M1135 2309l18-5-14 14-18 5z"/>
<path class="c112" d="M745 2375l18 9-13 2-18-8z"/>
<path class="c106" d="M890 2386l18 3-13 7-18-3z"/>
<path class="c110" d="M777 2380l18 7-14 4-18-7z"/>
<path class="c119" d="M1004 2364l18-1-14 10-18 1z"/>
<path class="c136" d="M1085 2331l18-3-14 13-18 4z"/>
<path class="c110" d="M922 2381l18 2-14 8-18-2z"/>
<path class="c110" d="M809 2383l18 6-14 5-18-7z"/>
<path class="c154" d="M569 2297l18 18-14-3-18-18z"/>
<path class="c144" d="M600 2317l18 16-13-2-18-16z"/>
<path class="c136" d="M632 2334l18 14-14-1-18-14z"/>
<path class="c127" d="M1035 2351l18-3-13 12-18 3z"/>
<path class="c110" d="M841 2383l18 6-14 5-18-5z"/>
<path class="c129" d="M664 2347l18 12-14 1-18-12z"/>
<path class="c115" d="M954 2374l18 1-14 9-18-1z"/>
<path class="c147" d="M1117 2313l18-4-14 14-18 5z"/>
<path class="c124" d="M696 2358l18 11-14 1-18-11z"/>
<path class="c112" d="M872 2382l18 4-13 7-18-4z"/>
<path class="c120" d="M728 2366l17 9-13 3-18-9z"/>
<path class="c121" d="M986 2364l18 0-14 10-18 1z"/>
<path class="c137" d="M1067 2334l18-3-14 14-18 3z"/>
<path class="c118" d="M759 2372l18 8-14 4-18-9z"/>
<path class="c115" d="M904 2378l18 3-14 8-18-3z"/>
<path class="c117" d="M791 2375l18 8-14 4-18-7z"/>
<path class="c129" d="M1017 2352l18-1-13 12-18 1z"/>
<path class="c119" d="M936 2372l18 2-14 9-18-2z"/>
<path class="c149" d="M1099 2316l18-3-14 15-18 3z"/>
<path class="c157" d="M583 2300l17 17-13-2-18-18z"/>
<path class="c117" d="M823 2377l18 6-14 6-18-6z"/>
<path class="c147" d="M614 2319l18 15-14-1-18-16z"/>
<path class="c140" d="M646 2334l18 13-14 1-18-14z"/>
<path class="c134" d="M678 2346l18 12-14 1-18-12z"/>
<path class="c118" d="M855 2376l17 6-13 7-18-6z"/>
<path class="c139" d="M1049 2337l18-3-14 14-18 3z"/>
<path class="c125" d="M968 2364l18 0-14 11-18-1z"/>
<path class="c129" d="M710 2355l18 11-14 3-18-11z"/>
<path class="c126" d="M741 2362l18 10-14 3-17-9z"/>
<path class="c120" d="M886 2374l18 4-14 8-18-4z"/>
<path class="c125" d="M773 2367l18 8-14 5-18-8z"/>
<path class="c132" d="M999 2352l18 0-13 12-18 0z"/>
<path class="c150" d="M1081 2318l18-2-14 15-18 3z"/>
<path class="c124" d="M918 2369l18 3-14 9-18-3z"/>
<path class="c124" d="M805 2369l18 8-14 6-18-8z"/>
<path class="c160" d="M596 2301l18 18-14-2-17-17z"/>
<path class="c151" d="M628 2319l18 15-14 0-18-15z"/>
<path class="c141" d="M1031 2338l18-1-14 14-18 1z"/>
<path class="c125" d="M837 2370l18 6-14 7-18-6z"/>
<path class="c144" d="M660 2333l18 13-14 1-18-13z"/>
<path class="c129" d="M950 2362l18 2-14 10-18-2z"/>
<path class="c139" d="M692 2344l18 11-14 3-18-12z"/>
<path class="c126" d="M868 2369l18 5-14 8-17-6z"/>
<path class="c135" d="M723 2351l18 11-13 4-18-11z"/>
<path class="c136" d="M982 2352l17 0-13 12-18 0z"/>
<path class="c152" d="M1063 2320l18-2-14 16-18 3z"/>
<path class="c133" d="M755 2357l18 10-14 5-18-10z"/>
<path class="c129" d="M900 2365l18 4-14 9-18-4z"/>
<path class="c132" d="M787 2361l18 8-14 6-18-8z"/>
<path class="c144" d="M1013 2338l18 0-14 14-18 0z"/>
<path class="c134" d="M932 2359l18 3-14 10-18-3z"/>
<path class="c132" d="M819 2362l18 8-14 7-18-8z"/>
<path class="c164" d="M610 2302l18 17-14 0-18-18z"/>
<path class="c156" d="M642 2318l18 15-14 1-18-15z"/>
<path class="c149" d="M674 2331l18 13-14 2-18-13z"/>
<path class="c133" d="M850 2362l18 7-13 7-18-6z"/>
<path class="c154" d="M1045 2322l18-2-14 17-18 1z"/>
<path class="c140" d="M964 2350l18 2-14 12-18-2z"/>
<path class="c145" d="M705 2340l18 11-13 4-18-11z"/>
<path class="c142" d="M737 2346l18 11-14 5-18-11z"/>
<path class="c135" d="M882 2360l18 5-14 9-18-5z"/>
<path class="c147" d="M995 2338l18 0-14 14-17 0z"/>
<path class="c141" d="M769 2351l18 10-14 6-18-10z"/>
<path class="c139" d="M914 2355l18 4-14 10-18-4z"/>
<path class="c140" d="M801 2353l18 9-14 7-18-8z"/>
<path class="c168" d="M624 2302l18 16-14 1-18-17z"/>
<path class="c157" d="M1027 2322l18 0-14 16-18 0z"/>
<path class="c141" d="M832 2354l18 8-13 8-18-8z"/>
<path class="c144" d="M946 2347l18 3-14 12-18-3z"/>
<path class="c161" d="M656 2316l18 15-14 2-18-15z"/>
<path class="c155" d="M687 2327l18 13-13 4-18-13z"/>
<path class="c142" d="M864 2353l18 7-14 9-18-7z"/>
<path class="c152" d="M719 2335l18 11-14 5-18-11z"/>
<path class="c151" d="M977 2337l18 1-13 14-18-2z"/>
<path class="c150" d="M751 2340l18 11-14 6-18-11z"/>
<path class="c145" d="M896 2350l18 5-14 10-18-5z"/>
<path class="c149" d="M783 2344l18 9-14 8-18-10z"/>
<path class="c160" d="M1009 2322l18 0-14 16-18 0z"/>
<path class="c149" d="M928 2344l18 3-14 12-18-4z"/>
<path class="c149" d="M814 2345l18 9-13 8-18-9z"/>
<path class="c172" d="M638 2301l18 15-14 2-18-16z"/>
<path class="c166" d="M670 2313l17 14-13 4-18-15z"/>
<path class="c150" d="M846 2345l18 8-14 9-18-8z"/>
<path class="c156" d="M959 2334l18 3-13 13-18-3z"/>
<path class="c162" d="M701 2323l18 12-14 5-18-13z"/>
<path class="c159" d="M733 2329l18 11-14 6-18-11z"/>
<path class="c152" d="M878 2343l18 7-14 10-18-7z"/>
<path class="c164" d="M991 2321l18 1-14 16-18-1z"/>
<path class="c158" d="M765 2333l18 11-14 7-18-11z"/>
<path class="c155" d="M910 2339l18 5-14 11-18-5z"/>
<path class="c157" d="M797 2336l17 9-13 8-18-9z"/>
<path class="c161" d="M941 2331l18 3-13 13-18-3z"/>
<path class="c158" d="M828 2337l18 8-14 9-18-9z"/>
<path class="c178" d="M652 2299l18 14-14 3-18-15z"/>
<path class="c172" d="M683 2309l18 14-14 4-17-14z"/>
<path class="c159" d="M860 2336l18 7-14 10-18-8z"/>
<path class="c169" d="M715 2317l18 12-14 6-18-12z"/>
<path class="c168" d="M973 2320l18 1-14 16-18-3z"/>
<path class="c167" d="M747 2322l18 11-14 7-18-11z"/>
<path class="c162" d="M892 2332l18 7-14 11-18-7z"/>
<path class="c166" d="M779 2325l18 11-14 8-18-11z"/>
<path class="c166" d="M924 2326l17 5-13 13-18-5z"/>
<path class="c166" d="M810 2327l18 10-14 8-17-9z"/>
<path class="c183" d="M665 2296l18 13-13 4-18-14z"/>
<path class="c167" d="M842 2327l18 9-14 9-18-8z"/>
<path class="c172" d="M955 2317l18 3-14 14-18-3z"/>
<path class="c179" d="M697 2304l18 13-14 6-18-14z"/>
<path class="c169" d="M874 2325l18 7-14 11-18-7z"/>
<path class="c177" d="M729 2310l18 12-14 7-18-12z"/>
<path class="c175" d="M761 2314l18 11-14 8-18-11z"/>
<path class="c172" d="M906 2321l18 5-14 13-18-7z"/>
<path class="c175" d="M792 2317l18 10-13 9-18-11z"/>
<path class="c178" d="M937 2313l18 4-14 14-17-5z"/>
<path class="c175" d="M824 2318l18 9-14 10-18-10z"/>
<path class="c190" d="M679 2292l18 12-14 5-18-13z"/>
<path class="c177" d="M856 2317l18 8-14 11-18-9z"/>
<path class="c187" d="M711 2298l18 12-14 7-18-13z"/>
<path class="c185" d="M743 2303l18 11-14 8-18-12z"/>
<path class="c179" d="M888 2314l18 7-14 11-18-7z"/>
<path class="c184" d="M774 2306l18 11-13 8-18-11z"/>
<path class="c183" d="M919 2309l18 4-13 13-18-5z"/>
<path class="c184" d="M806 2307l18 11-14 9-18-10z"/>
<path class="c185" d="M838 2308l18 9-14 10-18-9z"/>
<path class="c196" d="M693 2286l18 12-14 6-18-12z"/>
<path class="c187" d="M870 2307l18 7-14 11-18-8z"/>
<path class="c195" d="M725 2291l18 12-14 7-18-12z"/>
<path class="c194" d="M756 2294l18 12-13 8-18-11z"/>
<path class="c190" d="M901 2303l18 6-13 12-18-7z"/>
<path class="c193" d="M788 2296l18 11-14 10-18-11z"/>
<path class="c194" d="M820 2298l18 10-14 10-18-11z"/>
<path class="c195" d="M852 2298l18 9-14 10-18-9z"/>
<path class="c204" d="M707 2280l18 11-14 7-18-12z"/>
<path class="c203" d="M739 2283l17 11-13 9-18-12z"/>
<path class="c196" d="M884 2296l17 7-13 11-18-7z"/>
<path class="c203" d="M770 2285l18 11-14 10-18-12z"/>
<path class="c203" d="M802 2287l18 11-14 9-18-11z"/>
<path class="c203" d="M834 2288l18 10-14 10-18-10z"/>
<path class="c204" d="M866 2288l18 8-14 11-18-9z"/>
<path class="c213" d="M721 2272l18 11-14 8-18-11z"/>
<path class="c212" d="M752 2274l18 11-14 9-17-11z"/>
<path class="c212" d="M784 2275l18 12-14 9-18-11z"/>
<path class="c212" d="M816 2277l18 11-14 10-18-11z"/>
<path class="c213" d="M848 2278l18 10-14 10-18-10z"/>
<path class="c222" d="M734 2262l18 12-13 9-18-11z"/>
<path class="c222" d="M766 2264l18 11-14 10-18-11z"/>
<path class="c222" d="M798 2265l18 12-14 10-18-12z"/>
<path class="c222" d="M830 2267l18 11-14 10-18-11z"/>
<path class="c232" d="M748 2251l18 13-14 10-18-12z"/>
<path class="c232" d="M780 2252l18 13-14 10-18-11z"/>
<path class="c232" d="M812 2255l18 12-14 10-18-12z"/>
<path class="c243" d="M762 2239l18 13-14 12-18-13z"/>
<path class="c243" d="M794 2240l18 15-14 10-18-13z"/>
<path class="c255" d="M776 2224l18 16-14 12-18-13z"/>
</g>
<line x1="387.90" y1="1371.60" x2="746.90" y2="1263.50" stroke="#262626" stroke-width="1.10"/>
<line x1="387.90" y1="1371.60" x2="111.80" y2="1231.00" stroke="#262626" stroke-width="1.10"/>
<line x1="111.80" y1="1231.00" x2="111.80" y2="924.60" stroke="#262626" stroke-width="1.10"/>
<line x1="387.90" y1="1371.60" x2="396.81" y2="1376.14" stroke="#262626" stroke-width="1.10"/>
<line x1="477.65" y1="1344.58" x2="486.56" y2="1349.11" stroke="#262626" stroke-width="1.10"/>
<line x1="567.40" y1="1317.55" x2="576.31" y2="1322.09" stroke="#262626" stroke-width="1.10"/>
<line x1="657.15" y1="1290.52" x2="666.06" y2="1295.06" stroke="#262626" stroke-width="1.10"/>
<line x1="746.90" y1="1263.50" x2="755.81" y2="1268.04" stroke="#262626" stroke-width="1.10"/>
<line x1="387.90" y1="1371.60" x2="378.32" y2="1374.48" stroke="#262626" stroke-width="1.10"/>
<line x1="318.88" y1="1336.45" x2="309.30" y2="1339.33" stroke="#262626" stroke-width="1.10"/>
<line x1="249.85" y1="1301.30" x2="240.27" y2="1304.18" stroke="#262626" stroke-width="1.10"/>
<line x1="180.83" y1="1266.15" x2="171.25" y2="1269.03" stroke="#262626" stroke-width="1.10"/>
<line x1="111.80" y1="1231.00" x2="102.22" y2="1233.88" stroke="#262626" stroke-width="1.10"/>
<line x1="111.80" y1="1231.00" x2="102.89" y2="1226.46" stroke="#262626" stroke-width="1.10"/>
<line x1="111.80" y1="1179.93" x2="102.89" y2="1175.40" stroke="#262626" stroke-width="1.10"/>
<line x1="111.80" y1="1128.87" x2="102.89" y2="1124.33" stroke="#262626" stroke-width="1.10"/>
<line x1="111.80" y1="1077.80" x2="102.89" y2="1073.26" stroke="#262626" stroke-width="1.10"/>
<line x1="111.80" y1="1026.73" x2="102.89" y2="1022.20" stroke="#262626" stroke-width="1.10"/>
<line x1="111.80" y1="975.67" x2="102.89" y2="971.13" stroke="#262626" stroke-width="1.10"/>
<line x1="111.80" y1="924.60" x2="102.89" y2="920.06" stroke="#262626" stroke-width="1.10"/>
<g font-family='"Liberation Sans", Arial, Helvetica, sans-serif' font-size="20.0" fill="#262626">
<text x="403.4" y="1400.6">-1</text>
<text x="493.2" y="1373.6">-0.5</text>
<text x="582.9" y="1346.5">0</text>
<text x="672.7" y="1319.5">0.5</text>
<text x="762.4" y="1292.5">1</text>
<text x="370.4" y="1397.6" text-anchor="end">-1</text>
<text x="301.4" y="1362.5" text-anchor="end">-0.5</text>
<text x="232.4" y="1327.3" text-anchor="end">0</text>
<text x="163.3" y="1292.1" text-anchor="end">0.5</text>
<text x="94.3" y="1257.0" text-anchor="end">1</text>
<text x="96.9" y="1231.4" text-anchor="end">-0.5</text>
<text x="96.9" y="1180.3" text-anchor="end">0</text>
<text x="96.9" y="1129.3" text-anchor="end">0.5</text>
<text x="96.9" y="1078.2" text-anchor="end">1</text>
<text x="96.9" y="1027.1" text-anchor="end">1.5</text>
<text x="96.9" y="976.1" text-anchor="end">2</text>
<text x="96.9" y="925.0" text-anchor="end">2.5</text>
</g>
<g font-family='"Liberation Serif", "Times New Roman", serif' font-size="35.5" fill="#000"><text x="324.9" y="1497.5">(c)</text><text x="377.0" y="1497.5">QLDMR</text></g>
<!-- subplot d -->
<g stroke="#262626" stroke-opacity="0.15" stroke-width="1">
<line x1="1007.40" y1="1231.00" x2="1007.40" y2="924.60"/>
<line x1="1097.15" y1="1203.98" x2="1097.15" y2="897.58"/>
<line x1="1186.90" y1="1176.95" x2="1186.90" y2="870.55"/>
<line x1="1276.65" y1="1149.92" x2="1276.65" y2="843.52"/>
<line x1="1366.40" y1="1122.90" x2="1366.40" y2="816.50"/>
<line x1="1007.40" y1="1231.00" x2="1366.40" y2="1122.90"/>
<line x1="1007.40" y1="1154.40" x2="1366.40" y2="1046.30"/>
<line x1="1007.40" y1="1077.80" x2="1366.40" y2="969.70"/>
<line x1="1007.40" y1="1001.20" x2="1366.40" y2="893.10"/>
<line x1="1007.40" y1="924.60" x2="1366.40" y2="816.50"/>
<line x1="1642.50" y1="1263.50" x2="1642.50" y2="957.10"/>
<line x1="1573.48" y1="1228.35" x2="1573.48" y2="921.95"/>
<line x1="1504.45" y1="1193.20" x2="1504.45" y2="886.80"/>
<line x1="1435.42" y1="1158.05" x2="1435.42" y2="851.65"/>
<line x1="1366.40" y1="1122.90" x2="1366.40" y2="816.50"/>
<line x1="1642.50" y1="1263.50" x2="1366.40" y2="1122.90"/>
<line x1="1642.50" y1="1186.90" x2="1366.40" y2="1046.30"/>
<line x1="1642.50" y1="1110.30" x2="1366.40" y2="969.70"/>
<line x1="1642.50" y1="1033.70" x2="1366.40" y2="893.10"/>
<line x1="1642.50" y1="957.10" x2="1366.40" y2="816.50"/>
<line x1="1283.50" y1="1371.60" x2="1007.40" y2="1231.00"/>
<line x1="1373.25" y1="1344.58" x2="1097.15" y2="1203.98"/>
<line x1="1463.00" y1="1317.55" x2="1186.90" y2="1176.95"/>
<line x1="1552.75" y1="1290.52" x2="1276.65" y2="1149.92"/>
<line x1="1642.50" y1="1263.50" x2="1366.40" y2="1122.90"/>
<line x1="1283.50" y1="1371.60" x2="1642.50" y2="1263.50"/>
<line x1="1214.48" y1="1336.45" x2="1573.48" y2="1228.35"/>
<line x1="1145.45" y1="1301.30" x2="1504.45" y2="1193.20"/>
<line x1="1076.42" y1="1266.15" x2="1435.42" y2="1158.05"/>
<line x1="1007.40" y1="1231.00" x2="1366.40" y2="1122.90"/>
</g>
<g transform="scale(0.5)" stroke="#000" stroke-width="2.00" stroke-linejoin="round">
<path class="c166" d="M2729 1877l18-32-14-22-18 31z"/>
<path class="c154" d="M2711 1907l18-30-14-23-18 30z"/>
<path class="c158" d="M2742 1900l18-31-13-24-18 32z"/>
<path class="c144" d="M2693 1934l18-27-14-23-18 27z"/>
<path class="c147" d="M2725 1929l17-29-13-23-18 30z"/>
<path class="c135" d="M2675 1959l18-25-14-23-18 24z"/>
<path class="c151" d="M2756 1923l18-31-14-23-18 31z"/>
<path class="c137" d="M2707 1957l18-28-14-22-18 27z"/>
<path class="c127" d="M2657 1982l18-23-14-24-18 23z"/>
<path class="c140" d="M2738 1952l18-29-14-23-17 29z"/>
<path class="c127" d="M2689 1982l18-25-14-23-18 25z"/>
<path class="c143" d="M2770 1946l18-31-14-23-18 31z"/>
<path class="c129" d="M2720 1979l18-27-13-23-18 28z"/>
<path class="c119" d="M2639 2003l18-21-14-24-18 21z"/>
<path class="c119" d="M2671 2005l18-23-14-23-18 23z"/>
<path class="c132" d="M2752 1975l18-29-14-23-18 29z"/>
<path class="c120" d="M2702 2005l18-26-13-22-18 25z"/>
<path class="c112" d="M2621 2023l18-20-14-24-18 19z"/>
<path class="c136" d="M2784 1968l18-31-14-22-18 31z"/>
<path class="c122" d="M2734 2002l18-27-14-23-18 27z"/>
<path class="c111" d="M2653 2027l18-22-14-23-18 21z"/>
<path class="c111" d="M2684 2028l18-23-13-23-18 23z"/>
<path class="c125" d="M2766 1996l18-28-14-22-18 29z"/>
<path class="c106" d="M2603 2041l18-18-14-25-18 18z"/>
<path class="c113" d="M2716 2027l18-25-14-23-18 26z"/>
<path class="c104" d="M2635 2047l18-20-14-24-18 20z"/>
<path class="c129" d="M2798 1989l18-30-14-22-18 31z"/>
<path class="c104" d="M2667 2050l17-22-13-23-18 22z"/>
<path class="c115" d="M2748 2023l18-27-14-21-18 27z"/>
<path class="c101" d="M2585 2057l18-16-14-25-18 16z"/>
<path class="c104" d="M2698 2051l18-24-14-22-18 23z"/>
<path class="c119" d="M2780 2018l18-29-14-21-18 28z"/>
<path class="c98" d="M2617 2065l18-18-14-24-18 18z"/>
<path class="c106" d="M2730 2049l18-26-14-21-18 25z"/>
<path class="c97" d="M2649 2070l18-20-14-23-18 20z"/>
<path class="c123" d="M2811 2010l18-29-13-22-18 30z"/>
<path class="c96" d="M2680 2073l18-22-14-23-17 22z"/>
<path class="c109" d="M2762 2044l18-26-14-22-18 27z"/>
<path class="c97" d="M2567 2072l18-15-14-25-18 14z"/>
<path class="c93" d="M2599 2081l18-16-14-24-18 16z"/>
<path class="c97" d="M2712 2072l18-23-14-22-18 24z"/>
<path class="c112" d="M2794 2038l17-28-13-21-18 29z"/>
<path class="c90" d="M2631 2089l18-19-14-23-18 18z"/>
<path class="c99" d="M2744 2070l18-26-14-21-18 26z"/>
<path class="c89" d="M2662 2093l18-20-13-23-18 20z"/>
<path class="c117" d="M2825 2030l18-29-14-20-18 29z"/>
<path class="c93" d="M2549 2085l18-13-14-26-18 13z"/>
<path class="c89" d="M2694 2094l18-22-14-21-18 22z"/>
<path class="c88" d="M2581 2097l18-16-14-24-18 15z"/>
<path class="c102" d="M2776 2065l18-27-14-20-18 26z"/>
<path class="c85" d="M2613 2106l18-17-14-24-18 16z"/>
<path class="c91" d="M2726 2093l18-23-14-21-18 23z"/>
<path class="c83" d="M2644 2112l18-19-13-23-18 19z"/>
<path class="c106" d="M2807 2058l18-28-14-20-17 28z"/>
<path class="c93" d="M2758 2090l18-25-14-21-18 26z"/>
<path class="c82" d="M2676 2115l18-21-14-21-18 20z"/>
<path class="c90" d="M2531 2097l18-12-14-26-18 12z"/>
<path class="c85" d="M2563 2110l18-13-14-25-18 13z"/>
<path class="c111" d="M2839 2049l18-28-14-20-18 29z"/>
<path class="c80" d="M2595 2121l18-15-14-25-18 16z"/>
<path class="c83" d="M2708 2115l18-22-14-21-18 22z"/>
<path class="c97" d="M2789 2084l18-26-13-20-18 27z"/>
<path class="c77" d="M2626 2129l18-17-13-23-18 17z"/>
<path class="c84" d="M2740 2113l18-23-14-20-18 23z"/>
<path class="c76" d="M2658 2134l18-19-14-22-18 19z"/>
<path class="c101" d="M2821 2076l18-27-14-19-18 28z"/>
<path class="c88" d="M2513 2107l18-10-14-26-18 10z"/>
<path class="c81" d="M2545 2122l18-12-14-25-18 12z"/>
<path class="c75" d="M2690 2136l18-21-14-21-18 21z"/>
<path class="c87" d="M2771 2109l18-25-13-19-18 25z"/>
<path class="c76" d="M2577 2135l18-14-14-24-18 13z"/>
<path class="c106" d="M2853 2067l18-28-14-18-18 28z"/>
<path class="c72" d="M2609 2144l17-15-13-23-18 15z"/>
<path class="c77" d="M2722 2135l18-22-14-20-18 22z"/>
<path class="c91" d="M2803 2102l18-26-14-18-18 26z"/>
<path class="c70" d="M2640 2151l18-17-14-22-18 17z"/>
<path class="c79" d="M2753 2132l18-23-13-19-18 23z"/>
<path class="c69" d="M2672 2155l18-19-14-21-18 19z"/>
<path class="c86" d="M2495 2117l18-10-14-26-17 9z"/>
<path class="c79" d="M2527 2133l18-11-14-25-18 10z"/>
<path class="c96" d="M2835 2093l18-26-14-18-18 27z"/>
<path class="c73" d="M2559 2147l18-12-14-25-18 12z"/>
<path class="c69" d="M2704 2156l18-21-14-20-18 21z"/>
<path class="c82" d="M2785 2126l18-24-14-18-18 25z"/>
<path class="c68" d="M2591 2159l18-15-14-23-18 14z"/>
<path class="c65" d="M2622 2167l18-16-14-22-17 15z"/>
<path class="c102" d="M2867 2083l18-26-14-18-18 28z"/>
<path class="c71" d="M2736 2154l17-22-13-19-18 22z"/>
<path class="c63" d="M2654 2173l18-18-14-21-18 17z"/>
<path class="c87" d="M2817 2119l18-26-14-17-18 26z"/>
<path class="c85" d="M2477 2124l18-7-13-27-18 8z"/>
<path class="c77" d="M2509 2142l18-9-14-26-18 10z"/>
<path class="c74" d="M2767 2150l18-24-14-17-18 23z"/>
<path class="c63" d="M2686 2175l18-19-14-20-18 19z"/>
<path class="c70" d="M2541 2158l18-11-14-25-18 11z"/>
<path class="c65" d="M2573 2171l18-12-14-24-18 12z"/>
<path class="c92" d="M2849 2109l18-26-14-16-18 26z"/>
<path class="c61" d="M2604 2182l18-15-13-23-18 15z"/>
<path class="c64" d="M2718 2175l18-21-14-19-18 21z"/>
<path class="c78" d="M2799 2143l18-24-14-17-18 24z"/>
<path class="c58" d="M2636 2189l18-16-14-22-18 16z"/>
<path class="c98" d="M2881 2099l17-26-13-16-18 26z"/>
<path class="c66" d="M2749 2172l18-22-14-18-17 22z"/>
<path class="c57" d="M2668 2193l18-18-14-20-18 18z"/>
<path class="c84" d="M2459 2131l18-7-13-26-18 7z"/>
<path class="c83" d="M2831 2134l18-25-14-16-18 26z"/>
<path class="c76" d="M2491 2150l18-8-14-25-18 7z"/>
<path class="c69" d="M2523 2167l18-9-14-25-18 9z"/>
<path class="c62" d="M2555 2182l18-11-14-24-18 11z"/>
<path class="c57" d="M2700 2194l18-19-14-19-18 19z"/>
<path class="c69" d="M2781 2166l18-23-14-17-18 24z"/>
<path class="c57" d="M2586 2194l18-12-13-23-18 12z"/>
<path class="c88" d="M2863 2124l18-25-14-16-18 26z"/>
<path class="c54" d="M2618 2204l18-15-14-22-18 15z"/>
<path class="c59" d="M2731 2193l18-21-13-18-18 21z"/>
<path class="c74" d="M2813 2158l18-24-14-15-18 24z"/>
<path class="c52" d="M2650 2210l18-17-14-20-18 16z"/>
<path class="c84" d="M2441 2136l18-5-13-26-18 5z"/>
<path class="c94" d="M2894 2113l18-26-14-14-17 26z"/>
<path class="c62" d="M2763 2188l18-22-14-16-18 22z"/>
<path class="c75" d="M2473 2157l18-7-14-26-18 7z"/>
<path class="c67" d="M2505 2176l18-9-14-25-18 8z"/>
<path class="c51" d="M2682 2212l18-18-14-19-18 18z"/>
<path class="c60" d="M2537 2192l18-10-14-24-18 9z"/>
<path class="c79" d="M2845 2148l18-24-14-15-18 25z"/>
<path class="c55" d="M2568 2206l18-12-13-23-18 11z"/>
<path class="c52" d="M2713 2212l18-19-13-18-18 19z"/>
<path class="c50" d="M2600 2217l18-13-14-22-18 12z"/>
<path class="c66" d="M2795 2181l18-23-14-15-18 23z"/>
<path class="c47" d="M2632 2224l18-14-14-21-18 15z"/>
<path class="c85" d="M2876 2137l18-24-13-14-18 25z"/>
<path class="c54" d="M2745 2209l18-21-14-16-18 21z"/>
<path class="c46" d="M2664 2229l18-17-14-19-18 17z"/>
<path class="c71" d="M2827 2172l18-24-14-14-18 24z"/>
<path class="c75" d="M2455 2162l18-5-14-26-18 5z"/>
<path class="c85" d="M2424 2141l17-5-13-26-18 5z"/>
<path class="c67" d="M2487 2182l18-6-14-26-18 7z"/>
<path class="c59" d="M2519 2200l18-8-14-25-18 9z"/>
<path class="c53" d="M2551 2215l17-9-13-24-18 10z"/>
<path class="c58" d="M2777 2203l18-22-14-15-18 22z"/>
<path class="c46" d="M2695 2230l18-18-13-18-18 18z"/>
<path class="c92" d="M2908 2125l18-24-14-14-18 26z"/>
<path class="c47" d="M2582 2228l18-11-14-23-18 12z"/>
<path class="c77" d="M2858 2161l18-24-13-13-18 24z"/>
<path class="c44" d="M2614 2238l18-14-14-20-18 13z"/>
<path class="c48" d="M2727 2229l18-20-14-16-18 19z"/>
<path class="c62" d="M2809 2195l18-23-14-14-18 23z"/>
<path class="c41" d="M2646 2244l18-15-14-19-18 14z"/>
<path class="c83" d="M2890 2149l18-24-14-12-18 24z"/>
<path class="c50" d="M2759 2224l18-21-14-15-18 21z"/>
<path class="c41" d="M2678 2247l17-17-13-18-18 17z"/>
<path class="c76" d="M2437 2166l18-4-14-26-17 5z"/>
<path class="c67" d="M2469 2188l18-6-14-25-18 5z"/>
<path class="c86" d="M2406 2144l18-3-14-26-18 3z"/>
<path class="c58" d="M2501 2207l18-7-14-24-18 6z"/>
<path class="c68" d="M2840 2185l18-24-13-13-18 24z"/>
<path class="c51" d="M2533 2224l18-9-14-23-18 8z"/>
<path class="c45" d="M2564 2238l18-10-14-22-17 9z"/>
<path class="c41" d="M2709 2247l18-18-14-17-18 18z"/>
<path class="c55" d="M2791 2217l18-22-14-14-18 22z"/>
<path class="c41" d="M2596 2249l18-11-14-21-18 11z"/>
<path class="c90" d="M2922 2136l18-23-14-12-18 24z"/>
<path class="c37" d="M2628 2258l18-14-14-20-18 14z"/>
<path class="c74" d="M2872 2173l18-24-14-12-18 24z"/>
<path class="c44" d="M2741 2244l18-20-14-15-18 20z"/>
<path class="c36" d="M2660 2262l18-15-14-18-18 15z"/>
<path class="c60" d="M2823 2207l17-22-13-13-18 23z"/>
<path class="c67" d="M2451 2192l18-4-14-26-18 4z"/>
<path class="c77" d="M2419 2169l18-3-13-25-18 3z"/>
<path class="c58" d="M2483 2212l18-5-14-25-18 6z"/>
<path class="c87" d="M2388 2146l18-2-14-26-18 3z"/>
<path class="c50" d="M2515 2231l18-7-14-24-18 7z"/>
<path class="c47" d="M2773 2238l18-21-14-14-18 21z"/>
<path class="c81" d="M2904 2160l18-24-14-11-18 24z"/>
<path class="c36" d="M2691 2264l18-17-14-17-17 17z"/>
<path class="c44" d="M2546 2246l18-8-13-23-18 9z"/>
<path class="c38" d="M2578 2260l18-11-14-21-18 10z"/>
<path class="c66" d="M2854 2196l18-23-14-12-18 24z"/>
<path class="c34" d="M2610 2270l18-12-14-20-18 11z"/>
<path class="c38" d="M2723 2262l18-18-14-15-18 18z"/>
<path class="c52" d="M2805 2229l18-22-14-12-18 22z"/>
<path class="c89" d="M2936 2146l18-22-14-11-18 23z"/>
<path class="c32" d="M2642 2276l18-14-14-18-18 14z"/>
<path class="c73" d="M2886 2183l18-23-14-11-18 24z"/>
<path class="c41" d="M2755 2257l18-19-14-14-18 20z"/>
<path class="c31" d="M2673 2279l18-15-13-17-18 15z"/>
<path class="c59" d="M2465 2216l18-4-14-24-18 4z"/>
<path class="c69" d="M2433 2194l18-2-14-26-18 3z"/>
<path class="c58" d="M2836 2218l18-22-14-11-17 22z"/>
<path class="c51" d="M2497 2236l18-5-14-24-18 5z"/>
<path class="c79" d="M2401 2171l18-2-13-25-18 2z"/>
<path class="c89" d="M2370 2147l18-1-14-25-18 1z"/>
<path class="c43" d="M2528 2253l18-7-13-22-18 7z"/>
<path class="c37" d="M2560 2268l18-8-14-22-18 8z"/>
<path class="c32" d="M2705 2279l18-17-14-15-18 17z"/>
<path class="c45" d="M2787 2250l18-21-14-12-18 21z"/>
<path class="c32" d="M2592 2280l18-10-14-21-18 11z"/>
<path class="c80" d="M2918 2169l18-23-14-10-18 24z"/>
<path class="c65" d="M2868 2205l18-22-14-10-18 23z"/>
<path class="c29" d="M2624 2288l18-12-14-18-18 12z"/>
<path class="c34" d="M2737 2276l18-19-14-13-18 18z"/>
<path class="c51" d="M2818 2240l18-22-13-11-18 22z"/>
<path class="c27" d="M2655 2293l18-14-13-17-18 14z"/>
<path class="c88" d="M2950 2155l17-22-13-9-18 22z"/>
<path class="c60" d="M2447 2219l18-3-14-24-18 2z"/>
<path class="c51" d="M2479 2240l18-4-14-24-18 4z"/>
<path class="c38" d="M2769 2270l18-20-14-12-18 19z"/>
<path class="c70" d="M2415 2196l18-2-14-25-18 2z"/>
<path class="c72" d="M2900 2191l18-22-14-9-18 23z"/>
<path class="c43" d="M2510 2259l18-6-13-22-18 5z"/>
<path class="c27" d="M2687 2295l18-16-14-15-18 15z"/>
<path class="c81" d="M2383 2172l18-1-13-25-18 1z"/>
<path class="c92" d="M2352 2148l18-1-14-25-18 1z"/>
<path class="c36" d="M2542 2275l18-7-14-22-18 7z"/>
<path class="c57" d="M2850 2227l18-22-14-9-18 22z"/>
<path class="c30" d="M2574 2289l18-9-14-20-18 8z"/>
<path class="c29" d="M2719 2293l18-17-14-14-18 17z"/>
<path class="c26" d="M2606 2299l18-11-14-18-18 10z"/>
<path class="c43" d="M2800 2260l18-20-13-11-18 21z"/>
<path class="c80" d="M2932 2177l18-22-14-9-18 23z"/>
<path class="c24" d="M2638 2306l17-13-13-17-18 12z"/>
<path class="c64" d="M2882 2214l18-23-14-8-18 22z"/>
<path class="c32" d="M2751 2288l18-18-14-13-18 19z"/>
<path class="c23" d="M2669 2309l18-14-14-16-18 14z"/>
<path class="c49" d="M2832 2249l18-22-14-9-18 22z"/>
<path class="c53" d="M2461 2242l18-2-14-24-18 3z"/>
<path class="c44" d="M2493 2263l17-4-13-23-18 4z"/>
<path class="c62" d="M2429 2220l18-1-14-25-18 2z"/>
<path class="c73" d="M2397 2197l18-1-14-25-18 1z"/>
<path class="c36" d="M2524 2281l18-6-14-22-18 6z"/>
<path class="c88" d="M2963 2162l18-21-14-8-17 22z"/>
<path class="c83" d="M2366 2172l17 0-13-25-18 1z"/>
<path class="c94" d="M2334 2147l18 1-14-25-18 1z"/>
<path class="c30" d="M2556 2296l18-7-14-21-18 7z"/>
<path class="c24" d="M2701 2309l18-16-14-14-18 16z"/>
<path class="c36" d="M2782 2280l18-20-13-10-18 20z"/>
<path class="c72" d="M2914 2199l18-22-14-8-18 22z"/>
<path class="c25" d="M2588 2308l18-9-14-19-18 9z"/>
<path class="c57" d="M2864 2235l18-21-14-9-18 22z"/>
<path class="c21" d="M2620 2317l18-11-14-18-18 11z"/>
<path class="c26" d="M2733 2306l18-18-14-12-18 17z"/>
<path class="c42" d="M2814 2270l18-21-14-9-18 20z"/>
<path class="c20" d="M2651 2322l18-13-14-16-17 13z"/>
<path class="c80" d="M2945 2183l18-21-13-7-18 22z"/>
<path class="c30" d="M2765 2299l17-19-13-10-18 18z"/>
<path class="c64" d="M2896 2220l18-21-14-8-18 23z"/>
<path class="c20" d="M2683 2324l18-15-14-14-18 14z"/>
<path class="c45" d="M2475 2265l18-2-14-23-18 2z"/>
<path class="c55" d="M2443 2244l18-2-14-23-18 1z"/>
<path class="c37" d="M2506 2285l18-4-14-22-17 4z"/>
<path class="c65" d="M2411 2220l18 0-14-24-18 1z"/>
<path class="c75" d="M2379 2196l18 1-14-25-17 0z"/>
<path class="c29" d="M2538 2302l18-6-14-21-18 6z"/>
<path class="c86" d="M2348 2171l18 1-14-24-18-1z"/>
<path class="c49" d="M2846 2257l18-22-14-8-18 22z"/>
<path class="c97" d="M2316 2146l18 1-14-23-18-1z"/>
<path class="c24" d="M2570 2315l18-7-14-19-18 7z"/>
<path class="c88" d="M2977 2168l18-20-14-7-18 21z"/>
<path class="c21" d="M2715 2322l18-16-14-13-18 16z"/>
<path class="c20" d="M2602 2326l18-9-14-18-18 9z"/>
<path class="c35" d="M2796 2289l18-19-14-10-18 20z"/>
<path class="c73" d="M2927 2205l18-22-13-6-18 22z"/>
<path class="c17" d="M2633 2333l18-11-13-16-18 11z"/>
<path class="c57" d="M2878 2242l18-22-14-6-18 21z"/>
<path class="c24" d="M2747 2317l18-18-14-11-18 18z"/>
<path class="c16" d="M2665 2336l18-12-14-15-18 13z"/>
<path class="c42" d="M2828 2277l18-20-14-8-18 21z"/>
<path class="c47" d="M2457 2266l18-1-14-23-18 2z"/>
<path class="c38" d="M2488 2287l18-2-13-22-18 2z"/>
<path class="c57" d="M2425 2244l18 0-14-24-18 0z"/>
<path class="c81" d="M2959 2188l18-20-14-6-18 21z"/>
<path class="c30" d="M2520 2306l18-4-14-21-18 4z"/>
<path class="c68" d="M2393 2220l18 0-14-23-18-1z"/>
<path class="c79" d="M2361 2195l18 1-13-24-18-1z"/>
<path class="c17" d="M2697 2336l18-14-14-13-18 15z"/>
<path class="c24" d="M2552 2321l18-6-14-19-18 6z"/>
<path class="c29" d="M2778 2308l18-19-14-9-17 19z"/>
<path class="c90" d="M2330 2169l18 2-14-24-18-1z"/>
<path class="c65" d="M2909 2226l18-21-13-6-18 21z"/>
<path class="c101" d="M2298 2144l18 2-14-23-18-1z"/>
<path class="c18" d="M2584 2334l18-8-14-18-18 7z"/>
<path class="c49" d="M2860 2263l18-21-14-7-18 22z"/>
<path class="c15" d="M2615 2342l18-9-13-16-18 9z"/>
<path class="c19" d="M2729 2333l18-16-14-11-18 16z"/>
<path class="c89" d="M2991 2173l18-20-14-5-18 20z"/>
<path class="c35" d="M2810 2297l18-20-14-7-18 19z"/>
<path class="c13" d="M2647 2348l18-12-14-14-18 11z"/>
<path class="c74" d="M2941 2209l18-21-14-5-18 22z"/>
<path class="c23" d="M2760 2326l18-18-13-9-18 18z"/>
<path class="c58" d="M2892 2247l17-21-13-6-18 22z"/>
<path class="c13" d="M2679 2350l18-14-14-12-18 12z"/>
<path class="c40" d="M2470 2288l18-1-13-22-18 1z"/>
<path class="c50" d="M2439 2266l18 0-14-22-18 0z"/>
<path class="c31" d="M2502 2308l18-2-14-21-18 2z"/>
<path class="c60" d="M2407 2243l18 1-14-24-18 0z"/>
<path class="c24" d="M2534 2325l18-4-14-19-18 4z"/>
<path class="c71" d="M2375 2218l18 2-14-24-18-1z"/>
<path class="c42" d="M2842 2283l18-20-14-6-18 20z"/>
<path class="c82" d="M2343 2192l18 3-13-24-18-2z"/>
<path class="c18" d="M2566 2340l18-6-14-19-18 6z"/>
<path class="c94" d="M2312 2167l18 2-14-23-18-2z"/>
<path class="c105" d="M2280 2142l18 2-14-22-18-1z"/>
<path class="c15" d="M2711 2348l18-15-14-11-18 14z"/>
<path class="c83" d="M2973 2192l18-19-14-5-18 20z"/>
<path class="c14" d="M2597 2350l18-8-13-16-18 8z"/>
<path class="c29" d="M2792 2316l18-19-14-8-18 19z"/>
<path class="c67" d="M2923 2230l18-21-14-4-18 21z"/>
<path class="c11" d="M2629 2358l18-10-14-15-18 9z"/>
<path class="c50" d="M2874 2268l18-21-14-5-18 21z"/>
<path class="c18" d="M2742 2342l18-16-13-9-18 16z"/>
<path class="c10" d="M2661 2361l18-11-14-14-18 12z"/>
<path class="c91" d="M3005 2176l18-19-14-4-18 20z"/>
<path class="c36" d="M2824 2303l18-20-14-6-18 20z"/>
<path class="c76" d="M2955 2213l18-21-14-4-18 21z"/>
<path class="c43" d="M2452 2288l18 0-13-22-18 0z"/>
<path class="c33" d="M2484 2309l18-1-14-21-18 1z"/>
<path class="c53" d="M2421 2265l18 1-14-22-18-1z"/>
<path class="c25" d="M2516 2328l18-3-14-19-18 2z"/>
<path class="c64" d="M2389 2240l18 3-14-23-18-2z"/>
<path class="c23" d="M2774 2334l18-18-14-8-18 18z"/>
<path class="c11" d="M2693 2361l18-13-14-12-18 14z"/>
<path class="c19" d="M2548 2344l18-4-14-19-18 4z"/>
<path class="c75" d="M2357 2215l18 3-14-23-18-3z"/>
<path class="c59" d="M2905 2251l18-21-14-4-17 21z"/>
<path class="c86" d="M2325 2189l18 3-13-23-18-2z"/>
<path class="c13" d="M2580 2357l17-7-13-16-18 6z"/>
<path class="c98" d="M2294 2164l18 3-14-23-18-2z"/>
<path class="c108" d="M2262 2139l18 3-14-21-18-2z"/>
<path class="c43" d="M2856 2288l18-20-14-5-18 20z"/>
<path class="c10" d="M2611 2366l18-8-14-16-18 8z"/>
<path class="c14" d="M2724 2357l18-15-13-9-18 15z"/>
<path class="c85" d="M2987 2195l18-19-14-3-18 19z"/>
<path class="c29" d="M2806 2322l18-19-14-6-18 19z"/>
<path class="c8" d="M2643 2371l18-10-14-13-18 10z"/>
<path class="c68" d="M2937 2233l18-20-14-4-18 21z"/>
<path class="c18" d="M2756 2350l18-16-14-8-18 16z"/>
<path class="c52" d="M2887 2272l18-21-13-4-18 21z"/>
<path class="c8" d="M2675 2373l18-12-14-11-18 11z"/>
<path class="c36" d="M2466 2309l18 0-14-21-18 0z"/>
<path class="c27" d="M2498 2329l18-1-14-20-18 1z"/>
<path class="c46" d="M2435 2287l17 1-13-22-18-1z"/>
<path class="c37" d="M2838 2308l18-20-14-5-18 20z"/>
<path class="c57" d="M2403 2262l18 3-14-22-18-3z"/>
<path class="c20" d="M2530 2347l18-3-14-19-18 3z"/>
<path class="c93" d="M3019 2179l18-18-14-4-18 19z"/>
<path class="c68" d="M2371 2237l18 3-14-22-18-3z"/>
<path class="c14" d="M2562 2361l18-4-14-17-18 4z"/>
<path class="c79" d="M2339 2211l18 4-14-23-18-3z"/>
<path class="c10" d="M2707 2371l17-14-13-9-18 13z"/>
<path class="c91" d="M2308 2185l17 4-13-22-18-3z"/>
<path class="c78" d="M2969 2215l18-20-14-3-18 21z"/>
<path class="c23" d="M2788 2340l18-18-14-6-18 18z"/>
<path class="c102" d="M2276 2160l18 4-14-22-18-3z"/>
<path class="c9" d="M2593 2372l18-6-14-16-17 7z"/>
<path class="c113" d="M2244 2136l18 3-14-20-18-3z"/>
<path class="c61" d="M2919 2254l18-21-14-3-18 21z"/>
<path class="c7" d="M2625 2380l18-9-14-13-18 8z"/>
<path class="c45" d="M2869 2292l18-20-13-4-18 20z"/>
<path class="c13" d="M2738 2365l18-15-14-8-18 15z"/>
<path class="c6" d="M2657 2383l18-10-14-12-18 10z"/>
<path class="c30" d="M2820 2327l18-19-14-5-18 19z"/>
<path class="c87" d="M3001 2197l18-18-14-3-18 19z"/>
<path class="c71" d="M2951 2235l18-20-14-2-18 20z"/>
<path class="c30" d="M2480 2329l18 0-14-20-18 0z"/>
<path class="c40" d="M2448 2307l18 2-14-21-17-1z"/>
<path class="c22" d="M2512 2348l18-1-14-19-18 1z"/>
<path class="c18" d="M2770 2357l18-17-14-6-18 16z"/>
<path class="c50" d="M2417 2284l18 3-14-22-18-3z"/>
<path class="c7" d="M2689 2383l18-12-14-10-18 12z"/>
<path class="c61" d="M2385 2259l18 3-14-22-18-3z"/>
<path class="c15" d="M2544 2364l18-3-14-17-18 3z"/>
<path class="c54" d="M2901 2274l18-20-14-3-18 21z"/>
<path class="c72" d="M2353 2233l18 4-14-22-18-4z"/>
<path class="c10" d="M2575 2377l18-5-13-15-18 4z"/>
<path class="c84" d="M2321 2206l18 5-14-22-17-4z"/>
<path class="c38" d="M2851 2311l18-19-13-4-18 20z"/>
<path class="c96" d="M2290 2181l18 4-14-21-18-4z"/>
<path class="c96" d="M3032 2180l18-17-13-2-18 18z"/>
<path class="c107" d="M2258 2156l18 4-14-21-18-3z"/>
<path class="c117" d="M2226 2132l18 4-14-20-18-3z"/>
<path class="c6" d="M2607 2386l18-6-14-14-18 6z"/>
<path class="c9" d="M2720 2379l18-14-14-8-17 14z"/>
<path class="c24" d="M2802 2345l18-18-14-5-18 18z"/>
<path class="c81" d="M2983 2216l18-19-14-2-18 20z"/>
<path class="c4" d="M2639 2392l18-9-14-12-18 9z"/>
<path class="c64" d="M2933 2255l18-20-14-2-18 21z"/>
<path class="c13" d="M2752 2372l18-15-14-7-18 15z"/>
<path class="c47" d="M2883 2294l18-20-14-2-18 20z"/>
<path class="c4" d="M2671 2394l18-11-14-10-18 10z"/>
<path class="c32" d="M2834 2330l17-19-13-3-18 19z"/>
<path class="c33" d="M2462 2327l18 2-14-20-18-2z"/>
<path class="c25" d="M2494 2348l18 0-14-19-18 0z"/>
<path class="c43" d="M2430 2304l18 3-13-20-18-3z"/>
<path class="c17" d="M2526 2365l18-1-14-17-18 1z"/>
<path class="c90" d="M3014 2198l18-18-13-1-18 18z"/>
<path class="c54" d="M2399 2280l18 4-14-22-18-3z"/>
<path class="c66" d="M2367 2254l18 5-14-22-18-4z"/>
<path class="c11" d="M2557 2380l18-3-13-16-18 3z"/>
<path class="c6" d="M2702 2392l18-13-13-8-18 12z"/>
<path class="c77" d="M2335 2228l18 5-14-22-18-5z"/>
<path class="c74" d="M2965 2236l18-20-14-1-18 20z"/>
<path class="c19" d="M2784 2361l18-16-14-5-18 17z"/>
<path class="c89" d="M2303 2201l18 5-13-21-18-4z"/>
<path class="c6" d="M2589 2391l18-5-14-14-18 5z"/>
<path class="c100" d="M2272 2175l18 6-14-21-18-4z"/>
<path class="c57" d="M2915 2275l18-20-14-1-18 20z"/>
<path class="c111" d="M2240 2151l18 5-14-20-18-4z"/>
<path class="c121" d="M2208 2128l18 4-14-19-18-3z"/>
<path class="c3" d="M2621 2399l18-7-14-12-18 6z"/>
<path class="c41" d="M2865 2313l18-19-14-2-18 19z"/>
<path class="c9" d="M2734 2386l18-14-14-7-18 14z"/>
<path class="c99" d="M3046 2181l18-17-14-1-18 17z"/>
<path class="c26" d="M2816 2348l18-18-14-3-18 18z"/>
<path class="c2" d="M2653 2403l18-9-14-11-18 9z"/>
<path class="c84" d="M2996 2216l18-18-13-1-18 19z"/>
<path class="c67" d="M2947 2255l18-19-14-1-18 20z"/>
<path class="c14" d="M2766 2377l18-16-14-4-18 15z"/>
<path class="c28" d="M2476 2346l18 2-14-19-18-2z"/>
<path class="c37" d="M2444 2324l18 3-14-20-18-3z"/>
<path class="c3" d="M2684 2403l18-11-13-9-18 11z"/>
<path class="c20" d="M2508 2365l18 0-14-17-18 0z"/>
<path class="c48" d="M2412 2300l18 4-13-20-18-4z"/>
<path class="c50" d="M2897 2295l18-20-14-1-18 20z"/>
<path class="c13" d="M2539 2382l18-2-13-16-18 1z"/>
<path class="c59" d="M2381 2275l18 5-14-21-18-5z"/>
<path class="c71" d="M2349 2249l18 5-14-21-18-5z"/>
<path class="c7" d="M2571 2395l18-4-14-14-18 3z"/>
<path class="c35" d="M2847 2332l18-19-14-2-17 19z"/>
<path class="c83" d="M2317 2222l18 6-14-22-18-5z"/>
<path class="c93" d="M3028 2198l18-17-14-1-18 18z"/>
<path class="c94" d="M2285 2195l18 6-13-20-18-6z"/>
<path class="c6" d="M2716 2399l18-13-14-7-18 13z"/>
<path class="c3" d="M2603 2404l18-5-14-13-18 5z"/>
<path class="c106" d="M2254 2170l18 5-14-19-18-5z"/>
<path class="c116" d="M2222 2146l18 5-14-19-18-4z"/>
<path class="c126" d="M2190 2124l18 4-14-18-18-3z"/>
<path class="c21" d="M2798 2365l18-17-14-3-18 16z"/>
<path class="c77" d="M2979 2235l17-19-13 0-18 20z"/>
<path class="c2" d="M2635 2410l18-7-14-11-18 7z"/>
<path class="c60" d="M2929 2275l18-20-14 0-18 20z"/>
<path class="c10" d="M2748 2391l18-14-14-5-18 14z"/>
<path class="c44" d="M2879 2314l18-19-14-1-18 19z"/>
<path class="c102" d="M3060 2181l18-16-14-1-18 17z"/>
<path class="c1" d="M2666 2412l18-9-13-9-18 9z"/>
<path class="c29" d="M2829 2350l18-18-13-2-18 18z"/>
<path class="c32" d="M2458 2343l18 3-14-19-18-3z"/>
<path class="c23" d="M2490 2364l18 1-14-17-18-2z"/>
<path class="c42" d="M2426 2320l18 4-14-20-18-4z"/>
<path class="c87" d="M3010 2216l18-18-14 0-18 18z"/>
<path class="c15" d="M2522 2382l17 0-13-17-18 0z"/>
<path class="c53" d="M2394 2295l18 5-13-20-18-5z"/>
<path class="c9" d="M2553 2397l18-2-14-15-18 2z"/>
<path class="c65" d="M2363 2269l18 6-14-21-18-5z"/>
<path class="c3" d="M2698 2410l18-11-14-7-18 11z"/>
<path class="c16" d="M2780 2381l18-16-14-4-18 16z"/>
<path class="c71" d="M2961 2255l18-20-14 1-18 19z"/>
<path class="c76" d="M2331 2242l18 7-14-21-18-6z"/>
<path class="c4" d="M2585 2408l18-4-14-13-18 4z"/>
<path class="c88" d="M2299 2215l18 7-14-21-18-6z"/>
<path class="c54" d="M2911 2294l18-19-14 0-18 20z"/>
<path class="c100" d="M2267 2189l18 6-13-20-18-5z"/>
<path class="c111" d="M2236 2164l18 6-14-19-18-5z"/>
<path class="c121" d="M2204 2141l18 5-14-18-18-4z"/>
<path class="c131" d="M2172 2119l18 5-14-17-18-3z"/>
<path class="c1" d="M2617 2416l18-6-14-11-18 5z"/>
<path class="c38" d="M2861 2333l18-19-14-1-18 19z"/>
<path class="c6" d="M2730 2404l18-13-14-5-18 13z"/>
<path class="c97" d="M3042 2197l18-16-14 0-18 17z"/>
<path class="c23" d="M2811 2367l18-17-13-2-18 17z"/>
<path class="c0" d="M2649 2420l17-8-13-9-18 7z"/>
<path class="c81" d="M2992 2234l18-18-14 0-17 19z"/>
<path class="c64" d="M2943 2274l18-19-14 0-18 20z"/>
<path class="c12" d="M2762 2395l18-14-14-4-18 14z"/>
<path class="c1" d="M2680 2420l18-10-14-7-18 9z"/>
<path class="c27" d="M2472 2361l18 3-14-18-18-3z"/>
<path class="c47" d="M2893 2314l18-20-14 1-18 19z"/>
<path class="c37" d="M2440 2339l18 4-14-19-18-4z"/>
<path class="c18" d="M2504 2380l18 2-14-17-18-1z"/>
<path class="c47" d="M2408 2314l18 6-14-20-18-5z"/>
<path class="c106" d="M3074 2180l18-15-14 0-18 16z"/>
<path class="c11" d="M2535 2397l18 0-14-15-17 0z"/>
<path class="c58" d="M2377 2289l17 6-13-20-18-6z"/>
<path class="c32" d="M2843 2351l18-18-14-1-18 18z"/>
<path class="c70" d="M2345 2262l18 7-14-20-18-7z"/>
<path class="c6" d="M2567 2410l18-2-14-13-18 2z"/>
<path class="c82" d="M2313 2235l18 7-14-20-18-7z"/>
<path class="c91" d="M3024 2215l18-18-14 1-18 18z"/>
<path class="c4" d="M2712 2416l18-12-14-5-18 11z"/>
<path class="c94" d="M2281 2208l18 7-14-20-18-6z"/>
<path class="c2" d="M2599 2420l18-4-14-12-18 4z"/>
<path class="c18" d="M2794 2383l17-16-13-2-18 16z"/>
<path class="c106" d="M2250 2182l17 7-13-19-18-6z"/>
<path class="c75" d="M2974 2253l18-19-13 1-18 20z"/>
<path class="c116" d="M2218 2158l18 6-14-18-18-5z"/>
<path class="c136" d="M2154 2114l18 5-14-15-18-4z"/>
<path class="c126" d="M2186 2135l18 6-14-17-18-5z"/>
<path class="c0" d="M2631 2425l18-5-14-10-18 6z"/>
<path class="c58" d="M2925 2293l18-19-14 1-18 19z"/>
<path class="c41" d="M2875 2332l18-18-14 0-18 19z"/>
<path class="c8" d="M2744 2408l18-13-14-4-18 13z"/>
<path class="c0" d="M2662 2427l18-7-14-8-17 8z"/>
<path class="c101" d="M3056 2196l18-16-14 1-18 16z"/>
<path class="c26" d="M2825 2368l18-17-14-1-18 17z"/>
<path class="c85" d="M3006 2232l18-17-14 1-18 18z"/>
<path class="c31" d="M2454 2356l18 5-14-18-18-4z"/>
<path class="c22" d="M2486 2377l18 3-14-16-18-3z"/>
<path class="c42" d="M2422 2333l18 6-14-19-18-6z"/>
<path class="c15" d="M2517 2395l18 2-13-15-18-2z"/>
<path class="c53" d="M2390 2308l18 6-14-19-17-6z"/>
<path class="c2" d="M2694 2426l18-10-14-6-18 10z"/>
<path class="c8" d="M2549 2410l18 0-14-13-18 0z"/>
<path class="c68" d="M2956 2272l18-19-13 2-18 19z"/>
<path class="c14" d="M2776 2398l18-15-14-2-18 14z"/>
<path class="c64" d="M2359 2282l18 7-14-20-18-7z"/>
<path class="c76" d="M2327 2255l18 7-14-20-18-7z"/>
<path class="c51" d="M2907 2312l18-19-14 1-18 20z"/>
<path class="c4" d="M2581 2422l18-2-14-12-18 2z"/>
<path class="c88" d="M2295 2228l18 7-14-20-18-7z"/>
<path class="c110" d="M3088 2179l18-15-14 1-18 15z"/>
<path class="c100" d="M2263 2201l18 7-14-19-17-7z"/>
<path class="c35" d="M2857 2350l18-18-14 1-18 18z"/>
<path class="c1" d="M2613 2430l18-5-14-9-18 4z"/>
<path class="c111" d="M2232 2175l18 7-14-18-18-6z"/>
<path class="c140" d="M2136 2109l18 5-14-14-18-4z"/>
<path class="c122" d="M2200 2151l18 7-14-17-18-6z"/>
<path class="c5" d="M2726 2420l18-12-14-4-18 12z"/>
<path class="c132" d="M2168 2129l18 6-14-16-18-5z"/>
<path class="c96" d="M3038 2213l18-17-14 1-18 18z"/>
<path class="c21" d="M2807 2384l18-16-14-1-17 16z"/>
<path class="c0" d="M2644 2434l18-7-13-7-18 5z"/>
<path class="c79" d="M2988 2251l18-19-14 2-18 19z"/>
<path class="c62" d="M2938 2291l18-19-13 2-18 19z"/>
<path class="c10" d="M2758 2411l18-13-14-3-18 13z"/>
<path class="c45" d="M2889 2331l18-19-14 2-18 18z"/>
<path class="c0" d="M2676 2434l18-8-14-6-18 7z"/>
<path class="c27" d="M2468 2373l18 4-14-16-18-5z"/>
<path class="c37" d="M2436 2351l18 5-14-17-18-6z"/>
<path class="c18" d="M2499 2393l18 2-13-15-18-3z"/>
<path class="c47" d="M2404 2326l18 7-14-19-18-6z"/>
<path class="c105" d="M3070 2194l18-15-14 1-18 16z"/>
<path class="c11" d="M2531 2409l18 1-14-13-18-2z"/>
<path class="c30" d="M2839 2367l18-17-14 1-18 17z"/>
<path class="c59" d="M2372 2301l18 7-13-19-18-7z"/>
<path class="c6" d="M2563 2423l18-1-14-12-18 0z"/>
<path class="c71" d="M2341 2274l18 8-14-20-18-7z"/>
<path class="c90" d="M3020 2230l18-17-14 2-18 17z"/>
<path class="c83" d="M2309 2247l18 8-14-20-18-7z"/>
<path class="c3" d="M2708 2430l18-10-14-4-18 10z"/>
<path class="c2" d="M2595 2432l18-2-14-10-18 2z"/>
<path class="c17" d="M2789 2399l18-15-13-1-18 15z"/>
<path class="c95" d="M2277 2219l18 9-14-20-18-7z"/>
<path class="c73" d="M2970 2269l18-18-14 2-18 19z"/>
<path class="c106" d="M2245 2193l18 8-13-19-18-7z"/>
<path class="c117" d="M2214 2168l18 7-14-17-18-7z"/>
<path class="c145" d="M2118 2104l18 5-14-13-17-5z"/>
<path class="c56" d="M2921 2310l17-19-13 2-18 19z"/>
<path class="c128" d="M2182 2145l18 6-14-16-18-6z"/>
<path class="c137" d="M2150 2123l18 6-14-15-18-5z"/>
<path class="c0" d="M2626 2438l18-4-13-9-18 5z"/>
<path class="c114" d="M3101 2177l18-14-13 1-18 15z"/>
<path class="c39" d="M2871 2348l18-17-14 1-18 18z"/>
<path class="c7" d="M2740 2423l18-12-14-3-18 12z"/>
<path class="c0" d="M2658 2441l18-7-14-7-18 7z"/>
<path class="c100" d="M3052 2210l18-16-14 2-18 17z"/>
<path class="c25" d="M2821 2383l18-16-14 1-18 16z"/>
<path class="c84" d="M3002 2248l18-18-14 2-18 19z"/>
<path class="c32" d="M2450 2367l18 6-14-17-18-5z"/>
<path class="c23" d="M2481 2388l18 5-13-16-18-4z"/>
<path class="c42" d="M2418 2344l18 7-14-18-18-7z"/>
<path class="c15" d="M2513 2407l18 2-14-14-18-2z"/>
<path class="c67" d="M2952 2288l18-19-14 3-18 19z"/>
<path class="c13" d="M2771 2412l18-13-13-1-18 13z"/>
<path class="c54" d="M2386 2319l18 7-14-18-18-7z"/>
<path class="c1" d="M2690 2439l18-9-14-4-18 8z"/>
<path class="c9" d="M2545 2422l18 1-14-13-18-1z"/>
<path class="c65" d="M2354 2292l18 9-13-19-18-8z"/>
<path class="c50" d="M2903 2328l18-18-14 2-18 19z"/>
<path class="c77" d="M2323 2265l18 9-14-19-18-8z"/>
<path class="c4" d="M2577 2433l18-1-14-10-18 1z"/>
<path class="c110" d="M3083 2191l18-14-13 2-18 15z"/>
<path class="c89" d="M2291 2238l18 9-14-19-18-9z"/>
<path class="c34" d="M2853 2366l18-18-14 2-18 17z"/>
<path class="c101" d="M2259 2211l18 8-14-18-18-8z"/>
<path class="c1" d="M2608 2441l18-3-13-8-18 2z"/>
<path class="c5" d="M2722 2433l18-10-14-3-18 10z"/>
<path class="c113" d="M2227 2185l18 8-13-18-18-7z"/>
<path class="c151" d="M2100 2098l18 6-13-13-18-4z"/>
<path class="c95" d="M3034 2227l18-17-14 3-18 17z"/>
<path class="c124" d="M2196 2160l18 8-14-17-18-6z"/>
<path class="c143" d="M2132 2117l18 6-14-14-18-5z"/>
<path class="c134" d="M2164 2138l18 7-14-16-18-6z"/>
<path class="c20" d="M2803 2398l18-15-14 1-18 15z"/>
<path class="c78" d="M2984 2266l18-18-14 3-18 18z"/>
<path class="c0" d="M2640 2446l18-5-14-7-18 4z"/>
<path class="c61" d="M2934 2306l18-18-14 3-17 19z"/>
<path class="c118" d="M3115 2175l18-13-14 1-18 14z"/>
<path class="c10" d="M2753 2424l18-12-13-1-18 12z"/>
<path class="c44" d="M2885 2346l18-18-14 3-18 17z"/>
<path class="c0" d="M2672 2446l18-7-14-5-18 7z"/>
<path class="c28" d="M2464 2383l17 5-13-15-18-6z"/>
<path class="c38" d="M2432 2360l18 7-14-16-18-7z"/>
<path class="c20" d="M2495 2402l18 5-14-14-18-5z"/>
<path class="c105" d="M3065 2207l18-16-13 3-18 16z"/>
<path class="c29" d="M2835 2382l18-16-14 1-18 16z"/>
<path class="c49" d="M2400 2336l18 8-14-18-18-7z"/>
<path class="c12" d="M2527 2419l18 3-14-13-18-2z"/>
<path class="c60" d="M2368 2310l18 9-14-18-18-9z"/>
<path class="c7" d="M2559 2433l18 0-14-10-18-1z"/>
<path class="c89" d="M3016 2244l18-17-14 3-18 18z"/>
<path class="c72" d="M2336 2283l18 9-13-18-18-9z"/>
<path class="c3" d="M2704 2442l18-9-14-3-18 9z"/>
<path class="c84" d="M2305 2256l18 9-14-18-18-9z"/>
<path class="c16" d="M2785 2412l18-14-14 1-18 13z"/>
<path class="c72" d="M2966 2284l18-18-14 3-18 19z"/>
<path class="c3" d="M2591 2443l17-2-13-9-18 1z"/>
<path class="c96" d="M2273 2229l18 9-14-19-18-8z"/>
<path class="c55" d="M2916 2325l18-19-13 4-18 18z"/>
<path class="c108" d="M2241 2202l18 9-14-18-18-8z"/>
<path class="c156" d="M2082 2092l18 6-13-11-18-5z"/>
<path class="c119" d="M2209 2177l18 8-13-17-18-8z"/>
<path class="c148" d="M2114 2110l18 7-14-13-18-6z"/>
<path class="c1" d="M2622 2449l18-3-14-8-18 3z"/>
<path class="c130" d="M2178 2153l18 7-14-15-18-7z"/>
<path class="c140" d="M2146 2131l18 7-14-15-18-6z"/>
<path class="c114" d="M3097 2189l18-14-14 2-18 14z"/>
<path class="c38" d="M2867 2363l18-17-14 2-18 18z"/>
<path class="c7" d="M2736 2435l17-11-13-1-18 10z"/>
<path class="c100" d="M3048 2223l17-16-13 3-18 17z"/>
<path class="c24" d="M2817 2397l18-15-14 1-18 15z"/>
<path class="c1" d="M2654 2451l18-5-14-5-18 5z"/>
<path class="c83" d="M2998 2262l18-18-14 4-18 18z"/>
<path class="c66" d="M2948 2302l18-18-14 4-18 18z"/>
<path class="c25" d="M2477 2397l18 5-14-14-17-5z"/>
<path class="c34" d="M2446 2376l18 7-14-16-18-7z"/>
<path class="c123" d="M3129 2172l18-12-14 2-18 13z"/>
<path class="c44" d="M2414 2353l18 7-14-16-18-8z"/>
<path class="c13" d="M2767 2424l18-12-14 0-18 12z"/>
<path class="c17" d="M2509 2415l18 4-14-12-18-5z"/>
<path class="c2" d="M2686 2450l18-8-14-3-18 7z"/>
<path class="c55" d="M2382 2327l18 9-14-17-18-9z"/>
<path class="c10" d="M2541 2431l18 2-14-11-18-3z"/>
<path class="c49" d="M2898 2342l18-17-13 3-18 18z"/>
<path class="c67" d="M2350 2301l18 9-14-18-18-9z"/>
<path class="c6" d="M2573 2442l18 1-14-10-18 0z"/>
<path class="c79" d="M2319 2274l17 9-13-18-18-9z"/>
<path class="c110" d="M3079 2204l18-15-14 2-18 16z"/>
<path class="c33" d="M2849 2379l18-16-14 3-18 16z"/>
<path class="c91" d="M2287 2246l18 10-14-18-18-9z"/>
<path class="c103" d="M2255 2219l18 10-14-18-18-9z"/>
<path class="c3" d="M2604 2450l18-1-14-8-17 2z"/>
<path class="c5" d="M2718 2444l18-9-14-2-18 9z"/>
<path class="c94" d="M3030 2240l18-17-14 4-18 17z"/>
<path class="c115" d="M2223 2193l18 9-14-17-18-8z"/>
<path class="c162" d="M2065 2086l17 6-13-10-18-6z"/>
<path class="c20" d="M2799 2411l18-14-14 1-18 14z"/>
<path class="c126" d="M2192 2168l17 9-13-17-18-7z"/>
<path class="c154" d="M2096 2104l18 6-14-12-18-6z"/>
<path class="c136" d="M2160 2145l18 8-14-15-18-7z"/>
<path class="c146" d="M2128 2123l18 8-14-14-18-7z"/>
<path class="c77" d="M2980 2280l18-18-14 4-18 18z"/>
<path class="c1" d="M2636 2455l18-4-14-5-18 3z"/>
<path class="c60" d="M2930 2320l18-18-14 4-18 19z"/>
<path class="c119" d="M3111 2186l18-14-14 3-18 14z"/>
<path class="c10" d="M2749 2435l18-11-14 0-17 11z"/>
<path class="c43" d="M2880 2359l18-17-13 4-18 17z"/>
<path class="c2" d="M2668 2455l18-5-14-4-18 5z"/>
<path class="c105" d="M3061 2220l18-16-14 3-17 16z"/>
<path class="c29" d="M2831 2394l18-15-14 3-18 15z"/>
<path class="c30" d="M2459 2390l18 7-13-14-18-7z"/>
<path class="c40" d="M2428 2368l18 8-14-16-18-7z"/>
<path class="c22" d="M2491 2410l18 5-14-13-18-5z"/>
<path class="c51" d="M2396 2344l18 9-14-17-18-9z"/>
<path class="c15" d="M2523 2427l18 4-14-12-18-4z"/>
<path class="c62" d="M2364 2318l18 9-14-17-18-9z"/>
<path class="c89" d="M3012 2258l18-18-14 4-18 18z"/>
<path class="c9" d="M2555 2440l18 2-14-9-18-2z"/>
<path class="c74" d="M2332 2291l18 10-14-18-17-9z"/>
<path class="c4" d="M2700 2452l18-8-14-2-18 8z"/>
<path class="c17" d="M2781 2423l18-12-14 1-18 12z"/>
<path class="c71" d="M2962 2298l18-18-14 4-18 18z"/>
<path class="c127" d="M3143 2170l18-12-14 2-18 12z"/>
<path class="c86" d="M2301 2264l18 10-14-18-18-10z"/>
<path class="c5" d="M2586 2450l18 0-13-7-18-1z"/>
<path class="c54" d="M2912 2338l18-18-14 5-18 17z"/>
<path class="c99" d="M2269 2236l18 10-14-17-18-10z"/>
<path class="c110" d="M2237 2209l18 10-14-17-18-9z"/>
<path class="c168" d="M2047 2079l18 7-14-10-18-7z"/>
<path class="c122" d="M2205 2184l18 9-14-16-17-9z"/>
<path class="c115" d="M3093 2200l18-14-14 3-18 15z"/>
<path class="c38" d="M2863 2375l17-16-13 4-18 16z"/>
<path class="c3" d="M2618 2457l18-2-14-6-18 1z"/>
<path class="c160" d="M2078 2096l18 8-14-12-17-6z"/>
<path class="c133" d="M2174 2159l18 9-14-15-18-8z"/>
<path class="c152" d="M2110 2116l18 7-14-13-18-6z"/>
<path class="c143" d="M2142 2137l18 8-14-14-18-8z"/>
<path class="c8" d="M2731 2445l18-10-13 0-18 9z"/>
<path class="c100" d="M3043 2236l18-16-13 3-18 17z"/>
<path class="c25" d="M2813 2408l18-14-14 3-18 14z"/>
<path class="c3" d="M2650 2459l18-4-14-4-18 4z"/>
<path class="c83" d="M2994 2275l18-17-14 4-18 18z"/>
<path class="c66" d="M2944 2315l18-17-14 4-18 18z"/>
<path class="c14" d="M2763 2434l18-11-14 1-18 11z"/>
<path class="c124" d="M3125 2183l18-13-14 2-18 14z"/>
<path class="c28" d="M2473 2403l18 7-14-13-18-7z"/>
<path class="c37" d="M2441 2382l18 8-13-14-18-8z"/>
<path class="c47" d="M2410 2359l18 9-14-15-18-9z"/>
<path class="c20" d="M2505 2422l18 5-14-12-18-5z"/>
<path class="c4" d="M2682 2458l18-6-14-2-18 5z"/>
<path class="c49" d="M2894 2355l18-17-14 4-18 17z"/>
<path class="c58" d="M2378 2334l18 10-14-17-18-9z"/>
<path class="c13" d="M2537 2437l18 3-14-9-18-4z"/>
<path class="c70" d="M2346 2308l18 10-14-17-18-10z"/>
<path class="c34" d="M2845 2390l18-15-14 4-18 15z"/>
<path class="c110" d="M3075 2215l18-15-14 4-18 16z"/>
<path class="c8" d="M2568 2449l18 1-13-8-18-2z"/>
<path class="c82" d="M2314 2280l18 11-13-17-18-10z"/>
<path class="c94" d="M2283 2253l18 11-14-18-18-10z"/>
<path class="c94" d="M3025 2253l18-17-13 4-18 18z"/>
<path class="c7" d="M2713 2453l18-8-13-1-18 8z"/>
<path class="c106" d="M2251 2226l18 10-14-17-18-10z"/>
<path class="c5" d="M2600 2457l18 0-14-7-18 0z"/>
<path class="c21" d="M2795 2421l18-13-14 3-18 12z"/>
<path class="c132" d="M3157 2167l18-11-14 2-18 12z"/>
<path class="c118" d="M2219 2199l18 10-14-16-18-9z"/>
<path class="c174" d="M2029 2071l18 8-14-10-18-7z"/>
<path class="c77" d="M2976 2293l18-18-14 5-18 18z"/>
<path class="c166" d="M2060 2089l18 7-13-10-18-7z"/>
<path class="c129" d="M2187 2174l18 10-13-16-18-9z"/>
<path class="c158" d="M2092 2108l18 8-14-12-18-8z"/>
<path class="c139" d="M2156 2150l18 9-14-14-18-8z"/>
<path class="c149" d="M2124 2128l18 9-14-14-18-7z"/>
<path class="c60" d="M2926 2333l18-18-14 5-18 18z"/>
<path class="c4" d="M2632 2462l18-3-14-4-18 2z"/>
<path class="c120" d="M3107 2197l18-14-14 3-18 14z"/>
<path class="c44" d="M2876 2371l18-16-14 4-17 16z"/>
<path class="c12" d="M2745 2444l18-10-14 1-18 10z"/>
<path class="c4" d="M2664 2462l18-4-14-3-18 4z"/>
<path class="c105" d="M3057 2231l18-16-14 5-18 16z"/>
<path class="c30" d="M2827 2404l18-14-14 4-18 14z"/>
<path class="c34" d="M2455 2396l18 7-14-13-18-8z"/>
<path class="c43" d="M2423 2374l18 8-13-14-18-9z"/>
<path class="c25" d="M2487 2415l18 7-14-12-18-7z"/>
<path class="c89" d="M3007 2270l18-17-13 5-18 17z"/>
<path class="c54" d="M2392 2349l18 10-14-15-18-10z"/>
<path class="c18" d="M2519 2432l18 5-14-10-18-5z"/>
<path class="c66" d="M2360 2324l18 10-14-16-18-10z"/>
<path class="c72" d="M2958 2310l18-17-14 5-18 17z"/>
<path class="c12" d="M2550 2446l18 3-13-9-18-3z"/>
<path class="c18" d="M2777 2432l18-11-14 2-18 11z"/>
<path class="c7" d="M2695 2459l18-6-13-1-18 6z"/>
<path class="c77" d="M2328 2297l18 11-14-17-18-11z"/>
<path class="c129" d="M3139 2179l18-12-14 3-18 13z"/>
<path class="c90" d="M2296 2269l18 11-13-16-18-11z"/>
<path class="c55" d="M2908 2349l18-16-14 5-18 17z"/>
<path class="c8" d="M2582 2456l18 1-14-7-18-1z"/>
<path class="c102" d="M2265 2242l18 11-14-17-18-10z"/>
<path class="c114" d="M2233 2215l18 11-14-17-18-10z"/>
<path class="c115" d="M3089 2211l18-14-14 3-18 15z"/>
<path class="c39" d="M2858 2386l18-15-13 4-18 15z"/>
<path class="c125" d="M2201 2189l18 10-14-15-18-10z"/>
<path class="c6" d="M2614 2462l18 0-14-5-18 0z"/>
<path class="c173" d="M2042 2080l18 9-13-10-18-8z"/>
<path class="c136" d="M2169 2165l18 9-13-15-18-9z"/>
<path class="c11" d="M2727 2452l18-8-14 1-18 8z"/>
<path class="c164" d="M2074 2099l18 9-14-12-18-7z"/>
<path class="c146" d="M2138 2141l18 9-14-13-18-9z"/>
<path class="c156" d="M2106 2120l18 8-14-12-18-8z"/>
<path class="c100" d="M3039 2248l18-17-14 5-18 17z"/>
<path class="c26" d="M2809 2417l18-13-14 4-18 13z"/>
<path class="c136" d="M3170 2164l18-11-13 3-18 11z"/>
<path class="c83" d="M2990 2287l17-17-13 5-18 18z"/>
<path class="c6" d="M2646 2465l18-3-14-3-18 3z"/>
<path class="c66" d="M2940 2327l18-17-14 5-18 18z"/>
<path class="c125" d="M3121 2193l18-14-14 4-18 14z"/>
<path class="c16" d="M2759 2442l18-10-14 2-18 10z"/>
<path class="c50" d="M2890 2365l18-16-14 6-18 16z"/>
<path class="c41" d="M2437 2387l18 9-14-14-18-8z"/>
<path class="c31" d="M2469 2408l18 7-14-12-18-7z"/>
<path class="c7" d="M2678 2464l17-5-13-1-18 4z"/>
<path class="c51" d="M2406 2364l17 10-13-15-18-10z"/>
<path class="c24" d="M2501 2426l18 6-14-10-18-7z"/>
<path class="c62" d="M2374 2339l18 10-14-15-18-10z"/>
<path class="c17" d="M2533 2441l17 5-13-9-18-5z"/>
<path class="c111" d="M3071 2227l18-16-14 4-18 16z"/>
<path class="c35" d="M2840 2400l18-14-13 4-18 14z"/>
<path class="c73" d="M2342 2312l18 12-14-16-18-11z"/>
<path class="c85" d="M2310 2285l18 12-14-17-18-11z"/>
<path class="c12" d="M2564 2453l18 3-14-7-18-3z"/>
<path class="c95" d="M3021 2264l18-16-14 5-18 17z"/>
<path class="c97" d="M2278 2258l18 11-13-16-18-11z"/>
<path class="c10" d="M2709 2459l18-7-14 1-18 6z"/>
<path class="c23" d="M2791 2429l18-12-14 4-18 11z"/>
<path class="c110" d="M2247 2231l18 11-14-16-18-11z"/>
<path class="c9" d="M2596 2461l18 1-14-5-18-1z"/>
<path class="c78" d="M2972 2304l18-17-14 6-18 17z"/>
<path class="c133" d="M3152 2176l18-12-13 3-18 12z"/>
<path class="c121" d="M2215 2204l18 11-14-16-18-10z"/>
<path class="c132" d="M2183 2179l18 10-14-15-18-9z"/>
<path class="c61" d="M2922 2343l18-16-14 6-18 16z"/>
<path class="c143" d="M2151 2155l18 10-13-15-18-9z"/>
<path class="c171" d="M2056 2090l18 9-14-10-18-9z"/>
<path class="c162" d="M2088 2111l18 9-14-12-18-9z"/>
<path class="c153" d="M2120 2132l18 9-14-13-18-8z"/>
<path class="c8" d="M2628 2466l18-1-14-3-18 0z"/>
<path class="c121" d="M3103 2207l18-14-14 4-18 14z"/>
<path class="c45" d="M2872 2380l18-15-14 6-18 15z"/>
<path class="c15" d="M2741 2451l18-9-14 2-18 8z"/>
<path class="c106" d="M3053 2242l18-15-14 4-18 17z"/>
<path class="c141" d="M3184 2161l18-10-14 2-18 11z"/>
<path class="c32" d="M2822 2413l18-13-13 4-18 13z"/>
<path class="c8" d="M2660 2467l18-3-14-2-18 3z"/>
<path class="c89" d="M3003 2281l18-17-14 6-17 17z"/>
<path class="c38" d="M2451 2399l18 9-14-12-18-9z"/>
<path class="c48" d="M2419 2377l18 10-14-13-17-10z"/>
<path class="c30" d="M2483 2419l18 7-14-11-18-7z"/>
<path class="c58" d="M2388 2353l18 11-14-15-18-10z"/>
<path class="c72" d="M2954 2320l18-16-14 6-18 17z"/>
<path class="c23" d="M2515 2435l18 6-14-9-18-6z"/>
<path class="c70" d="M2356 2327l18 12-14-15-18-12z"/>
<path class="c130" d="M3135 2189l17-13-13 3-18 14z"/>
<path class="c21" d="M2773 2439l18-10-14 3-18 10z"/>
<path class="c10" d="M2691 2464l18-5-14 0-17 5z"/>
<path class="c17" d="M2546 2449l18 4-14-7-17-5z"/>
<path class="c81" d="M2324 2301l18 11-14-15-18-12z"/>
<path class="c56" d="M2904 2359l18-16-14 6-18 16z"/>
<path class="c93" d="M2292 2274l18 11-14-16-18-11z"/>
<path class="c13" d="M2578 2459l18 2-14-5-18-3z"/>
<path class="c106" d="M2261 2246l17 12-13-16-18-11z"/>
<path class="c116" d="M3085 2222l18-15-14 4-18 16z"/>
<path class="c41" d="M2854 2394l18-14-14 6-18 14z"/>
<path class="c117" d="M2229 2220l18 11-14-16-18-11z"/>
<path class="c129" d="M2197 2194l18 10-14-15-18-10z"/>
<path class="c11" d="M2610 2465l18 1-14-4-18-1z"/>
<path class="c101" d="M3035 2258l18-16-14 6-18 16z"/>
<path class="c14" d="M2723 2457l18-6-14 1-18 7z"/>
<path class="c140" d="M2165 2169l18 10-14-14-18-10z"/>
<path class="c150" d="M2134 2145l17 10-13-14-18-9z"/>
<path class="c170" d="M2070 2101l18 10-14-12-18-9z"/>
<path class="c160" d="M2102 2122l18 10-14-12-18-9z"/>
<path class="c29" d="M2805 2424l17-11-13 4-18 12z"/>
<path class="c138" d="M3166 2173l18-12-14 3-18 12z"/>
<path class="c84" d="M2985 2297l18-16-13 6-18 17z"/>
<path class="c10" d="M2642 2468l18-1-14-2-18 1z"/>
<path class="c67" d="M2936 2337l18-17-14 7-18 16z"/>
<path class="c126" d="M3117 2202l18-13-14 4-18 14z"/>
<path class="c51" d="M2886 2374l18-15-14 6-18 15z"/>
<path class="c20" d="M2755 2448l18-9-14 3-18 9z"/>
<path class="c11" d="M2673 2467l18-3-13 0-18 3z"/>
<path class="c45" d="M2433 2389l18 10-14-12-18-10z"/>
<path class="c36" d="M2465 2410l18 9-14-11-18-9z"/>
<path class="c55" d="M2401 2366l18 11-13-13-18-11z"/>
<path class="c112" d="M3067 2237l18-15-14 5-18 15z"/>
<path class="c28" d="M2497 2428l18 7-14-9-18-7z"/>
<path class="c146" d="M3198 2158l18-10-14 3-18 10z"/>
<path class="c38" d="M2836 2407l18-13-14 6-18 13z"/>
<path class="c66" d="M2370 2341l18 12-14-14-18-12z"/>
<path class="c22" d="M2528 2443l18 6-13-8-18-6z"/>
<path class="c78" d="M2338 2315l18 12-14-15-18-11z"/>
<path class="c96" d="M3017 2275l18-17-14 6-18 17z"/>
<path class="c90" d="M2306 2289l18 12-14-16-18-11z"/>
<path class="c17" d="M2560 2455l18 4-14-6-18-4z"/>
<path class="c102" d="M2274 2262l18 12-14-16-17-12z"/>
<path class="c79" d="M2967 2314l18-17-13 7-18 16z"/>
<path class="c14" d="M2705 2463l18-6-14 2-18 5z"/>
<path class="c135" d="M3148 2185l18-12-14 3-17 13z"/>
<path class="c26" d="M2787 2435l18-11-14 5-18 10z"/>
<path class="c114" d="M2243 2235l18 11-14-15-18-11z"/>
<path class="c14" d="M2592 2463l18 2-14-4-18-2z"/>
<path class="c63" d="M2918 2352l18-15-14 6-18 16z"/>
<path class="c125" d="M2211 2208l18 12-14-16-18-10z"/>
<path class="c137" d="M2179 2182l18 12-14-15-18-10z"/>
<path class="c148" d="M2147 2158l18 11-14-14-17-10z"/>
<path class="c122" d="M3099 2217l18-15-14 5-18 15z"/>
<path class="c158" d="M2116 2135l18 10-14-13-18-10z"/>
<path class="c168" d="M2084 2112l18 10-14-11-18-10z"/>
<path class="c47" d="M2868 2388l18-14-14 6-18 14z"/>
<path class="c13" d="M2624 2468l18 0-14-2-18-1z"/>
<path class="c19" d="M2737 2455l18-7-14 3-18 6z"/>
<path class="c107" d="M3049 2252l18-15-14 5-18 16z"/>
<path class="c143" d="M3180 2169l18-11-14 3-18 12z"/>
<path class="c35" d="M2818 2419l18-12-14 6-17 11z"/>
<path class="c13" d="M2655 2469l18-2-13 0-18 1z"/>
<path class="c91" d="M2999 2291l18-16-14 6-18 16z"/>
<path class="c74" d="M2950 2330l17-16-13 6-18 17z"/>
<path class="c43" d="M2447 2400l18 10-14-11-18-10z"/>
<path class="c53" d="M2415 2378l18 11-14-12-18-11z"/>
<path class="c35" d="M2479 2420l18 8-14-9-18-9z"/>
<path class="c132" d="M3130 2198l18-13-13 4-18 13z"/>
<path class="c63" d="M2383 2355l18 11-13-13-18-12z"/>
<path class="c28" d="M2510 2436l18 7-13-8-18-7z"/>
<path class="c25" d="M2769 2444l18-9-14 4-18 9z"/>
<path class="c75" d="M2352 2329l18 12-14-14-18-12z"/>
<path class="c58" d="M2900 2367l18-15-14 7-18 15z"/>
<path class="c15" d="M2687 2467l18-4-14 1-18 3z"/>
<path class="c22" d="M2542 2450l18 5-14-6-18-6z"/>
<path class="c86" d="M2320 2303l18 12-14-14-18-12z"/>
<path class="c151" d="M3212 2155l18-10-14 3-18 10z"/>
<path class="c118" d="M3081 2231l18-14-14 5-18 15z"/>
<path class="c98" d="M2288 2276l18 13-14-15-18-12z"/>
<path class="c44" d="M2850 2401l18-13-14 6-18 13z"/>
<path class="c18" d="M2574 2460l18 3-14-4-18-4z"/>
<path class="c110" d="M2256 2249l18 13-13-16-18-11z"/>
<path class="c122" d="M2225 2222l18 13-14-15-18-12z"/>
<path class="c102" d="M3031 2268l18-16-14 6-18 17z"/>
<path class="c133" d="M2193 2196l18 12-14-14-18-12z"/>
<path class="c16" d="M2606 2466l18 2-14-3-18-2z"/>
<path class="c19" d="M2719 2460l18-5-14 2-18 6z"/>
<path class="c145" d="M2161 2171l18 11-14-13-18-11z"/>
<path class="c140" d="M3162 2181l18-12-14 4-18 12z"/>
<path class="c86" d="M2981 2307l18-16-14 6-18 17z"/>
<path class="c32" d="M2800 2429l18-10-13 5-18 11z"/>
<path class="c155" d="M2129 2147l18 11-13-13-18-10z"/>
<path class="c165" d="M2098 2124l18 11-14-13-18-10z"/>
<path class="c69" d="M2932 2345l18-15-14 7-18 15z"/>
<path class="c15" d="M2637 2469l18 0-13-1-18 0z"/>
<path class="c128" d="M3112 2212l18-14-13 4-18 15z"/>
<path class="c54" d="M2882 2381l18-14-14 7-18 14z"/>
<path class="c24" d="M2751 2451l18-7-14 4-18 7z"/>
<path class="c113" d="M3063 2246l18-15-14 6-18 15z"/>
<path class="c148" d="M3194 2165l18-10-14 3-18 11z"/>
<path class="c16" d="M2669 2469l18-2-14 0-18 2z"/>
<path class="c51" d="M2429 2390l18 10-14-11-18-11z"/>
<path class="c42" d="M2461 2410l18 10-14-10-18-10z"/>
<path class="c41" d="M2832 2413l18-12-14 6-18 12z"/>
<path class="c61" d="M2397 2367l18 11-14-12-18-11z"/>
<path class="c34" d="M2492 2428l18 8-13-8-18-8z"/>
<path class="c72" d="M2365 2343l18 12-13-14-18-12z"/>
<path class="c97" d="M3013 2284l18-16-14 7-18 16z"/>
<path class="c28" d="M2524 2443l18 7-14-7-18-7z"/>
<path class="c83" d="M2334 2317l18 12-14-14-18-12z"/>
<path class="c81" d="M2963 2322l18-15-14 7-17 16z"/>
<path class="c95" d="M2302 2290l18 13-14-14-18-13z"/>
<path class="c23" d="M2556 2455l18 5-14-5-18-5z"/>
<path class="c137" d="M3144 2193l18-12-14 4-18 13z"/>
<path class="c107" d="M2270 2263l18 13-14-14-18-13z"/>
<path class="c31" d="M2782 2438l18-9-13 6-18 9z"/>
<path class="c19" d="M2701 2464l18-4-14 3-18 4z"/>
<path class="c65" d="M2914 2359l18-14-14 7-18 15z"/>
<path class="c119" d="M2238 2237l18 12-13-14-18-13z"/>
<path class="c20" d="M2588 2463l18 3-14-3-18-3z"/>
<path class="c156" d="M3226 2151l18-10-14 4-18 10z"/>
<path class="c130" d="M2207 2210l18 12-14-14-18-12z"/>
<path class="c123" d="M3094 2226l18-14-13 5-18 14z"/>
<path class="c142" d="M2175 2185l18 11-14-14-18-11z"/>
<path class="c51" d="M2864 2394l18-13-14 7-18 13z"/>
<path class="c153" d="M2143 2160l18 11-14-13-18-11z"/>
<path class="c163" d="M2111 2136l18 11-13-12-18-11z"/>
<path class="c19" d="M2620 2468l17 1-13-1-18-2z"/>
<path class="c108" d="M3045 2262l18-16-14 6-18 16z"/>
<path class="c24" d="M2733 2457l18-6-14 4-18 5z"/>
<path class="c146" d="M3176 2177l18-12-14 4-18 12z"/>
<path class="c38" d="M2814 2423l18-10-14 6-18 10z"/>
<path class="c92" d="M2995 2299l18-15-14 7-18 16z"/>
<path class="c19" d="M2651 2469l18 0-14 0-18 0z"/>
<path class="c76" d="M2945 2337l18-15-13 8-18 15z"/>
<path class="c133" d="M3126 2207l18-14-14 5-18 14z"/>
<path class="c50" d="M2443 2400l18 10-14-10-18-10z"/>
<path class="c59" d="M2411 2378l18 12-14-12-18-11z"/>
<path class="c41" d="M2475 2419l17 9-13-8-18-10z"/>
<path class="c61" d="M2896 2373l18-14-14 8-18 14z"/>
<path class="c69" d="M2379 2355l18 12-14-12-18-12z"/>
<path class="c29" d="M2764 2446l18-8-13 6-18 7z"/>
<path class="c34" d="M2506 2435l18 8-14-7-18-8z"/>
<path class="c80" d="M2348 2330l17 13-13-14-18-12z"/>
<path class="c21" d="M2683 2467l18-3-14 3-18 2z"/>
<path class="c119" d="M3077 2240l17-14-13 5-18 15z"/>
<path class="c154" d="M3208 2161l18-10-14 4-18 10z"/>
<path class="c92" d="M2316 2304l18 13-14-14-18-13z"/>
<path class="c29" d="M2538 2448l18 7-14-5-18-7z"/>
<path class="c48" d="M2846 2405l18-11-14 7-18 12z"/>
<path class="c103" d="M2284 2277l18 13-14-14-18-13z"/>
<path class="c104" d="M3027 2277l18-15-14 6-18 16z"/>
<path class="c115" d="M2252 2251l18 12-14-14-18-12z"/>
<path class="c25" d="M2570 2459l18 4-14-3-18-5z"/>
<path class="c127" d="M2221 2224l17 13-13-15-18-12z"/>
<path class="c142" d="M3158 2189l18-12-14 4-18 12z"/>
<path class="c88" d="M2977 2314l18-15-14 8-18 15z"/>
<path class="c139" d="M2189 2198l18 12-14-14-18-11z"/>
<path class="c24" d="M2715 2461l18-4-14 3-18 4z"/>
<path class="c150" d="M2157 2173l18 12-14-14-18-11z"/>
<path class="c22" d="M2602 2465l18 3-14-2-18-3z"/>
<path class="c37" d="M2796 2432l18-9-14 6-18 9z"/>
<path class="c161" d="M2125 2148l18 12-14-13-18-11z"/>
<path class="c72" d="M2927 2351l18-14-13 8-18 14z"/>
<path class="c161" d="M3239 2147l18-10-13 4-18 10z"/>
<path class="c129" d="M3108 2220l18-13-14 5-18 14z"/>
<path class="c22" d="M2633 2468l18 1-14 0-17-1z"/>
<path class="c58" d="M2878 2386l18-13-14 8-18 13z"/>
<path class="c115" d="M3059 2255l18-15-14 6-18 16z"/>
<path class="c29" d="M2747 2452l17-6-13 5-18 6z"/>
<path class="c151" d="M3190 2172l18-11-14 4-18 12z"/>
<path class="c45" d="M2828 2416l18-11-14 8-18 10z"/>
<path class="c99" d="M3009 2292l18-15-14 7-18 15z"/>
<path class="c23" d="M2665 2468l18-1-14 2-18 0z"/>
<path class="c58" d="M2425 2388l18 12-14-10-18-12z"/>
<path class="c49" d="M2457 2408l18 11-14-9-18-10z"/>
<path class="c67" d="M2393 2366l18 12-14-11-18-12z"/>
<path class="c41" d="M2488 2426l18 9-14-7-17-9z"/>
<path class="c78" d="M2361 2342l18 13-14-12-17-13z"/>
<path class="c83" d="M2959 2329l18-15-14 8-18 15z"/>
<path class="c89" d="M2330 2317l18 13-14-13-18-13z"/>
<path class="c139" d="M3140 2201l18-12-14 4-18 14z"/>
<path class="c35" d="M2520 2441l18 7-14-5-18-8z"/>
<path class="c101" d="M2298 2290l18 14-14-14-18-13z"/>
<path class="c30" d="M2552 2452l18 7-14-4-18-7z"/>
<path class="c36" d="M2778 2440l18-8-14 6-18 8z"/>
<path class="c68" d="M2909 2365l18-14-13 8-18 14z"/>
<path class="c112" d="M2266 2264l18 13-14-14-18-12z"/>
<path class="c25" d="M2697 2464l18-3-14 3-18 3z"/>
<path class="c159" d="M3221 2157l18-10-13 4-18 10z"/>
<path class="c124" d="M2234 2237l18 14-14-14-17-13z"/>
<path class="c126" d="M3090 2234l18-14-14 6-17 14z"/>
<path class="c136" d="M2203 2211l18 13-14-14-18-12z"/>
<path class="c27" d="M2584 2461l18 4-14-2-18-4z"/>
<path class="c55" d="M2860 2397l18-11-14 8-18 11z"/>
<path class="c147" d="M2171 2185l18 13-14-13-18-12z"/>
<path class="c158" d="M2139 2160l18 13-14-13-18-12z"/>
<path class="c111" d="M3041 2269l18-14-14 7-18 15z"/>
<path class="c148" d="M3172 2184l18-12-14 5-18 12z"/>
<path class="c25" d="M2615 2466l18 2-13 0-18-3z"/>
<path class="c30" d="M2729 2457l18-5-14 5-18 4z"/>
<path class="c95" d="M2991 2306l18-14-14 7-18 15z"/>
<path class="c43" d="M2810 2425l18-9-14 7-18 9z"/>
<path class="c167" d="M3253 2142l18-10-14 5-18 10z"/>
<path class="c79" d="M2941 2343l18-14-14 8-18 14z"/>
<path class="c136" d="M3122 2214l18-13-14 6-18 13z"/>
<path class="c26" d="M2647 2467l18 1-14 1-18-1z"/>
<path class="c65" d="M2892 2377l17-12-13 8-18 13z"/>
<path class="c57" d="M2439 2397l18 11-14-8-18-12z"/>
<path class="c66" d="M2407 2376l18 12-14-10-18-12z"/>
<path class="c121" d="M3072 2248l18-14-13 6-18 15z"/>
<path class="c35" d="M2760 2446l18-6-14 6-17 6z"/>
<path class="c49" d="M2470 2416l18 10-13-7-18-11z"/>
<path class="c76" d="M2375 2353l18 13-14-11-18-13z"/>
<path class="c157" d="M3204 2168l17-11-13 4-18 11z"/>
<path class="c87" d="M2343 2328l18 14-13-12-18-13z"/>
<path class="c42" d="M2502 2432l18 9-14-6-18-9z"/>
<path class="c27" d="M2679 2465l18-1-14 3-18 1z"/>
<path class="c98" d="M2312 2303l18 14-14-13-18-14z"/>
<path class="c52" d="M2842 2408l18-11-14 8-18 11z"/>
<path class="c106" d="M3023 2284l18-15-14 8-18 15z"/>
<path class="c36" d="M2534 2445l18 7-14-4-18-7z"/>
<path class="c110" d="M2280 2277l18 13-14-13-18-13z"/>
<path class="c121" d="M2248 2250l18 14-14-13-18-14z"/>
<path class="c145" d="M3154 2196l18-12-14 5-18 12z"/>
<path class="c91" d="M2973 2320l18-14-14 8-18 15z"/>
<path class="c32" d="M2566 2455l18 6-14-2-18-7z"/>
<path class="c133" d="M2216 2224l18 13-13-13-18-13z"/>
<path class="c144" d="M2185 2198l18 13-14-13-18-13z"/>
<path class="c42" d="M2792 2433l18-8-14 7-18 8z"/>
<path class="c31" d="M2711 2460l18-3-14 4-18 3z"/>
<path class="c156" d="M2153 2172l18 13-14-12-18-13z"/>
<path class="c76" d="M2923 2356l18-13-14 8-18 14z"/>
<path class="c165" d="M3235 2152l18-10-14 5-18 10z"/>
<path class="c30" d="M2597 2462l18 4-13-1-18-4z"/>
<path class="c132" d="M3104 2227l18-13-14 6-18 14z"/>
<path class="c62" d="M2874 2389l18-12-14 9-18 11z"/>
<path class="c117" d="M3054 2262l18-14-13 7-18 14z"/>
<path class="c29" d="M2629 2465l18 2-14 1-18-2z"/>
<path class="c154" d="M3186 2179l18-11-14 4-18 12z"/>
<path class="c35" d="M2742 2451l18-5-13 6-18 5z"/>
<path class="c102" d="M3005 2298l18-14-14 8-18 14z"/>
<path class="c50" d="M2824 2417l18-9-14 8-18 9z"/>
<path class="c173" d="M3267 2136l18-9-14 5-18 10z"/>
<path class="c30" d="M2661 2465l18 0-14 3-18-1z"/>
<path class="c87" d="M2955 2334l18-14-14 9-18 14z"/>
<path class="c65" d="M2421 2385l18 12-14-9-18-12z"/>
<path class="c142" d="M3136 2208l18-12-14 5-18 13z"/>
<path class="c56" d="M2452 2405l18 11-13-8-18-11z"/>
<path class="c74" d="M2389 2363l18 13-14-10-18-13z"/>
<path class="c85" d="M2357 2339l18 14-14-11-18-14z"/>
<path class="c49" d="M2484 2422l18 10-14-6-18-10z"/>
<path class="c96" d="M2325 2315l18 13-13-11-18-14z"/>
<path class="c43" d="M2516 2437l18 8-14-4-18-9z"/>
<path class="c107" d="M2294 2289l18 14-14-13-18-13z"/>
<path class="c73" d="M2905 2368l18-12-14 9-17 12z"/>
<path class="c128" d="M3086 2241l18-14-14 7-18 14z"/>
<path class="c42" d="M2774 2439l18-6-14 7-18 6z"/>
<path class="c162" d="M3217 2162l18-10-14 5-17 11z"/>
<path class="c119" d="M2262 2263l18 14-14-13-18-14z"/>
<path class="c38" d="M2548 2448l18 7-14-3-18-7z"/>
<path class="c32" d="M2693 2461l18-1-14 4-18 1z"/>
<path class="c130" d="M2230 2236l18 14-14-13-18-13z"/>
<path class="c142" d="M2198 2210l18 14-13-13-18-13z"/>
<path class="c113" d="M3036 2276l18-14-13 7-18 15z"/>
<path class="c60" d="M2856 2399l18-10-14 8-18 11z"/>
<path class="c35" d="M2579 2457l18 5-13-1-18-6z"/>
<path class="c153" d="M2167 2184l18 14-14-13-18-13z"/>
<path class="c151" d="M3168 2190l18-11-14 5-18 12z"/>
<path class="c98" d="M2987 2311l18-13-14 8-18 14z"/>
<path class="c33" d="M2611 2462l18 3-14 1-18-4z"/>
<path class="c36" d="M2724 2454l18-3-13 6-18 3z"/>
<path class="c49" d="M2806 2425l18-8-14 8-18 8z"/>
<path class="c171" d="M3249 2146l18-10-14 6-18 10z"/>
<path class="c84" d="M2937 2347l18-13-14 9-18 13z"/>
<path class="c138" d="M3118 2221l18-13-14 6-18 13z"/>
<path class="c33" d="M2643 2463l18 2-14 2-18-2z"/>
<path class="c70" d="M2887 2380l18-12-13 9-18 12z"/>
<path class="c124" d="M3068 2254l18-13-14 7-18 14z"/>
<path class="c160" d="M3199 2173l18-11-13 6-18 11z"/>
<path class="c42" d="M2756 2444l18-5-14 7-18 5z"/>
<path class="c74" d="M2403 2372l18 13-14-9-18-13z"/>
<path class="c65" d="M2434 2393l18 12-13-8-18-12z"/>
<path class="c83" d="M2371 2349l18 14-14-10-18-14z"/>
<path class="c57" d="M2466 2411l18 11-14-6-18-11z"/>
<path class="c110" d="M3019 2289l17-13-13 8-18 14z"/>
<path class="c94" d="M2339 2325l18 14-14-11-18-13z"/>
<path class="c50" d="M2498 2427l18 10-14-5-18-10z"/>
<path class="c58" d="M2838 2408l18-9-14 9-18 9z"/>
<path class="c35" d="M2675 2461l18 0-14 4-18 0z"/>
<path class="c105" d="M2307 2300l18 15-13-12-18-14z"/>
<path class="c116" d="M2276 2275l18 14-14-12-18-14z"/>
<path class="c148" d="M3150 2202l18-12-14 6-18 12z"/>
<path class="c45" d="M2530 2440l18 8-14-3-18-8z"/>
<path class="c95" d="M2969 2324l18-13-14 9-18 14z"/>
<path class="c128" d="M2244 2248l18 15-14-13-18-14z"/>
<path class="c140" d="M2212 2222l18 14-14-12-18-14z"/>
<path class="c41" d="M2562 2450l17 7-13-2-18-7z"/>
<path class="c151" d="M2180 2196l18 14-13-12-18-14z"/>
<path class="c80" d="M2919 2359l18-12-14 9-18 12z"/>
<path class="c168" d="M3231 2156l18-10-14 6-18 10z"/>
<path class="c135" d="M3100 2233l18-12-14 6-18 14z"/>
<path class="c49" d="M2788 2432l18-7-14 8-18 6z"/>
<path class="c38" d="M2706 2456l18-2-13 6-18 1z"/>
<path class="c38" d="M2593 2457l18 5-14 0-18-5z"/>
<path class="c121" d="M3050 2267l18-13-14 8-18 14z"/>
<path class="c67" d="M2869 2390l18-10-13 9-18 10z"/>
<path class="c157" d="M3181 2184l18-11-13 6-18 11z"/>
<path class="c37" d="M2625 2460l18 3-14 2-18-3z"/>
<path class="c106" d="M3001 2302l18-13-14 9-18 13z"/>
<path class="c43" d="M2738 2448l18-4-14 7-18 3z"/>
<path class="c57" d="M2820 2416l18-8-14 9-18 8z"/>
<path class="c145" d="M3132 2214l18-12-14 6-18 13z"/>
<path class="c91" d="M2951 2337l18-13-14 10-18 13z"/>
<path class="c38" d="M2657 2460l18 1-14 4-18-2z"/>
<path class="c73" d="M2417 2380l17 13-13-8-18-13z"/>
<path class="c83" d="M2385 2358l18 14-14-9-18-14z"/>
<path class="c65" d="M2448 2399l18 12-14-6-18-12z"/>
<path class="c93" d="M2353 2335l18 14-14-10-18-14z"/>
<path class="c58" d="M2480 2416l18 11-14-5-18-11z"/>
<path class="c132" d="M3082 2246l18-13-14 8-18 13z"/>
<path class="c103" d="M2321 2311l18 14-14-10-18-15z"/>
<path class="c78" d="M2901 2370l18-11-14 9-18 12z"/>
<path class="c166" d="M3213 2167l18-11-14 6-18 11z"/>
<path class="c115" d="M2290 2286l17 14-13-11-18-14z"/>
<path class="c51" d="M2512 2431l18 9-14-3-18-10z"/>
<path class="c49" d="M2770 2437l18-5-14 7-18 5z"/>
<path class="c126" d="M2258 2260l18 15-14-12-18-15z"/>
<path class="c117" d="M3032 2280l18-13-14 9-17 13z"/>
<path class="c137" d="M2226 2234l18 14-14-12-18-14z"/>
<path class="c47" d="M2544 2442l18 8-14-2-18-8z"/>
<path class="c41" d="M2689 2457l17-1-13 5-18 0z"/>
<path class="c66" d="M2851 2399l18-9-13 9-18 9z"/>
<path class="c149" d="M2194 2208l18 14-14-12-18-14z"/>
<path class="c154" d="M3163 2195l18-11-13 6-18 12z"/>
<path class="c44" d="M2575 2450l18 7-14 0-17-7z"/>
<path class="c103" d="M2983 2315l18-13-14 9-18 13z"/>
<path class="c142" d="M3114 2226l18-12-14 7-18 12z"/>
<path class="c89" d="M2933 2348l18-11-14 10-18 12z"/>
<path class="c44" d="M2720 2450l18-2-14 6-18 2z"/>
<path class="c56" d="M2802 2423l18-7-14 9-18 7z"/>
<path class="c42" d="M2607 2455l18 5-14 2-18-5z"/>
<path class="c128" d="M3064 2258l18-12-14 8-18 13z"/>
<path class="c76" d="M2883 2380l18-10-14 10-18 10z"/>
<path class="c164" d="M3195 2177l18-10-14 6-18 11z"/>
<path class="c42" d="M2639 2457l18 3-14 3-18-3z"/>
<path class="c114" d="M3014 2293l18-13-13 9-18 13z"/>
<path class="c50" d="M2752 2440l18-3-14 7-18 4z"/>
<path class="c82" d="M2399 2366l18 14-14-8-18-14z"/>
<path class="c73" d="M2430 2386l18 13-14-6-17-13z"/>
<path class="c92" d="M2367 2344l18 14-14-9-18-14z"/>
<path class="c66" d="M2462 2405l18 11-14-5-18-12z"/>
<path class="c65" d="M2834 2407l17-8-13 9-18 8z"/>
<path class="c102" d="M2335 2321l18 14-14-10-18-14z"/>
<path class="c152" d="M3146 2206l17-11-13 7-18 12z"/>
<path class="c113" d="M2303 2296l18 15-14-11-17-14z"/>
<path class="c59" d="M2494 2420l18 11-14-4-18-11z"/>
<path class="c44" d="M2671 2456l18 1-14 4-18-1z"/>
<path class="c100" d="M2965 2327l18-12-14 9-18 13z"/>
<path class="c124" d="M2272 2271l18 15-14-11-18-15z"/>
<path class="c54" d="M2526 2433l18 9-14-2-18-9z"/>
<path class="c136" d="M2240 2245l18 15-14-12-18-14z"/>
<path class="c139" d="M3096 2238l18-12-14 7-18 13z"/>
<path class="c147" d="M2208 2219l18 15-14-12-18-14z"/>
<path class="c86" d="M2915 2359l18-11-14 11-18 11z"/>
<path class="c50" d="M2557 2443l18 7-13 0-18-8z"/>
<path class="c56" d="M2784 2428l18-5-14 9-18 5z"/>
<path class="c47" d="M2702 2451l18-1-14 6-17 1z"/>
<path class="c125" d="M3046 2271l18-13-14 9-18 13z"/>
<path class="c47" d="M2589 2450l18 5-14 2-18-7z"/>
<path class="c74" d="M2865 2389l18-9-14 10-18 9z"/>
<path class="c161" d="M3177 2188l18-11-14 7-18 11z"/>
<path class="c111" d="M2996 2304l18-11-13 9-18 13z"/>
<path class="c47" d="M2621 2453l18 4-14 3-18-5z"/>
<path class="c149" d="M3128 2218l18-12-14 8-18 12z"/>
<path class="c51" d="M2734 2443l18-3-14 8-18 2z"/>
<path class="c64" d="M2816 2413l18-6-14 9-18 7z"/>
<path class="c97" d="M2947 2338l18-11-14 10-18 11z"/>
<path class="c136" d="M3078 2249l18-11-14 8-18 12z"/>
<path class="c47" d="M2653 2453l18 3-14 4-18-3z"/>
<path class="c82" d="M2412 2373l18 13-13-6-18-14z"/>
<path class="c91" d="M2381 2352l18 14-14-8-18-14z"/>
<path class="c84" d="M2897 2369l18-10-14 11-18 10z"/>
<path class="c74" d="M2444 2392l18 13-14-6-18-13z"/>
<path class="c101" d="M2349 2329l18 15-14-9-18-14z"/>
<path class="c112" d="M2317 2305l18 16-14-10-18-15z"/>
<path class="c67" d="M2476 2409l18 11-14-4-18-11z"/>
<path class="c123" d="M2285 2281l18 15-13-10-18-15z"/>
<path class="c122" d="M3028 2282l18-11-14 9-18 13z"/>
<path class="c57" d="M2766 2432l18-4-14 9-18 3z"/>
<path class="c61" d="M2508 2423l18 10-14-2-18-11z"/>
<path class="c134" d="M2254 2255l18 16-14-11-18-15z"/>
<path class="c145" d="M2222 2229l18 16-14-11-18-15z"/>
<path class="c159" d="M3159 2198l18-10-14 7-17 11z"/>
<path class="c73" d="M2847 2396l18-7-14 10-17 8z"/>
<path class="c50" d="M2684 2450l18 1-13 6-18-1z"/>
<path class="c57" d="M2539 2434l18 9-13-1-18-9z"/>
<path class="c108" d="M2978 2316l18-12-13 11-18 12z"/>
<path class="c53" d="M2571 2442l18 8-14 0-18-7z"/>
<path class="c146" d="M3110 2229l18-11-14 8-18 12z"/>
<path class="c95" d="M2929 2348l18-10-14 10-18 11z"/>
<path class="c64" d="M2798 2419l18-6-14 10-18 5z"/>
<path class="c53" d="M2716 2444l18-1-14 7-18 1z"/>
<path class="c52" d="M2603 2447l18 6-14 2-18-5z"/>
<path class="c133" d="M3060 2261l18-12-14 9-18 13z"/>
<path class="c82" d="M2879 2378l18-9-14 11-18 9z"/>
<path class="c119" d="M3010 2294l18-12-14 11-18 11z"/>
<path class="c52" d="M2635 2449l18 4-14 4-18-4z"/>
<path class="c157" d="M3141 2209l18-11-13 8-18 12z"/>
<path class="c58" d="M2748 2435l18-3-14 8-18 3z"/>
<path class="c72" d="M2829 2403l18-7-13 11-18 6z"/>
<path class="c92" d="M2394 2359l18 14-13-7-18-14z"/>
<path class="c101" d="M2363 2337l18 15-14-8-18-15z"/>
<path class="c83" d="M2426 2379l18 13-14-6-18-13z"/>
<path class="c106" d="M2961 2326l17-10-13 11-18 11z"/>
<path class="c111" d="M2331 2314l18 15-14-8-18-16z"/>
<path class="c75" d="M2458 2396l18 13-14-4-18-13z"/>
<path class="c122" d="M2299 2290l18 15-14-9-18-15z"/>
<path class="c53" d="M2666 2448l18 2-13 6-18-3z"/>
<path class="c69" d="M2490 2412l18 11-14-3-18-11z"/>
<path class="c133" d="M2267 2265l18 16-13-10-18-16z"/>
<path class="c144" d="M3092 2240l18-11-14 9-18 11z"/>
<path class="c144" d="M2236 2239l18 16-14-10-18-16z"/>
<path class="c64" d="M2521 2424l18 10-13-1-18-10z"/>
<path class="c93" d="M2911 2357l18-9-14 11-18 10z"/>
<path class="c65" d="M2780 2423l18-4-14 9-18 4z"/>
<path class="c130" d="M3042 2272l18-11-14 10-18 11z"/>
<path class="c60" d="M2553 2434l18 8-14 1-18-9z"/>
<path class="c56" d="M2698 2443l18 1-14 7-18-1z"/>
<path class="c81" d="M2861 2385l18-7-14 11-18 7z"/>
<path class="c58" d="M2585 2441l18 6-14 3-18-8z"/>
<path class="c117" d="M2992 2304l18-10-14 10-18 12z"/>
<path class="c154" d="M3123 2219l18-10-13 9-18 11z"/>
<path class="c103" d="M2943 2336l18-10-14 12-18 10z"/>
<path class="c57" d="M2617 2444l18 5-14 4-18-6z"/>
<path class="c60" d="M2730 2436l18-1-14 8-18 1z"/>
<path class="c72" d="M2811 2408l18-5-13 10-18 6z"/>
<path class="c141" d="M3074 2250l18-10-14 9-18 12z"/>
<path class="c91" d="M2893 2366l18-9-14 12-18 9z"/>
<path class="c57" d="M2648 2444l18 4-13 5-18-4z"/>
<path class="c101" d="M2377 2344l17 15-13-7-18-15z"/>
<path class="c92" d="M2408 2364l18 15-14-6-18-14z"/>
<path class="c111" d="M2345 2321l18 16-14-8-18-15z"/>
<path class="c84" d="M2440 2383l18 13-14-4-18-13z"/>
<path class="c128" d="M3024 2282l18-10-14 10-18 12z"/>
<path class="c121" d="M2313 2298l18 16-14-9-18-15z"/>
<path class="c77" d="M2472 2399l18 13-14-3-18-13z"/>
<path class="c132" d="M2281 2274l18 16-14-9-18-16z"/>
<path class="c66" d="M2762 2425l18-2-14 9-18 3z"/>
<path class="c143" d="M2249 2248l18 17-13-10-18-16z"/>
<path class="c71" d="M2504 2413l17 11-13-1-18-11z"/>
<path class="c81" d="M2843 2391l18-6-14 11-18 7z"/>
<path class="c115" d="M2974 2314l18-10-14 12-17 10z"/>
<path class="c59" d="M2680 2441l18 2-14 7-18-2z"/>
<path class="c67" d="M2535 2424l18 10-14 0-18-10z"/>
<path class="c152" d="M3106 2229l17-10-13 10-18 11z"/>
<path class="c102" d="M2925 2345l18-9-14 12-18 9z"/>
<path class="c64" d="M2567 2432l18 9-14 1-18-8z"/>
<path class="c73" d="M2793 2412l18-4-13 11-18 4z"/>
<path class="c139" d="M3056 2261l18-11-14 11-18 11z"/>
<path class="c63" d="M2712 2435l18 1-14 8-18-1z"/>
<path class="c62" d="M2599 2438l18 6-14 3-18-6z"/>
<path class="c90" d="M2875 2373l18-7-14 12-18 7z"/>
<path class="c126" d="M3006 2292l18-10-14 12-18 10z"/>
<path class="c62" d="M2631 2439l17 5-13 5-18-5z"/>
<path class="c68" d="M2744 2427l18-2-14 10-18 1z"/>
<path class="c113" d="M2956 2324l18-10-13 12-18 10z"/>
<path class="c81" d="M2825 2397l18-6-14 12-18 5z"/>
<path class="c102" d="M2390 2349l18 15-14-5-17-15z"/>
<path class="c111" d="M2359 2328l18 16-14-7-18-16z"/>
<path class="c93" d="M2422 2369l18 14-14-4-18-15z"/>
<path class="c121" d="M2327 2305l18 16-14-7-18-16z"/>
<path class="c150" d="M3088 2239l18-10-14 11-18 10z"/>
<path class="c86" d="M2454 2386l18 13-14-3-18-13z"/>
<path class="c132" d="M2295 2281l18 17-14-8-18-16z"/>
<path class="c63" d="M2662 2438l18 3-14 7-18-4z"/>
<path class="c143" d="M2263 2257l18 17-14-9-18-17z"/>
<path class="c80" d="M2486 2401l18 12-14-1-18-13z"/>
<path class="c101" d="M2907 2353l18-8-14 12-18 9z"/>
<path class="c75" d="M2517 2414l18 10-14 0-17-11z"/>
<path class="c137" d="M3038 2270l18-9-14 11-18 10z"/>
<path class="c74" d="M2776 2415l17-3-13 11-18 2z"/>
<path class="c71" d="M2549 2423l18 9-14 2-18-10z"/>
<path class="c66" d="M2694 2434l18 1-14 8-18-2z"/>
<path class="c90" d="M2857 2379l18-6-14 12-18 6z"/>
<path class="c124" d="M2988 2302l18-10-14 12-18 10z"/>
<path class="c68" d="M2581 2430l18 8-14 3-18-9z"/>
<path class="c111" d="M2938 2332l18-8-13 12-18 9z"/>
<path class="c82" d="M2807 2401l18-4-14 11-18 4z"/>
<path class="c68" d="M2613 2433l18 6-14 5-18-6z"/>
<path class="c148" d="M3070 2248l18-9-14 11-18 11z"/>
<path class="c71" d="M2726 2427l18 0-14 9-18-1z"/>
<path class="c100" d="M2889 2360l18-7-14 13-18 7z"/>
<path class="c135" d="M3020 2280l18-10-14 12-18 10z"/>
<path class="c68" d="M2644 2434l18 4-14 6-17-5z"/>
<path class="c112" d="M2372 2333l18 16-13-5-18-16z"/>
<path class="c103" d="M2404 2354l18 15-14-5-18-15z"/>
<path class="c122" d="M2341 2312l18 16-14-7-18-16z"/>
<path class="c95" d="M2436 2372l18 14-14-3-18-14z"/>
<path class="c132" d="M2309 2288l18 17-14-7-18-17z"/>
<path class="c142" d="M2277 2264l18 17-14-7-18-17z"/>
<path class="c88" d="M2468 2388l18 13-14-2-18-13z"/>
<path class="c76" d="M2758 2416l18-1-14 10-18 2z"/>
<path class="c122" d="M2970 2310l18-8-14 12-18 10z"/>
<path class="c90" d="M2839 2384l18-5-14 12-18 6z"/>
<path class="c83" d="M2499 2402l18 12-13-1-18-12z"/>
<path class="c70" d="M2676 2431l18 3-14 7-18-3z"/>
<path class="c78" d="M2531 2413l18 10-14 1-18-10z"/>
<path class="c110" d="M2920 2340l18-8-13 13-18 8z"/>
<path class="c146" d="M3052 2257l18-9-14 13-18 9z"/>
<path class="c75" d="M2563 2421l18 9-14 2-18-9z"/>
<path class="c83" d="M2789 2404l18-3-14 11-17 3z"/>
<path class="c74" d="M2708 2425l18 2-14 8-18-1z"/>
<path class="c100" d="M2871 2366l18-6-14 13-18 6z"/>
<path class="c74" d="M2595 2426l18 7-14 5-18-8z"/>
<path class="c134" d="M3002 2288l18-8-14 12-18 10z"/>
<path class="c73" d="M2626 2428l18 6-13 5-18-6z"/>
<path class="c121" d="M2952 2318l18-8-14 14-18 8z"/>
<path class="c79" d="M2740 2417l18-1-14 11-18 0z"/>
<path class="c91" d="M2821 2388l18-4-14 13-18 4z"/>
<path class="c113" d="M2386 2338l18 16-14-5-18-16z"/>
<path class="c122" d="M2354 2317l18 16-13-5-18-16z"/>
<path class="c132" d="M2323 2294l18 18-14-7-18-17z"/>
<path class="c105" d="M2418 2357l18 15-14-3-18-15z"/>
<path class="c143" d="M2291 2271l18 17-14-7-18-17z"/>
<path class="c98" d="M2450 2374l18 14-14-2-18-14z"/>
<path class="c110" d="M2903 2346l17-6-13 13-18 7z"/>
<path class="c75" d="M2658 2427l18 4-14 7-18-4z"/>
<path class="c91" d="M2481 2389l18 13-13-1-18-13z"/>
<path class="c145" d="M3034 2266l18-9-14 13-18 10z"/>
<path class="c86" d="M2513 2401l18 12-14 1-18-12z"/>
<path class="c85" d="M2771 2405l18-1-13 11-18 1z"/>
<path class="c132" d="M2984 2296l18-8-14 14-18 8z"/>
<path class="c100" d="M2853 2371l18-5-14 13-18 5z"/>
<path class="c83" d="M2545 2411l18 10-14 2-18-10z"/>
<path class="c78" d="M2690 2423l18 2-14 9-18-3z"/>
<path class="c80" d="M2577 2417l18 9-14 4-18-9z"/>
<path class="c120" d="M2934 2325l18-7-14 14-18 8z"/>
<path class="c92" d="M2803 2391l18-3-14 13-18 3z"/>
<path class="c82" d="M2722 2415l18 2-14 10-18-2z"/>
<path class="c79" d="M2608 2421l18 7-13 5-18-7z"/>
<path class="c109" d="M2885 2352l18-6-14 14-18 6z"/>
<path class="c144" d="M3016 2274l18-8-14 14-18 8z"/>
<path class="c80" d="M2640 2421l18 6-14 7-18-6z"/>
<path class="c124" d="M2368 2321l18 17-14-5-18-16z"/>
<path class="c133" d="M2336 2299l18 18-13-5-18-18z"/>
<path class="c115" d="M2400 2341l18 16-14-3-18-16z"/>
<path class="c143" d="M2305 2276l18 18-14-6-18-17z"/>
<path class="c107" d="M2432 2359l18 15-14-2-18-15z"/>
<path class="c131" d="M2966 2304l18-8-14 14-18 8z"/>
<path class="c87" d="M2753 2405l18 0-13 11-18 1z"/>
<path class="c100" d="M2463 2375l18 14-13-1-18-14z"/>
<path class="c101" d="M2835 2375l18-4-14 13-18 4z"/>
<path class="c95" d="M2495 2388l18 13-14 1-18-13z"/>
<path class="c82" d="M2672 2419l18 4-14 8-18-4z"/>
<path class="c91" d="M2527 2399l18 12-14 2-18-12z"/>
<path class="c120" d="M2916 2332l18-7-14 15-17 6z"/>
<path class="c87" d="M2559 2407l18 10-14 4-18-10z"/>
<path class="c94" d="M2785 2393l18-2-14 13-18 1z"/>
<path class="c85" d="M2704 2413l18 2-14 10-18-2z"/>
<path class="c143" d="M2998 2281l18-7-14 14-18 8z"/>
<path class="c110" d="M2867 2357l18-5-14 14-18 5z"/>
<path class="c86" d="M2591 2412l17 9-13 5-18-9z"/>
<path class="c131" d="M2948 2310l18-6-14 14-18 7z"/>
<path class="c86" d="M2622 2414l18 7-14 7-18-7z"/>
<path class="c102" d="M2817 2378l18-3-14 13-18 3z"/>
<path class="c90" d="M2735 2404l18 1-13 12-18-2z"/>
<path class="c135" d="M2350 2303l18 18-14-4-18-18z"/>
<path class="c126" d="M2382 2324l18 17-14-3-18-17z"/>
<path class="c144" d="M2319 2281l17 18-13-5-18-18z"/>
<path class="c117" d="M2414 2343l18 16-14-2-18-16z"/>
<path class="c120" d="M2898 2337l18-5-13 14-18 6z"/>
<path class="c110" d="M2446 2360l17 15-13-1-18-15z"/>
<path class="c87" d="M2654 2413l18 6-14 8-18-6z"/>
<path class="c104" d="M2477 2375l18 13-14 1-18-14z"/>
<path class="c99" d="M2509 2387l18 12-14 2-18-13z"/>
<path class="c96" d="M2767 2393l18 0-14 12-18 0z"/>
<path class="c142" d="M2980 2287l18-6-14 15-18 8z"/>
<path class="c111" d="M2849 2360l18-3-14 14-18 4z"/>
<path class="c95" d="M2541 2396l18 11-14 4-18-12z"/>
<path class="c90" d="M2686 2409l18 4-14 10-18-4z"/>
<path class="c131" d="M2930 2316l18-6-14 15-18 7z"/>
<path class="c93" d="M2573 2403l18 9-14 5-18-10z"/>
<path class="c104" d="M2799 2379l18-1-14 13-18 2z"/>
<path class="c94" d="M2718 2402l17 2-13 11-18-2z"/>
<path class="c92" d="M2604 2406l18 8-14 7-17-9z"/>
<path class="c120" d="M2880 2341l18-4-13 15-18 5z"/>
<path class="c93" d="M2636 2407l18 6-14 8-18-7z"/>
<path class="c137" d="M2364 2306l18 18-14-3-18-18z"/>
<path class="c146" d="M2332 2284l18 19-14-4-17-18z"/>
<path class="c128" d="M2396 2326l18 17-14-2-18-17z"/>
<path class="c142" d="M2962 2293l18-6-14 17-18 6z"/>
<path class="c120" d="M2428 2344l18 16-14-1-18-16z"/>
<path class="c99" d="M2749 2392l18 1-14 12-18-1z"/>
<path class="c112" d="M2831 2363l18-3-14 15-18 3z"/>
<path class="c114" d="M2459 2360l18 15-14 0-17-15z"/>
<path class="c108" d="M2491 2373l18 14-14 1-18-13z"/>
<path class="c94" d="M2668 2404l18 5-14 10-18-6z"/>
<path class="c131" d="M2912 2321l18-5-14 16-18 5z"/>
<path class="c104" d="M2523 2384l18 12-14 3-18-12z"/>
<path class="c106" d="M2781 2380l18-1-14 14-18 0z"/>
<path class="c101" d="M2555 2392l18 11-14 4-18-11z"/>
<path class="c121" d="M2862 2345l18-4-13 16-18 3z"/>
<path class="c98" d="M2700 2399l18 3-14 11-18-4z"/>
<path class="c99" d="M2586 2397l18 9-13 6-18-9z"/>
<path class="c142" d="M2944 2298l18-5-14 17-18 6z"/>
<path class="c99" d="M2618 2399l18 8-14 7-18-8z"/>
<path class="c114" d="M2813 2365l18-2-14 15-18 1z"/>
<path class="c103" d="M2731 2390l18 2-14 12-17-2z"/>
<path class="c132" d="M2894 2325l18-4-14 16-18 4z"/>
<path class="c148" d="M2346 2287l18 19-14-3-18-19z"/>
<path class="c139" d="M2378 2307l18 19-14-2-18-18z"/>
<path class="c131" d="M2410 2327l18 17-14-1-18-17z"/>
<path class="c124" d="M2441 2344l18 16-13 0-18-16z"/>
<path class="c100" d="M2650 2398l18 6-14 9-18-6z"/>
<path class="c118" d="M2473 2358l18 15-14 2-18-15z"/>
<path class="c109" d="M2763 2379l18 1-14 13-18-1z"/>
<path class="c113" d="M2505 2371l18 13-14 3-18-14z"/>
<path class="c123" d="M2845 2347l17-2-13 15-18 3z"/>
<path class="c109" d="M2537 2380l18 12-14 4-18-12z"/>
<path class="c103" d="M2682 2394l18 5-14 10-18-5z"/>
<path class="c143" d="M2926 2303l18-5-14 18-18 5z"/>
<path class="c106" d="M2568 2387l18 10-13 6-18-11z"/>
<path class="c116" d="M2795 2365l18 0-14 14-18 1z"/>
<path class="c107" d="M2713 2387l18 3-13 12-18-3z"/>
<path class="c106" d="M2600 2390l18 9-14 7-18-9z"/>
<path class="c133" d="M2876 2328l18-3-14 16-18 4z"/>
<path class="c106" d="M2632 2391l18 7-14 9-18-8z"/>
<path class="c151" d="M2360 2288l18 19-14-1-18-19z"/>
<path class="c142" d="M2392 2308l18 19-14-1-18-19z"/>
<path class="c112" d="M2745 2377l18 2-14 13-18-2z"/>
<path class="c134" d="M2423 2326l18 18-13 0-18-17z"/>
<path class="c125" d="M2827 2349l18-2-14 16-18 2z"/>
<path class="c128" d="M2455 2342l18 16-14 2-18-16z"/>
<path class="c122" d="M2487 2356l18 15-14 2-18-15z"/>
<path class="c144" d="M2908 2306l18-3-14 18-18 4z"/>
<path class="c108" d="M2664 2388l18 6-14 10-18-6z"/>
<path class="c118" d="M2519 2367l18 13-14 4-18-13z"/>
<path class="c119" d="M2777 2364l18 1-14 15-18-1z"/>
<path class="c115" d="M2550 2375l18 12-13 5-18-12z"/>
<path class="c134" d="M2858 2330l18-2-14 17-17 2z"/>
<path class="c111" d="M2695 2383l18 4-13 12-18-5z"/>
<path class="c113" d="M2582 2380l18 10-14 7-18-10z"/>
<path class="c127" d="M2809 2349l18 0-14 16-18 0z"/>
<path class="c113" d="M2614 2382l18 9-14 8-18-9z"/>
<path class="c116" d="M2727 2374l18 3-14 13-18-3z"/>
<path class="c145" d="M2890 2309l18-3-14 19-18 3z"/>
<path class="c154" d="M2374 2288l18 20-14-1-18-19z"/>
<path class="c146" d="M2405 2307l18 19-13 1-18-19z"/>
<path class="c138" d="M2437 2325l18 17-14 2-18-18z"/>
<path class="c114" d="M2646 2381l18 7-14 10-18-7z"/>
<path class="c132" d="M2469 2340l18 16-14 2-18-16z"/>
<path class="c122" d="M2759 2363l18 1-14 15-18-2z"/>
<path class="c127" d="M2501 2352l18 15-14 4-18-15z"/>
<path class="c136" d="M2840 2331l18-1-13 17-18 2z"/>
<path class="c117" d="M2677 2377l18 6-13 11-18-6z"/>
<path class="c123" d="M2533 2362l17 13-13 5-18-13z"/>
<path class="c121" d="M2564 2368l18 12-14 7-18-12z"/>
<path class="c130" d="M2791 2348l18 1-14 16-18-1z"/>
<path class="c121" d="M2709 2370l18 4-14 13-18-4z"/>
<path class="c147" d="M2872 2311l18-2-14 19-18 2z"/>
<path class="c120" d="M2596 2372l18 10-14 8-18-10z"/>
<path class="c120" d="M2628 2373l18 8-14 10-18-9z"/>
<path class="c126" d="M2741 2360l18 3-14 14-18-3z"/>
<path class="c139" d="M2822 2331l18 0-13 18-18 0z"/>
<path class="c158" d="M2388 2287l17 20-13 1-18-20z"/>
<path class="c150" d="M2419 2306l18 19-14 1-18-19z"/>
<path class="c143" d="M2451 2322l18 18-14 2-18-17z"/>
<path class="c137" d="M2483 2336l18 16-14 4-18-16z"/>
<path class="c122" d="M2660 2370l17 7-13 11-18-7z"/>
<path class="c133" d="M2515 2347l18 15-14 5-18-15z"/>
<path class="c133" d="M2773 2347l18 1-14 16-18-1z"/>
<path class="c130" d="M2546 2356l18 12-14 7-17-13z"/>
<path class="c149" d="M2854 2312l18-1-14 19-18 1z"/>
<path class="c126" d="M2691 2365l18 5-14 13-18-6z"/>
<path class="c128" d="M2578 2361l18 11-14 8-18-12z"/>
<path class="c141" d="M2804 2331l18 0-13 18-18-1z"/>
<path class="c128" d="M2610 2363l18 10-14 9-18-10z"/>
<path class="c131" d="M2723 2356l18 4-14 14-18-4z"/>
<path class="c162" d="M2401 2285l18 21-14 1-17-20z"/>
<path class="c129" d="M2642 2362l18 8-14 11-18-8z"/>
<path class="c155" d="M2433 2303l18 19-14 3-18-19z"/>
<path class="c148" d="M2465 2318l18 18-14 4-18-18z"/>
<path class="c137" d="M2755 2344l18 3-14 16-18-3z"/>
<path class="c151" d="M2836 2312l18 0-14 19-18 0z"/>
<path class="c143" d="M2497 2331l18 16-14 5-18-16z"/>
<path class="c131" d="M2673 2358l18 7-14 12-17-7z"/>
<path class="c139" d="M2528 2341l18 15-13 6-18-15z"/>
<path class="c136" d="M2560 2348l18 13-14 7-18-12z"/>
<path class="c145" d="M2787 2329l17 2-13 17-18-1z"/>
<path class="c136" d="M2705 2351l18 5-14 14-18-5z"/>
<path class="c135" d="M2592 2352l18 11-14 9-18-11z"/>
<path class="c136" d="M2624 2353l18 9-14 11-18-10z"/>
<path class="c141" d="M2737 2340l18 4-14 16-18-4z"/>
<path class="c154" d="M2818 2312l18 0-14 19-18 0z"/>
<path class="c167" d="M2415 2282l18 21-14 3-18-21z"/>
<path class="c160" d="M2447 2299l18 19-14 4-18-19z"/>
<path class="c138" d="M2655 2350l18 8-13 12-18-8z"/>
<path class="c154" d="M2479 2313l18 18-14 5-18-18z"/>
<path class="c149" d="M2510 2325l18 16-13 6-18-16z"/>
<path class="c149" d="M2769 2327l18 2-14 18-18-3z"/>
<path class="c146" d="M2542 2334l18 14-14 8-18-15z"/>
<path class="c141" d="M2687 2344l18 7-14 14-18-7z"/>
<path class="c144" d="M2574 2340l18 12-14 9-18-13z"/>
<path class="c157" d="M2800 2310l18 2-14 19-17-2z"/>
<path class="c146" d="M2719 2335l18 5-14 16-18-5z"/>
<path class="c143" d="M2606 2342l18 11-14 10-18-11z"/>
<path class="c145" d="M2637 2341l18 9-13 12-18-9z"/>
<path class="c172" d="M2429 2278l18 21-14 4-18-21z"/>
<path class="c165" d="M2461 2294l18 19-14 5-18-19z"/>
<path class="c153" d="M2751 2323l18 4-14 17-18-4z"/>
<path class="c160" d="M2492 2307l18 18-13 6-18-18z"/>
<path class="c147" d="M2669 2337l18 7-14 14-18-8z"/>
<path class="c156" d="M2524 2318l18 16-14 7-18-16z"/>
<path class="c153" d="M2556 2325l18 15-14 8-18-14z"/>
<path class="c161" d="M2782 2307l18 3-13 19-18-2z"/>
<path class="c152" d="M2701 2329l18 6-14 16-18-7z"/>
<path class="c152" d="M2588 2330l18 12-14 10-18-12z"/>
<path class="c152" d="M2619 2331l18 10-13 12-18-11z"/>
<path class="c158" d="M2733 2318l18 5-14 17-18-5z"/>
<path class="c178" d="M2443 2273l18 21-14 5-18-21z"/>
<path class="c154" d="M2651 2328l18 9-14 13-18-9z"/>
<path class="c172" d="M2475 2288l17 19-13 6-18-19z"/>
<path class="c167" d="M2506 2300l18 18-14 7-18-18z"/>
<path class="c165" d="M2764 2304l18 3-13 20-18-4z"/>
<path class="c163" d="M2538 2310l18 15-14 9-18-16z"/>
<path class="c158" d="M2683 2322l18 7-14 15-18-7z"/>
<path class="c161" d="M2570 2316l18 14-14 10-18-15z"/>
<path class="c163" d="M2715 2313l18 5-14 17-18-6z"/>
<path class="c160" d="M2602 2318l17 13-13 11-18-12z"/>
<path class="c161" d="M2633 2318l18 10-14 13-18-10z"/>
<path class="c170" d="M2746 2299l18 5-13 19-18-5z"/>
<path class="c185" d="M2457 2266l18 22-14 6-18-21z"/>
<path class="c178" d="M2488 2281l18 19-14 7-17-19z"/>
<path class="c164" d="M2665 2313l18 9-14 15-18-9z"/>
<path class="c174" d="M2520 2292l18 18-14 8-18-18z"/>
<path class="c171" d="M2552 2300l18 16-14 9-18-15z"/>
<path class="c169" d="M2697 2305l18 8-14 16-18-7z"/>
<path class="c169" d="M2584 2305l18 13-14 12-18-14z"/>
<path class="c170" d="M2615 2306l18 12-14 13-17-13z"/>
<path class="c175" d="M2729 2294l17 5-13 19-18-5z"/>
<path class="c172" d="M2647 2303l18 10-14 15-18-10z"/>
<path class="c191" d="M2470 2259l18 22-13 7-18-22z"/>
<path class="c186" d="M2502 2272l18 20-14 8-18-19z"/>
<path class="c182" d="M2534 2282l18 18-14 10-18-18z"/>
<path class="c175" d="M2679 2297l18 8-14 17-18-9z"/>
<path class="c179" d="M2566 2289l18 16-14 11-18-16z"/>
<path class="c181" d="M2711 2287l18 7-14 19-18-8z"/>
<path class="c179" d="M2597 2292l18 14-13 12-18-13z"/>
<path class="c180" d="M2629 2292l18 11-14 15-18-12z"/>
<path class="c199" d="M2484 2250l18 22-14 9-18-22z"/>
<path class="c182" d="M2661 2287l18 10-14 16-18-10z"/>
<path class="c194" d="M2516 2263l18 19-14 10-18-20z"/>
<path class="c190" d="M2548 2272l18 17-14 11-18-18z"/>
<path class="c187" d="M2693 2279l18 8-14 18-18-8z"/>
<path class="c188" d="M2579 2277l18 15-13 13-18-16z"/>
<path class="c188" d="M2611 2279l18 13-14 14-18-14z"/>
<path class="c190" d="M2643 2276l18 11-14 16-18-11z"/>
<path class="c207" d="M2498 2240l18 23-14 9-18-22z"/>
<path class="c194" d="M2675 2270l18 9-14 18-18-10z"/>
<path class="c202" d="M2530 2252l18 20-14 10-18-19z"/>
<path class="c199" d="M2561 2260l18 17-13 12-18-17z"/>
<path class="c198" d="M2593 2263l18 16-14 13-18-15z"/>
<path class="c199" d="M2625 2263l18 13-14 16-18-13z"/>
<path class="c202" d="M2657 2259l18 11-14 17-18-11z"/>
<path class="c215" d="M2512 2229l18 23-14 11-18-23z"/>
<path class="c211" d="M2544 2240l17 20-13 12-18-20z"/>
<path class="c209" d="M2575 2246l18 17-14 14-18-17z"/>
<path class="c209" d="M2607 2248l18 15-14 16-18-16z"/>
<path class="c210" d="M2639 2246l18 13-14 17-18-13z"/>
<path class="c224" d="M2526 2217l18 23-14 12-18-23z"/>
<path class="c221" d="M2557 2226l18 20-14 14-17-20z"/>
<path class="c219" d="M2589 2231l18 17-14 15-18-17z"/>
<path class="c220" d="M2621 2231l18 15-14 17-18-15z"/>
<path class="c234" d="M2539 2204l18 22-13 14-18-23z"/>
<path class="c231" d="M2571 2211l18 20-14 15-18-20z"/>
<path class="c230" d="M2603 2214l18 17-14 17-18-17z"/>
<path class="c244" d="M2553 2189l18 22-14 15-18-22z"/>
<path class="c242" d="M2585 2195l18 19-14 17-18-20z"/>
<path class="c255" d="M2567 2172l18 23-14 16-18-22z"/>
</g>
<line x1="1283.50" y1="1371.60" x2="1642.50" y2="1263.50" stroke="#262626" stroke-width="1.10"/>
<line x1="1283.50" y1="1371.60" x2="1007.40" y2="1231.00" stroke="#262626" stroke-width="1.10"/>
<line x1="1007.40" y1="1231.00" x2="1007.40" y2="924.60" stroke="#262626" stroke-width="1.10"/>
<line x1="1283.50" y1="1371.60" x2="1292.41" y2="1376.14" stroke="#262626" stroke-width="1.10"/>
<line x1="1373.25" y1="1344.58" x2="1382.16" y2="1349.11" stroke="#262626" stroke-width="1.10"/>
<line x1="1463.00" y1="1317.55" x2="1471.91" y2="1322.09" stroke="#262626" stroke-width="1.10"/>
<line x1="1552.75" y1="1290.52" x2="1561.66" y2="1295.06" stroke="#262626" stroke-width="1.10"/>
<line x1="1642.50" y1="1263.50" x2="1651.41" y2="1268.04" stroke="#262626" stroke-width="1.10"/>
<line x1="1283.50" y1="1371.60" x2="1273.92" y2="1374.48" stroke="#262626" stroke-width="1.10"/>
<line x1="1214.48" y1="1336.45" x2="1204.90" y2="1339.33" stroke="#262626" stroke-width="1.10"/>
<line x1="1145.45" y1="1301.30" x2="1135.87" y2="1304.18" stroke="#262626" stroke-width="1.10"/>
<line x1="1076.42" y1="1266.15" x2="1066.85" y2="1269.03" stroke="#262626" stroke-width="1.10"/>
<line x1="1007.40" y1="1231.00" x2="997.82" y2="1233.88" stroke="#262626" stroke-width="1.10"/>
<line x1="1007.40" y1="1231.00" x2="998.49" y2="1226.46" stroke="#262626" stroke-width="1.10"/>
<line x1="1007.40" y1="1154.40" x2="998.49" y2="1149.86" stroke="#262626" stroke-width="1.10"/>
<line x1="1007.40" y1="1077.80" x2="998.49" y2="1073.26" stroke="#262626" stroke-width="1.10"/>
<line x1="1007.40" y1="1001.20" x2="998.49" y2="996.66" stroke="#262626" stroke-width="1.10"/>
<line x1="1007.40" y1="924.60" x2="998.49" y2="920.06" stroke="#262626" stroke-width="1.10"/>
<g font-family='"Liberation Sans", Arial, Helvetica, sans-serif' font-size="20.0" fill="#262626">
<text x="1299.0" y="1400.6">-1</text>
<text x="1388.8" y="1373.6">-0.5</text>
<text x="1478.5" y="1346.5">0</text>
<text x="1568.2" y="1319.5">0.5</text>
<text x="1658.0" y="1292.5">1</text>
<text x="1266.0" y="1397.6" text-anchor="end">-1</text>
<text x="1197.0" y="1362.5" text-anchor="end">-0.5</text>
<text x="1128.0" y="1327.3" text-anchor="end">0</text>
<text x="1058.9" y="1292.1" text-anchor="end">0.5</text>
<text x="989.9" y="1257.0" text-anchor="end">1</text>
<text x="992.5" y="1231.4" text-anchor="end">0</text>
<text x="992.5" y="1154.8" text-anchor="end">0.5</text>
<text x="992.5" y="1078.2" text-anchor="end">1</text>
<text x="992.5" y="1001.6" text-anchor="end">1.5</text>
<text x="992.5" y="925.0" text-anchor="end">2</text>
</g>
<g font-family='"Liberation Serif", "Times New Roman", serif' font-size="35.5" fill="#000"><text x="1198.8" y="1498.0">(d)</text><text x="1253.4" y="1498.0">QLSLDMR</text></g>
</svg>
</body></html>
